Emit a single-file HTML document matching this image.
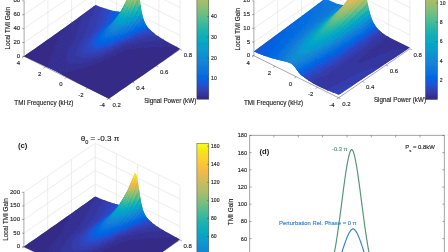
<!DOCTYPE html>
<html><head><meta charset="utf-8"><style>
html,body{margin:0;padding:0;background:#fff;overflow:hidden}
svg{display:block}
</style></head><body>
<svg width="448" height="252" viewBox="0 0 448 252" style="font-family:'Liberation Sans',Arial,Helvetica,sans-serif">
<defs><filter id="soft" x="0" y="0" width="100%" height="100%"><feGaussianBlur stdDeviation="0.35"/></filter></defs>
<rect width="448" height="252" fill="#fff"/>
<g filter="url(#soft)">
<line x1="24.1" y1="42.5" x2="95.4" y2="-6.6" stroke="#dedede" stroke-width="0.55"/>
<line x1="95.4" y1="-6.6" x2="180.1" y2="35.5" stroke="#dedede" stroke-width="0.55"/>
<line x1="24.1" y1="28.6" x2="95.4" y2="-20.5" stroke="#dedede" stroke-width="0.55"/>
<line x1="95.4" y1="-20.5" x2="180.1" y2="21.6" stroke="#dedede" stroke-width="0.55"/>
<line x1="24.1" y1="14.7" x2="95.4" y2="-34.4" stroke="#dedede" stroke-width="0.55"/>
<line x1="95.4" y1="-34.4" x2="180.1" y2="7.7" stroke="#dedede" stroke-width="0.55"/>
<line x1="24.1" y1="0.8" x2="95.4" y2="-48.3" stroke="#dedede" stroke-width="0.55"/>
<line x1="95.4" y1="-48.3" x2="180.1" y2="-6.2" stroke="#dedede" stroke-width="0.55"/>
<line x1="47.9" y1="40" x2="47.9" y2="-15.6" stroke="#dedede" stroke-width="0.55"/>
<line x1="71.6" y1="23.7" x2="71.6" y2="-32" stroke="#dedede" stroke-width="0.55"/>
<line x1="95.4" y1="7.3" x2="95.4" y2="-48.3" stroke="#dedede" stroke-width="0.55"/>
<line x1="116.6" y1="17.8" x2="116.6" y2="-37.8" stroke="#dedede" stroke-width="0.55"/>
<line x1="137.8" y1="28.4" x2="137.8" y2="-27.3" stroke="#dedede" stroke-width="0.55"/>
<line x1="158.9" y1="38.9" x2="158.9" y2="-16.8" stroke="#dedede" stroke-width="0.55"/>
<line x1="180.1" y1="49.4" x2="180.1" y2="-6.2" stroke="#dedede" stroke-width="0.55"/>
<path fill="#3637a0" d="M95.4 5.1 98 6 95.1 8.3 92.4 7.3Z"/>
<path fill="#353dad" d="M96.7 5.6 103.3 7.9 100.4 10.2 93.8 7.8Z"/>
<path fill="#3243ba" d="M102 7.5 107.3 9.1 104.3 11.5 99 9.8Z"/>
<path fill="#2c4ac7" d="M106 8.7 111.3 10.3 108.3 12.7 103 11.1Z"/>
<path fill="#2053d4" d="M110 9.9 115.3 11.2 112.3 13.8 107 12.3Z"/>
<path fill="#0f5cdd" d="M113.9 10.9 117.9 11.6 114.9 14.3 111 13.4Z"/>
<path fill="#0363e1" d="M116.6 11.4 119.2 11.8 116.3 14.5 113.6 14Z"/>
<path fill="#0268e1" d="M117.9 11.6 120.5 11.9 121.9 12 118.9 14.8 117.6 14.7 114.9 14.3Z"/>
<path fill="#046de0" d="M120.5 11.9 121.9 12 123.2 11.9 120.2 14.7 118.9 14.8 117.6 14.7Z"/>
<path fill="#0871de" d="M121.9 12 123.2 11.9 124.5 11.6 121.5 14.4 120.2 14.7 118.9 14.8Z"/>
<path fill="#0d75dc" d="M123.2 11.9 124.5 11.6 125.8 10.9 122.9 13.6 121.5 14.4 120.2 14.7Z"/>
<path fill="#1079da" d="M124.5 11.6 125.8 10.9 127.2 9.5 124.2 11.9 122.9 13.6 121.5 14.4Z"/>
<path fill="#1485d4" d="M125.8 10.9 127.2 9.5 128.5 6.7 125.5 9.1 124.2 11.9 122.9 13.6Z"/>
<path fill="#0c93d2" d="M127.2 9.5 128.5 6.7 129.8 2 126.8 4.9 125.5 9.1 124.2 11.9Z"/>
<path fill="#07a9c2" d="M128.5 6.7 129.8 2 131.1 -4.7 128.2 -0.5 126.8 4.9 125.5 9.1Z"/>
<path fill="#42bb98" d="M129.8 2 131.1 -4.7 132.5 -12.5 129.5 -6.1 126.8 4.9Z"/>
<path fill="#aebe67" d="M131.1 -4.7 132.5 -12.5 133.8 -19.3 130.8 -10.5 129.5 -6.1 128.2 -0.5Z"/>
<path fill="#f8bb44" d="M132.5 -12.5 133.8 -19.3 135.1 -22.7 132.1 -12.3 130.8 -10.5 129.5 -6.1Z"/>
<path fill="#f5de21" d="M133.8 -19.3 135.1 -22.7 136.4 -21.1 133.5 -10.4 132.1 -12.3 130.8 -10.5Z"/>
<path fill="#f5eb18" d="M135.1 -22.7 136.4 -21.1 137.8 -14.7 134.8 -5.2 133.5 -10.4 132.1 -12.3Z"/>
<path fill="#fad32a" d="M136.4 -21.1 137.8 -14.7 139.1 -5.7 136.1 2 134.8 -5.2 133.5 -10.4Z"/>
<path fill="#d9ba56" d="M137.8 -14.7 140.4 3.7 137.4 9.6 134.8 -5.2Z"/>
<path fill="#7cbf7b" d="M139.1 -5.7 140.4 3.7 141.7 11.7 138.7 16.2 137.4 9.6 136.1 2Z"/>
<path fill="#15b1b4" d="M140.4 3.7 141.7 11.7 143 17.5 140.1 21.4 138.7 16.2 137.4 9.6Z"/>
<path fill="#0998d1" d="M141.7 11.7 143 17.5 144.4 21.6 141.4 25 140.1 21.4 138.7 16.2Z"/>
<path fill="#127dd8" d="M143 17.5 144.4 21.6 145.7 24.3 142.7 27.6 141.4 25 140.1 21.4Z"/>
<path fill="#0871de" d="M144.4 21.6 145.7 24.3 147 26.3 144 29.5 142.7 27.6 141.4 25Z"/>
<path fill="#0268e1" d="M145.7 24.3 147 26.3 148.3 28 145.4 31 144 29.5 142.7 27.6Z"/>
<path fill="#0f5cdd" d="M147 26.3 148.3 28 149.7 29.4 146.7 32.3 145.4 31 144 29.5Z"/>
<path fill="#2053d4" d="M148.3 28 151 30.6 148 33.5 145.4 31Z"/>
<path fill="#2c4ac7" d="M149.7 29.4 151 30.6 153.6 32.9 150.7 35.5 148 33.5 146.7 32.3Z"/>
<path fill="#3243ba" d="M152.3 31.8 155 33.9 152 36.5 149.3 34.5Z"/>
<path fill="#353dad" d="M153.6 32.9 156.3 34.9 158.9 36.7 156 39.1 153.3 37.4 150.7 35.5Z"/>
<path fill="#3637a0" d="M157.6 35.8 160.2 37.6 164.2 40 161.2 42.3 157.3 40 154.6 38.3Z"/>
<path fill="#363093" d="M162.9 39.2 169.5 43 177.5 47.3 174.5 49.5 166.5 45.3 159.9 41.5Z"/>
<path fill="#352a87" d="M176.1 46.6 180.1 48.7 177.1 50.9 173.2 48.8Z"/>
<path fill="#3637a0" d="M93.9 6.2 96.6 7.2 93.6 9.4 90.9 8.4Z"/>
<path fill="#353dad" d="M95.2 6.7 103.2 9.5 100.2 11.8 92.3 8.9Z"/>
<path fill="#3243ba" d="M101.9 9.1 107.1 10.7 104.2 13.2 98.9 11.4Z"/>
<path fill="#2c4ac7" d="M105.8 10.3 111.1 11.8 108.1 14.3 102.9 12.7Z"/>
<path fill="#2053d4" d="M109.8 11.5 113.8 12.5 110.8 15 106.8 14Z"/>
<path fill="#0f5cdd" d="M112.4 12.2 116.4 13 113.4 15.6 109.5 14.7Z"/>
<path fill="#0363e1" d="M115.1 12.7 119.1 13.3 116.1 16.1 112.1 15.3Z"/>
<path fill="#0268e1" d="M117.7 13.2 120.4 13.4 121.7 13.3 118.7 16.1 117.4 16.2 114.8 15.9Z"/>
<path fill="#046de0" d="M120.4 13.4 121.7 13.3 123 13 120.1 15.7 118.7 16.1 117.4 16.2Z"/>
<path fill="#0871de" d="M121.7 13.3 123 13 124.4 12.3 121.4 14.8 120.1 15.7 118.7 16.1Z"/>
<path fill="#1079da" d="M123 13 124.4 12.3 125.7 10.7 122.7 13.1 121.4 14.8 120.1 15.7Z"/>
<path fill="#1481d6" d="M124.4 12.3 125.7 10.7 127 7.8 124 10.4 122.7 13.1 121.4 14.8Z"/>
<path fill="#0c93d2" d="M125.7 10.7 127 7.8 128.3 3.3 125.4 6.5 124 10.4 122.7 13.1Z"/>
<path fill="#07a9c2" d="M127 7.8 128.3 3.3 129.6 -2.7 126.7 1.8 125.4 6.5 124 10.4Z"/>
<path fill="#38b99e" d="M128.3 3.3 129.6 -2.7 131 -9.3 128 -2.9 125.4 6.5Z"/>
<path fill="#9cbf6f" d="M129.6 -2.7 131 -9.3 132.3 -14.8 129.3 -6.4 128 -2.9 126.7 1.8Z"/>
<path fill="#e1b952" d="M131 -9.3 132.3 -14.8 133.6 -17.3 130.6 -7.5 129.3 -6.4 128 -2.9Z"/>
<path fill="#ffc337" d="M132.3 -14.8 133.6 -17.3 134.9 -15.6 132 -5.7 130.6 -7.5 129.3 -6.4Z"/>
<path fill="#fec832" d="M133.6 -17.3 134.9 -15.6 136.3 -9.8 133.3 -0.9 132 -5.7 130.6 -7.5Z"/>
<path fill="#f1b94a" d="M134.9 -15.6 136.3 -9.8 137.6 -1.8 134.6 5.5 133.3 -0.9 132 -5.7Z"/>
<path fill="#b7bd64" d="M136.3 -9.8 138.9 6.6 135.9 12.4 133.3 -0.9Z"/>
<path fill="#4dbc92" d="M137.6 -1.8 138.9 6.6 140.2 14 137.3 18.5 135.9 12.4 134.6 5.5Z"/>
<path fill="#0aacbe" d="M138.9 6.6 140.2 14 141.6 19.5 138.6 23.2 137.3 18.5 135.9 12.4Z"/>
<path fill="#108ed2" d="M140.2 14 141.6 19.5 142.9 23.3 139.9 26.7 138.6 23.2 137.3 18.5Z"/>
<path fill="#1079da" d="M141.6 19.5 142.9 23.3 144.2 26 141.2 29.2 139.9 26.7 138.6 23.2Z"/>
<path fill="#046de0" d="M142.9 23.3 144.2 26 145.5 27.9 142.6 31 141.2 29.2 139.9 26.7Z"/>
<path fill="#0363e1" d="M144.2 26 145.5 27.9 146.9 29.5 143.9 32.5 142.6 31 141.2 29.2Z"/>
<path fill="#2053d4" d="M145.5 27.9 146.9 29.5 148.2 30.8 145.2 33.7 143.9 32.5 142.6 31Z"/>
<path fill="#2c4ac7" d="M146.9 29.5 148.2 30.8 150.8 33.2 147.9 35.8 145.2 33.7 143.9 32.5Z"/>
<path fill="#3243ba" d="M149.5 32.1 150.8 33.2 153.5 35.2 150.5 37.7 146.5 34.8Z"/>
<path fill="#353dad" d="M152.1 34.2 156.1 37.1 153.1 39.5 149.2 36.8Z"/>
<path fill="#3637a0" d="M154.8 36.2 157.4 37.9 161.4 40.4 158.4 42.7 154.5 40.3 151.8 38.6Z"/>
<path fill="#363093" d="M160.1 39.6 165.4 42.7 173.3 47 170.3 49.2 162.4 44.9 157.1 41.9Z"/>
<path fill="#352a87" d="M172 46.3 178.6 49.8 175.6 52 169 48.5Z"/>
<path fill="#3637a0" d="M92.4 7.3 96.4 8.8 93.4 11.1 89.5 9.5Z"/>
<path fill="#353dad" d="M95.1 8.3 101.7 10.7 98.7 13 92.1 10.6Z"/>
<path fill="#3243ba" d="M100.4 10.2 107 12.3 104 14.8 97.4 12.5Z"/>
<path fill="#2c4ac7" d="M105.7 12 111 13.4 108 15.9 102.7 14.3Z"/>
<path fill="#2053d4" d="M109.6 13.1 113.6 14 110.6 16.6 106.7 15.6Z"/>
<path fill="#0f5cdd" d="M112.3 13.8 116.3 14.5 113.3 17.2 109.3 16.3Z"/>
<path fill="#0363e1" d="M114.9 14.3 117.6 14.7 118.9 14.8 115.9 17.5 114.6 17.4 112 16.9Z"/>
<path fill="#0268e1" d="M117.6 14.7 118.9 14.8 120.2 14.7 117.3 17.4 115.9 17.5 114.6 17.4Z"/>
<path fill="#046de0" d="M118.9 14.8 120.2 14.7 121.5 14.4 118.6 17 117.3 17.4 115.9 17.5Z"/>
<path fill="#0871de" d="M120.2 14.7 121.5 14.4 122.9 13.6 119.9 16.1 118.6 17 117.3 17.4Z"/>
<path fill="#1079da" d="M121.5 14.4 122.9 13.6 124.2 11.9 121.2 14.4 119.9 16.1 118.6 17Z"/>
<path fill="#1481d6" d="M122.9 13.6 124.2 11.9 125.5 9.1 122.5 11.8 121.2 14.4 119.9 16.1Z"/>
<path fill="#0c93d2" d="M124.2 11.9 125.5 9.1 126.8 4.9 123.9 8.3 122.5 11.8 121.2 14.4Z"/>
<path fill="#06a7c6" d="M125.5 9.1 126.8 4.9 128.2 -0.5 125.2 4.2 123.9 8.3 122.5 11.8Z"/>
<path fill="#2eb7a4" d="M126.8 4.9 129.5 -6.1 126.5 0.3 123.9 8.3Z"/>
<path fill="#7cbf7b" d="M128.2 -0.5 129.5 -6.1 130.8 -10.5 127.8 -2.4 126.5 0.3 125.2 4.2Z"/>
<path fill="#c0bc60" d="M129.5 -6.1 130.8 -10.5 132.1 -12.3 129.2 -3.2 127.8 -2.4 126.5 0.3Z"/>
<path fill="#e9b94e" d="M130.8 -10.5 132.1 -12.3 133.5 -10.4 134.8 -5.2 131.8 3.1 130.5 -1.3 129.2 -3.2 127.8 -2.4Z"/>
<path fill="#d1bb59" d="M133.5 -10.4 134.8 -5.2 136.1 2 133.1 8.9 131.8 3.1 130.5 -1.3Z"/>
<path fill="#92bf73" d="M134.8 -5.2 137.4 9.6 134.5 15.1 131.8 3.1Z"/>
<path fill="#38b99e" d="M136.1 2 137.4 9.6 138.7 16.2 135.8 20.7 134.5 15.1 133.1 8.9Z"/>
<path fill="#06a7c6" d="M137.4 9.6 138.7 16.2 140.1 21.4 137.1 25.1 135.8 20.7 134.5 15.1Z"/>
<path fill="#1389d3" d="M138.7 16.2 140.1 21.4 141.4 25 138.4 28.4 137.1 25.1 135.8 20.7Z"/>
<path fill="#0d75dc" d="M140.1 21.4 141.4 25 142.7 27.6 139.7 30.7 138.4 28.4 137.1 25.1Z"/>
<path fill="#0268e1" d="M141.4 25 142.7 27.6 144 29.5 141.1 32.5 139.7 30.7 138.4 28.4Z"/>
<path fill="#0f5cdd" d="M142.7 27.6 144 29.5 145.4 31 142.4 33.9 141.1 32.5 139.7 30.7Z"/>
<path fill="#2053d4" d="M144 29.5 145.4 31 146.7 32.3 143.7 35.1 142.4 33.9 141.1 32.5Z"/>
<path fill="#2c4ac7" d="M145.4 31 148 33.5 145 36.1 142.4 33.9Z"/>
<path fill="#3243ba" d="M146.7 32.3 148 33.5 150.7 35.5 147.7 38.1 145 36.1 143.7 35.1Z"/>
<path fill="#353dad" d="M149.3 34.5 153.3 37.4 150.3 39.9 146.4 37.1Z"/>
<path fill="#3637a0" d="M152 36.5 154.6 38.3 158.6 40.8 155.6 43.1 151.7 40.7 149 39Z"/>
<path fill="#363093" d="M157.3 40 162.6 43.1 170.5 47.4 167.5 49.6 159.6 45.3 154.3 42.3Z"/>
<path fill="#352a87" d="M169.2 46.7 177.1 50.9 174.2 53 166.2 48.9Z"/>
<path fill="#3637a0" d="M90.9 8.4 96.2 10.4 93.3 12.7 88 10.6Z"/>
<path fill="#353dad" d="M94.9 9.9 101.5 12.3 98.6 14.6 91.9 12.2Z"/>
<path fill="#3243ba" d="M100.2 11.8 105.5 13.6 102.5 16 97.2 14.2Z"/>
<path fill="#2c4ac7" d="M104.2 13.2 109.5 14.7 106.5 17.2 101.2 15.5Z"/>
<path fill="#2053d4" d="M108.1 14.3 113.4 15.6 110.5 18.2 105.2 16.8Z"/>
<path fill="#0f5cdd" d="M112.1 15.3 116.1 16.1 113.1 18.7 111.8 18.5 109.1 17.9Z"/>
<path fill="#0363e1" d="M114.8 15.9 117.4 16.2 114.4 18.8 113.1 18.7 111.8 18.5Z"/>
<path fill="#0268e1" d="M116.1 16.1 117.4 16.2 118.7 16.1 120.1 15.7 117.1 18.3 115.8 18.7 114.4 18.8 113.1 18.7Z"/>
<path fill="#0871de" d="M118.7 16.1 120.1 15.7 121.4 14.8 118.4 17.3 117.1 18.3 115.8 18.7Z"/>
<path fill="#0d75dc" d="M120.1 15.7 121.4 14.8 122.7 13.1 119.7 15.7 118.4 17.3 117.1 18.3Z"/>
<path fill="#1481d6" d="M121.4 14.8 122.7 13.1 124 10.4 121.1 13.2 119.7 15.7 118.4 17.3Z"/>
<path fill="#0c93d2" d="M122.7 13.1 124 10.4 125.4 6.5 122.4 10.1 121.1 13.2 119.7 15.7Z"/>
<path fill="#06a7c6" d="M124 10.4 125.4 6.5 126.7 1.8 123.7 6.6 122.4 10.1 121.1 13.2Z"/>
<path fill="#25b5a9" d="M125.4 6.5 128 -2.9 125 3.4 123.7 6.6 122.4 10.1Z"/>
<path fill="#65be86" d="M126.7 1.8 128 -2.9 129.3 -6.4 126.4 1.3 125 3.4 123.7 6.6Z"/>
<path fill="#a5be6b" d="M128 -2.9 129.3 -6.4 130.6 -7.5 127.7 0.9 126.4 1.3 125 3.4Z"/>
<path fill="#c0bc60" d="M129.3 -6.4 130.6 -7.5 132 -5.7 129 2.8 127.7 0.9 126.4 1.3Z"/>
<path fill="#c8bc5d" d="M130.6 -7.5 132 -5.7 133.3 -0.9 130.3 6.9 129 2.8 127.7 0.9Z"/>
<path fill="#a5be6b" d="M132 -5.7 133.3 -0.9 134.6 5.5 131.6 12.1 130.3 6.9 129 2.8Z"/>
<path fill="#65be86" d="M133.3 -0.9 135.9 12.4 133 17.7 130.3 6.9Z"/>
<path fill="#1db3af" d="M134.6 5.5 135.9 12.4 137.3 18.5 134.3 22.8 133 17.7 131.6 12.1Z"/>
<path fill="#06a0cd" d="M135.9 12.4 137.3 18.5 138.6 23.2 135.6 26.9 134.3 22.8 133 17.7Z"/>
<path fill="#1485d4" d="M137.3 18.5 138.6 23.2 139.9 26.7 136.9 30 135.6 26.9 134.3 22.8Z"/>
<path fill="#0871de" d="M138.6 23.2 139.9 26.7 141.2 29.2 138.3 32.2 136.9 30 135.6 26.9Z"/>
<path fill="#0363e1" d="M139.9 26.7 141.2 29.2 142.6 31 139.6 33.9 138.3 32.2 136.9 30Z"/>
<path fill="#0f5cdd" d="M141.2 29.2 142.6 31 143.9 32.5 140.9 35.3 139.6 33.9 138.3 32.2Z"/>
<path fill="#2c4ac7" d="M142.6 31 143.9 32.5 145.2 33.7 142.2 36.4 140.9 35.3 139.6 33.9Z"/>
<path fill="#3243ba" d="M143.9 32.5 145.2 33.7 147.9 35.8 144.9 38.4 142.2 36.4 140.9 35.3Z"/>
<path fill="#353dad" d="M146.5 34.8 150.5 37.7 147.5 40.2 143.6 37.4Z"/>
<path fill="#3637a0" d="M149.2 36.8 151.8 38.6 155.8 41.1 152.8 43.4 148.9 41.1 146.2 39.3Z"/>
<path fill="#363093" d="M154.5 40.3 159.8 43.4 166.4 47.1 163.4 49.3 156.8 45.7 151.5 42.7Z"/>
<path fill="#352a87" d="M165.1 46.4 175.6 52 172.7 54.1 162.1 48.6Z"/>
<path fill="#3637a0" d="M89.5 9.5 94.8 11.6 91.8 13.8 86.5 11.7Z"/>
<path fill="#353dad" d="M93.4 11.1 101.4 13.9 98.4 16.3 90.5 13.3Z"/>
<path fill="#3243ba" d="M100 13.5 105.3 15.2 102.4 17.6 97.1 15.8Z"/>
<path fill="#2c4ac7" d="M104 14.8 109.3 16.3 106.3 18.8 101 17.2Z"/>
<path fill="#2053d4" d="M108 15.9 110.6 16.6 113.3 17.2 110.3 19.8 107.7 19.2 105 18.4Z"/>
<path fill="#0f5cdd" d="M112 16.9 114.6 17.4 115.9 17.5 113 20.1 111.6 20 109 19.5Z"/>
<path fill="#0363e1" d="M114.6 17.4 115.9 17.5 117.3 17.4 114.3 20 113 20.1 111.6 20Z"/>
<path fill="#0268e1" d="M115.9 17.5 117.3 17.4 118.6 17 115.6 19.5 114.3 20 113 20.1Z"/>
<path fill="#046de0" d="M117.3 17.4 118.6 17 119.9 16.1 116.9 18.6 115.6 19.5 114.3 20Z"/>
<path fill="#0d75dc" d="M118.6 17 119.9 16.1 121.2 14.4 118.2 17 116.9 18.6 115.6 19.5Z"/>
<path fill="#1481d6" d="M119.9 16.1 121.2 14.4 122.5 11.8 119.6 14.8 118.2 17 116.9 18.6Z"/>
<path fill="#108ed2" d="M121.2 14.4 122.5 11.8 123.9 8.3 120.9 12 119.6 14.8 118.2 17Z"/>
<path fill="#06a4ca" d="M122.5 11.8 123.9 8.3 125.2 4.2 122.2 9.1 119.6 14.8Z"/>
<path fill="#15b1b4" d="M123.9 8.3 126.5 0.3 123.5 6.5 122.2 9.1 120.9 12Z"/>
<path fill="#4dbc92" d="M125.2 4.2 126.5 0.3 127.8 -2.4 124.9 4.9 123.5 6.5 122.2 9.1Z"/>
<path fill="#87bf77" d="M126.5 0.3 127.8 -2.4 129.2 -3.2 126.2 4.8 124.9 4.9 123.5 6.5Z"/>
<path fill="#9cbf6f" d="M127.8 -2.4 129.2 -3.2 130.5 -1.3 131.8 3.1 128.8 10.4 127.5 6.6 126.2 4.8 124.9 4.9Z"/>
<path fill="#7cbf7b" d="M130.5 -1.3 131.8 3.1 133.1 8.9 130.2 15.2 128.8 10.4 127.5 6.6Z"/>
<path fill="#42bb98" d="M131.8 3.1 134.5 15.1 131.5 20.3 128.8 10.4Z"/>
<path fill="#0aacbe" d="M133.1 8.9 134.5 15.1 135.8 20.7 132.8 24.9 131.5 20.3 130.2 15.2Z"/>
<path fill="#0998d1" d="M134.5 15.1 135.8 20.7 137.1 25.1 134.1 28.7 132.8 24.9 131.5 20.3Z"/>
<path fill="#127dd8" d="M135.8 20.7 137.1 25.1 138.4 28.4 135.5 31.6 134.1 28.7 132.8 24.9Z"/>
<path fill="#046de0" d="M137.1 25.1 138.4 28.4 139.7 30.7 136.8 33.7 135.5 31.6 134.1 28.7Z"/>
<path fill="#0363e1" d="M138.4 28.4 139.7 30.7 141.1 32.5 138.1 35.3 136.8 33.7 135.5 31.6Z"/>
<path fill="#2053d4" d="M139.7 30.7 141.1 32.5 142.4 33.9 139.4 36.6 138.1 35.3 136.8 33.7Z"/>
<path fill="#2c4ac7" d="M141.1 32.5 142.4 33.9 143.7 35.1 140.7 37.7 139.4 36.6 138.1 35.3Z"/>
<path fill="#3243ba" d="M142.4 33.9 145 36.1 142.1 38.7 139.4 36.6Z"/>
<path fill="#353dad" d="M143.7 35.1 145 36.1 147.7 38.1 144.7 40.6 140.7 37.7Z"/>
<path fill="#3637a0" d="M146.4 37.1 149 39 153 41.5 150 43.8 146 41.4 143.4 39.7Z"/>
<path fill="#363093" d="M151.7 40.7 157 43.8 163.6 47.5 160.6 49.7 154 46.1 148.7 43Z"/>
<path fill="#352a87" d="M162.2 46.8 174.2 53 171.2 55.2 159.3 49Z"/>
<path fill="#3637a0" d="M88 10.6 94.6 13.2 91.6 15.5 85 12.8Z"/>
<path fill="#353dad" d="M93.3 12.7 99.9 15.1 96.9 17.4 90.3 14.9Z"/>
<path fill="#3243ba" d="M98.6 14.6 105.2 16.8 102.2 19.2 95.6 16.9Z"/>
<path fill="#2c4ac7" d="M103.9 16.4 109.1 17.9 106.2 20.4 100.9 18.8Z"/>
<path fill="#2053d4" d="M107.8 17.5 111.8 18.5 108.8 21.1 104.9 20Z"/>
<path fill="#0f5cdd" d="M110.5 18.2 113.1 18.7 114.4 18.8 111.5 21.4 110.1 21.3 107.5 20.8Z"/>
<path fill="#0363e1" d="M113.1 18.7 114.4 18.8 115.8 18.7 112.8 21.2 111.5 21.4 110.1 21.3Z"/>
<path fill="#0268e1" d="M114.4 18.8 115.8 18.7 117.1 18.3 114.1 20.7 112.8 21.2 111.5 21.4Z"/>
<path fill="#046de0" d="M115.8 18.7 117.1 18.3 118.4 17.3 115.4 19.8 114.1 20.7 112.8 21.2Z"/>
<path fill="#0d75dc" d="M117.1 18.3 118.4 17.3 119.7 15.7 116.8 18.4 115.4 19.8 114.1 20.7Z"/>
<path fill="#127dd8" d="M118.4 17.3 119.7 15.7 121.1 13.2 118.1 16.3 116.8 18.4 115.4 19.8Z"/>
<path fill="#108ed2" d="M119.7 15.7 121.1 13.2 122.4 10.1 119.4 14 118.1 16.3 116.8 18.4Z"/>
<path fill="#06a0cd" d="M121.1 13.2 122.4 10.1 123.7 6.6 120.7 11.5 118.1 16.3Z"/>
<path fill="#0faeb9" d="M122.4 10.1 123.7 6.6 125 3.4 122.1 9.4 120.7 11.5 119.4 14Z"/>
<path fill="#38b99e" d="M123.7 6.6 125 3.4 126.4 1.3 123.4 8.2 122.1 9.4 120.7 11.5Z"/>
<path fill="#65be86" d="M125 3.4 126.4 1.3 127.7 0.9 124.7 8.4 123.4 8.2 122.1 9.4Z"/>
<path fill="#7cbf7b" d="M126.4 1.3 127.7 0.9 129 2.8 130.3 6.9 127.4 13.7 126 10.2 124.7 8.4 123.4 8.2Z"/>
<path fill="#59bd8c" d="M129 2.8 130.3 6.9 131.6 12.1 128.7 18 127.4 13.7 126 10.2Z"/>
<path fill="#25b5a9" d="M130.3 6.9 133 17.7 130 22.7 127.4 13.7Z"/>
<path fill="#06a7c6" d="M131.6 12.1 133 17.7 134.3 22.8 131.3 27 130 22.7 128.7 18Z"/>
<path fill="#108ed2" d="M133 17.7 134.3 22.8 135.6 26.9 132.6 30.5 131.3 27 130 22.7Z"/>
<path fill="#1079da" d="M134.3 22.8 135.6 26.9 136.9 30 134 33.1 132.6 30.5 131.3 27Z"/>
<path fill="#0268e1" d="M135.6 26.9 136.9 30 138.3 32.2 135.3 35.1 134 33.1 132.6 30.5Z"/>
<path fill="#0f5cdd" d="M136.9 30 138.3 32.2 139.6 33.9 136.6 36.7 135.3 35.1 134 33.1Z"/>
<path fill="#2c4ac7" d="M138.3 32.2 139.6 33.9 140.9 35.3 137.9 37.9 136.6 36.7 135.3 35.1Z"/>
<path fill="#3243ba" d="M139.6 33.9 140.9 35.3 143.6 37.4 140.6 40 137.9 37.9 136.6 36.7Z"/>
<path fill="#353dad" d="M142.2 36.4 143.6 37.4 146.2 39.3 143.2 41.8 139.3 39Z"/>
<path fill="#3637a0" d="M144.9 38.4 147.5 40.2 150.2 41.9 147.2 44.2 141.9 40.9Z"/>
<path fill="#363093" d="M148.9 41.1 154.1 44.2 160.8 47.9 157.8 50.1 151.2 46.5 145.9 43.4Z"/>
<path fill="#352a87" d="M159.4 47.2 172.7 54.1 169.7 56.2 156.5 49.3Z"/>
<path fill="#3637a0" d="M86.5 11.7 94.4 14.8 91.5 17.1 83.5 13.9Z"/>
<path fill="#353dad" d="M93.1 14.3 99.7 16.7 96.8 19.1 90.1 16.6Z"/>
<path fill="#3243ba" d="M98.4 16.3 105 18.4 102 20.8 95.4 18.6Z"/>
<path fill="#2c4ac7" d="M103.7 18 109 19.5 106 22 100.7 20.4Z"/>
<path fill="#2053d4" d="M107.7 19.2 110.3 19.8 111.6 20 108.7 22.5 107.3 22.3 104.7 21.6Z"/>
<path fill="#0f5cdd" d="M110.3 19.8 111.6 20 113 20.1 114.3 20 111.3 22.4 110 22.6 108.7 22.5 107.3 22.3Z"/>
<path fill="#0363e1" d="M113 20.1 114.3 20 115.6 19.5 112.6 22 111.3 22.4 110 22.6Z"/>
<path fill="#046de0" d="M114.3 20 115.6 19.5 116.9 18.6 114 21.1 112.6 22 111.3 22.4Z"/>
<path fill="#0871de" d="M115.6 19.5 116.9 18.6 118.2 17 115.3 19.7 114 21.1 112.6 22Z"/>
<path fill="#127dd8" d="M116.9 18.6 118.2 17 119.6 14.8 116.6 18 115.3 19.7 114 21.1Z"/>
<path fill="#1389d3" d="M118.2 17 119.6 14.8 120.9 12 117.9 15.9 116.6 18 115.3 19.7Z"/>
<path fill="#079ccf" d="M119.6 14.8 122.2 9.1 119.2 13.9 116.6 18Z"/>
<path fill="#07a9c2" d="M120.9 12 122.2 9.1 123.5 6.5 120.6 12.2 119.2 13.9 117.9 15.9Z"/>
<path fill="#1db3af" d="M122.2 9.1 123.5 6.5 124.9 4.9 121.9 11.4 120.6 12.2 119.2 13.9Z"/>
<path fill="#42bb98" d="M123.5 6.5 124.9 4.9 126.2 4.8 123.2 11.7 121.9 11.4 120.6 12.2Z"/>
<path fill="#4dbc92" d="M124.9 4.9 126.2 4.8 127.5 6.6 128.8 10.4 125.9 16.7 124.5 13.5 123.2 11.7 121.9 11.4Z"/>
<path fill="#2eb7a4" d="M127.5 6.6 128.8 10.4 130.2 15.2 127.2 20.8 125.9 16.7 124.5 13.5Z"/>
<path fill="#0faeb9" d="M128.8 10.4 131.5 20.3 128.5 25 125.9 16.7Z"/>
<path fill="#06a0cd" d="M130.2 15.2 131.5 20.3 132.8 24.9 129.8 28.9 128.5 25 127.2 20.8Z"/>
<path fill="#1485d4" d="M131.5 20.3 132.8 24.9 134.1 28.7 131.2 32.2 129.8 28.9 128.5 25Z"/>
<path fill="#0d75dc" d="M132.8 24.9 134.1 28.7 135.5 31.6 132.5 34.7 131.2 32.2 129.8 28.9Z"/>
<path fill="#0268e1" d="M134.1 28.7 135.5 31.6 136.8 33.7 133.8 36.6 132.5 34.7 131.2 32.2Z"/>
<path fill="#2053d4" d="M135.5 31.6 136.8 33.7 138.1 35.3 135.1 38 133.8 36.6 132.5 34.7Z"/>
<path fill="#2c4ac7" d="M136.8 33.7 138.1 35.3 139.4 36.6 136.5 39.2 135.1 38 133.8 36.6Z"/>
<path fill="#3243ba" d="M138.1 35.3 139.4 36.6 140.7 37.7 137.8 40.3 136.5 39.2 135.1 38Z"/>
<path fill="#353dad" d="M139.4 36.6 140.7 37.7 143.4 39.7 140.4 42.1 137.8 40.3 136.5 39.2Z"/>
<path fill="#3637a0" d="M142.1 38.7 144.7 40.6 147.4 42.2 144.4 44.6 141.7 43 139.1 41.2Z"/>
<path fill="#363093" d="M146 41.4 151.3 44.6 156.6 47.5 153.7 49.7 148.4 46.8 143.1 43.8Z"/>
<path fill="#352a87" d="M155.3 46.8 161.9 50.4 171.2 55.2 168.2 57.3 152.3 49Z"/>
<path fill="#3637a0" d="M85 12.8 92.9 16 90 18.2 82 15Z"/>
<path fill="#353dad" d="M91.6 15.5 99.6 18.3 96.6 20.7 88.6 17.7Z"/>
<path fill="#3243ba" d="M98.2 17.9 104.9 20 101.9 22.5 95.3 20.2Z"/>
<path fill="#2c4ac7" d="M103.5 19.6 107.5 20.8 104.5 23.2 100.6 22Z"/>
<path fill="#2053d4" d="M106.2 20.4 108.8 21.1 110.1 21.3 111.5 21.4 108.5 23.8 107.2 23.8 105.9 23.5 103.2 22.9Z"/>
<path fill="#0f5cdd" d="M110.1 21.3 111.5 21.4 112.8 21.2 109.8 23.7 108.5 23.8 107.2 23.8Z"/>
<path fill="#0363e1" d="M111.5 21.4 112.8 21.2 114.1 20.7 111.1 23.2 109.8 23.7 108.5 23.8Z"/>
<path fill="#0268e1" d="M112.8 21.2 114.1 20.7 115.4 19.8 112.5 22.4 111.1 23.2 109.8 23.7Z"/>
<path fill="#0871de" d="M114.1 20.7 115.4 19.8 116.8 18.4 113.8 21.2 112.5 22.4 111.1 23.2Z"/>
<path fill="#1079da" d="M115.4 19.8 116.8 18.4 118.1 16.3 115.1 19.6 113.8 21.2 112.5 22.4Z"/>
<path fill="#1485d4" d="M116.8 18.4 118.1 16.3 119.4 14 116.4 17.9 115.1 19.6 113.8 21.2Z"/>
<path fill="#0998d1" d="M118.1 16.3 120.7 11.5 117.8 16.2 115.1 19.6Z"/>
<path fill="#06a7c6" d="M119.4 14 120.7 11.5 122.1 9.4 119.1 14.9 117.8 16.2 116.4 17.9Z"/>
<path fill="#0faeb9" d="M120.7 11.5 122.1 9.4 123.4 8.2 120.4 14.4 119.1 14.9 117.8 16.2Z"/>
<path fill="#25b5a9" d="M122.1 9.4 123.4 8.2 124.7 8.4 121.7 14.8 120.4 14.4 119.1 14.9Z"/>
<path fill="#2eb7a4" d="M123.4 8.2 124.7 8.4 126 10.2 127.4 13.7 124.4 19.6 123.1 16.6 121.7 14.8 120.4 14.4Z"/>
<path fill="#15b1b4" d="M126 10.2 127.4 13.7 128.7 18 125.7 23.3 124.4 19.6 123.1 16.6Z"/>
<path fill="#06a7c6" d="M127.4 13.7 130 22.7 127 27.3 124.4 19.6Z"/>
<path fill="#0998d1" d="M128.7 18 130 22.7 131.3 27 128.4 30.9 127 27.3 125.7 23.3Z"/>
<path fill="#1481d6" d="M130 22.7 131.3 27 132.6 30.5 129.7 33.8 128.4 30.9 127 27.3Z"/>
<path fill="#0871de" d="M131.3 27 132.6 30.5 134 33.1 131 36.2 129.7 33.8 128.4 30.9Z"/>
<path fill="#0363e1" d="M132.6 30.5 134 33.1 135.3 35.1 132.3 38 131 36.2 129.7 33.8Z"/>
<path fill="#2053d4" d="M134 33.1 135.3 35.1 136.6 36.7 133.6 39.4 132.3 38 131 36.2Z"/>
<path fill="#3243ba" d="M135.3 35.1 136.6 36.7 137.9 37.9 135 40.5 133.6 39.4 132.3 38Z"/>
<path fill="#353dad" d="M136.6 36.7 137.9 37.9 140.6 40 137.6 42.4 135 40.5 133.6 39.4Z"/>
<path fill="#3637a0" d="M139.3 39 141.9 40.9 144.6 42.6 141.6 44.9 138.9 43.3 136.3 41.5Z"/>
<path fill="#363093" d="M143.2 41.8 148.5 45 153.8 47.9 150.9 50.1 145.6 47.2 140.3 44.1Z"/>
<path fill="#352a87" d="M152.5 47.2 160.4 51.4 169.7 56.2 166.7 58.3 157.5 53.6 149.5 49.4Z"/>
<path fill="#3637a0" d="M83.5 13.9 92.8 17.6 89.8 19.9 80.5 16.1Z"/>
<path fill="#353dad" d="M91.5 17.1 99.4 20 96.4 22.3 88.5 19.4Z"/>
<path fill="#3243ba" d="M98.1 19.5 103.4 21.3 100.4 23.7 95.1 21.9Z"/>
<path fill="#2c4ac7" d="M102 20.8 104.7 21.6 107.3 22.3 104.4 24.8 101.7 24.1 99.1 23.2Z"/>
<path fill="#2053d4" d="M106 22 108.7 22.5 110 22.6 107 25 105.7 25 103 24.5Z"/>
<path fill="#0f5cdd" d="M108.7 22.5 110 22.6 111.3 22.4 108.3 24.9 107 25 105.7 25Z"/>
<path fill="#0363e1" d="M110 22.6 111.3 22.4 112.6 22 109.7 24.4 108.3 24.9 107 25Z"/>
<path fill="#0268e1" d="M111.3 22.4 112.6 22 114 21.1 111 23.7 109.7 24.4 108.3 24.9Z"/>
<path fill="#0871de" d="M112.6 22 114 21.1 115.3 19.7 112.3 22.6 111 23.7 109.7 24.4Z"/>
<path fill="#1079da" d="M114 21.1 115.3 19.7 116.6 18 113.6 21.3 112.3 22.6 111 23.7Z"/>
<path fill="#1485d4" d="M115.3 19.7 116.6 18 117.9 15.9 115 19.8 112.3 22.6Z"/>
<path fill="#0c93d2" d="M116.6 18 119.2 13.9 116.3 18.5 113.6 21.3Z"/>
<path fill="#06a0cd" d="M117.9 15.9 119.2 13.9 120.6 12.2 117.6 17.6 116.3 18.5 115 19.8Z"/>
<path fill="#07a9c2" d="M119.2 13.9 120.6 12.2 121.9 11.4 118.9 17.3 117.6 17.6 116.3 18.5Z"/>
<path fill="#15b1b4" d="M120.6 12.2 121.9 11.4 123.2 11.7 120.2 17.8 118.9 17.3 117.6 17.6Z"/>
<path fill="#1db3af" d="M121.9 11.4 123.2 11.7 124.5 13.5 121.6 19.5 120.2 17.8 118.9 17.3Z"/>
<path fill="#15b1b4" d="M123.2 11.7 124.5 13.5 125.9 16.7 122.9 22.4 121.6 19.5 120.2 17.8Z"/>
<path fill="#0aacbe" d="M124.5 13.5 125.9 16.7 127.2 20.8 124.2 25.8 122.9 22.4 121.6 19.5Z"/>
<path fill="#06a0cd" d="M125.9 16.7 128.5 25 125.5 29.4 122.9 22.4Z"/>
<path fill="#108ed2" d="M127.2 20.8 128.5 25 129.8 28.9 126.9 32.7 125.5 29.4 124.2 25.8Z"/>
<path fill="#1079da" d="M128.5 25 129.8 28.9 131.2 32.2 128.2 35.5 126.9 32.7 125.5 29.4Z"/>
<path fill="#046de0" d="M129.8 28.9 131.2 32.2 132.5 34.7 129.5 37.7 128.2 35.5 126.9 32.7Z"/>
<path fill="#0f5cdd" d="M131.2 32.2 132.5 34.7 133.8 36.6 130.8 39.3 129.5 37.7 128.2 35.5Z"/>
<path fill="#2c4ac7" d="M132.5 34.7 133.8 36.6 135.1 38 132.2 40.7 130.8 39.3 129.5 37.7Z"/>
<path fill="#3243ba" d="M133.8 36.6 135.1 38 136.5 39.2 133.5 41.8 132.2 40.7 130.8 39.3Z"/>
<path fill="#353dad" d="M135.1 38 136.5 39.2 137.8 40.3 134.8 42.8 133.5 41.8 132.2 40.7Z"/>
<path fill="#3637a0" d="M136.5 39.2 139.1 41.2 141.7 43 138.8 45.3 136.1 43.6 133.5 41.8Z"/>
<path fill="#363093" d="M140.4 42.1 145.7 45.3 151 48.3 148 50.5 141.4 46.9 137.5 44.5Z"/>
<path fill="#352a87" d="M149.7 47.6 157.6 51.8 168.2 57.3 165.2 59.4 154.7 54 146.7 49.8Z"/>
<path fill="#363093" d="M82 15 84.7 16.1 81.7 18.3 79.1 17.2Z"/>
<path fill="#3637a0" d="M83.4 15.6 92.6 19.2 89.6 21.5 80.4 17.8Z"/>
<path fill="#353dad" d="M91.3 18.7 97.9 21.2 94.9 23.5 88.3 21Z"/>
<path fill="#3243ba" d="M96.6 20.7 103.2 22.9 100.2 25.3 97.6 24.4 93.6 23Z"/>
<path fill="#2c4ac7" d="M101.9 22.5 104.5 23.2 107.2 23.8 104.2 26.2 101.6 25.7 98.9 24.9Z"/>
<path fill="#2053d4" d="M105.9 23.5 107.2 23.8 108.5 23.8 105.5 26.2 104.2 26.2 102.9 26Z"/>
<path fill="#0f5cdd" d="M107.2 23.8 108.5 23.8 109.8 23.7 106.9 26.1 105.5 26.2 104.2 26.2Z"/>
<path fill="#0363e1" d="M108.5 23.8 109.8 23.7 111.1 23.2 108.2 25.7 106.9 26.1 105.5 26.2Z"/>
<path fill="#0268e1" d="M109.8 23.7 111.1 23.2 112.5 22.4 109.5 25 108.2 25.7 106.9 26.1Z"/>
<path fill="#046de0" d="M111.1 23.2 112.5 22.4 113.8 21.2 110.8 24.1 109.5 25 108.2 25.7Z"/>
<path fill="#1079da" d="M112.5 22.4 113.8 21.2 115.1 19.6 112.1 23 110.8 24.1 109.5 25Z"/>
<path fill="#1481d6" d="M113.8 21.2 115.1 19.6 116.4 17.9 113.5 21.8 110.8 24.1Z"/>
<path fill="#108ed2" d="M115.1 19.6 117.8 16.2 114.8 20.7 113.5 21.8 112.1 23Z"/>
<path fill="#079ccf" d="M116.4 17.9 117.8 16.2 119.1 14.9 116.1 20.1 114.8 20.7 113.5 21.8Z"/>
<path fill="#06a4ca" d="M117.8 16.2 119.1 14.9 120.4 14.4 117.4 19.9 116.1 20.1 114.8 20.7Z"/>
<path fill="#07a9c2" d="M119.1 14.9 120.4 14.4 121.7 14.8 118.8 20.6 117.4 19.9 116.1 20.1Z"/>
<path fill="#0aacbe" d="M120.4 14.4 121.7 14.8 123.1 16.6 120.1 22.3 118.8 20.6 117.4 19.9Z"/>
<path fill="#07a9c2" d="M121.7 14.8 123.1 16.6 124.4 19.6 121.4 25 120.1 22.3 118.8 20.6Z"/>
<path fill="#06a4ca" d="M123.1 16.6 124.4 19.6 125.7 23.3 122.7 28.1 121.4 25 120.1 22.3Z"/>
<path fill="#0998d1" d="M124.4 19.6 127 27.3 124.1 31.5 121.4 25Z"/>
<path fill="#1485d4" d="M125.7 23.3 127 27.3 128.4 30.9 125.4 34.5 124.1 31.5 122.7 28.1Z"/>
<path fill="#0d75dc" d="M127 27.3 128.4 30.9 129.7 33.8 126.7 37.1 125.4 34.5 124.1 31.5Z"/>
<path fill="#0268e1" d="M128.4 30.9 129.7 33.8 131 36.2 128 39.1 126.7 37.1 125.4 34.5Z"/>
<path fill="#2053d4" d="M129.7 33.8 131 36.2 132.3 38 129.4 40.7 128 39.1 126.7 37.1Z"/>
<path fill="#2c4ac7" d="M131 36.2 132.3 38 133.6 39.4 130.7 42 129.4 40.7 128 39.1Z"/>
<path fill="#353dad" d="M132.3 38 133.6 39.4 135 40.5 136.3 41.5 133.3 44 130.7 42 129.4 40.7Z"/>
<path fill="#3637a0" d="M135 40.5 136.3 41.5 138.9 43.3 136 45.7 133.3 44 132 43Z"/>
<path fill="#363093" d="M137.6 42.4 141.6 44.9 148.2 48.7 145.2 50.9 138.6 47.2 134.6 44.8Z"/>
<path fill="#352a87" d="M146.9 48 154.8 52.2 166.7 58.3 163.8 60.4 151.8 54.4 143.9 50.2Z"/>
<path fill="#363093" d="M80.5 16.1 83.2 17.2 80.2 19.4 77.6 18.3Z"/>
<path fill="#3637a0" d="M81.9 16.7 87.2 18.8 92.5 20.9 89.5 23.2 78.9 18.8Z"/>
<path fill="#353dad" d="M91.1 20.4 97.8 22.8 94.8 25.1 88.2 22.6Z"/>
<path fill="#3243ba" d="M96.4 22.3 100.4 23.7 103 24.5 100.1 26.9 97.4 26.1 93.5 24.7Z"/>
<path fill="#2c4ac7" d="M101.7 24.1 104.4 24.8 105.7 25 102.7 27.4 101.4 27.2 98.8 26.5Z"/>
<path fill="#2053d4" d="M104.4 24.8 105.7 25 107 25 108.3 24.9 105.4 27.3 104 27.4 102.7 27.4 101.4 27.2Z"/>
<path fill="#0f5cdd" d="M107 25 108.3 24.9 109.7 24.4 106.7 27 105.4 27.3 104 27.4Z"/>
<path fill="#0268e1" d="M108.3 24.9 109.7 24.4 111 23.7 108 26.4 106.7 27 105.4 27.3Z"/>
<path fill="#046de0" d="M109.7 24.4 111 23.7 112.3 22.6 109.3 25.6 108 26.4 106.7 27Z"/>
<path fill="#0d75dc" d="M111 23.7 112.3 22.6 113.6 21.3 110.7 24.7 109.3 25.6 108 26.4Z"/>
<path fill="#127dd8" d="M112.3 22.6 115 19.8 112 23.7 109.3 25.6Z"/>
<path fill="#1389d3" d="M113.6 21.3 116.3 18.5 113.3 22.9 112 23.7 110.7 24.7Z"/>
<path fill="#0c93d2" d="M115 19.8 116.3 18.5 117.6 17.6 114.6 22.4 113.3 22.9 112 23.7Z"/>
<path fill="#06a0cd" d="M116.3 18.5 117.6 17.6 118.9 17.3 116 22.5 114.6 22.4 113.3 22.9Z"/>
<path fill="#06a4ca" d="M117.6 17.6 118.9 17.3 120.2 17.8 117.3 23.2 116 22.5 114.6 22.4Z"/>
<path fill="#06a7c6" d="M118.9 17.3 120.2 17.8 121.6 19.5 118.6 24.8 117.3 23.2 116 22.5Z"/>
<path fill="#06a4ca" d="M120.2 17.8 121.6 19.5 122.9 22.4 119.9 27.4 118.6 24.8 117.3 23.2Z"/>
<path fill="#079ccf" d="M121.6 19.5 122.9 22.4 124.2 25.8 121.2 30.3 119.9 27.4 118.6 24.8Z"/>
<path fill="#108ed2" d="M122.9 22.4 125.5 29.4 122.6 33.4 119.9 27.4Z"/>
<path fill="#127dd8" d="M124.2 25.8 125.5 29.4 126.9 32.7 123.9 36.2 122.6 33.4 121.2 30.3Z"/>
<path fill="#0871de" d="M125.5 29.4 126.9 32.7 128.2 35.5 125.2 38.6 123.9 36.2 122.6 33.4Z"/>
<path fill="#0363e1" d="M126.9 32.7 128.2 35.5 129.5 37.7 126.5 40.5 125.2 38.6 123.9 36.2Z"/>
<path fill="#2053d4" d="M128.2 35.5 129.5 37.7 130.8 39.3 127.9 42 126.5 40.5 125.2 38.6Z"/>
<path fill="#3243ba" d="M129.5 37.7 130.8 39.3 132.2 40.7 129.2 43.2 127.9 42 126.5 40.5Z"/>
<path fill="#353dad" d="M130.8 39.3 132.2 40.7 133.5 41.8 130.5 44.2 129.2 43.2 127.9 42Z"/>
<path fill="#3637a0" d="M132.2 40.7 133.5 41.8 134.8 42.8 137.5 44.5 134.5 46.8 131.8 45.2 129.2 43.2Z"/>
<path fill="#363093" d="M136.1 43.6 140.1 46.1 144.1 48.3 141.1 50.5 137.1 48.3 133.2 46Z"/>
<path fill="#352a87" d="M142.7 47.6 152 52.6 165.2 59.4 162.3 61.5 149 54.7 139.8 49.8Z"/>
<path fill="#363093" d="M79.1 17.2 83 18.9 80.1 21.1 76.1 19.4Z"/>
<path fill="#3637a0" d="M81.7 18.3 91 22 88 24.3 78.7 20.5Z"/>
<path fill="#353dad" d="M89.6 21.5 97.6 24.4 94.6 26.8 86.7 23.8Z"/>
<path fill="#3243ba" d="M96.3 24 98.9 24.9 101.6 25.7 98.6 28 95.9 27.2 93.3 26.3Z"/>
<path fill="#2c4ac7" d="M100.2 25.3 102.9 26 104.2 26.2 105.5 26.2 102.6 28.6 101.2 28.5 99.9 28.3 97.3 27.7Z"/>
<path fill="#2053d4" d="M104.2 26.2 105.5 26.2 106.9 26.1 103.9 28.5 102.6 28.6 101.2 28.5Z"/>
<path fill="#0f5cdd" d="M105.5 26.2 106.9 26.1 108.2 25.7 105.2 28.2 103.9 28.5 102.6 28.6Z"/>
<path fill="#0363e1" d="M106.9 26.1 108.2 25.7 109.5 25 106.5 27.7 105.2 28.2 103.9 28.5Z"/>
<path fill="#046de0" d="M108.2 25.7 109.5 25 110.8 24.1 107.9 27.1 106.5 27.7 105.2 28.2Z"/>
<path fill="#0d75dc" d="M109.5 25 110.8 24.1 112.1 23 109.2 26.3 106.5 27.7Z"/>
<path fill="#127dd8" d="M110.8 24.1 113.5 21.8 110.5 25.6 107.9 27.1Z"/>
<path fill="#1485d4" d="M112.1 23 113.5 21.8 114.8 20.7 111.8 25 110.5 25.6 109.2 26.3Z"/>
<path fill="#108ed2" d="M113.5 21.8 114.8 20.7 116.1 20.1 113.1 24.7 111.8 25 110.5 25.6Z"/>
<path fill="#0998d1" d="M114.8 20.7 116.1 20.1 117.4 19.9 114.5 24.9 113.1 24.7 111.8 25Z"/>
<path fill="#079ccf" d="M116.1 20.1 117.4 19.9 118.8 20.6 115.8 25.7 114.5 24.9 113.1 24.7Z"/>
<path fill="#06a0cd" d="M117.4 19.9 118.8 20.6 120.1 22.3 117.1 27.3 115.8 25.7 114.5 24.9Z"/>
<path fill="#079ccf" d="M118.8 20.6 120.1 22.3 121.4 25 118.4 29.7 117.1 27.3 115.8 25.7Z"/>
<path fill="#0c93d2" d="M120.1 22.3 121.4 25 122.7 28.1 119.8 32.5 118.4 29.7 117.1 27.3Z"/>
<path fill="#1485d4" d="M121.4 25 124.1 31.5 121.1 35.3 118.4 29.7Z"/>
<path fill="#1079da" d="M122.7 28.1 124.1 31.5 125.4 34.5 122.4 37.9 121.1 35.3 119.8 32.5Z"/>
<path fill="#046de0" d="M124.1 31.5 125.4 34.5 126.7 37.1 123.7 40.1 122.4 37.9 121.1 35.3Z"/>
<path fill="#0f5cdd" d="M125.4 34.5 126.7 37.1 128 39.1 125.1 41.9 123.7 40.1 122.4 37.9Z"/>
<path fill="#2c4ac7" d="M126.7 37.1 128 39.1 129.4 40.7 126.4 43.3 125.1 41.9 123.7 40.1Z"/>
<path fill="#3243ba" d="M128 39.1 129.4 40.7 130.7 42 127.7 44.5 126.4 43.3 125.1 41.9Z"/>
<path fill="#353dad" d="M129.4 40.7 130.7 42 132 43 129 45.5 127.7 44.5 126.4 43.3Z"/>
<path fill="#3637a0" d="M130.7 42 132 43 134.6 44.8 131.7 47.2 129 45.5 127.7 44.5Z"/>
<path fill="#363093" d="M133.3 44 137.3 46.5 141.3 48.7 138.3 50.9 134.3 48.7 130.4 46.3Z"/>
<path fill="#352a87" d="M139.9 48 149.2 53 163.8 60.4 160.8 62.5 146.2 55.1 137 50.2Z"/>
<path fill="#363093" d="M77.6 18.3 82.9 20.5 79.9 22.7 74.6 20.4Z"/>
<path fill="#3637a0" d="M81.5 20 90.8 23.7 87.8 25.9 78.6 22.1Z"/>
<path fill="#353dad" d="M89.5 23.2 97.4 26.1 94.5 28.4 90.5 27 86.5 25.4Z"/>
<path fill="#3243ba" d="M96.1 25.6 98.8 26.5 101.4 27.2 98.4 29.5 95.8 28.8 93.1 27.9Z"/>
<path fill="#2c4ac7" d="M100.1 26.9 102.7 27.4 104 27.4 101.1 29.8 99.7 29.7 97.1 29.2Z"/>
<path fill="#2053d4" d="M102.7 27.4 104 27.4 105.4 27.3 102.4 29.7 101.1 29.8 99.7 29.7Z"/>
<path fill="#0f5cdd" d="M104 27.4 105.4 27.3 106.7 27 103.7 29.5 102.4 29.7 101.1 29.8Z"/>
<path fill="#0363e1" d="M105.4 27.3 106.7 27 108 26.4 105 29.1 103.7 29.5 102.4 29.7Z"/>
<path fill="#0268e1" d="M106.7 27 108 26.4 109.3 25.6 106.4 28.6 105 29.1 103.7 29.5Z"/>
<path fill="#0871de" d="M108 26.4 109.3 25.6 110.7 24.7 107.7 28 105 29.1Z"/>
<path fill="#1079da" d="M109.3 25.6 112 23.7 109 27.4 106.4 28.6Z"/>
<path fill="#1481d6" d="M110.7 24.7 112 23.7 113.3 22.9 110.3 27 109 27.4 107.7 28Z"/>
<path fill="#1389d3" d="M112 23.7 113.3 22.9 114.6 22.4 111.7 26.9 110.3 27 109 27.4Z"/>
<path fill="#108ed2" d="M113.3 22.9 114.6 22.4 116 22.5 113 27.2 111.7 26.9 110.3 27Z"/>
<path fill="#0c93d2" d="M114.6 22.4 116 22.5 117.3 23.2 114.3 28 113 27.2 111.7 26.9Z"/>
<path fill="#0998d1" d="M116 22.5 117.3 23.2 118.6 24.8 115.6 29.6 114.3 28 113 27.2Z"/>
<path fill="#0c93d2" d="M117.3 23.2 118.6 24.8 119.9 27.4 117 31.9 115.6 29.6 114.3 28Z"/>
<path fill="#1389d3" d="M118.6 24.8 119.9 27.4 121.2 30.3 118.3 34.5 117 31.9 115.6 29.6Z"/>
<path fill="#127dd8" d="M119.9 27.4 122.6 33.4 119.6 37.1 117 31.9Z"/>
<path fill="#0d75dc" d="M121.2 30.3 122.6 33.4 123.9 36.2 120.9 39.6 119.6 37.1 118.3 34.5Z"/>
<path fill="#0268e1" d="M122.6 33.4 123.9 36.2 125.2 38.6 122.2 41.6 120.9 39.6 119.6 37.1Z"/>
<path fill="#2053d4" d="M123.9 36.2 125.2 38.6 126.5 40.5 123.6 43.3 122.2 41.6 120.9 39.6Z"/>
<path fill="#3243ba" d="M125.2 38.6 126.5 40.5 127.9 42 124.9 44.6 123.6 43.3 122.2 41.6Z"/>
<path fill="#353dad" d="M126.5 40.5 127.9 42 129.2 43.2 126.2 45.7 124.9 44.6 123.6 43.3Z"/>
<path fill="#3637a0" d="M127.9 42 129.2 43.2 131.8 45.2 128.9 47.5 126.2 45.7 124.9 44.6Z"/>
<path fill="#363093" d="M130.5 44.2 133.2 46 138.5 49.1 135.5 51.3 130.2 48.3 127.5 46.6Z"/>
<path fill="#352a87" d="M137.1 48.3 146.4 53.4 162.3 61.5 159.3 63.6 143.4 55.5 134.2 50.6Z"/>
<path fill="#363093" d="M76.1 19.4 82.7 22.2 79.7 24.4 73.1 21.5Z"/>
<path fill="#3637a0" d="M81.4 21.6 90.6 25.3 87.7 27.6 78.4 23.8Z"/>
<path fill="#353dad" d="M89.3 24.8 93.3 26.3 97.3 27.7 94.3 30 91.6 29.1 86.4 27.1Z"/>
<path fill="#3243ba" d="M95.9 27.2 98.6 28 99.9 28.3 96.9 30.7 95.6 30.4 93 29.6Z"/>
<path fill="#2c4ac7" d="M98.6 28 101.2 28.5 102.6 28.6 99.6 31 98.3 30.9 95.6 30.4Z"/>
<path fill="#2053d4" d="M101.2 28.5 102.6 28.6 103.9 28.5 100.9 31 99.6 31 98.3 30.9Z"/>
<path fill="#0f5cdd" d="M102.6 28.6 103.9 28.5 105.2 28.2 102.2 30.8 100.9 31 99.6 31Z"/>
<path fill="#0363e1" d="M103.9 28.5 105.2 28.2 106.5 27.7 103.6 30.5 102.2 30.8 100.9 31Z"/>
<path fill="#0268e1" d="M105.2 28.2 106.5 27.7 107.9 27.1 104.9 30.1 102.2 30.8Z"/>
<path fill="#0871de" d="M106.5 27.7 109.2 26.3 106.2 29.6 103.6 30.5Z"/>
<path fill="#0d75dc" d="M107.9 27.1 110.5 25.6 107.5 29.2 104.9 30.1Z"/>
<path fill="#127dd8" d="M109.2 26.3 110.5 25.6 111.8 25 108.9 29 107.5 29.2 106.2 29.6Z"/>
<path fill="#1485d4" d="M110.5 25.6 111.8 25 113.1 24.7 110.2 29 108.9 29 107.5 29.2Z"/>
<path fill="#1389d3" d="M111.8 25 113.1 24.7 114.5 24.9 111.5 29.4 110.2 29 108.9 29Z"/>
<path fill="#108ed2" d="M113.1 24.7 114.5 24.9 115.8 25.7 117.1 27.3 114.1 31.8 112.8 30.2 111.5 29.4 110.2 29Z"/>
<path fill="#1389d3" d="M115.8 25.7 117.1 27.3 118.4 29.7 115.5 34 114.1 31.8 112.8 30.2Z"/>
<path fill="#1481d6" d="M117.1 27.3 118.4 29.7 119.8 32.5 116.8 36.4 115.5 34 114.1 31.8Z"/>
<path fill="#1079da" d="M118.4 29.7 121.1 35.3 118.1 38.9 115.5 34Z"/>
<path fill="#046de0" d="M119.8 32.5 121.1 35.3 122.4 37.9 119.4 41.1 118.1 38.9 116.8 36.4Z"/>
<path fill="#0363e1" d="M121.1 35.3 122.4 37.9 123.7 40.1 120.8 43 119.4 41.1 118.1 38.9Z"/>
<path fill="#2053d4" d="M122.4 37.9 123.7 40.1 125.1 41.9 122.1 44.6 120.8 43 119.4 41.1Z"/>
<path fill="#3243ba" d="M123.7 40.1 125.1 41.9 126.4 43.3 123.4 45.8 122.1 44.6 120.8 43Z"/>
<path fill="#353dad" d="M125.1 41.9 126.4 43.3 127.7 44.5 124.7 46.9 123.4 45.8 122.1 44.6Z"/>
<path fill="#3637a0" d="M126.4 43.3 127.7 44.5 129 45.5 126.1 47.8 124.7 46.9 123.4 45.8Z"/>
<path fill="#363093" d="M127.7 44.5 130.4 46.3 135.6 49.5 132.7 51.7 127.4 48.6 124.7 46.9Z"/>
<path fill="#352a87" d="M134.3 48.7 139.6 51.6 144.9 54.4 160.8 62.5 157.8 64.6 141.9 56.6 131.4 50.9Z"/>
<path fill="#363093" d="M74.6 20.4 81.2 23.3 78.3 25.5 71.6 22.6Z"/>
<path fill="#3637a0" d="M79.9 22.7 90.5 27 87.5 29.2 76.9 24.9Z"/>
<path fill="#353dad" d="M89.2 26.5 93.1 27.9 95.8 28.8 92.8 31.1 90.2 30.2 86.2 28.7Z"/>
<path fill="#3243ba" d="M94.5 28.4 97.1 29.2 99.7 29.7 96.8 32.1 94.1 31.5 91.5 30.7Z"/>
<path fill="#2c4ac7" d="M98.4 29.5 99.7 29.7 101.1 29.8 98.1 32.2 96.8 32.1 95.5 31.8Z"/>
<path fill="#2053d4" d="M99.7 29.7 101.1 29.8 102.4 29.7 103.7 29.5 100.7 32.1 99.4 32.2 98.1 32.2 96.8 32.1Z"/>
<path fill="#0f5cdd" d="M102.4 29.7 103.7 29.5 105 29.1 102.1 31.9 100.7 32.1 99.4 32.2Z"/>
<path fill="#0268e1" d="M103.7 29.5 105 29.1 106.4 28.6 103.4 31.6 100.7 32.1Z"/>
<path fill="#046de0" d="M105 29.1 107.7 28 104.7 31.3 102.1 31.9Z"/>
<path fill="#0871de" d="M106.4 28.6 109 27.4 106 31 103.4 31.6Z"/>
<path fill="#1079da" d="M107.7 28 109 27.4 110.3 27 107.4 30.9 106 31 104.7 31.3Z"/>
<path fill="#127dd8" d="M109 27.4 110.3 27 111.7 26.9 108.7 31.1 107.4 30.9 106 31Z"/>
<path fill="#1481d6" d="M110.3 27 111.7 26.9 113 27.2 110 31.5 108.7 31.1 107.4 30.9Z"/>
<path fill="#1485d4" d="M111.7 26.9 113 27.2 114.3 28 115.6 29.6 117 31.9 114 36 112.7 33.9 111.3 32.4 110 31.5 108.7 31.1Z"/>
<path fill="#127dd8" d="M115.6 29.6 117 31.9 118.3 34.5 115.3 38.3 112.7 33.9Z"/>
<path fill="#0d75dc" d="M117 31.9 119.6 37.1 116.6 40.6 114 36Z"/>
<path fill="#0268e1" d="M118.3 34.5 119.6 37.1 120.9 39.6 118 42.7 116.6 40.6 115.3 38.3Z"/>
<path fill="#0f5cdd" d="M119.6 37.1 120.9 39.6 122.2 41.6 119.3 44.4 118 42.7 116.6 40.6Z"/>
<path fill="#2c4ac7" d="M120.9 39.6 122.2 41.6 123.6 43.3 120.6 45.9 119.3 44.4 118 42.7Z"/>
<path fill="#353dad" d="M122.2 41.6 123.6 43.3 124.9 44.6 121.9 47.1 120.6 45.9 119.3 44.4Z"/>
<path fill="#3637a0" d="M123.6 43.3 124.9 44.6 126.2 45.7 127.5 46.6 124.6 49 121.9 47.1 120.6 45.9Z"/>
<path fill="#363093" d="M126.2 45.7 128.9 47.5 132.8 49.8 129.9 52 125.9 49.8 123.2 48.1Z"/>
<path fill="#352a87" d="M131.5 49.1 135.5 51.3 142.1 54.8 159.3 63.6 156.3 65.7 139.1 56.9 128.5 51.3Z"/>
<path fill="#363093" d="M73.1 21.5 81.1 24.9 78.1 27.1 70.1 23.7Z"/>
<path fill="#3637a0" d="M79.7 24.4 89 28.1 86 30.4 76.8 26.6Z"/>
<path fill="#353dad" d="M87.7 27.6 93 29.6 95.6 30.4 92.6 32.7 88.7 31.4 84.7 29.8Z"/>
<path fill="#3243ba" d="M94.3 30 96.9 30.7 98.3 30.9 95.3 33.2 94 33 91.3 32.3Z"/>
<path fill="#2c4ac7" d="M96.9 30.7 98.3 30.9 99.6 31 100.9 31 97.9 33.4 96.6 33.4 94 33Z"/>
<path fill="#2053d4" d="M99.6 31 100.9 31 102.2 30.8 99.3 33.4 97.9 33.4 96.6 33.4Z"/>
<path fill="#0f5cdd" d="M100.9 31 102.2 30.8 103.6 30.5 100.6 33.2 97.9 33.4Z"/>
<path fill="#0363e1" d="M102.2 30.8 104.9 30.1 101.9 33 99.3 33.4Z"/>
<path fill="#0268e1" d="M103.6 30.5 106.2 29.6 103.2 32.9 100.6 33.2Z"/>
<path fill="#0871de" d="M104.9 30.1 107.5 29.2 104.6 32.7 101.9 33Z"/>
<path fill="#0d75dc" d="M106.2 29.6 107.5 29.2 108.9 29 105.9 32.8 104.6 32.7 103.2 32.9Z"/>
<path fill="#1079da" d="M107.5 29.2 108.9 29 110.2 29 107.2 33 105.9 32.8 104.6 32.7Z"/>
<path fill="#127dd8" d="M108.9 29 110.2 29 111.5 29.4 108.5 33.5 107.2 33 105.9 32.8Z"/>
<path fill="#1481d6" d="M110.2 29 111.5 29.4 112.8 30.2 114.1 31.8 111.2 35.8 109.9 34.4 108.5 33.5 107.2 33Z"/>
<path fill="#127dd8" d="M112.8 30.2 114.1 31.8 115.5 34 112.5 37.8 111.2 35.8 109.9 34.4Z"/>
<path fill="#1079da" d="M114.1 31.8 115.5 34 116.8 36.4 113.8 39.9 111.2 35.8Z"/>
<path fill="#046de0" d="M115.5 34 118.1 38.9 115.1 42 112.5 37.8Z"/>
<path fill="#0363e1" d="M116.8 36.4 118.1 38.9 119.4 41.1 116.5 43.9 113.8 39.9Z"/>
<path fill="#2053d4" d="M118.1 38.9 119.4 41.1 120.8 43 117.8 45.6 116.5 43.9 115.1 42Z"/>
<path fill="#3243ba" d="M119.4 41.1 120.8 43 122.1 44.6 119.1 47 117.8 45.6 116.5 43.9Z"/>
<path fill="#353dad" d="M120.8 43 122.1 44.6 123.4 45.8 120.4 48.2 119.1 47 117.8 45.6Z"/>
<path fill="#3637a0" d="M122.1 44.6 123.4 45.8 124.7 46.9 121.8 49.2 120.4 48.2 119.1 47Z"/>
<path fill="#363093" d="M123.4 45.8 124.7 46.9 126.1 47.8 130 50.2 127.1 52.4 123.1 50.1 120.4 48.2Z"/>
<path fill="#352a87" d="M128.7 49.4 132.7 51.7 139.3 55.2 157.8 64.6 154.8 66.7 136.3 57.3 129.7 53.8 125.7 51.6Z"/>
<path fill="#363093" d="M71.6 22.6 80.9 26.6 77.9 28.8 68.7 24.7Z"/>
<path fill="#3637a0" d="M79.6 26 88.8 29.8 85.9 32 76.6 28.2Z"/>
<path fill="#353dad" d="M87.5 29.2 91.5 30.7 94.1 31.5 91.2 33.8 88.5 33 84.5 31.5Z"/>
<path fill="#3243ba" d="M92.8 31.1 95.5 31.8 96.8 32.1 98.1 32.2 95.1 34.6 92.5 34.1 89.8 33.4Z"/>
<path fill="#2c4ac7" d="M96.8 32.1 98.1 32.2 99.4 32.2 96.5 34.7 93.8 34.4Z"/>
<path fill="#2053d4" d="M98.1 32.2 99.4 32.2 100.7 32.1 97.8 34.7 95.1 34.6Z"/>
<path fill="#0f5cdd" d="M99.4 32.2 100.7 32.1 102.1 31.9 99.1 34.6 96.5 34.7Z"/>
<path fill="#0363e1" d="M100.7 32.1 103.4 31.6 100.4 34.5 97.8 34.7Z"/>
<path fill="#0268e1" d="M102.1 31.9 104.7 31.3 101.7 34.4 99.1 34.6Z"/>
<path fill="#046de0" d="M103.4 31.6 106 31 103.1 34.4 100.4 34.5Z"/>
<path fill="#0871de" d="M104.7 31.3 106 31 107.4 30.9 104.4 34.5 103.1 34.4 101.7 34.4Z"/>
<path fill="#0d75dc" d="M106 31 107.4 30.9 108.7 31.1 105.7 34.9 104.4 34.5 103.1 34.4Z"/>
<path fill="#1079da" d="M107.4 30.9 108.7 31.1 110 31.5 111.3 32.4 112.7 33.9 114 36 111 39.5 109.7 37.7 108.4 36.3 107 35.4 105.7 34.9 104.4 34.5Z"/>
<path fill="#0871de" d="M112.7 33.9 115.3 38.3 112.3 41.4 109.7 37.7Z"/>
<path fill="#0268e1" d="M114 36 116.6 40.6 113.7 43.4 111 39.5Z"/>
<path fill="#0f5cdd" d="M115.3 38.3 116.6 40.6 118 42.7 115 45.2 112.3 41.4Z"/>
<path fill="#2c4ac7" d="M116.6 40.6 118 42.7 119.3 44.4 116.3 46.8 115 45.2 113.7 43.4Z"/>
<path fill="#3243ba" d="M118 42.7 119.3 44.4 120.6 45.9 117.6 48.2 116.3 46.8 115 45.2Z"/>
<path fill="#353dad" d="M119.3 44.4 120.6 45.9 121.9 47.1 119 49.3 117.6 48.2 116.3 46.8Z"/>
<path fill="#3637a0" d="M120.6 45.9 121.9 47.1 123.2 48.1 120.3 50.3 119 49.3 117.6 48.2Z"/>
<path fill="#363093" d="M121.9 47.1 124.6 49 127.2 50.6 124.2 52.7 121.6 51.1 119 49.3Z"/>
<path fill="#352a87" d="M125.9 49.8 129.9 52 136.5 55.6 156.3 65.7 153.4 67.7 133.5 57.7 126.9 54.2 122.9 51.9Z"/>
<path fill="#363093" d="M70.1 23.7 79.4 27.7 76.4 29.9 67.2 25.8Z"/>
<path fill="#3637a0" d="M78.1 27.1 84.7 29.8 88.7 31.4 85.7 33.6 81.7 32.1 75.1 29.3Z"/>
<path fill="#353dad" d="M87.4 30.9 91.3 32.3 94 33 91 35.3 88.4 34.6 84.4 33.1Z"/>
<path fill="#3243ba" d="M92.6 32.7 95.3 33.2 96.6 33.4 93.6 35.8 92.3 35.6 89.7 35Z"/>
<path fill="#2c4ac7" d="M95.3 33.2 96.6 33.4 97.9 33.4 95 35.9 92.3 35.6Z"/>
<path fill="#2053d4" d="M96.6 33.4 97.9 33.4 100.6 33.2 97.6 36 95 35.9 93.6 35.8Z"/>
<path fill="#0f5cdd" d="M99.3 33.4 101.9 33 98.9 36 96.3 36Z"/>
<path fill="#0363e1" d="M100.6 33.2 103.2 32.9 100.3 36 97.6 36Z"/>
<path fill="#0268e1" d="M101.9 33 104.6 32.7 101.6 36.1 98.9 36Z"/>
<path fill="#046de0" d="M103.2 32.9 104.6 32.7 105.9 32.8 102.9 36.3 101.6 36.1 100.3 36Z"/>
<path fill="#0871de" d="M104.6 32.7 105.9 32.8 107.2 33 104.2 36.7 102.9 36.3 101.6 36.1Z"/>
<path fill="#0d75dc" d="M105.9 32.8 107.2 33 108.5 33.5 109.9 34.4 111.2 35.8 112.5 37.8 109.5 41.2 108.2 39.5 106.9 38.2 105.6 37.3 104.2 36.7 102.9 36.3Z"/>
<path fill="#046de0" d="M111.2 35.8 113.8 39.9 110.9 42.9 108.2 39.5Z"/>
<path fill="#0268e1" d="M112.5 37.8 115.1 42 112.2 44.8 109.5 41.2Z"/>
<path fill="#0f5cdd" d="M113.8 39.9 116.5 43.9 113.5 46.5 110.9 42.9Z"/>
<path fill="#2c4ac7" d="M115.1 42 116.5 43.9 117.8 45.6 114.8 48 113.5 46.5 112.2 44.8Z"/>
<path fill="#3243ba" d="M116.5 43.9 117.8 45.6 119.1 47 116.1 49.3 114.8 48 113.5 46.5Z"/>
<path fill="#353dad" d="M117.8 45.6 119.1 47 120.4 48.2 117.5 50.4 116.1 49.3 114.8 48Z"/>
<path fill="#3637a0" d="M119.1 47 120.4 48.2 121.8 49.2 118.8 51.3 117.5 50.4 116.1 49.3Z"/>
<path fill="#363093" d="M120.4 48.2 123.1 50.1 125.7 51.6 122.8 53.8 120.1 52.2 117.5 50.4Z"/>
<path fill="#352a87" d="M124.4 50.9 128.4 53.1 135 56.6 154.8 66.7 151.9 68.7 132 58.7 125.4 55.2 121.4 53Z"/>
<path fill="#363093" d="M68.7 24.7 79.2 29.3 76.3 31.5 65.7 26.9Z"/>
<path fill="#3637a0" d="M77.9 28.8 84.5 31.5 88.5 33 85.5 35.2 81.6 33.7 75 31Z"/>
<path fill="#353dad" d="M87.2 32.5 89.8 33.4 92.5 34.1 89.5 36.4 86.9 35.7 84.2 34.8Z"/>
<path fill="#3243ba" d="M91.2 33.8 93.8 34.4 95.1 34.6 92.2 37 90.8 36.7 88.2 36.1Z"/>
<path fill="#2c4ac7" d="M93.8 34.4 95.1 34.6 97.8 34.7 94.8 37.2 92.2 37 90.8 36.7Z"/>
<path fill="#2053d4" d="M96.5 34.7 99.1 34.6 96.1 37.3 93.5 37.1Z"/>
<path fill="#0f5cdd" d="M97.8 34.7 100.4 34.5 97.5 37.4 94.8 37.2Z"/>
<path fill="#0363e1" d="M99.1 34.6 101.7 34.4 98.8 37.5 96.1 37.3Z"/>
<path fill="#0268e1" d="M100.4 34.5 103.1 34.4 100.1 37.7 97.5 37.4Z"/>
<path fill="#046de0" d="M101.7 34.4 103.1 34.4 104.4 34.5 105.7 34.9 102.7 38.4 101.4 37.9 100.1 37.7 98.8 37.5Z"/>
<path fill="#0871de" d="M104.4 34.5 105.7 34.9 107 35.4 108.4 36.3 109.7 37.7 106.7 41.2 105.4 39.9 104.1 39.1 102.7 38.4 101.4 37.9Z"/>
<path fill="#046de0" d="M108.4 36.3 109.7 37.7 111 39.5 108 42.8 106.7 41.2 105.4 39.9Z"/>
<path fill="#0268e1" d="M109.7 37.7 112.3 41.4 109.4 44.4 106.7 41.2Z"/>
<path fill="#0363e1" d="M111 39.5 113.7 43.4 110.7 46.1 108 42.8Z"/>
<path fill="#2053d4" d="M112.3 41.4 115 45.2 112 47.7 109.4 44.4Z"/>
<path fill="#2c4ac7" d="M113.7 43.4 115 45.2 116.3 46.8 113.3 49.1 112 47.7 110.7 46.1Z"/>
<path fill="#353dad" d="M115 45.2 116.3 46.8 117.6 48.2 114.7 50.4 113.3 49.1 112 47.7Z"/>
<path fill="#3637a0" d="M116.3 46.8 117.6 48.2 119 49.3 120.3 50.3 117.3 52.4 116 51.5 114.7 50.4 113.3 49.1Z"/>
<path fill="#363093" d="M119 49.3 121.6 51.1 124.2 52.7 121.3 54.8 118.6 53.3 116 51.5Z"/>
<path fill="#352a87" d="M122.9 51.9 126.9 54.2 133.5 57.7 153.4 67.7 150.4 69.8 130.5 59.7 123.9 56.3 120 54.1Z"/>
<path fill="#363093" d="M67.2 25.8 79.1 31 76.1 33.2 64.2 27.9Z"/>
<path fill="#3637a0" d="M77.8 30.4 83.1 32.6 87 34.1 84.1 36.4 80.1 34.8 74.8 32.6Z"/>
<path fill="#353dad" d="M85.7 33.6 88.4 34.6 91 35.3 88 37.6 85.4 36.8 82.7 35.9Z"/>
<path fill="#3243ba" d="M89.7 35 92.3 35.6 95 35.9 92 38.4 89.4 37.9 86.7 37.2Z"/>
<path fill="#2c4ac7" d="M93.6 35.8 96.3 36 93.3 38.5 90.7 38.2Z"/>
<path fill="#2053d4" d="M95 35.9 97.6 36 94.6 38.7 92 38.4Z"/>
<path fill="#0f5cdd" d="M96.3 36 100.3 36 97.3 39 93.3 38.5Z"/>
<path fill="#0363e1" d="M98.9 36 101.6 36.1 98.6 39.2 96 38.8Z"/>
<path fill="#0268e1" d="M100.3 36 101.6 36.1 102.9 36.3 99.9 39.6 98.6 39.2 97.3 39Z"/>
<path fill="#046de0" d="M101.6 36.1 102.9 36.3 104.2 36.7 105.6 37.3 106.9 38.2 108.2 39.5 105.2 42.9 103.9 41.6 102.6 40.8 101.3 40.1 99.9 39.6 98.6 39.2Z"/>
<path fill="#0268e1" d="M106.9 38.2 108.2 39.5 109.5 41.2 106.6 44.3 105.2 42.9 103.9 41.6Z"/>
<path fill="#0363e1" d="M108.2 39.5 110.9 42.9 107.9 45.9 105.2 42.9Z"/>
<path fill="#0f5cdd" d="M109.5 41.2 112.2 44.8 109.2 47.4 106.6 44.3Z"/>
<path fill="#2053d4" d="M110.9 42.9 113.5 46.5 110.5 48.9 107.9 45.9Z"/>
<path fill="#3243ba" d="M112.2 44.8 113.5 46.5 114.8 48 111.8 50.3 109.2 47.4Z"/>
<path fill="#353dad" d="M113.5 46.5 114.8 48 116.1 49.3 113.2 51.5 111.8 50.3 110.5 48.9Z"/>
<path fill="#3637a0" d="M114.8 48 116.1 49.3 117.5 50.4 114.5 52.6 113.2 51.5 111.8 50.3Z"/>
<path fill="#363093" d="M116.1 49.3 117.5 50.4 118.8 51.3 121.4 53 118.5 55.1 115.8 53.5 113.2 51.5Z"/>
<path fill="#352a87" d="M120.1 52.2 124.1 54.5 130.7 58 151.9 68.7 148.9 70.8 126.4 59.4 121.1 56.6 117.1 54.4Z"/>
<path fill="#363093" d="M65.7 26.9 72.3 29.8 78.9 32.6 76 34.8 62.7 29Z"/>
<path fill="#3637a0" d="M77.6 32.1 82.9 34.3 86.9 35.7 83.9 37.9 79.9 36.5 74.6 34.3Z"/>
<path fill="#353dad" d="M85.5 35.2 88.2 36.1 90.8 36.7 87.9 39.1 85.2 38.3 82.6 37.5Z"/>
<path fill="#3243ba" d="M89.5 36.4 90.8 36.7 93.5 37.1 90.5 39.6 86.5 38.7Z"/>
<path fill="#2c4ac7" d="M92.2 37 94.8 37.2 91.8 39.8 89.2 39.3Z"/>
<path fill="#2053d4" d="M93.5 37.1 97.5 37.4 94.5 40.2 90.5 39.6Z"/>
<path fill="#0f5cdd" d="M96.1 37.3 98.8 37.5 95.8 40.4 93.2 40Z"/>
<path fill="#0363e1" d="M97.5 37.4 100.1 37.7 101.4 37.9 98.5 41.2 97.1 40.7 94.5 40.2Z"/>
<path fill="#0268e1" d="M100.1 37.7 101.4 37.9 102.7 38.4 104.1 39.1 105.4 39.9 106.7 41.2 108 42.8 105.1 45.9 103.7 44.5 102.4 43.3 101.1 42.4 99.8 41.7 98.5 41.2 97.1 40.7Z"/>
<path fill="#0363e1" d="M106.7 41.2 109.4 44.4 106.4 47.3 103.7 44.5Z"/>
<path fill="#2053d4" d="M108 42.8 110.7 46.1 107.7 48.8 105.1 45.9Z"/>
<path fill="#2c4ac7" d="M109.4 44.4 112 47.7 109 50.2 106.4 47.3Z"/>
<path fill="#3243ba" d="M110.7 46.1 112 47.7 113.3 49.1 110.4 51.5 107.7 48.8Z"/>
<path fill="#353dad" d="M112 47.7 113.3 49.1 114.7 50.4 111.7 52.6 110.4 51.5 109 50.2Z"/>
<path fill="#3637a0" d="M113.3 49.1 114.7 50.4 116 51.5 113 53.7 111.7 52.6 110.4 51.5Z"/>
<path fill="#363093" d="M114.7 50.4 116 51.5 117.3 52.4 120 54.1 117 56.2 114.3 54.6 111.7 52.6Z"/>
<path fill="#352a87" d="M118.6 53.3 122.6 55.6 127.9 58.4 150.4 69.8 147.4 71.8 124.9 60.5 119.6 57.7 115.7 55.4Z"/>
<path fill="#363093" d="M64.2 27.9 72.1 31.5 78.8 34.3 75.8 36.5 69.2 33.6 61.2 30.1Z"/>
<path fill="#3637a0" d="M77.4 33.7 81.4 35.4 85.4 36.8 82.4 39 78.4 37.6 74.5 35.9Z"/>
<path fill="#353dad" d="M84.1 36.4 86.7 37.2 89.4 37.9 86.4 40.2 83.7 39.5 81.1 38.6Z"/>
<path fill="#3243ba" d="M88 37.6 89.4 37.9 92 38.4 89 40.8 85.1 39.9Z"/>
<path fill="#2c4ac7" d="M90.7 38.2 94.6 38.7 91.7 41.3 87.7 40.5Z"/>
<path fill="#2053d4" d="M93.3 38.5 97.3 39 94.3 41.9 90.4 41.1Z"/>
<path fill="#0f5cdd" d="M96 38.8 98.6 39.2 95.6 42.2 93 41.6Z"/>
<path fill="#0363e1" d="M97.3 39 98.6 39.2 99.9 39.6 101.3 40.1 102.6 40.8 103.9 41.6 105.2 42.9 106.6 44.3 103.6 47.3 102.3 46 100.9 44.9 99.6 44 98.3 43.3 97 42.7 94.3 41.9Z"/>
<path fill="#0f5cdd" d="M105.2 42.9 107.9 45.9 104.9 48.7 102.3 46Z"/>
<path fill="#2053d4" d="M106.6 44.3 109.2 47.4 106.2 50 103.6 47.3Z"/>
<path fill="#2c4ac7" d="M107.9 45.9 110.5 48.9 107.6 51.4 104.9 48.7Z"/>
<path fill="#3243ba" d="M109.2 47.4 111.8 50.3 108.9 52.6 106.2 50Z"/>
<path fill="#353dad" d="M110.5 48.9 111.8 50.3 113.2 51.5 110.2 53.7 107.6 51.4Z"/>
<path fill="#3637a0" d="M111.8 50.3 113.2 51.5 114.5 52.6 111.5 54.7 108.9 52.6Z"/>
<path fill="#363093" d="M113.2 51.5 115.8 53.5 118.5 55.1 115.5 57.3 112.8 55.7 110.2 53.7Z"/>
<path fill="#352a87" d="M117.1 54.4 121.1 56.6 126.4 59.4 148.9 70.8 145.9 72.9 123.4 61.5 118.1 58.7 114.2 56.5Z"/>
<path fill="#363093" d="M62.7 29 70.7 32.6 77.3 35.4 74.3 37.6 67.7 34.7 59.8 31.1Z"/>
<path fill="#3637a0" d="M76 34.8 81.2 37 85.2 38.3 82.2 40.6 78.3 39.2 73 37Z"/>
<path fill="#353dad" d="M83.9 37.9 86.5 38.7 89.2 39.3 86.2 41.7 83.6 41 80.9 40.2Z"/>
<path fill="#3243ba" d="M87.9 39.1 91.8 39.8 88.9 42.3 84.9 41.4Z"/>
<path fill="#2c4ac7" d="M90.5 39.6 94.5 40.2 91.5 42.9 87.5 42Z"/>
<path fill="#2053d4" d="M93.2 40 95.8 40.4 92.8 43.3 90.2 42.6Z"/>
<path fill="#0f5cdd" d="M94.5 40.2 97.1 40.7 98.5 41.2 99.8 41.7 96.8 44.8 94.2 43.7 91.5 42.9Z"/>
<path fill="#0363e1" d="M98.5 41.2 99.8 41.7 101.1 42.4 102.4 43.3 99.5 46.4 98.1 45.5 96.8 44.8 95.5 44.2Z"/>
<path fill="#0f5cdd" d="M101.1 42.4 102.4 43.3 103.7 44.5 105.1 45.9 102.1 48.8 100.8 47.5 99.5 46.4 98.1 45.5Z"/>
<path fill="#2053d4" d="M103.7 44.5 106.4 47.3 103.4 50 100.8 47.5Z"/>
<path fill="#2c4ac7" d="M105.1 45.9 107.7 48.8 104.7 51.3 102.1 48.8Z"/>
<path fill="#3243ba" d="M106.4 47.3 109 50.2 106.1 52.6 103.4 50Z"/>
<path fill="#353dad" d="M107.7 48.8 110.4 51.5 107.4 53.8 104.7 51.3Z"/>
<path fill="#3637a0" d="M109 50.2 110.4 51.5 111.7 52.6 113 53.7 110 55.8 107.4 53.8 106.1 52.6Z"/>
<path fill="#363093" d="M111.7 52.6 114.3 54.6 117 56.2 114 58.3 111.4 56.7 108.7 54.8Z"/>
<path fill="#352a87" d="M115.7 55.4 119.6 57.7 124.9 60.5 147.4 71.8 144.5 73.9 122 62.5 116.7 59.8 112.7 57.5Z"/>
<path fill="#363093" d="M61.2 30.1 70.5 34.2 77.1 37 74.1 39.2 67.5 36.4 58.3 32.2Z"/>
<path fill="#3637a0" d="M75.8 36.5 79.8 38.1 83.7 39.5 80.8 41.7 76.8 40.3 72.8 38.7Z"/>
<path fill="#353dad" d="M82.4 39 85.1 39.9 87.7 40.5 84.7 42.9 82.1 42.1 79.4 41.3Z"/>
<path fill="#3243ba" d="M86.4 40.2 90.4 41.1 87.4 43.6 83.4 42.5Z"/>
<path fill="#2c4ac7" d="M89 40.8 93 41.6 90 44.3 86.1 43.2Z"/>
<path fill="#2053d4" d="M91.7 41.3 94.3 41.9 97 42.7 94 45.6 91.4 44.7 88.7 43.9Z"/>
<path fill="#0f5cdd" d="M95.6 42.2 97 42.7 98.3 43.3 99.6 44 100.9 44.9 102.3 46 99.3 49 98 47.9 96.6 47 95.3 46.3 92.7 45.1Z"/>
<path fill="#2053d4" d="M100.9 44.9 102.3 46 104.9 48.7 101.9 51.3 99.3 49 98 47.9Z"/>
<path fill="#2c4ac7" d="M103.6 47.3 106.2 50 103.3 52.6 100.6 50.1Z"/>
<path fill="#3243ba" d="M104.9 48.7 107.6 51.4 104.6 53.8 101.9 51.3Z"/>
<path fill="#353dad" d="M106.2 50 108.9 52.6 105.9 54.9 103.3 52.6Z"/>
<path fill="#3637a0" d="M107.6 51.4 108.9 52.6 111.5 54.7 108.6 56.9 107.2 56 104.6 53.8Z"/>
<path fill="#363093" d="M110.2 53.7 111.5 54.7 114.2 56.5 111.2 58.6 108.6 56.9 107.2 56Z"/>
<path fill="#352a87" d="M112.8 55.7 116.8 58 122.1 60.8 145.9 72.9 143 74.9 119.1 62.9 113.8 60.1 109.9 57.8Z"/>
<path fill="#352a87" d="M59.8 31.1 62.4 32.3 59.4 34.5 56.8 33.2Z"/>
<path fill="#363093" d="M61.1 31.7 70.3 35.9 77 38.7 74 40.9 67.4 38 58.1 33.8Z"/>
<path fill="#3637a0" d="M75.6 38.1 79.6 39.7 83.6 41 80.6 43.3 76.6 41.9 72.7 40.3Z"/>
<path fill="#353dad" d="M82.2 40.6 84.9 41.4 87.5 42 84.6 44.5 79.3 42.8Z"/>
<path fill="#3243ba" d="M86.2 41.7 90.2 42.6 87.2 45.2 83.2 44.1Z"/>
<path fill="#2c4ac7" d="M88.9 42.3 92.8 43.3 89.9 46 85.9 44.8Z"/>
<path fill="#2053d4" d="M91.5 42.9 94.2 43.7 95.5 44.2 96.8 44.8 98.1 45.5 99.5 46.4 100.8 47.5 102.1 48.8 99.1 51.5 96.5 49.3 95.2 48.5 93.8 47.7 91.2 46.5 88.5 45.6Z"/>
<path fill="#2c4ac7" d="M100.8 47.5 103.4 50 100.5 52.6 97.8 50.4Z"/>
<path fill="#3243ba" d="M102.1 48.8 106.1 52.6 103.1 55 99.1 51.5Z"/>
<path fill="#353dad" d="M104.7 51.3 107.4 53.8 104.4 56 101.8 53.8Z"/>
<path fill="#3637a0" d="M106.1 52.6 108.7 54.8 105.7 57.1 103.1 55Z"/>
<path fill="#363093" d="M107.4 53.8 110 55.8 112.7 57.5 109.7 59.7 107.1 58 104.4 56Z"/>
<path fill="#352a87" d="M111.4 56.7 115.3 59.1 120.6 61.9 144.5 73.9 141.5 75.9 116.3 63.3 111 60.4 108.4 58.9Z"/>
<path fill="#352a87" d="M58.3 32.2 62.2 34 59.3 36.1 55.3 34.3Z"/>
<path fill="#363093" d="M60.9 33.4 68.9 37 75.5 39.8 72.5 41.9 65.9 39.1 57.9 35.5Z"/>
<path fill="#3637a0" d="M74.1 39.2 78.1 40.8 82.1 42.1 79.1 44.4 75.1 43 71.2 41.4Z"/>
<path fill="#353dad" d="M80.8 41.7 83.4 42.5 86.1 43.2 83.1 45.7 77.8 44Z"/>
<path fill="#3243ba" d="M84.7 42.9 90 44.3 87.1 46.9 81.8 45.3Z"/>
<path fill="#2c4ac7" d="M88.7 43.9 91.4 44.7 94 45.6 91 48.5 88.4 47.4 85.7 46.5Z"/>
<path fill="#2053d4" d="M92.7 45.1 95.3 46.3 96.6 47 98 47.9 99.3 49 96.3 51.7 95 50.7 93.7 49.9 92.3 49.1 89.7 47.9Z"/>
<path fill="#2c4ac7" d="M98 47.9 99.3 49 101.9 51.3 99 53.9 95 50.7Z"/>
<path fill="#3243ba" d="M100.6 50.1 103.3 52.6 100.3 55 97.6 52.8Z"/>
<path fill="#353dad" d="M101.9 51.3 105.9 54.9 102.9 57.2 99 53.9Z"/>
<path fill="#3637a0" d="M104.6 53.8 107.2 56 104.3 58.2 101.6 56.1Z"/>
<path fill="#363093" d="M105.9 54.9 108.6 56.9 111.2 58.6 108.2 60.7 105.6 59.1 102.9 57.2Z"/>
<path fill="#352a87" d="M109.9 57.8 113.8 60.1 119.1 62.9 143 74.9 140 77 114.8 64.3 109.6 61.5 106.9 59.9Z"/>
<path fill="#352a87" d="M56.8 33.2 60.7 35.1 57.8 37.2 53.8 35.3Z"/>
<path fill="#363093" d="M59.4 34.5 68.7 38.6 75.3 41.4 72.3 43.6 65.7 40.8 56.5 36.6Z"/>
<path fill="#3637a0" d="M74 40.9 78 42.4 81.9 43.7 79 46 75 44.6 71 43Z"/>
<path fill="#353dad" d="M80.6 43.3 85.9 44.8 82.9 47.3 77.6 45.5Z"/>
<path fill="#3243ba" d="M84.6 44.5 88.5 45.6 85.6 48.2 81.6 46.9Z"/>
<path fill="#2c4ac7" d="M87.2 45.2 91.2 46.5 93.8 47.7 95.2 48.5 96.5 49.3 99.1 51.5 96.2 54.1 93.5 52.1 90.9 50.5 88.2 49.2 84.2 47.7Z"/>
<path fill="#3243ba" d="M97.8 50.4 100.5 52.6 97.5 55.2 94.8 53.1Z"/>
<path fill="#353dad" d="M99.1 51.5 103.1 55 100.1 57.3 96.2 54.1Z"/>
<path fill="#3637a0" d="M101.8 53.8 104.4 56 105.7 57.1 102.8 59.2 98.8 56.2Z"/>
<path fill="#363093" d="M104.4 56 107.1 58 109.7 59.7 106.7 61.8 104.1 60.1 101.5 58.3Z"/>
<path fill="#352a87" d="M108.4 58.9 111 60.4 116.3 63.3 141.5 75.9 138.5 78 113.4 65.3 108.1 62.5 105.4 61Z"/>
<path fill="#352a87" d="M55.3 34.3 60.6 36.7 57.6 38.8 52.3 36.4Z"/>
<path fill="#363093" d="M59.3 36.1 67.2 39.7 73.8 42.5 70.9 44.7 64.2 41.8 56.3 38.2Z"/>
<path fill="#3637a0" d="M72.5 41.9 76.5 43.5 80.4 44.8 77.5 47.1 73.5 45.7 69.5 44.1Z"/>
<path fill="#353dad" d="M79.1 44.4 84.4 46.1 81.4 48.5 76.1 46.7Z"/>
<path fill="#3243ba" d="M83.1 45.7 87.1 46.9 89.7 47.9 86.7 50.5 84.1 49.4 80.1 48Z"/>
<path fill="#2c4ac7" d="M88.4 47.4 91 48.5 92.3 49.1 95 50.7 96.3 51.7 93.3 54.4 92 53.4 89.4 51.8 88.1 51.2 85.4 50Z"/>
<path fill="#3243ba" d="M95 50.7 99 53.9 96 56.4 92 53.4Z"/>
<path fill="#353dad" d="M97.6 52.8 101.6 56.1 98.6 58.4 94.7 55.4Z"/>
<path fill="#3637a0" d="M100.3 55 104.3 58.2 101.3 60.3 97.3 57.4Z"/>
<path fill="#363093" d="M102.9 57.2 104.3 58.2 106.9 59.9 103.9 62 100 59.4Z"/>
<path fill="#352a87" d="M105.6 59.1 109.6 61.5 113.5 63.6 122.8 68.3 140 77 137 79 110.6 65.7 106.6 63.6 102.6 61.2Z"/>
<path fill="#352a87" d="M53.8 35.3 60.4 38.4 57.5 40.5 50.8 37.4Z"/>
<path fill="#363093" d="M59.1 37.8 67 41.3 73.7 44.1 70.7 46.3 64.1 43.5 56.1 39.9Z"/>
<path fill="#3637a0" d="M72.3 43.6 76.3 45.1 80.3 46.4 77.3 48.7 73.3 47.3 69.4 45.7Z"/>
<path fill="#353dad" d="M79 46 84.2 47.7 81.3 50.2 76 48.3Z"/>
<path fill="#3243ba" d="M82.9 47.3 86.9 48.7 89.5 49.8 90.9 50.5 93.5 52.1 96.2 54.1 93.2 56.7 90.5 54.8 87.9 53.2 86.6 52.5 83.9 51.2 80 49.7Z"/>
<path fill="#353dad" d="M94.8 53.1 98.8 56.2 95.8 58.6 91.9 55.7Z"/>
<path fill="#3637a0" d="M97.5 55.2 101.5 58.3 98.5 60.5 94.5 57.6Z"/>
<path fill="#363093" d="M100.1 57.3 102.8 59.2 105.4 61 102.5 63.1 99.8 61.4 97.2 59.6Z"/>
<path fill="#352a87" d="M104.1 60.1 108.1 62.5 112 64.6 138.5 78 135.5 80 109.1 66.7 105.1 64.6 101.1 62.3Z"/>
<path fill="#352a87" d="M52.3 36.4 60.3 40.1 57.3 42.2 49.4 38.5Z"/>
<path fill="#363093" d="M58.9 39.5 66.9 43 72.2 45.2 69.2 47.4 63.9 45.1 56 41.6Z"/>
<path fill="#3637a0" d="M70.9 44.7 74.8 46.2 78.8 47.6 75.8 49.9 67.9 46.8Z"/>
<path fill="#353dad" d="M77.5 47.1 84.1 49.4 81.1 51.9 74.5 49.4Z"/>
<path fill="#3243ba" d="M82.8 49 85.4 50 88.1 51.2 90.7 52.6 93.3 54.4 90.4 57 87.7 55.2 85.1 53.7 82.4 52.5 79.8 51.4Z"/>
<path fill="#353dad" d="M92 53.4 97.3 57.4 94.3 59.8 89.1 56Z"/>
<path fill="#3637a0" d="M96 56.4 100 59.4 97 61.6 93 58.8Z"/>
<path fill="#363093" d="M98.6 58.4 101.3 60.3 103.9 62 101 64.1 98.3 62.5 95.7 60.7Z"/>
<path fill="#352a87" d="M102.6 61.2 106.6 63.6 110.6 65.7 137 79 134.1 81.1 108.9 68.4 103.6 65.7 99.6 63.3Z"/>
<path fill="#352a87" d="M50.8 37.4 58.8 41.1 55.8 43.2 47.9 39.5Z"/>
<path fill="#363093" d="M57.5 40.5 65.4 44.1 72 46.8 69 49 62.4 46.2 54.5 42.6Z"/>
<path fill="#3637a0" d="M70.7 46.3 78.6 49.2 75.7 51.6 67.7 48.5Z"/>
<path fill="#353dad" d="M77.3 48.7 82.6 50.7 85.2 51.8 82.3 54.4 78.3 52.6 74.3 51.1Z"/>
<path fill="#3243ba" d="M83.9 51.2 86.6 52.5 89.2 53.9 86.2 56.5 83.6 55 81 53.7Z"/>
<path fill="#353dad" d="M87.9 53.2 90.5 54.8 94.5 57.6 91.5 60 87.6 57.3 84.9 55.7Z"/>
<path fill="#3637a0" d="M93.2 56.7 97.2 59.6 94.2 61.8 90.2 59.1Z"/>
<path fill="#363093" d="M95.8 58.6 99.8 61.4 102.5 63.1 99.5 65.2 96.8 63.6 92.9 60.9Z"/>
<path fill="#352a87" d="M101.1 62.3 105.1 64.6 109.1 66.7 135.5 80 132.6 82.1 107.4 69.5 102.1 66.7 98.2 64.4Z"/>
<path fill="#352a87" d="M49.4 38.5 58.6 42.8 55.6 44.9 46.4 40.6Z"/>
<path fill="#363093" d="M57.3 42.2 65.2 45.7 70.5 47.9 67.6 50.1 60.9 47.3 54.3 44.3Z"/>
<path fill="#3637a0" d="M69.2 47.4 78.5 50.9 75.5 53.2 66.2 49.5Z"/>
<path fill="#353dad" d="M77.1 50.4 81.1 51.9 85.1 53.7 87.7 55.2 89.1 56 91.7 57.9 88.7 60.3 84.8 57.7 82.1 56.3 78.1 54.4 74.2 52.7Z"/>
<path fill="#3637a0" d="M90.4 57 95.7 60.7 92.7 63 87.4 59.4Z"/>
<path fill="#363093" d="M94.3 59.8 97 61.6 99.6 63.3 96.7 65.5 91.4 62.1Z"/>
<path fill="#352a87" d="M98.3 62.5 102.3 64.9 107.6 67.8 134.1 81.1 131.1 83.1 104.6 69.8 99.3 67 95.3 64.7Z"/>
<path fill="#352a87" d="M47.9 39.5 58.5 44.4 55.5 46.6 44.9 41.6Z"/>
<path fill="#363093" d="M57.1 43.8 63.7 46.8 70.4 49.5 67.4 51.7 60.8 48.9 54.2 46Z"/>
<path fill="#3637a0" d="M69 49 78.3 52.6 75.3 55 66.1 51.2Z"/>
<path fill="#353dad" d="M77 52.1 81 53.7 83.6 55 86.2 56.5 88.9 58.2 85.9 60.6 83.3 59 80.6 57.5 78 56.2 74 54.4Z"/>
<path fill="#3637a0" d="M87.6 57.3 92.9 60.9 89.9 63.2 84.6 59.8Z"/>
<path fill="#363093" d="M91.5 60 95.5 62.7 98.2 64.4 95.2 66.5 88.6 62.4Z"/>
<path fill="#352a87" d="M96.8 63.6 100.8 66 106.1 68.8 132.6 82.1 129.6 84.1 103.1 70.9 97.8 68.1 93.9 65.7Z"/>
<path fill="#352a87" d="M46.4 40.6 57 45.5 54 47.6 43.4 42.7Z"/>
<path fill="#363093" d="M55.6 44.9 63.6 48.4 70.2 51.1 67.2 53.4 60.6 50.6 52.7 47Z"/>
<path fill="#3637a0" d="M68.9 50.6 78.1 54.4 75.2 56.7 65.9 52.8Z"/>
<path fill="#353dad" d="M76.8 53.8 79.5 55 82.1 56.3 86.1 58.5 83.1 61 79.1 58.7 76.5 57.4 73.8 56.1Z"/>
<path fill="#3637a0" d="M84.8 57.7 91.4 62.1 88.4 64.3 81.8 60.2Z"/>
<path fill="#363093" d="M90.1 61.2 94 63.8 96.7 65.5 93.7 67.6 87.1 63.5Z"/>
<path fill="#352a87" d="M95.3 64.7 99.3 67 104.6 69.8 131.1 83.1 128.1 85.2 101.6 71.9 96.3 69.1 92.4 66.8Z"/>
<path fill="#352a87" d="M44.9 41.6 56.8 47.2 53.8 49.3 41.9 43.7Z"/>
<path fill="#363093" d="M55.5 46.6 62.1 49.5 68.7 52.3 65.7 54.5 59.1 51.6 52.5 48.7Z"/>
<path fill="#3637a0" d="M67.4 51.7 75.3 55 79.3 56.8 83.3 59 88.6 62.4 85.6 64.6 80.3 61.4 76.3 59.2 72.4 57.3 64.4 53.9Z"/>
<path fill="#363093" d="M87.2 61.5 93.9 65.7 90.9 67.9 84.3 63.8Z"/>
<path fill="#352a87" d="M92.5 64.9 96.5 67.3 101.8 70.2 129.6 84.1 126.6 86.2 100.2 72.9 94.9 70.1 89.6 67.1Z"/>
<path fill="#352a87" d="M43.4 42.7 56.6 48.8 53.7 50.9 40.4 44.8Z"/>
<path fill="#363093" d="M55.3 48.2 61.9 51.1 68.6 53.9 65.6 56.1 59 53.3 52.4 50.3Z"/>
<path fill="#3637a0" d="M67.2 53.4 73.8 56.1 77.8 58 81.8 60.2 85.8 62.7 82.8 65 78.8 62.5 74.8 60.4 70.9 58.5 64.3 55.6Z"/>
<path fill="#363093" d="M84.4 61.8 92.4 66.8 89.4 68.9 81.5 64.2Z"/>
<path fill="#352a87" d="M91.1 66 95 68.4 100.3 71.2 128.1 85.2 125.1 87.2 98.7 74 93.4 71.2 88.1 68.2Z"/>
<path fill="#352a87" d="M41.9 43.7 55.2 49.9 52.2 52 39 45.8Z"/>
<path fill="#363093" d="M53.8 49.3 60.5 52.2 68.4 55.6 65.4 57.8 50.9 51.4Z"/>
<path fill="#3637a0" d="M67.1 55 72.4 57.3 76.3 59.2 80.3 61.4 84.3 63.8 81.3 66.1 77.3 63.7 73.4 61.5 69.4 59.6 64.1 57.2Z"/>
<path fill="#363093" d="M83 63 89.6 67.1 86.6 69.2 80 65.3Z"/>
<path fill="#352a87" d="M88.2 66.3 93.5 69.4 98.8 72.2 126.6 86.2 123.7 88.2 95.9 74.3 90.6 71.5 85.3 68.5Z"/>
<path fill="#352a87" d="M40.4 44.8 55 51.5 52 53.6 37.5 46.8Z"/>
<path fill="#363093" d="M53.7 50.9 68.2 57.3 65.3 59.5 50.7 53Z"/>
<path fill="#3637a0" d="M66.9 56.7 70.9 58.5 74.8 60.4 78.8 62.5 81.5 64.2 78.5 66.4 75.8 64.8 71.9 62.7 67.9 60.7 63.9 58.9Z"/>
<path fill="#363093" d="M80.1 63.3 88.1 68.2 85.1 70.3 77.2 65.6Z"/>
<path fill="#352a87" d="M86.8 67.4 92.1 70.5 97.3 73.3 125.1 87.2 122.2 89.3 94.4 75.3 89.1 72.5 83.8 69.5Z"/>
<path fill="#352a87" d="M39 45.8 53.5 52.6 50.5 54.7 36 47.9Z"/>
<path fill="#363093" d="M52.2 52 68.1 59 65.1 61.2 49.2 54.1Z"/>
<path fill="#3637a0" d="M66.7 58.4 72 60.9 77.3 63.7 74.4 66 69.1 63.2 63.8 60.6Z"/>
<path fill="#363093" d="M76 62.9 85.3 68.5 82.3 70.6 73 65.2Z"/>
<path fill="#352a87" d="M84 67.7 89.2 70.8 95.9 74.3 123.7 88.2 120.7 90.3 92.9 76.4 87.6 73.6 81 69.9Z"/>
<path fill="#352a87" d="M37.5 46.8 53.4 54.2 50.4 56.4 34.5 48.9Z"/>
<path fill="#363093" d="M52 53.6 65.3 59.5 69.2 61.4 66.3 63.6 61 61.1 49.1 55.8Z"/>
<path fill="#3637a0" d="M67.9 60.7 73.2 63.4 70.2 65.7 64.9 63Z"/>
<path fill="#363093" d="M71.9 62.7 75.8 64.8 83.8 69.5 80.8 71.7 72.9 67.1 68.9 65Z"/>
<path fill="#352a87" d="M82.5 68.8 89.1 72.5 94.4 75.3 122.2 89.3 119.2 91.3 91.4 77.4 86.1 74.6 79.5 70.9Z"/>
<path fill="#352a87" d="M36 47.9 45.2 52.3 53.2 55.9 50.2 58 33 50Z"/>
<path fill="#363093" d="M51.9 55.3 63.8 60.6 69.1 63.2 74.4 66 81 69.9 78 72 70.1 67.5 66.1 65.4 60.8 62.8 48.9 57.4Z"/>
<path fill="#352a87" d="M79.7 69.1 86.3 72.9 92.9 76.4 120.7 90.3 117.7 92.3 89.9 78.4 83.3 75 76.7 71.3Z"/>
<path fill="#352a87" d="M34.5 48.9 43.8 53.3 51.7 57 48.7 59.1 31.5 51Z"/>
<path fill="#363093" d="M50.4 56.4 62.3 61.7 67.6 64.3 71.6 66.4 78.2 70.2 75.2 72.4 68.6 68.6 63.3 65.9 58 63.3 47.4 58.5Z"/>
<path fill="#352a87" d="M76.8 69.5 84.8 73.9 90.1 76.7 119.2 91.3 116.2 93.4 88.4 79.5 81.8 76 73.9 71.6Z"/>
<path fill="#352a87" d="M33 50 42.3 54.4 51.5 58.6 48.6 60.8 30 52Z"/>
<path fill="#363093" d="M50.2 58 60.8 62.8 66.1 65.4 70.1 67.5 76.7 71.3 73.7 73.4 67.1 69.7 61.8 67 56.5 64.4 47.2 60.1Z"/>
<path fill="#352a87" d="M75.4 70.6 83.3 75 88.6 77.8 117.7 92.3 114.7 94.4 86.9 80.5 80.3 77 72.4 72.7Z"/>
<path fill="#352a87" d="M31.5 51 42.1 56 51.4 60.3 48.4 62.4 39.1 58.1 28.6 53.1Z"/>
<path fill="#363093" d="M50.1 59.7 58 63.3 63.3 65.9 68.6 68.6 73.9 71.6 70.9 73.8 65.6 70.8 60.3 68.1 55 65.5 47.1 61.8Z"/>
<path fill="#352a87" d="M72.6 70.9 80.5 75.3 87.1 78.8 116.2 93.4 113.3 95.4 84.1 80.8 77.5 77.4 69.6 73.1Z"/>
<path fill="#352a87" d="M30 52 40.6 57.1 49.9 61.4 46.9 63.5 27.1 54.1Z"/>
<path fill="#363093" d="M48.6 60.8 56.5 64.4 61.8 67 67.1 69.7 71.1 72 68.1 74.1 64.1 71.9 58.8 69.2 53.5 66.6 45.6 62.9Z"/>
<path fill="#352a87" d="M69.7 71.2 72.4 72.7 79 76.3 85.6 79.8 114.7 94.4 111.8 96.4 82.7 81.9 74.7 77.7 66.8 73.4Z"/>
<path fill="#352a87" d="M28.6 53.1 39.1 58.1 49.7 63 46.8 65.2 25.6 55.1Z"/>
<path fill="#363093" d="M48.4 62.4 55 65.5 60.3 68.1 65.6 70.8 69.6 73.1 66.6 75.2 61.3 72.3 57.3 70.2 45.4 64.5Z"/>
<path fill="#352a87" d="M68.3 72.3 76.2 76.7 84.1 80.8 113.3 95.4 110.3 97.5 81.2 82.9 73.2 78.8 65.3 74.5Z"/>
<path fill="#352a87" d="M27.1 54.1 37.7 59.2 49.6 64.7 46.6 66.8 24.1 56.2Z"/>
<path fill="#363093" d="M48.2 64.1 58.8 69.2 62.8 71.2 66.8 73.4 63.8 75.5 55.9 71.3 45.3 66.2Z"/>
<path fill="#352a87" d="M65.5 72.6 69.4 74.9 81.3 81.2 111.8 96.4 108.8 98.5 79.7 83.9 66.5 77 62.5 74.8Z"/>
<path fill="#352a87" d="M25.6 55.1 36.2 60.2 49.4 66.4 47.9 67.5 24.1 56.2Z"/>
<path fill="#363093" d="M48.1 65.8 57.3 70.2 64 73.7 62.5 74.8 55.9 71.3 46.6 66.8Z"/>
<path fill="#352a87" d="M62.6 73 67.9 76 79.8 82.2 110.3 97.5 108.8 98.5 78.4 83.3 66.5 77 61.2 74.1Z"/>
<line x1="24.1" y1="56.4" x2="24.1" y2="0.8" stroke="#3a3a3a" stroke-width="0.45"/>
<line x1="24.1" y1="56.4" x2="108.8" y2="98.5" stroke="#3a3a3a" stroke-width="0.45"/>
<line x1="108.8" y1="98.5" x2="180.1" y2="49.4" stroke="#3a3a3a" stroke-width="0.45"/>
<line x1="24.1" y1="56.4" x2="22.3" y2="57.6" stroke="#3a3a3a" stroke-width="0.45"/>
<line x1="45.3" y1="66.9" x2="43.5" y2="68.2" stroke="#3a3a3a" stroke-width="0.45"/>
<line x1="66.5" y1="77.5" x2="64.6" y2="78.7" stroke="#3a3a3a" stroke-width="0.45"/>
<line x1="87.6" y1="88" x2="85.8" y2="89.2" stroke="#3a3a3a" stroke-width="0.45"/>
<line x1="108.8" y1="98.5" x2="107" y2="99.7" stroke="#3a3a3a" stroke-width="0.45"/>
<line x1="108.8" y1="98.5" x2="110.8" y2="99.5" stroke="#3a3a3a" stroke-width="0.45"/>
<line x1="132.6" y1="82.1" x2="134.5" y2="83.1" stroke="#3a3a3a" stroke-width="0.45"/>
<line x1="156.3" y1="65.8" x2="158.3" y2="66.7" stroke="#3a3a3a" stroke-width="0.45"/>
<line x1="180.1" y1="49.4" x2="182.1" y2="50.4" stroke="#3a3a3a" stroke-width="0.45"/>
<line x1="24.1" y1="56.4" x2="22.3" y2="56.4" stroke="#3a3a3a" stroke-width="0.45"/>
<line x1="24.1" y1="42.5" x2="22.3" y2="42.5" stroke="#3a3a3a" stroke-width="0.45"/>
<line x1="24.1" y1="28.6" x2="22.3" y2="28.6" stroke="#3a3a3a" stroke-width="0.45"/>
<line x1="24.1" y1="14.7" x2="22.3" y2="14.7" stroke="#3a3a3a" stroke-width="0.45"/>
<line x1="24.1" y1="0.8" x2="22.3" y2="0.8" stroke="#3a3a3a" stroke-width="0.45"/>
<text x="20.2" y="57.9" font-size="6.0" text-anchor="end" fill="#1c1c1c" stroke="#1c1c1c" stroke-width="0.13">0</text>
<text x="20.2" y="44" font-size="6.0" text-anchor="end" fill="#1c1c1c" stroke="#1c1c1c" stroke-width="0.13">20</text>
<text x="20.2" y="30.1" font-size="6.0" text-anchor="end" fill="#1c1c1c" stroke="#1c1c1c" stroke-width="0.13">40</text>
<text x="20.2" y="16.2" font-size="6.0" text-anchor="end" fill="#1c1c1c" stroke="#1c1c1c" stroke-width="0.13">60</text>
<text x="20.2" y="2.3" font-size="6.0" text-anchor="end" fill="#1c1c1c" stroke="#1c1c1c" stroke-width="0.13">80</text>
<text x="20.1" y="65.3" font-size="6.0" text-anchor="end" fill="#1c1c1c" stroke="#1c1c1c" stroke-width="0.13">4</text>
<text x="41.3" y="75.8" font-size="6.0" text-anchor="end" fill="#1c1c1c" stroke="#1c1c1c" stroke-width="0.13">2</text>
<text x="62.5" y="86.4" font-size="6.0" text-anchor="end" fill="#1c1c1c" stroke="#1c1c1c" stroke-width="0.13">0</text>
<text x="83.6" y="96.9" font-size="6.0" text-anchor="end" fill="#1c1c1c" stroke="#1c1c1c" stroke-width="0.13">-2</text>
<text x="104.8" y="107.4" font-size="6.0" text-anchor="end" fill="#1c1c1c" stroke="#1c1c1c" stroke-width="0.13">-4</text>
<text x="112.4" y="106.5" font-size="6.0" text-anchor="start" fill="#1c1c1c" stroke="#1c1c1c" stroke-width="0.13">0.2</text>
<text x="136.2" y="90.1" font-size="6.0" text-anchor="start" fill="#1c1c1c" stroke="#1c1c1c" stroke-width="0.13">0.4</text>
<text x="159.9" y="73.8" font-size="6.0" text-anchor="start" fill="#1c1c1c" stroke="#1c1c1c" stroke-width="0.13">0.6</text>
<text x="183.7" y="57.4" font-size="6.0" text-anchor="start" fill="#1c1c1c" stroke="#1c1c1c" stroke-width="0.13">0.8</text>
<text x="43.9" y="105.2" font-size="6.3" text-anchor="middle" fill="#1c1c1c" stroke="#1c1c1c" stroke-width="0.13">TMI Frequency (kHz)</text>
<text x="170.2" y="103" font-size="6.3" text-anchor="middle" fill="#1c1c1c" stroke="#1c1c1c" stroke-width="0.13">Signal Power (kW)</text>
<text x="0" y="0" font-size="6.3" text-anchor="middle" fill="#1c1c1c" stroke="#1c1c1c" stroke-width="0.13" transform="translate(10.1 28.3) rotate(-90)">Local TMI Gain</text>
<defs><linearGradient id="cb1" x1="0" y1="1" x2="0" y2="0"><stop offset="0.008" stop-color="#352a87"/><stop offset="0.055" stop-color="#353dad"/><stop offset="0.102" stop-color="#2053d4"/><stop offset="0.148" stop-color="#0268e1"/><stop offset="0.195" stop-color="#0d75dc"/><stop offset="0.242" stop-color="#1481d6"/><stop offset="0.289" stop-color="#108ed2"/><stop offset="0.336" stop-color="#079ccf"/><stop offset="0.383" stop-color="#06a7c6"/><stop offset="0.430" stop-color="#0faeb9"/><stop offset="0.477" stop-color="#25b5a9"/><stop offset="0.523" stop-color="#42bb98"/><stop offset="0.570" stop-color="#65be86"/><stop offset="0.617" stop-color="#87bf77"/><stop offset="0.664" stop-color="#a5be6b"/><stop offset="0.711" stop-color="#c0bc60"/><stop offset="0.758" stop-color="#d9ba56"/><stop offset="0.805" stop-color="#f1b94a"/><stop offset="0.852" stop-color="#ffc337"/><stop offset="0.898" stop-color="#fad32a"/><stop offset="0.945" stop-color="#f5e41d"/><stop offset="0.992" stop-color="#f9fb0e"/><stop offset="0.992" stop-color="#f9fb0e"/></linearGradient></defs>
<rect x="196.9" y="-48.00" width="11.9" height="147.20" fill="url(#cb1)" stroke="#3a3a3a" stroke-width="0.45"/>
<line x1="208.8" y1="78.5" x2="207.2" y2="78.5" stroke="#3a3a3a" stroke-width="0.45"/>
<text x="211.1" y="80.3" font-size="5.1" text-anchor="start" fill="#1c1c1c" stroke="#1c1c1c" stroke-width="0.13">10</text>
<line x1="208.8" y1="57.8" x2="207.2" y2="57.8" stroke="#3a3a3a" stroke-width="0.45"/>
<text x="211.1" y="59.6" font-size="5.1" text-anchor="start" fill="#1c1c1c" stroke="#1c1c1c" stroke-width="0.13">20</text>
<line x1="208.8" y1="37.1" x2="207.2" y2="37.1" stroke="#3a3a3a" stroke-width="0.45"/>
<text x="211.1" y="38.9" font-size="5.1" text-anchor="start" fill="#1c1c1c" stroke="#1c1c1c" stroke-width="0.13">30</text>
<line x1="208.8" y1="16.4" x2="207.2" y2="16.4" stroke="#3a3a3a" stroke-width="0.45"/>
<text x="211.1" y="18.2" font-size="5.1" text-anchor="start" fill="#1c1c1c" stroke="#1c1c1c" stroke-width="0.13">40</text>
<line x1="208.8" y1="-4.3" x2="207.2" y2="-4.3" stroke="#3a3a3a" stroke-width="0.45"/>
<text x="211.1" y="-2.5" font-size="5.1" text-anchor="start" fill="#1c1c1c" stroke="#1c1c1c" stroke-width="0.13">50</text>
<line x1="208.8" y1="-25" x2="207.2" y2="-25" stroke="#3a3a3a" stroke-width="0.45"/>
<text x="211.1" y="-23.2" font-size="5.1" text-anchor="start" fill="#1c1c1c" stroke="#1c1c1c" stroke-width="0.13">60</text>
<line x1="208.8" y1="-45.7" x2="207.2" y2="-45.7" stroke="#3a3a3a" stroke-width="0.45"/>
<text x="211.1" y="-43.9" font-size="5.1" text-anchor="start" fill="#1c1c1c" stroke="#1c1c1c" stroke-width="0.13">70</text>
<line x1="253.9" y1="42" x2="325.2" y2="-7.1" stroke="#dedede" stroke-width="0.55"/>
<line x1="325.2" y1="-7.1" x2="409.9" y2="35" stroke="#dedede" stroke-width="0.55"/>
<line x1="253.9" y1="28.3" x2="325.2" y2="-20.8" stroke="#dedede" stroke-width="0.55"/>
<line x1="325.2" y1="-20.8" x2="409.9" y2="21.3" stroke="#dedede" stroke-width="0.55"/>
<line x1="253.9" y1="14.6" x2="325.2" y2="-34.5" stroke="#dedede" stroke-width="0.55"/>
<line x1="325.2" y1="-34.5" x2="409.9" y2="7.6" stroke="#dedede" stroke-width="0.55"/>
<line x1="253.9" y1="0.9" x2="325.2" y2="-48.2" stroke="#dedede" stroke-width="0.55"/>
<line x1="325.2" y1="-48.2" x2="409.9" y2="-6.1" stroke="#dedede" stroke-width="0.55"/>
<line x1="277.7" y1="39.3" x2="277.7" y2="-15.5" stroke="#dedede" stroke-width="0.55"/>
<line x1="301.4" y1="23" x2="301.4" y2="-31.8" stroke="#dedede" stroke-width="0.55"/>
<line x1="325.2" y1="6.6" x2="325.2" y2="-48.2" stroke="#dedede" stroke-width="0.55"/>
<line x1="346.4" y1="17.1" x2="346.4" y2="-37.7" stroke="#dedede" stroke-width="0.55"/>
<line x1="367.6" y1="27.6" x2="367.6" y2="-27.2" stroke="#dedede" stroke-width="0.55"/>
<line x1="388.7" y1="38.2" x2="388.7" y2="-16.6" stroke="#dedede" stroke-width="0.55"/>
<line x1="409.9" y1="48.7" x2="409.9" y2="-6.1" stroke="#dedede" stroke-width="0.55"/>
<path fill="#0d75dc" d="M325.2 -1.4 331.8 1.6 335.8 3.2 332.8 5.4 328.8 3.8 322.2 0.8Z"/>
<path fill="#1079da" d="M334.5 2.7 337.1 3.7 339.8 4.5 336.8 6.6 334.1 5.9 331.5 4.9Z"/>
<path fill="#127dd8" d="M338.4 4.1 341.1 4.8 342.4 5 339.4 7 338.1 6.9 335.5 6.3Z"/>
<path fill="#1481d6" d="M341.1 4.8 342.4 5 343.7 5 340.8 7 339.4 7 338.1 6.9Z"/>
<path fill="#1485d4" d="M342.4 5 343.7 5 345.1 4.8 342.1 6.8 340.8 7 339.4 7Z"/>
<path fill="#1389d3" d="M343.7 5 345.1 4.8 346.4 4.4 343.4 6.4 342.1 6.8 340.8 7Z"/>
<path fill="#108ed2" d="M345.1 4.8 346.4 4.4 347.7 3.8 344.7 5.8 343.4 6.4 342.1 6.8Z"/>
<path fill="#0998d1" d="M346.4 4.4 347.7 3.8 349 2.8 346.1 4.9 344.7 5.8 343.4 6.4Z"/>
<path fill="#06a0cd" d="M347.7 3.8 349 2.8 350.3 1.6 347.4 3.8 346.1 4.9 344.7 5.8Z"/>
<path fill="#07a9c2" d="M349 2.8 350.3 1.6 351.7 0.1 348.7 2.4 347.4 3.8 346.1 4.9Z"/>
<path fill="#15b1b4" d="M350.3 1.6 351.7 0.1 353 -1.9 350 0.6 348.7 2.4 347.4 3.8Z"/>
<path fill="#38b99e" d="M351.7 0.1 353 -1.9 354.3 -4.1 351.3 -1.4 350 0.6 348.7 2.4Z"/>
<path fill="#65be86" d="M353 -1.9 354.3 -4.1 355.6 -6.7 352.7 -3.7 351.3 -1.4 350 0.6Z"/>
<path fill="#92bf73" d="M354.3 -4.1 355.6 -6.7 357 -9.6 354 -6.3 352.7 -3.7 351.3 -1.4Z"/>
<path fill="#c0bc60" d="M355.6 -6.7 358.3 -12.6 355.3 -8.9 352.7 -3.7Z"/>
<path fill="#f1b94a" d="M357 -9.6 358.3 -12.6 359.6 -15.1 356.6 -11 355.3 -8.9 354 -6.3Z"/>
<path fill="#fcce2e" d="M358.3 -12.6 359.6 -15.1 360.9 -16.5 358 -12.2 356.6 -11 355.3 -8.9Z"/>
<path fill="#f5e41d" d="M359.6 -15.1 360.9 -16.5 362.3 -15.9 359.3 -11.6 358 -12.2 356.6 -11Z"/>
<path fill="#f5eb18" d="M360.9 -16.5 362.3 -15.9 363.6 -13.1 360.6 -8.9 359.3 -11.6 358 -12.2Z"/>
<path fill="#f5e41d" d="M362.3 -15.9 363.6 -13.1 364.9 -8.5 361.9 -4.8 360.6 -8.9 359.3 -11.6Z"/>
<path fill="#fec832" d="M363.6 -13.1 364.9 -8.5 366.2 -2.9 363.3 0.4 361.9 -4.8 360.6 -8.9Z"/>
<path fill="#e1b952" d="M364.9 -8.5 367.6 3.1 364.6 6 363.3 0.4 361.9 -4.8Z"/>
<path fill="#9cbf6f" d="M366.2 -2.9 368.9 8.9 365.9 11.5 363.3 0.4Z"/>
<path fill="#42bb98" d="M367.6 3.1 368.9 8.9 370.2 13.9 367.2 16.3 365.9 11.5 364.6 6Z"/>
<path fill="#0aacbe" d="M368.9 8.9 370.2 13.9 371.5 18 368.5 20.1 367.2 16.3 365.9 11.5Z"/>
<path fill="#0998d1" d="M370.2 13.9 371.5 18 372.8 21.2 369.9 23.2 368.5 20.1 367.2 16.3Z"/>
<path fill="#1481d6" d="M371.5 18 372.8 21.2 374.2 23.8 371.2 25.7 369.9 23.2 368.5 20.1Z"/>
<path fill="#0d75dc" d="M372.8 21.2 374.2 23.8 375.5 25.9 372.5 27.8 371.2 25.7 369.9 23.2Z"/>
<path fill="#0268e1" d="M374.2 23.8 375.5 25.9 376.8 27.7 373.8 29.6 372.5 27.8 371.2 25.7Z"/>
<path fill="#0f5cdd" d="M375.5 25.9 376.8 27.7 378.1 29.2 375.2 31.1 373.8 29.6 372.5 27.8Z"/>
<path fill="#2053d4" d="M376.8 27.7 378.1 29.2 379.5 30.5 376.5 32.5 375.2 31.1 373.8 29.6Z"/>
<path fill="#2c4ac7" d="M378.1 29.2 379.5 30.5 380.8 31.7 377.8 33.6 376.5 32.5 375.2 31.1Z"/>
<path fill="#3243ba" d="M379.5 30.5 382.1 32.7 379.1 34.7 376.5 32.5Z"/>
<path fill="#353dad" d="M380.8 31.7 382.1 32.7 384.8 34.6 381.8 36.6 379.1 34.7 377.8 33.6Z"/>
<path fill="#3637a0" d="M383.4 33.7 386.1 35.4 388.7 37 385.8 39 383.1 37.4 380.5 35.7Z"/>
<path fill="#363093" d="M387.4 36.2 390 37.7 394 39.8 409.9 47.5 406.9 49.5 391 41.8 387.1 39.7 384.4 38.2Z"/>
<path fill="#0d75dc" d="M323.7 -0.3 330.3 2.7 333 3.8 335.6 4.8 332.7 7 330 6 327.4 4.9 320.7 1.9Z"/>
<path fill="#1079da" d="M334.3 4.3 336.9 5.2 339.6 5.8 336.6 7.9 334 7.4 331.3 6.5Z"/>
<path fill="#127dd8" d="M338.3 5.6 339.6 5.8 340.9 6 337.9 8.1 336.6 7.9 335.3 7.7Z"/>
<path fill="#1481d6" d="M339.6 5.8 340.9 6 342.2 6 339.3 8 337.9 8.1 336.6 7.9Z"/>
<path fill="#1485d4" d="M340.9 6 342.2 6 343.6 5.8 340.6 7.9 339.3 8 337.9 8.1Z"/>
<path fill="#1389d3" d="M342.2 6 343.6 5.8 344.9 5.4 341.9 7.5 340.6 7.9 339.3 8Z"/>
<path fill="#108ed2" d="M343.6 5.8 344.9 5.4 346.2 4.8 343.2 6.9 341.9 7.5 340.6 7.9Z"/>
<path fill="#0998d1" d="M344.9 5.4 346.2 4.8 347.5 3.9 344.6 6 343.2 6.9 341.9 7.5Z"/>
<path fill="#06a0cd" d="M346.2 4.8 347.5 3.9 348.9 2.7 345.9 4.9 344.6 6 343.2 6.9Z"/>
<path fill="#07a9c2" d="M347.5 3.9 348.9 2.7 350.2 1.2 347.2 3.5 345.9 4.9 344.6 6Z"/>
<path fill="#15b1b4" d="M348.9 2.7 350.2 1.2 351.5 -0.6 348.5 1.9 347.2 3.5 345.9 4.9Z"/>
<path fill="#2eb7a4" d="M350.2 1.2 351.5 -0.6 352.8 -2.8 349.9 0 348.5 1.9 347.2 3.5Z"/>
<path fill="#59bd8c" d="M351.5 -0.6 352.8 -2.8 354.2 -5.2 351.2 -2.2 349.9 0 348.5 1.9Z"/>
<path fill="#92bf73" d="M352.8 -2.8 354.2 -5.2 355.5 -7.9 352.5 -4.6 351.2 -2.2 349.9 0Z"/>
<path fill="#c0bc60" d="M354.2 -5.2 356.8 -10.7 353.8 -7 351.2 -2.2Z"/>
<path fill="#e9b94e" d="M355.5 -7.9 356.8 -10.7 358.1 -13.1 355.2 -9 353.8 -7 352.5 -4.6Z"/>
<path fill="#fec832" d="M356.8 -10.7 358.1 -13.1 359.4 -14.3 356.5 -10.1 355.2 -9 353.8 -7Z"/>
<path fill="#f7d826" d="M358.1 -13.1 359.4 -14.3 360.8 -13.7 357.8 -9.4 356.5 -10.1 355.2 -9Z"/>
<path fill="#f5e41d" d="M359.4 -14.3 360.8 -13.7 362.1 -11 359.1 -6.9 357.8 -9.4 356.5 -10.1Z"/>
<path fill="#f7d826" d="M360.8 -13.7 362.1 -11 363.4 -6.6 360.4 -2.9 359.1 -6.9 357.8 -9.4Z"/>
<path fill="#ffc337" d="M362.1 -11 363.4 -6.6 364.7 -1.2 361.8 2 360.4 -2.9 359.1 -6.9Z"/>
<path fill="#d9ba56" d="M363.4 -6.6 366.1 4.6 363.1 7.4 361.8 2 360.4 -2.9Z"/>
<path fill="#92bf73" d="M364.7 -1.2 367.4 10.2 364.4 12.8 361.8 2Z"/>
<path fill="#38b99e" d="M366.1 4.6 367.4 10.2 368.7 15.1 365.7 17.4 364.4 12.8 363.1 7.4Z"/>
<path fill="#0aacbe" d="M367.4 10.2 368.7 15.1 370 19 367.1 21.2 365.7 17.4 364.4 12.8Z"/>
<path fill="#0998d1" d="M368.7 15.1 370 19 371.4 22.2 368.4 24.3 367.1 21.2 365.7 17.4Z"/>
<path fill="#1481d6" d="M370 19 371.4 22.2 372.7 24.7 369.7 26.7 368.4 24.3 367.1 21.2Z"/>
<path fill="#0d75dc" d="M371.4 22.2 372.7 24.7 374 26.9 371 28.8 369.7 26.7 368.4 24.3Z"/>
<path fill="#046de0" d="M372.7 24.7 374 26.9 375.3 28.6 372.4 30.6 371 28.8 369.7 26.7Z"/>
<path fill="#0363e1" d="M374 26.9 375.3 28.6 376.7 30.2 373.7 32.1 372.4 30.6 371 28.8Z"/>
<path fill="#2053d4" d="M375.3 28.6 376.7 30.2 378 31.5 375 33.4 373.7 32.1 372.4 30.6Z"/>
<path fill="#2c4ac7" d="M376.7 30.2 378 31.5 379.3 32.7 376.3 34.6 375 33.4 373.7 32.1Z"/>
<path fill="#3243ba" d="M378 31.5 380.6 33.7 377.7 35.7 375 33.4Z"/>
<path fill="#353dad" d="M379.3 32.7 380.6 33.7 383.3 35.6 380.3 37.6 377.7 35.7 376.3 34.6Z"/>
<path fill="#3637a0" d="M381.9 34.7 384.6 36.4 387.2 38 384.3 40 381.6 38.4 379 36.7Z"/>
<path fill="#363093" d="M385.9 37.2 388.6 38.7 392.5 40.8 408.4 48.5 405.4 50.5 389.6 42.8 385.6 40.7 382.9 39.2Z"/>
<path fill="#0d75dc" d="M322.2 0.8 328.8 3.8 331.5 4.9 334.1 5.9 331.2 8 328.5 7.1 325.9 6 319.3 3Z"/>
<path fill="#1079da" d="M332.8 5.4 335.5 6.3 338.1 6.9 335.1 9 332.5 8.4 329.8 7.6Z"/>
<path fill="#127dd8" d="M336.8 6.6 338.1 6.9 339.4 7 336.5 9.1 335.1 9 333.8 8.8Z"/>
<path fill="#1481d6" d="M338.1 6.9 339.4 7 340.8 7 337.8 9.1 336.5 9.1 335.1 9Z"/>
<path fill="#1485d4" d="M339.4 7 340.8 7 342.1 6.8 339.1 8.9 337.8 9.1 336.5 9.1Z"/>
<path fill="#1389d3" d="M340.8 7 342.1 6.8 343.4 6.4 340.4 8.5 339.1 8.9 337.8 9.1Z"/>
<path fill="#108ed2" d="M342.1 6.8 343.4 6.4 344.7 5.8 341.8 7.9 340.4 8.5 339.1 8.9Z"/>
<path fill="#0998d1" d="M343.4 6.4 344.7 5.8 346.1 4.9 343.1 7.1 341.8 7.9 340.4 8.5Z"/>
<path fill="#06a0cd" d="M344.7 5.8 346.1 4.9 347.4 3.8 344.4 6 343.1 7.1 341.8 7.9Z"/>
<path fill="#07a9c2" d="M346.1 4.9 347.4 3.8 348.7 2.4 345.7 4.7 344.4 6 343.1 7.1Z"/>
<path fill="#15b1b4" d="M347.4 3.8 348.7 2.4 350 0.6 347.1 3.2 345.7 4.7 344.4 6Z"/>
<path fill="#2eb7a4" d="M348.7 2.4 350 0.6 351.3 -1.4 348.4 1.4 347.1 3.2 345.7 4.7Z"/>
<path fill="#59bd8c" d="M350 0.6 351.3 -1.4 352.7 -3.7 349.7 -0.7 348.4 1.4 347.1 3.2Z"/>
<path fill="#87bf77" d="M351.3 -1.4 352.7 -3.7 354 -6.3 351 -3 348.4 1.4Z"/>
<path fill="#b7bd64" d="M352.7 -3.7 355.3 -8.9 352.3 -5.2 349.7 -0.7Z"/>
<path fill="#e1b952" d="M354 -6.3 355.3 -8.9 356.6 -11 353.7 -7.1 352.3 -5.2 351 -3Z"/>
<path fill="#fdbe3d" d="M355.3 -8.9 356.6 -11 358 -12.2 355 -8 353.7 -7.1 352.3 -5.2Z"/>
<path fill="#fad32a" d="M356.6 -11 358 -12.2 359.3 -11.6 356.3 -7.3 355 -8 353.7 -7.1Z"/>
<path fill="#f7d826" d="M358 -12.2 359.3 -11.6 360.6 -8.9 357.6 -4.9 356.3 -7.3 355 -8Z"/>
<path fill="#fad32a" d="M359.3 -11.6 360.6 -8.9 361.9 -4.8 359 -1.1 357.6 -4.9 356.3 -7.3Z"/>
<path fill="#f8bb44" d="M360.6 -8.9 361.9 -4.8 363.3 0.4 360.3 3.7 359 -1.1 357.6 -4.9Z"/>
<path fill="#c8bc5d" d="M361.9 -4.8 363.3 0.4 364.6 6 361.6 8.9 360.3 3.7 359 -1.1Z"/>
<path fill="#87bf77" d="M363.3 0.4 365.9 11.5 362.9 14.1 360.3 3.7Z"/>
<path fill="#38b99e" d="M364.6 6 365.9 11.5 367.2 16.3 364.3 18.6 362.9 14.1 361.6 8.9Z"/>
<path fill="#07a9c2" d="M365.9 11.5 367.2 16.3 368.5 20.1 365.6 22.3 364.3 18.6 362.9 14.1Z"/>
<path fill="#0998d1" d="M367.2 16.3 368.5 20.1 369.9 23.2 366.9 25.3 365.6 22.3 364.3 18.6Z"/>
<path fill="#1481d6" d="M368.5 20.1 369.9 23.2 371.2 25.7 368.2 27.8 366.9 25.3 365.6 22.3Z"/>
<path fill="#0d75dc" d="M369.9 23.2 371.2 25.7 372.5 27.8 369.5 29.8 368.2 27.8 366.9 25.3Z"/>
<path fill="#046de0" d="M371.2 25.7 372.5 27.8 373.8 29.6 370.9 31.6 369.5 29.8 368.2 27.8Z"/>
<path fill="#0363e1" d="M372.5 27.8 373.8 29.6 375.2 31.1 372.2 33.1 370.9 31.6 369.5 29.8Z"/>
<path fill="#2053d4" d="M373.8 29.6 375.2 31.1 376.5 32.5 373.5 34.4 372.2 33.1 370.9 31.6Z"/>
<path fill="#2c4ac7" d="M375.2 31.1 376.5 32.5 377.8 33.6 374.8 35.6 373.5 34.4 372.2 33.1Z"/>
<path fill="#3243ba" d="M376.5 32.5 379.1 34.7 376.2 36.7 373.5 34.4Z"/>
<path fill="#353dad" d="M377.8 33.6 379.1 34.7 381.8 36.6 378.8 38.6 376.2 36.7 374.8 35.6Z"/>
<path fill="#3637a0" d="M380.5 35.7 383.1 37.4 385.8 39 382.8 41 380.1 39.5 377.5 37.7Z"/>
<path fill="#363093" d="M384.4 38.2 387.1 39.7 391 41.8 406.9 49.5 404 51.5 400 49.5 388.1 43.8 384.1 41.8 381.5 40.3Z"/>
<path fill="#0871de" d="M320.7 1.9 324.7 3.7 321.7 5.9 317.8 4.1Z"/>
<path fill="#0d75dc" d="M323.4 3.1 328.7 5.5 332.7 7 329.7 9.1 325.7 7.7 320.4 5.3Z"/>
<path fill="#1079da" d="M331.3 6.5 334 7.4 336.6 7.9 333.7 10 331 9.5 328.4 8.7Z"/>
<path fill="#127dd8" d="M335.3 7.7 336.6 7.9 337.9 8.1 335 10.1 333.7 10 332.3 9.8Z"/>
<path fill="#1481d6" d="M336.6 7.9 337.9 8.1 339.3 8 336.3 10.1 335 10.1 333.7 10Z"/>
<path fill="#1485d4" d="M337.9 8.1 339.3 8 340.6 7.9 337.6 9.9 336.3 10.1 335 10.1Z"/>
<path fill="#1389d3" d="M339.3 8 340.6 7.9 341.9 7.5 338.9 9.5 337.6 9.9 336.3 10.1Z"/>
<path fill="#108ed2" d="M340.6 7.9 341.9 7.5 343.2 6.9 340.3 9 338.9 9.5 337.6 9.9Z"/>
<path fill="#0998d1" d="M341.9 7.5 343.2 6.9 344.6 6 341.6 8.2 340.3 9 338.9 9.5Z"/>
<path fill="#06a0cd" d="M343.2 6.9 344.6 6 345.9 4.9 342.9 7.2 341.6 8.2 340.3 9Z"/>
<path fill="#07a9c2" d="M344.6 6 345.9 4.9 347.2 3.5 344.2 5.9 342.9 7.2 341.6 8.2Z"/>
<path fill="#0faeb9" d="M345.9 4.9 347.2 3.5 348.5 1.9 345.6 4.5 344.2 5.9 342.9 7.2Z"/>
<path fill="#2eb7a4" d="M347.2 3.5 348.5 1.9 349.9 0 346.9 2.7 345.6 4.5 344.2 5.9Z"/>
<path fill="#4dbc92" d="M348.5 1.9 349.9 0 351.2 -2.2 348.2 0.8 346.9 2.7 345.6 4.5Z"/>
<path fill="#7cbf7b" d="M349.9 0 351.2 -2.2 352.5 -4.6 349.5 -1.3 346.9 2.7Z"/>
<path fill="#aebe67" d="M351.2 -2.2 353.8 -7 350.9 -3.4 348.2 0.8Z"/>
<path fill="#d9ba56" d="M352.5 -4.6 353.8 -7 355.2 -9 352.2 -5.1 350.9 -3.4 349.5 -1.3Z"/>
<path fill="#f8bb44" d="M353.8 -7 355.2 -9 356.5 -10.1 353.5 -5.9 352.2 -5.1 350.9 -3.4Z"/>
<path fill="#fec832" d="M355.2 -9 356.5 -10.1 357.8 -9.4 354.8 -5.3 353.5 -5.9 352.2 -5.1Z"/>
<path fill="#fcce2e" d="M356.5 -10.1 357.8 -9.4 359.1 -6.9 356.2 -3 354.8 -5.3 353.5 -5.9Z"/>
<path fill="#fec832" d="M357.8 -9.4 359.1 -6.9 360.4 -2.9 357.5 0.7 356.2 -3 354.8 -5.3Z"/>
<path fill="#f1b94a" d="M359.1 -6.9 360.4 -2.9 361.8 2 358.8 5.3 357.5 0.7 356.2 -3Z"/>
<path fill="#c0bc60" d="M360.4 -2.9 361.8 2 363.1 7.4 360.1 10.4 358.8 5.3 357.5 0.7Z"/>
<path fill="#87bf77" d="M361.8 2 364.4 12.8 361.4 15.4 358.8 5.3Z"/>
<path fill="#2eb7a4" d="M363.1 7.4 364.4 12.8 365.7 17.4 362.8 19.8 361.4 15.4 360.1 10.4Z"/>
<path fill="#07a9c2" d="M364.4 12.8 365.7 17.4 367.1 21.2 364.1 23.5 362.8 19.8 361.4 15.4Z"/>
<path fill="#0c93d2" d="M365.7 17.4 367.1 21.2 368.4 24.3 365.4 26.4 364.1 23.5 362.8 19.8Z"/>
<path fill="#1481d6" d="M367.1 21.2 368.4 24.3 369.7 26.7 366.7 28.8 365.4 26.4 364.1 23.5Z"/>
<path fill="#0d75dc" d="M368.4 24.3 369.7 26.7 371 28.8 368.1 30.8 366.7 28.8 365.4 26.4Z"/>
<path fill="#046de0" d="M369.7 26.7 371 28.8 372.4 30.6 369.4 32.6 368.1 30.8 366.7 28.8Z"/>
<path fill="#0363e1" d="M371 28.8 372.4 30.6 373.7 32.1 370.7 34.1 369.4 32.6 368.1 30.8Z"/>
<path fill="#2053d4" d="M372.4 30.6 373.7 32.1 375 33.4 372 35.4 370.7 34.1 369.4 32.6Z"/>
<path fill="#2c4ac7" d="M373.7 32.1 375 33.4 376.3 34.6 373.4 36.6 372 35.4 370.7 34.1Z"/>
<path fill="#3243ba" d="M375 33.4 377.7 35.7 374.7 37.7 372 35.4Z"/>
<path fill="#353dad" d="M376.3 34.6 377.7 35.7 380.3 37.6 377.3 39.6 374.7 37.7 373.4 36.6Z"/>
<path fill="#3637a0" d="M379 36.7 381.6 38.4 384.3 40 381.3 42 378.7 40.5 376 38.7Z"/>
<path fill="#363093" d="M382.9 39.2 385.6 40.7 389.6 42.8 402.8 49.2 399.8 51.1 386.6 44.8 382.6 42.8 380 41.3Z"/>
<path fill="#3637a0" d="M401.5 48.5 405.4 50.5 402.5 52.4 398.5 50.5Z"/>
<path fill="#0871de" d="M319.3 3 324.6 5.4 321.6 7.6 316.3 5.2Z"/>
<path fill="#0d75dc" d="M323.2 4.8 328.5 7.1 331.2 8 332.5 8.4 329.5 10.6 328.2 10.2 325.6 9.3 320.3 7Z"/>
<path fill="#1079da" d="M331.2 8 333.8 8.8 335.1 9 332.2 11.1 330.8 10.9 328.2 10.2Z"/>
<path fill="#127dd8" d="M333.8 8.8 335.1 9 336.5 9.1 333.5 11.2 332.2 11.1 330.8 10.9Z"/>
<path fill="#1481d6" d="M335.1 9 336.5 9.1 337.8 9.1 334.8 11.2 333.5 11.2 332.2 11.1Z"/>
<path fill="#1485d4" d="M336.5 9.1 337.8 9.1 339.1 8.9 336.1 11 334.8 11.2 333.5 11.2Z"/>
<path fill="#1389d3" d="M337.8 9.1 339.1 8.9 340.4 8.5 337.5 10.6 336.1 11 334.8 11.2Z"/>
<path fill="#108ed2" d="M339.1 8.9 340.4 8.5 341.8 7.9 338.8 10.1 337.5 10.6 336.1 11Z"/>
<path fill="#0998d1" d="M340.4 8.5 341.8 7.9 343.1 7.1 340.1 9.3 338.8 10.1 337.5 10.6Z"/>
<path fill="#06a0cd" d="M341.8 7.9 343.1 7.1 344.4 6 341.4 8.3 340.1 9.3 338.8 10.1Z"/>
<path fill="#06a7c6" d="M343.1 7.1 344.4 6 345.7 4.7 342.8 7.2 341.4 8.3 340.1 9.3Z"/>
<path fill="#0faeb9" d="M344.4 6 345.7 4.7 347.1 3.2 344.1 5.8 342.8 7.2 341.4 8.3Z"/>
<path fill="#25b5a9" d="M345.7 4.7 347.1 3.2 348.4 1.4 345.4 4.1 344.1 5.8 342.8 7.2Z"/>
<path fill="#4dbc92" d="M347.1 3.2 348.4 1.4 349.7 -0.7 346.7 2.3 345.4 4.1 344.1 5.8Z"/>
<path fill="#7cbf7b" d="M348.4 1.4 351 -3 348.1 0.3 345.4 4.1Z"/>
<path fill="#a5be6b" d="M349.7 -0.7 352.3 -5.2 349.4 -1.6 346.7 2.3Z"/>
<path fill="#c8bc5d" d="M351 -3 352.3 -5.2 353.7 -7.1 350.7 -3.2 349.4 -1.6 348.1 0.3Z"/>
<path fill="#e9b94e" d="M352.3 -5.2 353.7 -7.1 355 -8 352 -3.9 350.7 -3.2 349.4 -1.6Z"/>
<path fill="#ffc337" d="M353.7 -7.1 355 -8 356.3 -7.3 353.3 -3.2 352 -3.9 350.7 -3.2Z"/>
<path fill="#fec832" d="M355 -8 356.3 -7.3 357.6 -4.9 354.7 -1 353.3 -3.2 352 -3.9Z"/>
<path fill="#fdbe3d" d="M356.3 -7.3 357.6 -4.9 359 -1.1 356 2.5 354.7 -1 353.3 -3.2Z"/>
<path fill="#e9b94e" d="M357.6 -4.9 359 -1.1 360.3 3.7 357.3 6.9 356 2.5 354.7 -1Z"/>
<path fill="#b7bd64" d="M359 -1.1 360.3 3.7 361.6 8.9 358.6 11.8 357.3 6.9 356 2.5Z"/>
<path fill="#7cbf7b" d="M360.3 3.7 362.9 14.1 360 16.7 357.3 6.9Z"/>
<path fill="#2eb7a4" d="M361.6 8.9 362.9 14.1 364.3 18.6 361.3 21 360 16.7 358.6 11.8Z"/>
<path fill="#06a7c6" d="M362.9 14.1 364.3 18.6 365.6 22.3 362.6 24.6 361.3 21 360 16.7Z"/>
<path fill="#0c93d2" d="M364.3 18.6 365.6 22.3 366.9 25.3 363.9 27.5 362.6 24.6 361.3 21Z"/>
<path fill="#1481d6" d="M365.6 22.3 366.9 25.3 368.2 27.8 365.3 29.8 363.9 27.5 362.6 24.6Z"/>
<path fill="#0d75dc" d="M366.9 25.3 368.2 27.8 369.5 29.8 366.6 31.8 365.3 29.8 363.9 27.5Z"/>
<path fill="#046de0" d="M368.2 27.8 369.5 29.8 370.9 31.6 367.9 33.5 366.6 31.8 365.3 29.8Z"/>
<path fill="#0363e1" d="M369.5 29.8 370.9 31.6 372.2 33.1 369.2 35.1 367.9 33.5 366.6 31.8Z"/>
<path fill="#2053d4" d="M370.9 31.6 372.2 33.1 373.5 34.4 370.5 36.4 369.2 35.1 367.9 33.5Z"/>
<path fill="#2c4ac7" d="M372.2 33.1 373.5 34.4 374.8 35.6 371.9 37.6 370.5 36.4 369.2 35.1Z"/>
<path fill="#3243ba" d="M373.5 34.4 376.2 36.7 373.2 38.7 370.5 36.4Z"/>
<path fill="#353dad" d="M374.8 35.6 376.2 36.7 378.8 38.6 375.8 40.6 373.2 38.7 371.9 37.6Z"/>
<path fill="#3637a0" d="M377.5 37.7 380.1 39.5 384.1 41.8 381.1 43.8 377.2 41.5 374.5 39.7Z"/>
<path fill="#363093" d="M382.8 41 385.4 42.5 389.4 44.5 398.7 48.9 395.7 50.8 386.4 46.5 382.5 44.5 379.8 43Z"/>
<path fill="#3637a0" d="M397.3 48.2 404 51.5 401 53.4 394.4 50.2Z"/>
<path fill="#0871de" d="M317.8 4.1 324.4 7.1 321.4 9.3 314.8 6.3Z"/>
<path fill="#0d75dc" d="M323.1 6.5 327 8.2 329.7 9.1 331 9.5 328 11.6 326.7 11.3 324.1 10.4 320.1 8.7Z"/>
<path fill="#1079da" d="M329.7 9.1 332.3 9.8 333.7 10 330.7 12.1 329.4 11.9 326.7 11.3Z"/>
<path fill="#127dd8" d="M332.3 9.8 333.7 10 335 10.1 332 12.2 330.7 12.1 329.4 11.9Z"/>
<path fill="#1481d6" d="M333.7 10 335 10.1 336.3 10.1 333.3 12.2 332 12.2 330.7 12.1Z"/>
<path fill="#1485d4" d="M335 10.1 336.3 10.1 337.6 9.9 334.7 12 333.3 12.2 332 12.2Z"/>
<path fill="#1389d3" d="M336.3 10.1 337.6 9.9 338.9 9.5 336 11.7 334.7 12 333.3 12.2Z"/>
<path fill="#108ed2" d="M337.6 9.9 338.9 9.5 340.3 9 337.3 11.1 336 11.7 334.7 12Z"/>
<path fill="#0998d1" d="M338.9 9.5 340.3 9 341.6 8.2 338.6 10.4 337.3 11.1 336 11.7Z"/>
<path fill="#06a0cd" d="M340.3 9 341.6 8.2 342.9 7.2 339.9 9.5 338.6 10.4 337.3 11.1Z"/>
<path fill="#06a7c6" d="M341.6 8.2 342.9 7.2 344.2 5.9 341.3 8.4 339.9 9.5 338.6 10.4Z"/>
<path fill="#0faeb9" d="M342.9 7.2 344.2 5.9 345.6 4.5 342.6 7.1 341.3 8.4 339.9 9.5Z"/>
<path fill="#25b5a9" d="M344.2 5.9 345.6 4.5 346.9 2.7 343.9 5.5 342.6 7.1 341.3 8.4Z"/>
<path fill="#42bb98" d="M345.6 4.5 346.9 2.7 348.2 0.8 345.2 3.8 343.9 5.5 342.6 7.1Z"/>
<path fill="#71bf80" d="M346.9 2.7 349.5 -1.3 346.6 2 343.9 5.5Z"/>
<path fill="#9cbf6f" d="M348.2 0.8 350.9 -3.4 347.9 0.2 345.2 3.8Z"/>
<path fill="#c0bc60" d="M349.5 -1.3 350.9 -3.4 352.2 -5.1 349.2 -1.3 347.9 0.2 346.6 2Z"/>
<path fill="#e1b952" d="M350.9 -3.4 352.2 -5.1 353.5 -5.9 350.5 -1.9 349.2 -1.3 347.9 0.2Z"/>
<path fill="#f8bb44" d="M352.2 -5.1 353.5 -5.9 354.8 -5.3 351.9 -1.2 350.5 -1.9 349.2 -1.3Z"/>
<path fill="#fdbe3d" d="M353.5 -5.9 354.8 -5.3 356.2 -3 353.2 0.9 351.9 -1.2 350.5 -1.9Z"/>
<path fill="#f8bb44" d="M354.8 -5.3 356.2 -3 357.5 0.7 354.5 4.3 353.2 0.9 351.9 -1.2Z"/>
<path fill="#d9ba56" d="M356.2 -3 357.5 0.7 358.8 5.3 355.8 8.5 354.5 4.3 353.2 0.9Z"/>
<path fill="#aebe67" d="M357.5 0.7 358.8 5.3 360.1 10.4 357.2 13.3 355.8 8.5 354.5 4.3Z"/>
<path fill="#71bf80" d="M358.8 5.3 361.4 15.4 358.5 18 355.8 8.5Z"/>
<path fill="#25b5a9" d="M360.1 10.4 361.4 15.4 362.8 19.8 359.8 22.2 358.5 18 357.2 13.3Z"/>
<path fill="#06a7c6" d="M361.4 15.4 362.8 19.8 364.1 23.5 361.1 25.7 359.8 22.2 358.5 18Z"/>
<path fill="#0c93d2" d="M362.8 19.8 364.1 23.5 365.4 26.4 362.4 28.5 361.1 25.7 359.8 22.2Z"/>
<path fill="#1481d6" d="M364.1 23.5 365.4 26.4 366.7 28.8 363.8 30.9 362.4 28.5 361.1 25.7Z"/>
<path fill="#0d75dc" d="M365.4 26.4 366.7 28.8 368.1 30.8 365.1 32.8 363.8 30.9 362.4 28.5Z"/>
<path fill="#046de0" d="M366.7 28.8 368.1 30.8 369.4 32.6 366.4 34.5 365.1 32.8 363.8 30.9Z"/>
<path fill="#0363e1" d="M368.1 30.8 369.4 32.6 370.7 34.1 367.7 36.1 366.4 34.5 365.1 32.8Z"/>
<path fill="#2053d4" d="M369.4 32.6 370.7 34.1 372 35.4 369.1 37.4 367.7 36.1 366.4 34.5Z"/>
<path fill="#2c4ac7" d="M370.7 34.1 372 35.4 373.4 36.6 370.4 38.6 367.7 36.1Z"/>
<path fill="#3243ba" d="M372 35.4 374.7 37.7 371.7 39.7 369.1 37.4Z"/>
<path fill="#353dad" d="M373.4 36.6 374.7 37.7 377.3 39.6 374.4 41.6 371.7 39.7 370.4 38.6Z"/>
<path fill="#3637a0" d="M376 38.7 378.7 40.5 382.6 42.8 379.7 44.8 375.7 42.5 373 40.7Z"/>
<path fill="#363093" d="M381.3 42 383.9 43.5 387.9 45.5 397.2 49.8 394.2 51.8 384.9 47.5 381 45.5 378.3 44.1Z"/>
<path fill="#3637a0" d="M395.9 49.2 402.5 52.4 399.5 54.4 392.9 51.2Z"/>
<path fill="#0871de" d="M316.3 5.2 320.3 7 324.2 8.8 321.3 10.9 317.3 9.3 313.3 7.4Z"/>
<path fill="#0d75dc" d="M322.9 8.2 326.9 9.8 329.5 10.6 326.6 12.7 323.9 11.9 319.9 10.4Z"/>
<path fill="#1079da" d="M328.2 10.2 330.8 10.9 332.2 11.1 329.2 13.2 327.9 13 325.2 12.4Z"/>
<path fill="#127dd8" d="M330.8 10.9 332.2 11.1 333.5 11.2 330.5 13.3 329.2 13.2 327.9 13Z"/>
<path fill="#1481d6" d="M332.2 11.1 333.5 11.2 334.8 11.2 331.8 13.2 330.5 13.3 329.2 13.2Z"/>
<path fill="#1485d4" d="M333.5 11.2 334.8 11.2 336.1 11 333.2 13.1 331.8 13.2 330.5 13.3Z"/>
<path fill="#1389d3" d="M334.8 11.2 336.1 11 337.5 10.6 334.5 12.7 333.2 13.1 331.8 13.2Z"/>
<path fill="#108ed2" d="M336.1 11 337.5 10.6 338.8 10.1 335.8 12.2 334.5 12.7 333.2 13.1Z"/>
<path fill="#0998d1" d="M337.5 10.6 338.8 10.1 340.1 9.3 337.1 11.6 335.8 12.2 334.5 12.7Z"/>
<path fill="#06a0cd" d="M338.8 10.1 340.1 9.3 341.4 8.3 338.5 10.7 337.1 11.6 335.8 12.2Z"/>
<path fill="#06a7c6" d="M340.1 9.3 341.4 8.3 342.8 7.2 339.8 9.6 338.5 10.7 337.1 11.6Z"/>
<path fill="#0faeb9" d="M341.4 8.3 342.8 7.2 344.1 5.8 341.1 8.4 339.8 9.6 338.5 10.7Z"/>
<path fill="#25b5a9" d="M342.8 7.2 344.1 5.8 345.4 4.1 342.4 6.9 341.1 8.4 339.8 9.6Z"/>
<path fill="#42bb98" d="M344.1 5.8 345.4 4.1 346.7 2.3 343.8 5.3 342.4 6.9 341.1 8.4Z"/>
<path fill="#71bf80" d="M345.4 4.1 348.1 0.3 345.1 3.6 342.4 6.9Z"/>
<path fill="#92bf73" d="M346.7 2.3 349.4 -1.6 346.4 1.9 343.8 5.3Z"/>
<path fill="#b7bd64" d="M348.1 0.3 349.4 -1.6 350.7 -3.2 347.7 0.6 346.4 1.9 345.1 3.6Z"/>
<path fill="#d9ba56" d="M349.4 -1.6 350.7 -3.2 352 -3.9 349 0.1 347.7 0.6 346.4 1.9Z"/>
<path fill="#f1b94a" d="M350.7 -3.2 352 -3.9 353.3 -3.2 350.4 0.7 349 0.1 347.7 0.6Z"/>
<path fill="#f8bb44" d="M352 -3.9 353.3 -3.2 354.7 -1 351.7 2.8 350.4 0.7 349 0.1Z"/>
<path fill="#e9b94e" d="M353.3 -3.2 354.7 -1 356 2.5 353 6 351.7 2.8 350.4 0.7Z"/>
<path fill="#d1bb59" d="M354.7 -1 356 2.5 357.3 6.9 354.3 10.1 353 6 351.7 2.8Z"/>
<path fill="#a5be6b" d="M356 2.5 357.3 6.9 358.6 11.8 355.7 14.7 354.3 10.1 353 6Z"/>
<path fill="#65be86" d="M357.3 6.9 360 16.7 357 19.3 354.3 10.1Z"/>
<path fill="#25b5a9" d="M358.6 11.8 360 16.7 361.3 21 358.3 23.5 357 19.3 355.7 14.7Z"/>
<path fill="#06a7c6" d="M360 16.7 361.3 21 362.6 24.6 359.6 26.9 358.3 23.5 357 19.3Z"/>
<path fill="#0c93d2" d="M361.3 21 362.6 24.6 363.9 27.5 361 29.6 359.6 26.9 358.3 23.5Z"/>
<path fill="#1481d6" d="M362.6 24.6 363.9 27.5 365.3 29.8 362.3 31.9 361 29.6 359.6 26.9Z"/>
<path fill="#0d75dc" d="M363.9 27.5 365.3 29.8 366.6 31.8 363.6 33.9 362.3 31.9 361 29.6Z"/>
<path fill="#046de0" d="M365.3 29.8 366.6 31.8 367.9 33.5 364.9 35.6 363.6 33.9 362.3 31.9Z"/>
<path fill="#0363e1" d="M366.6 31.8 367.9 33.5 369.2 35.1 366.3 37.1 364.9 35.6 363.6 33.9Z"/>
<path fill="#2053d4" d="M367.9 33.5 369.2 35.1 370.5 36.4 367.6 38.4 366.3 37.1 364.9 35.6Z"/>
<path fill="#2c4ac7" d="M369.2 35.1 370.5 36.4 371.9 37.6 368.9 39.6 366.3 37.1Z"/>
<path fill="#3243ba" d="M370.5 36.4 373.2 38.7 370.2 40.7 367.6 38.4Z"/>
<path fill="#353dad" d="M371.9 37.6 373.2 38.7 375.8 40.6 372.9 42.6 370.2 40.7 368.9 39.6Z"/>
<path fill="#3637a0" d="M374.5 39.7 377.2 41.5 381.1 43.8 378.2 45.8 374.2 43.5 371.5 41.7Z"/>
<path fill="#363093" d="M379.8 43 385.1 45.8 394.4 50.2 391.4 52.2 382.1 47.9 376.8 45.1Z"/>
<path fill="#3637a0" d="M393 49.6 401 53.4 398 55.4 390.1 51.6Z"/>
<path fill="#0871de" d="M314.8 6.3 320.1 8.7 324.1 10.4 321.1 12.5 317.1 10.9 311.8 8.6Z"/>
<path fill="#0d75dc" d="M322.7 9.8 325.4 10.8 328 11.6 325.1 13.8 322.4 13 319.8 12Z"/>
<path fill="#1079da" d="M326.7 11.3 329.4 11.9 330.7 12.1 327.7 14.3 326.4 14.1 323.7 13.4Z"/>
<path fill="#127dd8" d="M329.4 11.9 330.7 12.1 332 12.2 329 14.3 327.7 14.3 326.4 14.1Z"/>
<path fill="#1481d6" d="M330.7 12.1 332 12.2 333.3 12.2 334.7 12 331.7 14.1 330.4 14.3 329 14.3 327.7 14.3Z"/>
<path fill="#1389d3" d="M333.3 12.2 334.7 12 336 11.7 333 13.8 331.7 14.1 330.4 14.3Z"/>
<path fill="#108ed2" d="M334.7 12 336 11.7 337.3 11.1 334.3 13.3 333 13.8 331.7 14.1Z"/>
<path fill="#0998d1" d="M336 11.7 337.3 11.1 338.6 10.4 335.7 12.7 334.3 13.3 333 13.8Z"/>
<path fill="#06a0cd" d="M337.3 11.1 338.6 10.4 339.9 9.5 337 11.9 335.7 12.7 334.3 13.3Z"/>
<path fill="#06a7c6" d="M338.6 10.4 339.9 9.5 341.3 8.4 338.3 10.9 337 11.9 335.7 12.7Z"/>
<path fill="#0aacbe" d="M339.9 9.5 341.3 8.4 342.6 7.1 339.6 9.7 338.3 10.9 337 11.9Z"/>
<path fill="#1db3af" d="M341.3 8.4 342.6 7.1 343.9 5.5 340.9 8.3 339.6 9.7 338.3 10.9Z"/>
<path fill="#38b99e" d="M342.6 7.1 343.9 5.5 345.2 3.8 342.3 6.8 340.9 8.3 339.6 9.7Z"/>
<path fill="#65be86" d="M343.9 5.5 346.6 2 343.6 5.2 340.9 8.3Z"/>
<path fill="#92bf73" d="M345.2 3.8 347.9 0.2 344.9 3.7 342.3 6.8Z"/>
<path fill="#aebe67" d="M346.6 2 347.9 0.2 349.2 -1.3 346.2 2.5 344.9 3.7 343.6 5.2Z"/>
<path fill="#d1bb59" d="M347.9 0.2 349.2 -1.3 350.5 -1.9 347.6 2 346.2 2.5 344.9 3.7Z"/>
<path fill="#e1b952" d="M349.2 -1.3 350.5 -1.9 351.9 -1.2 348.9 2.7 347.6 2 346.2 2.5Z"/>
<path fill="#e9b94e" d="M350.5 -1.9 351.9 -1.2 353.2 0.9 350.2 4.6 348.9 2.7 347.6 2Z"/>
<path fill="#e1b952" d="M351.9 -1.2 353.2 0.9 354.5 4.3 351.5 7.8 350.2 4.6 348.9 2.7Z"/>
<path fill="#c8bc5d" d="M353.2 0.9 354.5 4.3 355.8 8.5 352.9 11.7 351.5 7.8 350.2 4.6Z"/>
<path fill="#9cbf6f" d="M354.5 4.3 355.8 8.5 357.2 13.3 354.2 16.2 352.9 11.7 351.5 7.8Z"/>
<path fill="#59bd8c" d="M355.8 8.5 358.5 18 355.5 20.7 352.9 11.7Z"/>
<path fill="#1db3af" d="M357.2 13.3 358.5 18 359.8 22.2 356.8 24.7 355.5 20.7 354.2 16.2Z"/>
<path fill="#06a4ca" d="M358.5 18 359.8 22.2 361.1 25.7 358.2 28 356.8 24.7 355.5 20.7Z"/>
<path fill="#0c93d2" d="M359.8 22.2 361.1 25.7 362.4 28.5 359.5 30.7 358.2 28 356.8 24.7Z"/>
<path fill="#1481d6" d="M361.1 25.7 362.4 28.5 363.8 30.9 360.8 33 359.5 30.7 358.2 28Z"/>
<path fill="#0d75dc" d="M362.4 28.5 363.8 30.9 365.1 32.8 362.1 34.9 360.8 33 359.5 30.7Z"/>
<path fill="#046de0" d="M363.8 30.9 365.1 32.8 366.4 34.5 363.4 36.6 362.1 34.9 360.8 33Z"/>
<path fill="#0363e1" d="M365.1 32.8 366.4 34.5 367.7 36.1 364.8 38.1 363.4 36.6 362.1 34.9Z"/>
<path fill="#2053d4" d="M366.4 34.5 367.7 36.1 369.1 37.4 366.1 39.4 364.8 38.1 363.4 36.6Z"/>
<path fill="#2c4ac7" d="M367.7 36.1 370.4 38.6 367.4 40.6 364.8 38.1Z"/>
<path fill="#3243ba" d="M369.1 37.4 371.7 39.7 368.7 41.7 366.1 39.4Z"/>
<path fill="#353dad" d="M370.4 38.6 371.7 39.7 374.4 41.6 371.4 43.6 368.7 41.7 367.4 40.6Z"/>
<path fill="#3637a0" d="M373 40.7 375.7 42.5 379.7 44.8 376.7 46.8 372.7 44.5 370.1 42.7Z"/>
<path fill="#363093" d="M378.3 44.1 383.6 46.9 391.6 50.6 388.6 52.6 380.6 48.9 375.4 46.1Z"/>
<path fill="#3637a0" d="M390.2 50 395.5 52.5 399.5 54.4 396.5 56.4 392.6 54.4 387.3 52Z"/>
<path fill="#0871de" d="M313.3 7.4 318.6 9.8 322.6 11.5 319.6 13.6 315.6 12 310.3 9.7Z"/>
<path fill="#0d75dc" d="M321.3 10.9 323.9 11.9 326.6 12.7 323.6 14.9 320.9 14.1 318.3 13.1Z"/>
<path fill="#1079da" d="M325.2 12.4 327.9 13 329.2 13.2 326.2 15.3 324.9 15.1 322.3 14.5Z"/>
<path fill="#127dd8" d="M327.9 13 329.2 13.2 330.5 13.3 331.8 13.2 328.9 15.4 327.6 15.4 326.2 15.3 324.9 15.1Z"/>
<path fill="#1481d6" d="M330.5 13.3 331.8 13.2 333.2 13.1 330.2 15.2 328.9 15.4 327.6 15.4Z"/>
<path fill="#1389d3" d="M331.8 13.2 333.2 13.1 334.5 12.7 331.5 14.9 330.2 15.2 328.9 15.4Z"/>
<path fill="#108ed2" d="M333.2 13.1 334.5 12.7 335.8 12.2 332.8 14.4 331.5 14.9 330.2 15.2Z"/>
<path fill="#0998d1" d="M334.5 12.7 335.8 12.2 337.1 11.6 334.2 13.8 332.8 14.4 331.5 14.9Z"/>
<path fill="#06a0cd" d="M335.8 12.2 337.1 11.6 338.5 10.7 335.5 13.1 334.2 13.8 332.8 14.4Z"/>
<path fill="#06a7c6" d="M337.1 11.6 338.5 10.7 339.8 9.6 336.8 12.1 335.5 13.1 334.2 13.8Z"/>
<path fill="#0aacbe" d="M338.5 10.7 339.8 9.6 341.1 8.4 338.1 11 336.8 12.1 335.5 13.1Z"/>
<path fill="#1db3af" d="M339.8 9.6 341.1 8.4 342.4 6.9 339.5 9.7 338.1 11 336.8 12.1Z"/>
<path fill="#38b99e" d="M341.1 8.4 342.4 6.9 343.8 5.3 340.8 8.3 339.5 9.7 338.1 11Z"/>
<path fill="#59bd8c" d="M342.4 6.9 345.1 3.6 342.1 6.8 339.5 9.7Z"/>
<path fill="#87bf77" d="M343.8 5.3 346.4 1.9 343.4 5.4 340.8 8.3Z"/>
<path fill="#a5be6b" d="M345.1 3.6 346.4 1.9 347.7 0.6 344.8 4.3 343.4 5.4 342.1 6.8Z"/>
<path fill="#c0bc60" d="M346.4 1.9 347.7 0.6 349 0.1 346.1 3.9 344.8 4.3 343.4 5.4Z"/>
<path fill="#d9ba56" d="M347.7 0.6 349 0.1 350.4 0.7 347.4 4.6 346.1 3.9 344.8 4.3Z"/>
<path fill="#e1b952" d="M349 0.1 350.4 0.7 351.7 2.8 348.7 6.5 347.4 4.6 346.1 3.9Z"/>
<path fill="#d9ba56" d="M350.4 0.7 351.7 2.8 353 6 350 9.5 348.7 6.5 347.4 4.6Z"/>
<path fill="#c0bc60" d="M351.7 2.8 353 6 354.3 10.1 351.4 13.3 350 9.5 348.7 6.5Z"/>
<path fill="#92bf73" d="M353 6 354.3 10.1 355.7 14.7 352.7 17.6 351.4 13.3 350 9.5Z"/>
<path fill="#59bd8c" d="M354.3 10.1 357 19.3 354 22 351.4 13.3Z"/>
<path fill="#1db3af" d="M355.7 14.7 357 19.3 358.3 23.5 355.3 25.9 354 22 352.7 17.6Z"/>
<path fill="#06a4ca" d="M357 19.3 358.3 23.5 359.6 26.9 356.7 29.2 355.3 25.9 354 22Z"/>
<path fill="#108ed2" d="M358.3 23.5 359.6 26.9 361 29.6 358 31.8 356.7 29.2 355.3 25.9Z"/>
<path fill="#1481d6" d="M359.6 26.9 361 29.6 362.3 31.9 359.3 34 358 31.8 356.7 29.2Z"/>
<path fill="#0d75dc" d="M361 29.6 362.3 31.9 363.6 33.9 360.6 35.9 359.3 34 358 31.8Z"/>
<path fill="#046de0" d="M362.3 31.9 363.6 33.9 364.9 35.6 362 37.6 360.6 35.9 359.3 34Z"/>
<path fill="#0363e1" d="M363.6 33.9 364.9 35.6 366.3 37.1 363.3 39.1 362 37.6 360.6 35.9Z"/>
<path fill="#2053d4" d="M364.9 35.6 366.3 37.1 367.6 38.4 364.6 40.4 363.3 39.1 362 37.6Z"/>
<path fill="#2c4ac7" d="M366.3 37.1 368.9 39.6 365.9 41.6 363.3 39.1Z"/>
<path fill="#3243ba" d="M367.6 38.4 368.9 39.6 371.5 41.7 368.6 43.7 365.9 41.6 364.6 40.4Z"/>
<path fill="#353dad" d="M370.2 40.7 372.9 42.6 369.9 44.6 367.3 42.7Z"/>
<path fill="#3637a0" d="M371.5 41.7 374.2 43.5 378.2 45.8 375.2 47.8 371.2 45.5 368.6 43.7Z"/>
<path fill="#363093" d="M376.8 45.1 382.1 47.9 390.1 51.6 387.1 53.6 379.2 49.9 373.9 47.1Z"/>
<path fill="#3637a0" d="M388.8 51 394 53.4 398 55.4 395 57.4 391.1 55.4 385.8 53Z"/>
<path fill="#0871de" d="M311.8 8.6 318.4 11.5 322.4 13 319.4 15.2 315.5 13.7 308.9 10.8Z"/>
<path fill="#0d75dc" d="M321.1 12.5 323.7 13.4 326.4 14.1 323.4 16.2 320.8 15.6 318.1 14.7Z"/>
<path fill="#1079da" d="M325.1 13.8 327.7 14.3 324.7 16.4 322.1 15.9Z"/>
<path fill="#127dd8" d="M326.4 14.1 327.7 14.3 329 14.3 330.4 14.3 327.4 16.4 326.1 16.5 323.4 16.2Z"/>
<path fill="#1481d6" d="M329 14.3 330.4 14.3 331.7 14.1 328.7 16.3 327.4 16.4 326.1 16.5Z"/>
<path fill="#1389d3" d="M330.4 14.3 331.7 14.1 333 13.8 330 16 328.7 16.3 327.4 16.4Z"/>
<path fill="#108ed2" d="M331.7 14.1 333 13.8 334.3 13.3 331.4 15.6 330 16 328.7 16.3Z"/>
<path fill="#0998d1" d="M333 13.8 334.3 13.3 335.7 12.7 332.7 15 331.4 15.6 330 16Z"/>
<path fill="#079ccf" d="M334.3 13.3 335.7 12.7 337 11.9 334 14.3 332.7 15 331.4 15.6Z"/>
<path fill="#06a7c6" d="M335.7 12.7 337 11.9 338.3 10.9 335.3 13.4 334 14.3 332.7 15Z"/>
<path fill="#0aacbe" d="M337 11.9 338.3 10.9 339.6 9.7 336.7 12.3 335.3 13.4 334 14.3Z"/>
<path fill="#1db3af" d="M338.3 10.9 339.6 9.7 340.9 8.3 338 11.1 336.7 12.3 335.3 13.4Z"/>
<path fill="#2eb7a4" d="M339.6 9.7 340.9 8.3 342.3 6.8 339.3 9.8 336.7 12.3Z"/>
<path fill="#59bd8c" d="M340.9 8.3 343.6 5.2 340.6 8.4 338 11.1Z"/>
<path fill="#7cbf7b" d="M342.3 6.8 344.9 3.7 341.9 7.1 339.3 9.8Z"/>
<path fill="#9cbf6f" d="M343.6 5.2 344.9 3.7 346.2 2.5 343.3 6.1 341.9 7.1 340.6 8.4Z"/>
<path fill="#b7bd64" d="M344.9 3.7 346.2 2.5 347.6 2 344.6 5.8 343.3 6.1 341.9 7.1Z"/>
<path fill="#d1bb59" d="M346.2 2.5 347.6 2 348.9 2.7 350.2 4.6 347.2 8.3 345.9 6.5 344.6 5.8 343.3 6.1Z"/>
<path fill="#c8bc5d" d="M348.9 2.7 350.2 4.6 351.5 7.8 348.6 11.2 347.2 8.3 345.9 6.5Z"/>
<path fill="#aebe67" d="M350.2 4.6 351.5 7.8 352.9 11.7 349.9 14.9 348.6 11.2 347.2 8.3Z"/>
<path fill="#87bf77" d="M351.5 7.8 352.9 11.7 354.2 16.2 351.2 19.1 349.9 14.9 348.6 11.2Z"/>
<path fill="#4dbc92" d="M352.9 11.7 355.5 20.7 352.5 23.3 349.9 14.9Z"/>
<path fill="#15b1b4" d="M354.2 16.2 355.5 20.7 356.8 24.7 353.9 27.2 352.5 23.3 351.2 19.1Z"/>
<path fill="#06a4ca" d="M355.5 20.7 356.8 24.7 358.2 28 355.2 30.3 353.9 27.2 352.5 23.3Z"/>
<path fill="#108ed2" d="M356.8 24.7 358.2 28 359.5 30.7 356.5 32.9 355.2 30.3 353.9 27.2Z"/>
<path fill="#127dd8" d="M358.2 28 359.5 30.7 360.8 33 357.8 35.1 356.5 32.9 355.2 30.3Z"/>
<path fill="#0d75dc" d="M359.5 30.7 360.8 33 362.1 34.9 359.2 37 357.8 35.1 356.5 32.9Z"/>
<path fill="#046de0" d="M360.8 33 362.1 34.9 363.4 36.6 360.5 38.6 359.2 37 357.8 35.1Z"/>
<path fill="#0363e1" d="M362.1 34.9 363.4 36.6 364.8 38.1 361.8 40.1 360.5 38.6 359.2 37Z"/>
<path fill="#2053d4" d="M363.4 36.6 364.8 38.1 366.1 39.4 363.1 41.4 360.5 38.6Z"/>
<path fill="#2c4ac7" d="M364.8 38.1 367.4 40.6 364.4 42.6 361.8 40.1Z"/>
<path fill="#3243ba" d="M366.1 39.4 367.4 40.6 370.1 42.7 367.1 44.7 364.4 42.6 363.1 41.4Z"/>
<path fill="#353dad" d="M368.7 41.7 371.4 43.6 368.4 45.6 365.8 43.7Z"/>
<path fill="#3637a0" d="M370.1 42.7 372.7 44.5 376.7 46.8 373.7 48.9 369.7 46.5 367.1 44.7Z"/>
<path fill="#363093" d="M375.4 46.1 380.6 48.9 388.6 52.6 385.6 54.6 377.7 50.9 372.4 48.1Z"/>
<path fill="#3637a0" d="M387.3 52 392.6 54.4 396.5 56.4 393.6 58.4 389.6 56.4 384.3 54Z"/>
<path fill="#046de0" d="M310.3 9.7 313 10.9 310 13.1 307.4 11.9Z"/>
<path fill="#0871de" d="M311.7 10.3 317 12.6 320.9 14.1 318 16.3 314 14.8 308.7 12.5Z"/>
<path fill="#0d75dc" d="M319.6 13.6 322.3 14.5 324.9 15.1 321.9 17.3 319.3 16.7 316.6 15.8Z"/>
<path fill="#1079da" d="M323.6 14.9 326.2 15.3 323.3 17.4 320.6 17Z"/>
<path fill="#127dd8" d="M324.9 15.1 326.2 15.3 327.6 15.4 328.9 15.4 325.9 17.5 324.6 17.5 321.9 17.3Z"/>
<path fill="#1481d6" d="M327.6 15.4 328.9 15.4 330.2 15.2 327.2 17.4 325.9 17.5 324.6 17.5Z"/>
<path fill="#1485d4" d="M328.9 15.4 330.2 15.2 331.5 14.9 328.5 17.1 327.2 17.4 325.9 17.5Z"/>
<path fill="#108ed2" d="M330.2 15.2 331.5 14.9 332.8 14.4 329.9 16.7 328.5 17.1 327.2 17.4Z"/>
<path fill="#0c93d2" d="M331.5 14.9 332.8 14.4 334.2 13.8 331.2 16.2 329.9 16.7 328.5 17.1Z"/>
<path fill="#079ccf" d="M332.8 14.4 334.2 13.8 335.5 13.1 332.5 15.5 331.2 16.2 329.9 16.7Z"/>
<path fill="#06a4ca" d="M334.2 13.8 335.5 13.1 336.8 12.1 333.8 14.6 332.5 15.5 331.2 16.2Z"/>
<path fill="#0aacbe" d="M335.5 13.1 336.8 12.1 338.1 11 335.2 13.7 333.8 14.6 332.5 15.5Z"/>
<path fill="#15b1b4" d="M336.8 12.1 338.1 11 339.5 9.7 336.5 12.5 335.2 13.7 333.8 14.6Z"/>
<path fill="#2eb7a4" d="M338.1 11 339.5 9.7 340.8 8.3 337.8 11.3 335.2 13.7Z"/>
<path fill="#4dbc92" d="M339.5 9.7 342.1 6.8 339.1 10 336.5 12.5Z"/>
<path fill="#71bf80" d="M340.8 8.3 343.4 5.4 340.5 8.8 337.8 11.3Z"/>
<path fill="#92bf73" d="M342.1 6.8 343.4 5.4 344.8 4.3 341.8 7.9 340.5 8.8 339.1 10Z"/>
<path fill="#aebe67" d="M343.4 5.4 344.8 4.3 346.1 3.9 343.1 7.6 341.8 7.9 340.5 8.8Z"/>
<path fill="#c0bc60" d="M344.8 4.3 346.1 3.9 347.4 4.6 344.4 8.3 343.1 7.6 341.8 7.9Z"/>
<path fill="#c8bc5d" d="M346.1 3.9 347.4 4.6 348.7 6.5 345.8 10.1 344.4 8.3 343.1 7.6Z"/>
<path fill="#c0bc60" d="M347.4 4.6 348.7 6.5 350 9.5 347.1 12.9 345.8 10.1 344.4 8.3Z"/>
<path fill="#a5be6b" d="M348.7 6.5 350 9.5 351.4 13.3 348.4 16.4 347.1 12.9 345.8 10.1Z"/>
<path fill="#7cbf7b" d="M350 9.5 351.4 13.3 352.7 17.6 349.7 20.5 348.4 16.4 347.1 12.9Z"/>
<path fill="#42bb98" d="M351.4 13.3 354 22 351 24.7 348.4 16.4Z"/>
<path fill="#0faeb9" d="M352.7 17.6 354 22 355.3 25.9 352.4 28.4 351 24.7 349.7 20.5Z"/>
<path fill="#06a0cd" d="M354 22 355.3 25.9 356.7 29.2 353.7 31.5 352.4 28.4 351 24.7Z"/>
<path fill="#108ed2" d="M355.3 25.9 356.7 29.2 358 31.8 355 34 353.7 31.5 352.4 28.4Z"/>
<path fill="#127dd8" d="M356.7 29.2 358 31.8 359.3 34 356.3 36.2 355 34 353.7 31.5Z"/>
<path fill="#0d75dc" d="M358 31.8 359.3 34 360.6 35.9 357.7 38 356.3 36.2 355 34Z"/>
<path fill="#0268e1" d="M359.3 34 360.6 35.9 362 37.6 359 39.6 357.7 38 356.3 36.2Z"/>
<path fill="#0363e1" d="M360.6 35.9 362 37.6 363.3 39.1 360.3 41.1 359 39.6 357.7 38Z"/>
<path fill="#2053d4" d="M362 37.6 363.3 39.1 364.6 40.4 361.6 42.4 359 39.6Z"/>
<path fill="#2c4ac7" d="M363.3 39.1 365.9 41.6 363 43.6 360.3 41.1Z"/>
<path fill="#3243ba" d="M364.6 40.4 365.9 41.6 368.6 43.7 365.6 45.7 363 43.6 361.6 42.4Z"/>
<path fill="#353dad" d="M367.3 42.7 369.9 44.6 366.9 46.6 364.3 44.7Z"/>
<path fill="#3637a0" d="M368.6 43.7 371.2 45.5 375.2 47.8 372.2 49.9 368.3 47.5 365.6 45.7Z"/>
<path fill="#363093" d="M373.9 47.1 379.2 49.9 385.8 53 382.8 55 376.2 51.9 373.5 50.6 370.9 49.1Z"/>
<path fill="#3637a0" d="M384.5 52.4 391.1 55.4 395 57.4 392.1 59.3 388.1 57.4 381.5 54.4Z"/>
<path fill="#046de0" d="M308.9 10.8 312.8 12.6 309.9 14.8 305.9 13Z"/>
<path fill="#0871de" d="M311.5 12 315.5 13.7 319.4 15.2 316.5 17.3 312.5 15.9 308.5 14.2Z"/>
<path fill="#0d75dc" d="M318.1 14.7 320.8 15.6 323.4 16.2 320.4 18.3 317.8 17.7 315.2 16.9Z"/>
<path fill="#1079da" d="M322.1 15.9 324.7 16.4 321.8 18.5 319.1 18.1Z"/>
<path fill="#127dd8" d="M323.4 16.2 326.1 16.5 327.4 16.4 324.4 18.6 323.1 18.6 320.4 18.3Z"/>
<path fill="#1481d6" d="M326.1 16.5 327.4 16.4 328.7 16.3 325.7 18.5 324.4 18.6 323.1 18.6Z"/>
<path fill="#1485d4" d="M327.4 16.4 328.7 16.3 330 16 327.1 18.2 325.7 18.5 324.4 18.6Z"/>
<path fill="#108ed2" d="M328.7 16.3 330 16 331.4 15.6 328.4 17.8 327.1 18.2 325.7 18.5Z"/>
<path fill="#0c93d2" d="M330 16 331.4 15.6 332.7 15 329.7 17.3 328.4 17.8 327.1 18.2Z"/>
<path fill="#079ccf" d="M331.4 15.6 332.7 15 334 14.3 331 16.7 329.7 17.3 328.4 17.8Z"/>
<path fill="#06a4ca" d="M332.7 15 334 14.3 335.3 13.4 332.4 15.9 331 16.7 329.7 17.3Z"/>
<path fill="#07a9c2" d="M334 14.3 335.3 13.4 336.7 12.3 333.7 15 332.4 15.9 331 16.7Z"/>
<path fill="#15b1b4" d="M335.3 13.4 336.7 12.3 338 11.1 335 13.9 333.7 15 332.4 15.9Z"/>
<path fill="#25b5a9" d="M336.7 12.3 339.3 9.8 336.3 12.8 333.7 15Z"/>
<path fill="#42bb98" d="M338 11.1 340.6 8.4 337.7 11.6 335 13.9Z"/>
<path fill="#65be86" d="M339.3 9.8 341.9 7.1 339 10.5 336.3 12.8Z"/>
<path fill="#87bf77" d="M340.6 8.4 341.9 7.1 343.3 6.1 340.3 9.7 339 10.5 337.7 11.6Z"/>
<path fill="#a5be6b" d="M341.9 7.1 343.3 6.1 344.6 5.8 341.6 9.5 340.3 9.7 339 10.5Z"/>
<path fill="#b7bd64" d="M343.3 6.1 344.6 5.8 345.9 6.5 342.9 10.2 341.6 9.5 340.3 9.7Z"/>
<path fill="#c0bc60" d="M344.6 5.8 345.9 6.5 347.2 8.3 344.3 11.9 342.9 10.2 341.6 9.5Z"/>
<path fill="#b7bd64" d="M345.9 6.5 347.2 8.3 348.6 11.2 345.6 14.6 344.3 11.9 342.9 10.2Z"/>
<path fill="#9cbf6f" d="M347.2 8.3 348.6 11.2 349.9 14.9 346.9 18 345.6 14.6 344.3 11.9Z"/>
<path fill="#71bf80" d="M348.6 11.2 349.9 14.9 351.2 19.1 348.2 22 346.9 18 345.6 14.6Z"/>
<path fill="#38b99e" d="M349.9 14.9 352.5 23.3 349.6 26 346.9 18Z"/>
<path fill="#0faeb9" d="M351.2 19.1 352.5 23.3 353.9 27.2 350.9 29.7 349.6 26 348.2 22Z"/>
<path fill="#06a0cd" d="M352.5 23.3 353.9 27.2 355.2 30.3 352.2 32.7 350.9 29.7 349.6 26Z"/>
<path fill="#1389d3" d="M353.9 27.2 355.2 30.3 356.5 32.9 353.5 35.2 352.2 32.7 350.9 29.7Z"/>
<path fill="#127dd8" d="M355.2 30.3 356.5 32.9 357.8 35.1 354.9 37.3 353.5 35.2 352.2 32.7Z"/>
<path fill="#0d75dc" d="M356.5 32.9 357.8 35.1 359.2 37 356.2 39.1 354.9 37.3 353.5 35.2Z"/>
<path fill="#0268e1" d="M357.8 35.1 359.2 37 360.5 38.6 357.5 40.7 356.2 39.1 354.9 37.3Z"/>
<path fill="#0363e1" d="M359.2 37 360.5 38.6 361.8 40.1 358.8 42.1 357.5 40.7 356.2 39.1Z"/>
<path fill="#2053d4" d="M360.5 38.6 363.1 41.4 360.2 43.4 357.5 40.7Z"/>
<path fill="#2c4ac7" d="M361.8 40.1 364.4 42.6 361.5 44.6 358.8 42.1Z"/>
<path fill="#3243ba" d="M363.1 41.4 364.4 42.6 367.1 44.7 364.1 46.7 361.5 44.6 360.2 43.4Z"/>
<path fill="#353dad" d="M365.8 43.7 367.1 44.7 369.7 46.5 366.8 48.5 364.1 46.7 362.8 45.7Z"/>
<path fill="#3637a0" d="M368.4 45.6 371.1 47.3 373.7 48.9 370.7 50.9 368.1 49.4 365.4 47.6Z"/>
<path fill="#363093" d="M372.4 48.1 377.7 50.9 384.3 54 381.3 56 374.7 52.9 372.1 51.6 369.4 50.1Z"/>
<path fill="#3637a0" d="M383 53.4 389.6 56.4 393.6 58.4 390.6 60.3 386.6 58.4 380 55.4Z"/>
<path fill="#046de0" d="M307.4 11.9 312.7 14.2 309.7 16.4 304.4 14.1Z"/>
<path fill="#0871de" d="M311.3 13.7 315.3 15.3 319.3 16.7 316.3 18.8 312.3 17.5 308.4 15.9Z"/>
<path fill="#0d75dc" d="M318 16.3 320.6 17 321.9 17.3 319 19.4 317.6 19.1 315 18.4Z"/>
<path fill="#1079da" d="M320.6 17 323.3 17.4 324.6 17.5 321.6 19.7 320.3 19.6 317.6 19.1Z"/>
<path fill="#127dd8" d="M323.3 17.4 324.6 17.5 325.9 17.5 322.9 19.7 320.3 19.6Z"/>
<path fill="#1481d6" d="M324.6 17.5 325.9 17.5 327.2 17.4 324.3 19.5 322.9 19.7 321.6 19.7Z"/>
<path fill="#1485d4" d="M325.9 17.5 327.2 17.4 328.5 17.1 325.6 19.3 324.3 19.5 322.9 19.7Z"/>
<path fill="#108ed2" d="M327.2 17.4 328.5 17.1 329.9 16.7 326.9 19 325.6 19.3 324.3 19.5Z"/>
<path fill="#0c93d2" d="M328.5 17.1 329.9 16.7 331.2 16.2 328.2 18.5 326.9 19 325.6 19.3Z"/>
<path fill="#079ccf" d="M329.9 16.7 331.2 16.2 332.5 15.5 329.5 17.9 328.2 18.5 326.9 19Z"/>
<path fill="#06a4ca" d="M331.2 16.2 332.5 15.5 333.8 14.6 330.9 17.2 329.5 17.9 328.2 18.5Z"/>
<path fill="#07a9c2" d="M332.5 15.5 333.8 14.6 335.2 13.7 332.2 16.3 330.9 17.2 329.5 17.9Z"/>
<path fill="#0faeb9" d="M333.8 14.6 335.2 13.7 336.5 12.5 333.5 15.4 332.2 16.3 330.9 17.2Z"/>
<path fill="#25b5a9" d="M335.2 13.7 337.8 11.3 334.8 14.3 332.2 16.3Z"/>
<path fill="#42bb98" d="M336.5 12.5 339.1 10 336.2 13.2 333.5 15.4Z"/>
<path fill="#59bd8c" d="M337.8 11.3 340.5 8.8 337.5 12.1 334.8 14.3Z"/>
<path fill="#7cbf7b" d="M339.1 10 340.5 8.8 341.8 7.9 338.8 11.4 337.5 12.1 336.2 13.2Z"/>
<path fill="#9cbf6f" d="M340.5 8.8 341.8 7.9 343.1 7.6 340.1 11.3 338.8 11.4 337.5 12.1Z"/>
<path fill="#aebe67" d="M341.8 7.9 343.1 7.6 344.4 8.3 345.8 10.1 347.1 12.9 344.1 16.2 342.8 13.7 341.5 12 340.1 11.3 338.8 11.4Z"/>
<path fill="#92bf73" d="M345.8 10.1 347.1 12.9 348.4 16.4 345.4 19.6 344.1 16.2 342.8 13.7Z"/>
<path fill="#65be86" d="M347.1 12.9 348.4 16.4 349.7 20.5 346.8 23.4 345.4 19.6 344.1 16.2Z"/>
<path fill="#38b99e" d="M348.4 16.4 351 24.7 348.1 27.3 345.4 19.6Z"/>
<path fill="#0aacbe" d="M349.7 20.5 351 24.7 352.4 28.4 349.4 30.9 348.1 27.3 346.8 23.4Z"/>
<path fill="#079ccf" d="M351 24.7 352.4 28.4 353.7 31.5 350.7 33.9 349.4 30.9 348.1 27.3Z"/>
<path fill="#1389d3" d="M352.4 28.4 353.7 31.5 355 34 352 36.3 350.7 33.9 349.4 30.9Z"/>
<path fill="#127dd8" d="M353.7 31.5 355 34 356.3 36.2 353.4 38.3 352 36.3 350.7 33.9Z"/>
<path fill="#0871de" d="M355 34 356.3 36.2 357.7 38 354.7 40.1 353.4 38.3 352 36.3Z"/>
<path fill="#0268e1" d="M356.3 36.2 357.7 38 359 39.6 356 41.7 354.7 40.1 353.4 38.3Z"/>
<path fill="#0363e1" d="M357.7 38 359 39.6 360.3 41.1 357.3 43.1 356 41.7 354.7 40.1Z"/>
<path fill="#2053d4" d="M359 39.6 361.6 42.4 358.7 44.4 356 41.7Z"/>
<path fill="#2c4ac7" d="M360.3 41.1 363 43.6 360 45.6 357.3 43.1Z"/>
<path fill="#3243ba" d="M361.6 42.4 363 43.6 365.6 45.7 362.6 47.7 360 45.6 358.7 44.4Z"/>
<path fill="#353dad" d="M364.3 44.7 365.6 45.7 368.3 47.5 365.3 49.5 362.6 47.7 361.3 46.7Z"/>
<path fill="#3637a0" d="M366.9 46.6 369.6 48.3 372.2 49.9 369.3 51.9 366.6 50.4 364 48.7Z"/>
<path fill="#363093" d="M370.9 49.1 373.5 50.6 376.2 51.9 381.5 54.4 378.5 56.4 373.2 53.9 370.6 52.6 367.9 51.1Z"/>
<path fill="#3637a0" d="M380.2 53.8 388.1 57.4 392.1 59.3 389.1 61.3 385.1 59.4 377.2 55.8Z"/>
<path fill="#046de0" d="M305.9 13 312.5 15.9 309.5 18.1 302.9 15.2Z"/>
<path fill="#0871de" d="M311.2 15.3 315.2 16.9 317.8 17.7 314.8 19.9 312.2 19.1 308.2 17.5Z"/>
<path fill="#0d75dc" d="M316.5 17.3 319.1 18.1 320.4 18.3 317.5 20.5 316.2 20.2 313.5 19.5Z"/>
<path fill="#1079da" d="M319.1 18.1 321.8 18.5 323.1 18.6 320.1 20.7 318.8 20.6 316.2 20.2Z"/>
<path fill="#127dd8" d="M321.8 18.5 323.1 18.6 324.4 18.6 321.4 20.7 318.8 20.6Z"/>
<path fill="#1481d6" d="M323.1 18.6 324.4 18.6 325.7 18.5 322.8 20.6 321.4 20.7 320.1 20.7Z"/>
<path fill="#1485d4" d="M324.4 18.6 325.7 18.5 327.1 18.2 324.1 20.4 322.8 20.6 321.4 20.7Z"/>
<path fill="#108ed2" d="M325.7 18.5 327.1 18.2 328.4 17.8 325.4 20.1 324.1 20.4 322.8 20.6Z"/>
<path fill="#0c93d2" d="M327.1 18.2 328.4 17.8 329.7 17.3 326.7 19.7 325.4 20.1 324.1 20.4Z"/>
<path fill="#079ccf" d="M328.4 17.8 329.7 17.3 331 16.7 328.1 19.1 326.7 19.7 325.4 20.1Z"/>
<path fill="#06a4ca" d="M329.7 17.3 331 16.7 332.4 15.9 329.4 18.5 328.1 19.1 326.7 19.7Z"/>
<path fill="#07a9c2" d="M331 16.7 332.4 15.9 333.7 15 330.7 17.7 329.4 18.5 328.1 19.1Z"/>
<path fill="#0faeb9" d="M332.4 15.9 333.7 15 335 13.9 332 16.8 329.4 18.5Z"/>
<path fill="#1db3af" d="M333.7 15 336.3 12.8 333.4 15.8 330.7 17.7Z"/>
<path fill="#38b99e" d="M335 13.9 337.7 11.6 334.7 14.7 332 16.8Z"/>
<path fill="#59bd8c" d="M336.3 12.8 339 10.5 336 13.8 333.4 15.8Z"/>
<path fill="#71bf80" d="M337.7 11.6 339 10.5 340.3 9.7 337.3 13.2 336 13.8 334.7 14.7Z"/>
<path fill="#92bf73" d="M339 10.5 340.3 9.7 341.6 9.5 338.7 13.1 337.3 13.2 336 13.8Z"/>
<path fill="#a5be6b" d="M340.3 9.7 341.6 9.5 342.9 10.2 344.3 11.9 341.3 15.4 340 13.8 338.7 13.1 337.3 13.2Z"/>
<path fill="#9cbf6f" d="M342.9 10.2 344.3 11.9 345.6 14.6 342.6 17.9 341.3 15.4 340 13.8Z"/>
<path fill="#87bf77" d="M344.3 11.9 345.6 14.6 346.9 18 343.9 21.1 342.6 17.9 341.3 15.4Z"/>
<path fill="#59bd8c" d="M345.6 14.6 346.9 18 348.2 22 345.3 24.8 343.9 21.1 342.6 17.9Z"/>
<path fill="#2eb7a4" d="M346.9 18 349.6 26 346.6 28.7 343.9 21.1Z"/>
<path fill="#0aacbe" d="M348.2 22 349.6 26 350.9 29.7 347.9 32.1 346.6 28.7 345.3 24.8Z"/>
<path fill="#079ccf" d="M349.6 26 350.9 29.7 352.2 32.7 349.2 35 347.9 32.1 346.6 28.7Z"/>
<path fill="#1389d3" d="M350.9 29.7 352.2 32.7 353.5 35.2 350.6 37.4 349.2 35 347.9 32.1Z"/>
<path fill="#127dd8" d="M352.2 32.7 353.5 35.2 354.9 37.3 351.9 39.4 350.6 37.4 349.2 35Z"/>
<path fill="#0871de" d="M353.5 35.2 354.9 37.3 356.2 39.1 353.2 41.2 351.9 39.4 350.6 37.4Z"/>
<path fill="#0268e1" d="M354.9 37.3 356.2 39.1 357.5 40.7 354.5 42.7 353.2 41.2 351.9 39.4Z"/>
<path fill="#0363e1" d="M356.2 39.1 357.5 40.7 358.8 42.1 355.9 44.2 354.5 42.7 353.2 41.2Z"/>
<path fill="#2053d4" d="M357.5 40.7 360.2 43.4 357.2 45.4 354.5 42.7Z"/>
<path fill="#2c4ac7" d="M358.8 42.1 361.5 44.6 358.5 46.6 355.9 44.2Z"/>
<path fill="#3243ba" d="M360.2 43.4 361.5 44.6 364.1 46.7 361.2 48.7 358.5 46.6 357.2 45.4Z"/>
<path fill="#353dad" d="M362.8 45.7 364.1 46.7 366.8 48.5 363.8 50.5 361.2 48.7 359.8 47.7Z"/>
<path fill="#3637a0" d="M365.4 47.6 368.1 49.4 370.7 50.9 367.8 52.9 365.1 51.4 362.5 49.7Z"/>
<path fill="#363093" d="M369.4 50.1 372.1 51.6 374.7 52.9 380 55.4 377 57.4 371.7 55 369.1 53.6 366.4 52.2Z"/>
<path fill="#3637a0" d="M378.7 54.8 386.6 58.4 390.6 60.3 387.6 62.3 383.6 60.4 375.7 56.8Z"/>
<path fill="#046de0" d="M304.4 14.1 308.4 15.9 312.3 17.5 309.4 19.7 305.4 18.1 301.4 16.3Z"/>
<path fill="#0871de" d="M311 17 313.7 18 316.3 18.8 313.3 21 310.7 20.1 308.1 19.2Z"/>
<path fill="#0d75dc" d="M315 18.4 317.6 19.1 319 19.4 316 21.5 314.7 21.3 312 20.6Z"/>
<path fill="#1079da" d="M317.6 19.1 320.3 19.6 321.6 19.7 318.6 21.8 317.3 21.7 314.7 21.3Z"/>
<path fill="#127dd8" d="M320.3 19.6 322.9 19.7 320 21.8 317.3 21.7Z"/>
<path fill="#1481d6" d="M321.6 19.7 322.9 19.7 324.3 19.5 321.3 21.8 318.6 21.8Z"/>
<path fill="#1485d4" d="M322.9 19.7 324.3 19.5 325.6 19.3 322.6 21.6 321.3 21.8 320 21.8Z"/>
<path fill="#1389d3" d="M324.3 19.5 325.6 19.3 326.9 19 323.9 21.3 322.6 21.6 321.3 21.8Z"/>
<path fill="#0c93d2" d="M325.6 19.3 326.9 19 328.2 18.5 325.3 20.9 323.9 21.3 322.6 21.6Z"/>
<path fill="#0998d1" d="M326.9 19 328.2 18.5 329.5 17.9 326.6 20.4 325.3 20.9 323.9 21.3Z"/>
<path fill="#06a0cd" d="M328.2 18.5 329.5 17.9 330.9 17.2 327.9 19.7 326.6 20.4 325.3 20.9Z"/>
<path fill="#06a7c6" d="M329.5 17.9 330.9 17.2 332.2 16.3 329.2 19 326.6 20.4Z"/>
<path fill="#0aacbe" d="M330.9 17.2 332.2 16.3 333.5 15.4 330.5 18.2 327.9 19.7Z"/>
<path fill="#1db3af" d="M332.2 16.3 334.8 14.3 331.9 17.2 329.2 19Z"/>
<path fill="#2eb7a4" d="M333.5 15.4 336.2 13.2 333.2 16.3 330.5 18.2Z"/>
<path fill="#4dbc92" d="M334.8 14.3 337.5 12.1 334.5 15.4 331.9 17.2Z"/>
<path fill="#71bf80" d="M336.2 13.2 337.5 12.1 338.8 11.4 335.8 14.9 334.5 15.4 333.2 16.3Z"/>
<path fill="#87bf77" d="M337.5 12.1 338.8 11.4 340.1 11.3 337.2 14.8 335.8 14.9 334.5 15.4Z"/>
<path fill="#92bf73" d="M338.8 11.4 340.1 11.3 341.5 12 338.5 15.5 337.2 14.8 335.8 14.9Z"/>
<path fill="#9cbf6f" d="M340.1 11.3 341.5 12 342.8 13.7 339.8 17.1 338.5 15.5 337.2 14.8Z"/>
<path fill="#92bf73" d="M341.5 12 342.8 13.7 344.1 16.2 341.1 19.5 339.8 17.1 338.5 15.5Z"/>
<path fill="#7cbf7b" d="M342.8 13.7 344.1 16.2 345.4 19.6 342.5 22.6 341.1 19.5 339.8 17.1Z"/>
<path fill="#59bd8c" d="M344.1 16.2 345.4 19.6 346.8 23.4 343.8 26.3 342.5 22.6 341.1 19.5Z"/>
<path fill="#25b5a9" d="M345.4 19.6 348.1 27.3 345.1 30 342.5 22.6Z"/>
<path fill="#07a9c2" d="M346.8 23.4 348.1 27.3 349.4 30.9 346.4 33.4 345.1 30 343.8 26.3Z"/>
<path fill="#079ccf" d="M348.1 27.3 349.4 30.9 350.7 33.9 347.8 36.2 346.4 33.4 345.1 30Z"/>
<path fill="#1389d3" d="M349.4 30.9 350.7 33.9 352 36.3 349.1 38.6 347.8 36.2 346.4 33.4Z"/>
<path fill="#127dd8" d="M350.7 33.9 352 36.3 353.4 38.3 350.4 40.5 349.1 38.6 347.8 36.2Z"/>
<path fill="#0871de" d="M352 36.3 353.4 38.3 354.7 40.1 351.7 42.3 350.4 40.5 349.1 38.6Z"/>
<path fill="#0268e1" d="M353.4 38.3 354.7 40.1 356 41.7 353 43.8 351.7 42.3 350.4 40.5Z"/>
<path fill="#0363e1" d="M354.7 40.1 356 41.7 357.3 43.1 354.4 45.2 351.7 42.3Z"/>
<path fill="#2053d4" d="M356 41.7 358.7 44.4 355.7 46.5 353 43.8Z"/>
<path fill="#2c4ac7" d="M357.3 43.1 360 45.6 357 47.6 354.4 45.2Z"/>
<path fill="#3243ba" d="M358.7 44.4 360 45.6 362.6 47.7 359.7 49.7 357 47.6 355.7 46.5Z"/>
<path fill="#353dad" d="M361.3 46.7 362.6 47.7 365.3 49.5 362.3 51.6 359.7 49.7 358.3 48.7Z"/>
<path fill="#3637a0" d="M364 48.7 366.6 50.4 370.6 52.6 367.6 54.6 363.6 52.4 361 50.7Z"/>
<path fill="#363093" d="M369.3 51.9 373.2 53.9 378.5 56.4 375.5 58.4 370.3 56 366.3 53.9Z"/>
<path fill="#3637a0" d="M377.2 55.8 385.1 59.4 389.1 61.3 386.1 63.3 382.2 61.4 374.2 57.8Z"/>
<path fill="#046de0" d="M302.9 15.2 306.9 17 310.9 18.6 307.9 20.8 303.9 19.2 299.9 17.4Z"/>
<path fill="#0871de" d="M309.5 18.1 312.2 19.1 314.8 19.9 311.9 22 309.2 21.2 306.6 20.2Z"/>
<path fill="#0d75dc" d="M313.5 19.5 316.2 20.2 317.5 20.5 314.5 22.6 313.2 22.4 310.5 21.7Z"/>
<path fill="#1079da" d="M316.2 20.2 318.8 20.6 320.1 20.7 317.2 22.9 315.8 22.8 313.2 22.4Z"/>
<path fill="#127dd8" d="M318.8 20.6 321.4 20.7 318.5 22.9 315.8 22.8Z"/>
<path fill="#1481d6" d="M320.1 20.7 321.4 20.7 322.8 20.6 319.8 22.9 317.2 22.9Z"/>
<path fill="#1485d4" d="M321.4 20.7 322.8 20.6 324.1 20.4 321.1 22.7 318.5 22.9Z"/>
<path fill="#1389d3" d="M322.8 20.6 324.1 20.4 325.4 20.1 322.4 22.4 319.8 22.9Z"/>
<path fill="#0c93d2" d="M324.1 20.4 325.4 20.1 326.7 19.7 323.8 22.1 321.1 22.7Z"/>
<path fill="#0998d1" d="M325.4 20.1 326.7 19.7 328.1 19.1 325.1 21.6 322.4 22.4Z"/>
<path fill="#06a0cd" d="M326.7 19.7 328.1 19.1 329.4 18.5 326.4 21 323.8 22.1Z"/>
<path fill="#06a7c6" d="M328.1 19.1 329.4 18.5 330.7 17.7 327.7 20.3 325.1 21.6Z"/>
<path fill="#0aacbe" d="M329.4 18.5 332 16.8 329.1 19.6 326.4 21Z"/>
<path fill="#15b1b4" d="M330.7 17.7 333.4 15.8 330.4 18.7 327.7 20.3Z"/>
<path fill="#2eb7a4" d="M332 16.8 334.7 14.7 331.7 17.8 329.1 19.6Z"/>
<path fill="#42bb98" d="M333.4 15.8 336 13.8 333 17.1 330.4 18.7Z"/>
<path fill="#65be86" d="M334.7 14.7 336 13.8 337.3 13.2 334.4 16.6 333 17.1 331.7 17.8Z"/>
<path fill="#7cbf7b" d="M336 13.8 337.3 13.2 338.7 13.1 335.7 16.6 334.4 16.6 333 17.1Z"/>
<path fill="#87bf77" d="M337.3 13.2 338.7 13.1 340 13.8 337 17.3 335.7 16.6 334.4 16.6Z"/>
<path fill="#92bf73" d="M338.7 13.1 340 13.8 341.3 15.4 338.3 18.8 337 17.3 335.7 16.6Z"/>
<path fill="#87bf77" d="M340 13.8 341.3 15.4 342.6 17.9 339.7 21.1 338.3 18.8 337 17.3Z"/>
<path fill="#71bf80" d="M341.3 15.4 342.6 17.9 343.9 21.1 341 24.2 339.7 21.1 338.3 18.8Z"/>
<path fill="#4dbc92" d="M342.6 17.9 343.9 21.1 345.3 24.8 342.3 27.7 341 24.2 339.7 21.1Z"/>
<path fill="#1db3af" d="M343.9 21.1 346.6 28.7 343.6 31.3 341 24.2Z"/>
<path fill="#07a9c2" d="M345.3 24.8 346.6 28.7 347.9 32.1 344.9 34.6 343.6 31.3 342.3 27.7Z"/>
<path fill="#0998d1" d="M346.6 28.7 347.9 32.1 349.2 35 346.3 37.4 344.9 34.6 343.6 31.3Z"/>
<path fill="#1485d4" d="M347.9 32.1 349.2 35 350.6 37.4 347.6 39.7 346.3 37.4 344.9 34.6Z"/>
<path fill="#1079da" d="M349.2 35 350.6 37.4 351.9 39.4 348.9 41.6 347.6 39.7 346.3 37.4Z"/>
<path fill="#0871de" d="M350.6 37.4 351.9 39.4 353.2 41.2 350.2 43.3 348.9 41.6 347.6 39.7Z"/>
<path fill="#0268e1" d="M351.9 39.4 353.2 41.2 354.5 42.7 351.6 44.8 350.2 43.3 348.9 41.6Z"/>
<path fill="#0363e1" d="M353.2 41.2 354.5 42.7 355.9 44.2 352.9 46.2 350.2 43.3Z"/>
<path fill="#2053d4" d="M354.5 42.7 357.2 45.4 354.2 47.5 351.6 44.8Z"/>
<path fill="#2c4ac7" d="M355.9 44.2 358.5 46.6 355.5 48.6 352.9 46.2Z"/>
<path fill="#3243ba" d="M357.2 45.4 358.5 46.6 361.2 48.7 358.2 50.7 355.5 48.6 354.2 47.5Z"/>
<path fill="#353dad" d="M359.8 47.7 361.2 48.7 363.8 50.5 360.8 52.6 358.2 50.7 356.9 49.7Z"/>
<path fill="#3637a0" d="M362.5 49.7 365.1 51.4 369.1 53.6 366.1 55.6 362.1 53.4 359.5 51.7Z"/>
<path fill="#363093" d="M367.8 52.9 371.7 55 377 57.4 374.1 59.4 368.8 57 364.8 54.9Z"/>
<path fill="#3637a0" d="M375.7 56.8 383.6 60.4 387.6 62.3 384.6 64.3 380.7 62.3 372.7 58.8Z"/>
<path fill="#046de0" d="M301.4 16.3 306.7 18.6 310.7 20.1 307.7 22.3 303.8 20.8 298.5 18.5Z"/>
<path fill="#0871de" d="M309.4 19.7 312 20.6 314.7 21.3 311.7 23.4 309.1 22.7 306.4 21.8Z"/>
<path fill="#0d75dc" d="M313.3 21 316 21.5 317.3 21.7 314.3 23.9 313 23.7 310.4 23.1Z"/>
<path fill="#1079da" d="M316 21.5 318.6 21.8 315.7 24 313 23.7Z"/>
<path fill="#127dd8" d="M317.3 21.7 320 21.8 317 24 314.3 23.9Z"/>
<path fill="#1481d6" d="M318.6 21.8 321.3 21.8 318.3 24 315.7 24Z"/>
<path fill="#1485d4" d="M320 21.8 321.3 21.8 322.6 21.6 319.6 23.8 317 24Z"/>
<path fill="#1389d3" d="M321.3 21.8 322.6 21.6 323.9 21.3 321 23.6 318.3 24Z"/>
<path fill="#108ed2" d="M322.6 21.6 323.9 21.3 325.3 20.9 322.3 23.3 319.6 23.8Z"/>
<path fill="#0998d1" d="M323.9 21.3 325.3 20.9 326.6 20.4 323.6 22.8 321 23.6Z"/>
<path fill="#06a0cd" d="M325.3 20.9 326.6 20.4 327.9 19.7 324.9 22.3 322.3 23.3Z"/>
<path fill="#06a7c6" d="M326.6 20.4 329.2 19 326.3 21.7 323.6 22.8Z"/>
<path fill="#0aacbe" d="M327.9 19.7 330.5 18.2 327.6 20.9 324.9 22.3Z"/>
<path fill="#15b1b4" d="M329.2 19 331.9 17.2 328.9 20.2 326.3 21.7Z"/>
<path fill="#25b5a9" d="M330.5 18.2 333.2 16.3 330.2 19.4 327.6 20.9Z"/>
<path fill="#38b99e" d="M331.9 17.2 334.5 15.4 331.5 18.7 328.9 20.2Z"/>
<path fill="#59bd8c" d="M333.2 16.3 334.5 15.4 335.8 14.9 332.9 18.3 331.5 18.7 330.2 19.4Z"/>
<path fill="#71bf80" d="M334.5 15.4 335.8 14.9 337.2 14.8 334.2 18.3 332.9 18.3 331.5 18.7Z"/>
<path fill="#7cbf7b" d="M335.8 14.9 337.2 14.8 338.5 15.5 335.5 19 334.2 18.3 332.9 18.3Z"/>
<path fill="#87bf77" d="M337.2 14.8 338.5 15.5 339.8 17.1 336.8 20.5 335.5 19 334.2 18.3Z"/>
<path fill="#7cbf7b" d="M338.5 15.5 339.8 17.1 341.1 19.5 338.2 22.8 336.8 20.5 335.5 19Z"/>
<path fill="#65be86" d="M339.8 17.1 341.1 19.5 342.5 22.6 339.5 25.7 338.2 22.8 336.8 20.5Z"/>
<path fill="#42bb98" d="M341.1 19.5 342.5 22.6 343.8 26.3 340.8 29.1 339.5 25.7 338.2 22.8Z"/>
<path fill="#1db3af" d="M342.5 22.6 345.1 30 342.1 32.7 339.5 25.7Z"/>
<path fill="#06a7c6" d="M343.8 26.3 345.1 30 346.4 33.4 343.5 35.9 342.1 32.7 340.8 29.1Z"/>
<path fill="#0998d1" d="M345.1 30 346.4 33.4 347.8 36.2 344.8 38.6 343.5 35.9 342.1 32.7Z"/>
<path fill="#1485d4" d="M346.4 33.4 347.8 36.2 349.1 38.6 346.1 40.8 344.8 38.6 343.5 35.9Z"/>
<path fill="#1079da" d="M347.8 36.2 349.1 38.6 350.4 40.5 347.4 42.7 346.1 40.8 344.8 38.6Z"/>
<path fill="#0871de" d="M349.1 38.6 350.4 40.5 351.7 42.3 348.8 44.4 347.4 42.7 346.1 40.8Z"/>
<path fill="#0268e1" d="M350.4 40.5 351.7 42.3 353 43.8 350.1 45.9 348.8 44.4 347.4 42.7Z"/>
<path fill="#0363e1" d="M351.7 42.3 354.4 45.2 351.4 47.3 348.8 44.4Z"/>
<path fill="#2053d4" d="M353 43.8 355.7 46.5 352.7 48.5 350.1 45.9Z"/>
<path fill="#2c4ac7" d="M354.4 45.2 357 47.6 354 49.7 351.4 47.3Z"/>
<path fill="#3243ba" d="M355.7 46.5 357 47.6 359.7 49.7 356.7 51.7 354 49.7 352.7 48.5Z"/>
<path fill="#353dad" d="M358.3 48.7 359.7 49.7 362.3 51.6 359.3 53.6 355.4 50.7Z"/>
<path fill="#3637a0" d="M361 50.7 363.6 52.4 367.6 54.6 364.6 56.7 360.7 54.4 358 52.7Z"/>
<path fill="#363093" d="M366.3 53.9 370.3 56 374.2 57.8 371.3 59.8 367.3 58 363.3 55.9Z"/>
<path fill="#3637a0" d="M372.9 57.2 380.8 60.8 386.1 63.3 383.2 65.3 377.9 62.7 369.9 59.2Z"/>
<path fill="#046de0" d="M299.9 17.4 305.2 19.7 309.2 21.2 306.2 23.4 302.3 21.9 297 19.6Z"/>
<path fill="#0871de" d="M307.9 20.8 310.5 21.7 313.2 22.4 310.2 24.5 307.6 23.8 304.9 22.9Z"/>
<path fill="#0d75dc" d="M311.9 22 314.5 22.6 315.8 22.8 312.9 25 311.5 24.8 308.9 24.2Z"/>
<path fill="#1079da" d="M314.5 22.6 317.2 22.9 314.2 25.1 311.5 24.8Z"/>
<path fill="#127dd8" d="M315.8 22.8 318.5 22.9 315.5 25.1 312.9 25Z"/>
<path fill="#1481d6" d="M317.2 22.9 319.8 22.9 316.8 25.1 314.2 25.1Z"/>
<path fill="#1485d4" d="M318.5 22.9 321.1 22.7 318.2 25 315.5 25.1Z"/>
<path fill="#1389d3" d="M319.8 22.9 322.4 22.4 319.5 24.8 316.8 25.1Z"/>
<path fill="#108ed2" d="M321.1 22.7 323.8 22.1 320.8 24.5 318.2 25Z"/>
<path fill="#0998d1" d="M322.4 22.4 325.1 21.6 322.1 24.1 319.5 24.8Z"/>
<path fill="#079ccf" d="M323.8 22.1 326.4 21 323.4 23.6 320.8 24.5Z"/>
<path fill="#06a4ca" d="M325.1 21.6 327.7 20.3 324.8 23 322.1 24.1Z"/>
<path fill="#07a9c2" d="M326.4 21 329.1 19.6 326.1 22.3 323.4 23.6Z"/>
<path fill="#0faeb9" d="M327.7 20.3 330.4 18.7 327.4 21.6 324.8 23Z"/>
<path fill="#1db3af" d="M329.1 19.6 331.7 17.8 328.7 20.9 326.1 22.3Z"/>
<path fill="#38b99e" d="M330.4 18.7 333 17.1 330.1 20.3 327.4 21.6Z"/>
<path fill="#4dbc92" d="M331.7 17.8 333 17.1 334.4 16.6 331.4 19.9 330.1 20.3 328.7 20.9Z"/>
<path fill="#65be86" d="M333 17.1 334.4 16.6 335.7 16.6 332.7 20 331.4 19.9 330.1 20.3Z"/>
<path fill="#71bf80" d="M334.4 16.6 335.7 16.6 337 17.3 334 20.7 332.7 20 331.4 19.9Z"/>
<path fill="#7cbf7b" d="M335.7 16.6 337 17.3 338.3 18.8 335.4 22.2 334 20.7 332.7 20Z"/>
<path fill="#71bf80" d="M337 17.3 338.3 18.8 339.7 21.1 336.7 24.3 335.4 22.2 334 20.7Z"/>
<path fill="#59bd8c" d="M338.3 18.8 339.7 21.1 341 24.2 338 27.2 336.7 24.3 335.4 22.2Z"/>
<path fill="#38b99e" d="M339.7 21.1 341 24.2 342.3 27.7 339.3 30.5 338 27.2 336.7 24.3Z"/>
<path fill="#15b1b4" d="M341 24.2 343.6 31.3 340.7 34 338 27.2Z"/>
<path fill="#06a7c6" d="M342.3 27.7 343.6 31.3 344.9 34.6 342 37.1 340.7 34 339.3 30.5Z"/>
<path fill="#0c93d2" d="M343.6 31.3 344.9 34.6 346.3 37.4 343.3 39.8 342 37.1 340.7 34Z"/>
<path fill="#1485d4" d="M344.9 34.6 346.3 37.4 347.6 39.7 344.6 42 343.3 39.8 342 37.1Z"/>
<path fill="#1079da" d="M346.3 37.4 347.6 39.7 348.9 41.6 345.9 43.8 344.6 42 343.3 39.8Z"/>
<path fill="#0871de" d="M347.6 39.7 348.9 41.6 350.2 43.3 347.3 45.5 345.9 43.8 344.6 42Z"/>
<path fill="#0268e1" d="M348.9 41.6 350.2 43.3 351.6 44.8 348.6 47 347.3 45.5 345.9 43.8Z"/>
<path fill="#0363e1" d="M350.2 43.3 352.9 46.2 349.9 48.3 347.3 45.5Z"/>
<path fill="#2053d4" d="M351.6 44.8 354.2 47.5 351.2 49.5 348.6 47Z"/>
<path fill="#2c4ac7" d="M352.9 46.2 355.5 48.6 352.6 50.7 349.9 48.3Z"/>
<path fill="#3243ba" d="M354.2 47.5 355.5 48.6 358.2 50.7 355.2 52.8 352.6 50.7 351.2 49.5Z"/>
<path fill="#353dad" d="M356.9 49.7 358.2 50.7 360.8 52.6 357.9 54.6 353.9 51.8Z"/>
<path fill="#3637a0" d="M359.5 51.7 362.1 53.4 366.1 55.6 363.1 57.7 359.2 55.4 356.5 53.7Z"/>
<path fill="#363093" d="M364.8 54.9 368.8 57 372.7 58.8 369.8 60.8 365.8 59 361.8 57Z"/>
<path fill="#3637a0" d="M371.4 58.2 379.4 61.7 384.6 64.3 381.7 66.3 376.4 63.7 368.4 60.2Z"/>
<path fill="#0268e1" d="M298.5 18.5 301.1 19.7 298.1 21.9 295.5 20.7Z"/>
<path fill="#046de0" d="M299.8 19.1 303.8 20.8 307.7 22.3 304.8 24.5 300.8 23 296.8 21.3Z"/>
<path fill="#0871de" d="M306.4 21.8 309.1 22.7 311.7 23.4 308.7 25.6 306.1 24.9 303.4 24Z"/>
<path fill="#0d75dc" d="M310.4 23.1 313 23.7 314.3 23.9 311.4 26.1 310 25.9 307.4 25.3Z"/>
<path fill="#1079da" d="M313 23.7 315.7 24 312.7 26.2 310 25.9Z"/>
<path fill="#127dd8" d="M314.3 23.9 317 24 314 26.2 311.4 26.1Z"/>
<path fill="#1481d6" d="M315.7 24 318.3 24 315.3 26.2 312.7 26.2Z"/>
<path fill="#1485d4" d="M317 24 319.6 23.8 316.7 26.1 314 26.2Z"/>
<path fill="#1389d3" d="M318.3 24 321 23.6 318 25.9 315.3 26.2Z"/>
<path fill="#108ed2" d="M319.6 23.8 322.3 23.3 319.3 25.7 316.7 26.1Z"/>
<path fill="#0998d1" d="M321 23.6 323.6 22.8 320.6 25.3 318 25.9Z"/>
<path fill="#079ccf" d="M322.3 23.3 324.9 22.3 322 24.9 319.3 25.7Z"/>
<path fill="#06a4ca" d="M323.6 22.8 326.3 21.7 323.3 24.3 320.6 25.3Z"/>
<path fill="#07a9c2" d="M324.9 22.3 327.6 20.9 324.6 23.7 322 24.9Z"/>
<path fill="#0faeb9" d="M326.3 21.7 328.9 20.2 325.9 23.1 323.3 24.3Z"/>
<path fill="#1db3af" d="M327.6 20.9 330.2 19.4 327.3 22.4 324.6 23.7Z"/>
<path fill="#2eb7a4" d="M328.9 20.2 331.5 18.7 328.6 21.9 325.9 23.1Z"/>
<path fill="#42bb98" d="M330.2 19.4 331.5 18.7 332.9 18.3 329.9 21.6 328.6 21.9 327.3 22.4Z"/>
<path fill="#59bd8c" d="M331.5 18.7 332.9 18.3 334.2 18.3 331.2 21.7 329.9 21.6 328.6 21.9Z"/>
<path fill="#65be86" d="M332.9 18.3 334.2 18.3 335.5 19 332.5 22.4 331.2 21.7 329.9 21.6Z"/>
<path fill="#71bf80" d="M334.2 18.3 335.5 19 336.8 20.5 333.9 23.8 332.5 22.4 331.2 21.7Z"/>
<path fill="#65be86" d="M335.5 19 336.8 20.5 338.2 22.8 335.2 25.9 333.9 23.8 332.5 22.4Z"/>
<path fill="#4dbc92" d="M336.8 20.5 338.2 22.8 339.5 25.7 336.5 28.7 335.2 25.9 333.9 23.8Z"/>
<path fill="#2eb7a4" d="M338.2 22.8 339.5 25.7 340.8 29.1 337.8 31.9 336.5 28.7 335.2 25.9Z"/>
<path fill="#0faeb9" d="M339.5 25.7 342.1 32.7 339.2 35.3 336.5 28.7Z"/>
<path fill="#06a4ca" d="M340.8 29.1 342.1 32.7 343.5 35.9 340.5 38.4 339.2 35.3 337.8 31.9Z"/>
<path fill="#0c93d2" d="M342.1 32.7 343.5 35.9 344.8 38.6 341.8 41 340.5 38.4 339.2 35.3Z"/>
<path fill="#1481d6" d="M343.5 35.9 344.8 38.6 346.1 40.8 343.1 43.1 341.8 41 340.5 38.4Z"/>
<path fill="#1079da" d="M344.8 38.6 346.1 40.8 347.4 42.7 344.5 45 343.1 43.1 341.8 41Z"/>
<path fill="#0871de" d="M346.1 40.8 347.4 42.7 348.8 44.4 345.8 46.6 344.5 45 343.1 43.1Z"/>
<path fill="#0268e1" d="M347.4 42.7 348.8 44.4 350.1 45.9 347.1 48 345.8 46.6 344.5 45Z"/>
<path fill="#0f5cdd" d="M348.8 44.4 351.4 47.3 348.4 49.3 345.8 46.6Z"/>
<path fill="#2053d4" d="M350.1 45.9 352.7 48.5 349.8 50.6 347.1 48Z"/>
<path fill="#2c4ac7" d="M351.4 47.3 354 49.7 351.1 51.7 348.4 49.3Z"/>
<path fill="#3243ba" d="M352.7 48.5 354 49.7 356.7 51.7 353.7 53.8 351.1 51.7 349.8 50.6Z"/>
<path fill="#353dad" d="M355.4 50.7 359.3 53.6 356.4 55.6 352.4 52.8Z"/>
<path fill="#3637a0" d="M358 52.7 360.7 54.4 364.6 56.7 361.7 58.7 357.7 56.4 355 54.7Z"/>
<path fill="#363093" d="M363.3 55.9 367.3 58 371.3 59.8 368.3 61.8 364.3 60 360.3 58Z"/>
<path fill="#3637a0" d="M369.9 59.2 377.9 62.7 383.2 65.3 380.2 67.2 374.9 64.7 367 61.2Z"/>
<path fill="#0268e1" d="M297 19.6 300.9 21.4 298 23.5 294 21.8Z"/>
<path fill="#046de0" d="M299.6 20.8 303.6 22.4 307.6 23.8 304.6 26 300.6 24.6 296.7 23Z"/>
<path fill="#0871de" d="M306.2 23.4 310.2 24.5 307.2 26.7 303.3 25.6Z"/>
<path fill="#0d75dc" d="M308.9 24.2 311.5 24.8 312.9 25 309.9 27.2 308.6 27 305.9 26.4Z"/>
<path fill="#1079da" d="M311.5 24.8 314.2 25.1 311.2 27.3 308.6 27Z"/>
<path fill="#127dd8" d="M312.9 25 315.5 25.1 316.8 25.1 313.9 27.4 312.5 27.4 309.9 27.2Z"/>
<path fill="#1481d6" d="M315.5 25.1 318.2 25 315.2 27.3 312.5 27.4Z"/>
<path fill="#1389d3" d="M316.8 25.1 319.5 24.8 316.5 27.1 313.9 27.4Z"/>
<path fill="#108ed2" d="M318.2 25 320.8 24.5 317.8 26.9 315.2 27.3Z"/>
<path fill="#0c93d2" d="M319.5 24.8 322.1 24.1 319.2 26.5 316.5 27.1Z"/>
<path fill="#079ccf" d="M320.8 24.5 323.4 23.6 320.5 26.1 317.8 26.9Z"/>
<path fill="#06a0cd" d="M322.1 24.1 324.8 23 321.8 25.7 319.2 26.5Z"/>
<path fill="#06a7c6" d="M323.4 23.6 326.1 22.3 323.1 25.1 320.5 26.1Z"/>
<path fill="#0aacbe" d="M324.8 23 327.4 21.6 324.4 24.5 321.8 25.7Z"/>
<path fill="#15b1b4" d="M326.1 22.3 328.7 20.9 325.8 23.9 323.1 25.1Z"/>
<path fill="#25b5a9" d="M327.4 21.6 330.1 20.3 327.1 23.4 324.4 24.5Z"/>
<path fill="#38b99e" d="M328.7 20.9 330.1 20.3 331.4 19.9 328.4 23.2 327.1 23.4 325.8 23.9Z"/>
<path fill="#4dbc92" d="M330.1 20.3 331.4 19.9 332.7 20 329.7 23.3 328.4 23.2 327.1 23.4Z"/>
<path fill="#59bd8c" d="M331.4 19.9 332.7 20 334 20.7 331.1 24 329.7 23.3 328.4 23.2Z"/>
<path fill="#65be86" d="M332.7 20 334 20.7 335.4 22.2 332.4 25.4 331.1 24 329.7 23.3Z"/>
<path fill="#59bd8c" d="M334 20.7 335.4 22.2 336.7 24.3 333.7 27.5 332.4 25.4 331.1 24Z"/>
<path fill="#42bb98" d="M335.4 22.2 336.7 24.3 338 27.2 335 30.2 333.7 27.5 332.4 25.4Z"/>
<path fill="#25b5a9" d="M336.7 24.3 338 27.2 339.3 30.5 336.4 33.3 335 30.2 333.7 27.5Z"/>
<path fill="#0faeb9" d="M338 27.2 340.7 34 337.7 36.6 335 30.2Z"/>
<path fill="#06a4ca" d="M339.3 30.5 340.7 34 342 37.1 339 39.6 337.7 36.6 336.4 33.3Z"/>
<path fill="#0c93d2" d="M340.7 34 342 37.1 343.3 39.8 340.3 42.2 339 39.6 337.7 36.6Z"/>
<path fill="#1481d6" d="M342 37.1 343.3 39.8 344.6 42 341.6 44.3 340.3 42.2 339 39.6Z"/>
<path fill="#0d75dc" d="M343.3 39.8 344.6 42 345.9 43.8 343 46.1 341.6 44.3 340.3 42.2Z"/>
<path fill="#046de0" d="M344.6 42 345.9 43.8 347.3 45.5 344.3 47.7 343 46.1 341.6 44.3Z"/>
<path fill="#0268e1" d="M345.9 43.8 347.3 45.5 348.6 47 345.6 49.1 344.3 47.7 343 46.1Z"/>
<path fill="#0f5cdd" d="M347.3 45.5 349.9 48.3 346.9 50.4 344.3 47.7Z"/>
<path fill="#2053d4" d="M348.6 47 351.2 49.5 348.3 51.6 345.6 49.1Z"/>
<path fill="#2c4ac7" d="M349.9 48.3 352.6 50.7 349.6 52.7 346.9 50.4Z"/>
<path fill="#3243ba" d="M351.2 49.5 352.6 50.7 355.2 52.8 352.2 54.8 349.6 52.7 348.3 51.6Z"/>
<path fill="#353dad" d="M353.9 51.8 357.9 54.6 354.9 56.6 350.9 53.8Z"/>
<path fill="#3637a0" d="M356.5 53.7 359.2 55.4 363.1 57.7 360.2 59.7 356.2 57.4 353.6 55.7Z"/>
<path fill="#363093" d="M361.8 57 364.5 58.3 368.4 60.2 365.5 62.2 361.5 60.4 358.9 59Z"/>
<path fill="#3637a0" d="M367.1 59.6 377.7 64.3 381.7 66.3 378.7 68.2 374.7 66.3 364.1 61.6Z"/>
<path fill="#0268e1" d="M295.5 20.7 300.8 23 297.8 25.2 292.5 22.9Z"/>
<path fill="#046de0" d="M299.5 22.5 303.4 24 306.1 24.9 303.1 27.1 300.5 26.2 296.5 24.6Z"/>
<path fill="#0871de" d="M304.8 24.5 308.7 25.6 305.8 27.8 301.8 26.7Z"/>
<path fill="#0d75dc" d="M307.4 25.3 310 25.9 311.4 26.1 308.4 28.3 307.1 28 304.4 27.4Z"/>
<path fill="#1079da" d="M310 25.9 312.7 26.2 309.7 28.4 307.1 28Z"/>
<path fill="#127dd8" d="M311.4 26.1 314 26.2 315.3 26.2 312.4 28.5 311 28.5 308.4 28.3Z"/>
<path fill="#1481d6" d="M314 26.2 316.7 26.1 313.7 28.4 311 28.5Z"/>
<path fill="#1485d4" d="M315.3 26.2 318 25.9 315 28.3 312.4 28.5Z"/>
<path fill="#108ed2" d="M316.7 26.1 319.3 25.7 316.3 28.1 313.7 28.4Z"/>
<path fill="#0c93d2" d="M318 25.9 320.6 25.3 317.7 27.8 315 28.3Z"/>
<path fill="#0998d1" d="M319.3 25.7 322 24.9 319 27.4 316.3 28.1Z"/>
<path fill="#06a0cd" d="M320.6 25.3 323.3 24.3 320.3 27 317.7 27.8Z"/>
<path fill="#06a7c6" d="M322 24.9 324.6 23.7 321.6 26.5 319 27.4Z"/>
<path fill="#0aacbe" d="M323.3 24.3 325.9 23.1 323 26 320.3 27Z"/>
<path fill="#15b1b4" d="M324.6 23.7 327.3 22.4 324.3 25.4 321.6 26.5Z"/>
<path fill="#25b5a9" d="M325.9 23.1 328.6 21.9 325.6 25 323 26Z"/>
<path fill="#2eb7a4" d="M327.3 22.4 328.6 21.9 329.9 21.6 326.9 24.8 325.6 25 324.3 25.4Z"/>
<path fill="#42bb98" d="M328.6 21.9 329.9 21.6 331.2 21.7 328.3 25 326.9 24.8 325.6 25Z"/>
<path fill="#4dbc92" d="M329.9 21.6 331.2 21.7 332.5 22.4 329.6 25.7 328.3 25 326.9 24.8Z"/>
<path fill="#59bd8c" d="M331.2 21.7 332.5 22.4 333.9 23.8 330.9 27 329.6 25.7 328.3 25Z"/>
<path fill="#4dbc92" d="M332.5 22.4 333.9 23.8 335.2 25.9 332.2 29 330.9 27 329.6 25.7Z"/>
<path fill="#38b99e" d="M333.9 23.8 335.2 25.9 336.5 28.7 333.5 31.6 332.2 29 330.9 27Z"/>
<path fill="#25b5a9" d="M335.2 25.9 336.5 28.7 337.8 31.9 334.9 34.7 333.5 31.6 332.2 29Z"/>
<path fill="#0aacbe" d="M336.5 28.7 339.2 35.3 336.2 37.9 333.5 31.6Z"/>
<path fill="#06a0cd" d="M337.8 31.9 339.2 35.3 340.5 38.4 337.5 40.9 336.2 37.9 334.9 34.7Z"/>
<path fill="#108ed2" d="M339.2 35.3 340.5 38.4 341.8 41 338.8 43.4 337.5 40.9 336.2 37.9Z"/>
<path fill="#1481d6" d="M340.5 38.4 341.8 41 343.1 43.1 340.2 45.4 338.8 43.4 337.5 40.9Z"/>
<path fill="#0d75dc" d="M341.8 41 343.1 43.1 344.5 45 341.5 47.2 340.2 45.4 338.8 43.4Z"/>
<path fill="#046de0" d="M343.1 43.1 344.5 45 345.8 46.6 342.8 48.7 341.5 47.2 340.2 45.4Z"/>
<path fill="#0268e1" d="M344.5 45 345.8 46.6 347.1 48 344.1 50.2 341.5 47.2Z"/>
<path fill="#0f5cdd" d="M345.8 46.6 348.4 49.3 345.5 51.4 342.8 48.7Z"/>
<path fill="#2053d4" d="M347.1 48 349.8 50.6 346.8 52.6 344.1 50.2Z"/>
<path fill="#2c4ac7" d="M348.4 49.3 351.1 51.7 348.1 53.8 345.5 51.4Z"/>
<path fill="#3243ba" d="M349.8 50.6 351.1 51.7 353.7 53.8 350.8 55.8 348.1 53.8 346.8 52.6Z"/>
<path fill="#353dad" d="M352.4 52.8 356.4 55.6 353.4 57.6 349.4 54.8Z"/>
<path fill="#3637a0" d="M355 54.7 359 57.2 363 59.4 360 61.4 356 59.2 352.1 56.7Z"/>
<path fill="#363093" d="M361.7 58.7 367 61.2 364 63.3 358.7 60.7Z"/>
<path fill="#3637a0" d="M365.6 60.6 376.2 65.3 380.2 67.2 377.2 69.2 373.3 67.3 362.7 62.6Z"/>
<path fill="#0268e1" d="M294 21.8 299.3 24.1 296.3 26.3 291 24Z"/>
<path fill="#046de0" d="M298 23.5 301.9 25.1 304.6 26 301.6 28.2 299 27.3 295 25.7Z"/>
<path fill="#0871de" d="M303.3 25.6 305.9 26.4 308.6 27 305.6 29.1 302.9 28.5 300.3 27.7Z"/>
<path fill="#0d75dc" d="M307.2 26.7 309.9 27.2 306.9 29.3 304.3 28.9Z"/>
<path fill="#1079da" d="M308.6 27 311.2 27.3 312.5 27.4 309.6 29.6 308.2 29.5 305.6 29.1Z"/>
<path fill="#127dd8" d="M311.2 27.3 313.9 27.4 310.9 29.6 308.2 29.5Z"/>
<path fill="#1481d6" d="M312.5 27.4 315.2 27.3 312.2 29.6 309.6 29.6Z"/>
<path fill="#1485d4" d="M313.9 27.4 316.5 27.1 313.5 29.5 310.9 29.6Z"/>
<path fill="#1389d3" d="M315.2 27.3 317.8 26.9 314.9 29.3 312.2 29.6Z"/>
<path fill="#0c93d2" d="M316.5 27.1 319.2 26.5 316.2 29 313.5 29.5Z"/>
<path fill="#0998d1" d="M317.8 26.9 320.5 26.1 317.5 28.7 314.9 29.3Z"/>
<path fill="#06a0cd" d="M319.2 26.5 321.8 25.7 318.8 28.3 316.2 29Z"/>
<path fill="#06a4ca" d="M320.5 26.1 323.1 25.1 320.2 27.9 317.5 28.7Z"/>
<path fill="#07a9c2" d="M321.8 25.7 324.4 24.5 321.5 27.4 318.8 28.3Z"/>
<path fill="#0faeb9" d="M323.1 25.1 325.8 23.9 322.8 26.9 320.2 27.9Z"/>
<path fill="#1db3af" d="M324.4 24.5 327.1 23.4 324.1 26.5 321.5 27.4Z"/>
<path fill="#2eb7a4" d="M325.8 23.9 327.1 23.4 328.4 23.2 325.4 26.4 324.1 26.5 322.8 26.9Z"/>
<path fill="#38b99e" d="M327.1 23.4 328.4 23.2 329.7 23.3 326.8 26.6 325.4 26.4 324.1 26.5Z"/>
<path fill="#42bb98" d="M328.4 23.2 329.7 23.3 331.1 24 328.1 27.3 326.8 26.6 325.4 26.4Z"/>
<path fill="#4dbc92" d="M329.7 23.3 331.1 24 332.4 25.4 329.4 28.6 328.1 27.3 326.8 26.6Z"/>
<path fill="#42bb98" d="M331.1 24 332.4 25.4 333.7 27.5 330.7 30.6 329.4 28.6 328.1 27.3Z"/>
<path fill="#2eb7a4" d="M332.4 25.4 333.7 27.5 335 30.2 332.1 33.1 330.7 30.6 329.4 28.6Z"/>
<path fill="#1db3af" d="M333.7 27.5 335 30.2 336.4 33.3 333.4 36.1 332.1 33.1 330.7 30.6Z"/>
<path fill="#07a9c2" d="M335 30.2 337.7 36.6 334.7 39.3 332.1 33.1Z"/>
<path fill="#06a0cd" d="M336.4 33.3 337.7 36.6 339 39.6 336 42.1 334.7 39.3 333.4 36.1Z"/>
<path fill="#108ed2" d="M337.7 36.6 339 39.6 340.3 42.2 337.4 44.6 336 42.1 334.7 39.3Z"/>
<path fill="#1481d6" d="M339 39.6 340.3 42.2 341.6 44.3 338.7 46.6 337.4 44.6 336 42.1Z"/>
<path fill="#0d75dc" d="M340.3 42.2 341.6 44.3 343 46.1 340 48.3 338.7 46.6 337.4 44.6Z"/>
<path fill="#046de0" d="M341.6 44.3 343 46.1 344.3 47.7 341.3 49.8 340 48.3 338.7 46.6Z"/>
<path fill="#0363e1" d="M343 46.1 344.3 47.7 345.6 49.1 342.6 51.2 340 48.3Z"/>
<path fill="#0f5cdd" d="M344.3 47.7 346.9 50.4 344 52.5 341.3 49.8Z"/>
<path fill="#2053d4" d="M345.6 49.1 348.3 51.6 345.3 53.7 342.6 51.2Z"/>
<path fill="#2c4ac7" d="M346.9 50.4 349.6 52.7 346.6 54.8 344 52.5Z"/>
<path fill="#3243ba" d="M348.3 51.6 349.6 52.7 352.2 54.8 349.3 56.8 346.6 54.8 345.3 53.7Z"/>
<path fill="#353dad" d="M350.9 53.8 354.9 56.6 351.9 58.6 347.9 55.8Z"/>
<path fill="#3637a0" d="M353.6 55.7 357.5 58.2 361.5 60.4 358.5 62.4 354.6 60.2 350.6 57.8Z"/>
<path fill="#363093" d="M360.2 59.7 365.5 62.2 362.5 64.3 357.2 61.7Z"/>
<path fill="#3637a0" d="M364.1 61.6 373.4 65.7 377.4 67.6 374.4 69.5 370.4 67.7 361.2 63.7Z"/>
<path fill="#353dad" d="M376.1 66.9 378.7 68.2 375.7 70.2 373.1 68.9Z"/>
<path fill="#0268e1" d="M292.5 22.9 296.5 24.6 299.1 25.7 296.2 27.9 293.5 26.8 289.6 25.1Z"/>
<path fill="#046de0" d="M297.8 25.2 301.8 26.7 304.4 27.4 301.5 29.6 298.8 28.8 294.8 27.4Z"/>
<path fill="#0871de" d="M303.1 27.1 305.8 27.8 307.1 28 304.1 30.2 300.1 29.2Z"/>
<path fill="#0d75dc" d="M305.8 27.8 308.4 28.3 305.4 30.5 302.8 30Z"/>
<path fill="#1079da" d="M307.1 28 309.7 28.4 311 28.5 308.1 30.7 306.8 30.6 304.1 30.2Z"/>
<path fill="#127dd8" d="M309.7 28.4 312.4 28.5 309.4 30.8 306.8 30.6Z"/>
<path fill="#1481d6" d="M311 28.5 313.7 28.4 310.7 30.7 308.1 30.7Z"/>
<path fill="#1485d4" d="M312.4 28.5 315 28.3 312 30.7 309.4 30.8Z"/>
<path fill="#1389d3" d="M313.7 28.4 316.3 28.1 313.4 30.5 310.7 30.7Z"/>
<path fill="#108ed2" d="M315 28.3 317.7 27.8 314.7 30.3 312 30.7Z"/>
<path fill="#0998d1" d="M316.3 28.1 319 27.4 316 30 313.4 30.5Z"/>
<path fill="#079ccf" d="M317.7 27.8 320.3 27 317.3 29.6 314.7 30.3Z"/>
<path fill="#06a4ca" d="M319 27.4 321.6 26.5 318.7 29.2 316 30Z"/>
<path fill="#07a9c2" d="M320.3 27 323 26 320 28.8 317.3 29.6Z"/>
<path fill="#0aacbe" d="M321.6 26.5 324.3 25.4 321.3 28.4 318.7 29.2Z"/>
<path fill="#15b1b4" d="M323 26 325.6 25 322.6 28.1 320 28.8Z"/>
<path fill="#25b5a9" d="M324.3 25.4 325.6 25 326.9 24.8 324 28 322.6 28.1 321.3 28.4Z"/>
<path fill="#2eb7a4" d="M325.6 25 326.9 24.8 328.3 25 325.3 28.2 324 28 322.6 28.1Z"/>
<path fill="#38b99e" d="M326.9 24.8 328.3 25 329.6 25.7 326.6 28.9 325.3 28.2 324 28Z"/>
<path fill="#42bb98" d="M328.3 25 329.6 25.7 330.9 27 327.9 30.2 326.6 28.9 325.3 28.2Z"/>
<path fill="#38b99e" d="M329.6 25.7 330.9 27 332.2 29 329.3 32.1 327.9 30.2 326.6 28.9Z"/>
<path fill="#2eb7a4" d="M330.9 27 332.2 29 333.5 31.6 330.6 34.6 329.3 32.1 327.9 30.2Z"/>
<path fill="#15b1b4" d="M332.2 29 333.5 31.6 334.9 34.7 331.9 37.5 330.6 34.6 329.3 32.1Z"/>
<path fill="#07a9c2" d="M333.5 31.6 336.2 37.9 333.2 40.6 330.6 34.6Z"/>
<path fill="#079ccf" d="M334.9 34.7 336.2 37.9 337.5 40.9 334.5 43.4 333.2 40.6 331.9 37.5Z"/>
<path fill="#1389d3" d="M336.2 37.9 337.5 40.9 338.8 43.4 335.9 45.7 334.5 43.4 333.2 40.6Z"/>
<path fill="#127dd8" d="M337.5 40.9 338.8 43.4 340.2 45.4 337.2 47.7 335.9 45.7 334.5 43.4Z"/>
<path fill="#0d75dc" d="M338.8 43.4 340.2 45.4 341.5 47.2 338.5 49.4 337.2 47.7 335.9 45.7Z"/>
<path fill="#046de0" d="M340.2 45.4 341.5 47.2 342.8 48.7 339.8 50.9 338.5 49.4 337.2 47.7Z"/>
<path fill="#0363e1" d="M341.5 47.2 344.1 50.2 341.2 52.3 338.5 49.4Z"/>
<path fill="#0f5cdd" d="M342.8 48.7 345.5 51.4 342.5 53.6 339.8 50.9Z"/>
<path fill="#2053d4" d="M344.1 50.2 346.8 52.6 343.8 54.7 341.2 52.3Z"/>
<path fill="#2c4ac7" d="M345.5 51.4 348.1 53.8 345.1 55.8 342.5 53.6Z"/>
<path fill="#3243ba" d="M346.8 52.6 348.1 53.8 350.8 55.8 347.8 57.8 343.8 54.7Z"/>
<path fill="#353dad" d="M349.4 54.8 353.4 57.6 350.4 59.6 346.5 56.9Z"/>
<path fill="#3637a0" d="M352.1 56.7 356 59.2 360 61.4 357 63.4 353.1 61.3 349.1 58.8Z"/>
<path fill="#363093" d="M358.7 60.7 362.7 62.6 359.7 64.7 355.7 62.7Z"/>
<path fill="#3637a0" d="M361.3 62 374.6 67.9 371.6 69.9 358.4 64Z"/>
<path fill="#353dad" d="M373.3 67.3 377.2 69.2 374.2 71.2 370.3 69.3Z"/>
<path fill="#0268e1" d="M291 24 295 25.7 297.7 26.8 294.7 29 292 27.9 288.1 26.2Z"/>
<path fill="#046de0" d="M296.3 26.3 300.3 27.7 302.9 28.5 300 30.7 297.3 29.9 293.4 28.5Z"/>
<path fill="#0871de" d="M301.6 28.2 305.6 29.1 302.6 31.3 298.7 30.3Z"/>
<path fill="#0d75dc" d="M304.3 28.9 306.9 29.3 308.2 29.5 305.3 31.7 303.9 31.6 301.3 31Z"/>
<path fill="#1079da" d="M306.9 29.3 309.6 29.6 306.6 31.8 303.9 31.6Z"/>
<path fill="#127dd8" d="M308.2 29.5 310.9 29.6 307.9 31.9 305.3 31.7Z"/>
<path fill="#1481d6" d="M309.6 29.6 312.2 29.6 309.2 31.9 306.6 31.8Z"/>
<path fill="#1485d4" d="M310.9 29.6 313.5 29.5 310.6 31.8 307.9 31.9Z"/>
<path fill="#1389d3" d="M312.2 29.6 314.9 29.3 311.9 31.7 309.2 31.9Z"/>
<path fill="#108ed2" d="M313.5 29.5 316.2 29 313.2 31.5 310.6 31.8Z"/>
<path fill="#0998d1" d="M314.9 29.3 317.5 28.7 314.5 31.3 311.9 31.7Z"/>
<path fill="#079ccf" d="M316.2 29 318.8 28.3 315.9 31 313.2 31.5Z"/>
<path fill="#06a0cd" d="M317.5 28.7 320.2 27.9 317.2 30.6 314.5 31.3Z"/>
<path fill="#06a7c6" d="M318.8 28.3 321.5 27.4 318.5 30.2 315.9 31Z"/>
<path fill="#0aacbe" d="M320.2 27.9 322.8 26.9 319.8 29.9 317.2 30.6Z"/>
<path fill="#0faeb9" d="M321.5 27.4 324.1 26.5 321.2 29.6 318.5 30.2Z"/>
<path fill="#1db3af" d="M322.8 26.9 324.1 26.5 325.4 26.4 322.5 29.5 321.2 29.6 319.8 29.9Z"/>
<path fill="#25b5a9" d="M324.1 26.5 325.4 26.4 326.8 26.6 323.8 29.8 322.5 29.5 321.2 29.6Z"/>
<path fill="#2eb7a4" d="M325.4 26.4 326.8 26.6 328.1 27.3 325.1 30.5 323.8 29.8 322.5 29.5Z"/>
<path fill="#38b99e" d="M326.8 26.6 328.1 27.3 329.4 28.6 326.4 31.8 325.1 30.5 323.8 29.8Z"/>
<path fill="#2eb7a4" d="M328.1 27.3 329.4 28.6 330.7 30.6 327.8 33.6 326.4 31.8 325.1 30.5Z"/>
<path fill="#25b5a9" d="M329.4 28.6 330.7 30.6 332.1 33.1 329.1 36 327.8 33.6 326.4 31.8Z"/>
<path fill="#0faeb9" d="M330.7 30.6 332.1 33.1 333.4 36.1 330.4 38.9 329.1 36 327.8 33.6Z"/>
<path fill="#06a7c6" d="M332.1 33.1 334.7 39.3 331.7 41.9 329.1 36Z"/>
<path fill="#0998d1" d="M333.4 36.1 334.7 39.3 336 42.1 333.1 44.6 331.7 41.9 330.4 38.9Z"/>
<path fill="#1389d3" d="M334.7 39.3 336 42.1 337.4 44.6 334.4 46.9 333.1 44.6 331.7 41.9Z"/>
<path fill="#127dd8" d="M336 42.1 337.4 44.6 338.7 46.6 335.7 48.9 334.4 46.9 333.1 44.6Z"/>
<path fill="#0d75dc" d="M337.4 44.6 338.7 46.6 340 48.3 337 50.5 335.7 48.9 334.4 46.9Z"/>
<path fill="#046de0" d="M338.7 46.6 340 48.3 341.3 49.8 338.4 52 337 50.5 335.7 48.9Z"/>
<path fill="#0363e1" d="M340 48.3 342.6 51.2 339.7 53.4 337 50.5Z"/>
<path fill="#0f5cdd" d="M341.3 49.8 344 52.5 341 54.6 338.4 52Z"/>
<path fill="#2053d4" d="M342.6 51.2 345.3 53.7 342.3 55.8 339.7 53.4Z"/>
<path fill="#2c4ac7" d="M344 52.5 346.6 54.8 343.6 56.9 341 54.6Z"/>
<path fill="#3243ba" d="M345.3 53.7 346.6 54.8 349.3 56.8 346.3 58.9 342.3 55.8Z"/>
<path fill="#353dad" d="M347.9 55.8 351.9 58.6 348.9 60.7 345 57.9Z"/>
<path fill="#3637a0" d="M350.6 57.8 354.6 60.2 358.5 62.4 362.5 64.3 373.1 68.9 370.1 70.9 359.5 66.3 355.6 64.4 351.6 62.3 347.6 59.8Z"/>
<path fill="#353dad" d="M371.8 68.3 375.7 70.2 372.8 72.2 368.8 70.3Z"/>
<path fill="#0268e1" d="M289.6 25.1 293.5 26.8 297.5 28.4 294.5 30.6 290.5 29 286.6 27.3Z"/>
<path fill="#046de0" d="M296.2 27.9 298.8 28.8 301.5 29.6 298.5 31.8 295.8 31 293.2 30.1Z"/>
<path fill="#0871de" d="M300.1 29.2 304.1 30.2 301.1 32.4 297.2 31.4Z"/>
<path fill="#0d75dc" d="M302.8 30 305.4 30.5 306.8 30.6 303.8 32.8 302.5 32.7 299.8 32.1Z"/>
<path fill="#1079da" d="M305.4 30.5 308.1 30.7 305.1 33 302.5 32.7Z"/>
<path fill="#127dd8" d="M306.8 30.6 309.4 30.8 306.4 33.1 303.8 32.8Z"/>
<path fill="#1481d6" d="M308.1 30.7 310.7 30.7 307.8 33.1 305.1 33Z"/>
<path fill="#1485d4" d="M309.4 30.8 312 30.7 309.1 33 306.4 33.1Z"/>
<path fill="#1389d3" d="M310.7 30.7 313.4 30.5 310.4 32.9 307.8 33.1Z"/>
<path fill="#108ed2" d="M312 30.7 314.7 30.3 311.7 32.8 309.1 33Z"/>
<path fill="#0c93d2" d="M313.4 30.5 316 30 313 32.6 310.4 32.9Z"/>
<path fill="#079ccf" d="M314.7 30.3 317.3 29.6 314.4 32.3 311.7 32.8Z"/>
<path fill="#06a0cd" d="M316 30 318.7 29.2 315.7 32 313 32.6Z"/>
<path fill="#06a7c6" d="M317.3 29.6 320 28.8 317 31.6 314.4 32.3Z"/>
<path fill="#07a9c2" d="M318.7 29.2 321.3 28.4 318.3 31.3 315.7 32Z"/>
<path fill="#0faeb9" d="M320 28.8 322.6 28.1 319.7 31.1 317 31.6Z"/>
<path fill="#15b1b4" d="M321.3 28.4 322.6 28.1 324 28 321 31.1 319.7 31.1 318.3 31.3Z"/>
<path fill="#25b5a9" d="M322.6 28.1 324 28 325.3 28.2 322.3 31.4 321 31.1 319.7 31.1Z"/>
<path fill="#2eb7a4" d="M324 28 325.3 28.2 326.6 28.9 327.9 30.2 325 33.3 323.6 32.1 322.3 31.4 321 31.1Z"/>
<path fill="#25b5a9" d="M326.6 28.9 327.9 30.2 329.3 32.1 326.3 35.1 325 33.3 323.6 32.1Z"/>
<path fill="#1db3af" d="M327.9 30.2 329.3 32.1 330.6 34.6 327.6 37.5 326.3 35.1 325 33.3Z"/>
<path fill="#0faeb9" d="M329.3 32.1 330.6 34.6 331.9 37.5 328.9 40.2 327.6 37.5 326.3 35.1Z"/>
<path fill="#06a7c6" d="M330.6 34.6 333.2 40.6 330.3 43.2 327.6 37.5Z"/>
<path fill="#0998d1" d="M331.9 37.5 333.2 40.6 334.5 43.4 331.6 45.9 330.3 43.2 328.9 40.2Z"/>
<path fill="#1389d3" d="M333.2 40.6 334.5 43.4 335.9 45.7 332.9 48.1 331.6 45.9 330.3 43.2Z"/>
<path fill="#127dd8" d="M334.5 43.4 335.9 45.7 337.2 47.7 334.2 50 332.9 48.1 331.6 45.9Z"/>
<path fill="#0871de" d="M335.9 45.7 337.2 47.7 338.5 49.4 335.5 51.7 334.2 50 332.9 48.1Z"/>
<path fill="#046de0" d="M337.2 47.7 338.5 49.4 339.8 50.9 336.9 53.1 335.5 51.7 334.2 50Z"/>
<path fill="#0363e1" d="M338.5 49.4 341.2 52.3 338.2 54.4 335.5 51.7Z"/>
<path fill="#0f5cdd" d="M339.8 50.9 342.5 53.6 339.5 55.7 336.9 53.1Z"/>
<path fill="#2053d4" d="M341.2 52.3 343.8 54.7 340.8 56.8 338.2 54.4Z"/>
<path fill="#2c4ac7" d="M342.5 53.6 345.1 55.8 342.2 57.9 339.5 55.7Z"/>
<path fill="#3243ba" d="M343.8 54.7 347.8 57.8 344.8 59.9 340.8 56.8Z"/>
<path fill="#353dad" d="M346.5 56.9 350.4 59.6 347.5 61.7 343.5 58.9Z"/>
<path fill="#3637a0" d="M349.1 58.8 353.1 61.3 357 63.4 361 65.3 370.3 69.3 367.3 71.3 358 67.3 354.1 65.4 350.1 63.3 346.1 60.8Z"/>
<path fill="#353dad" d="M369 68.7 374.2 71.2 371.3 73.2 366 70.7Z"/>
<path fill="#0268e1" d="M288.1 26.2 292 27.9 296 29.5 293 31.6 289.1 30.1 285.1 28.4Z"/>
<path fill="#046de0" d="M294.7 29 297.3 29.9 300 30.7 297 32.9 294.4 32.1 291.7 31.2Z"/>
<path fill="#0871de" d="M298.7 30.3 302.6 31.3 299.7 33.5 295.7 32.5Z"/>
<path fill="#0d75dc" d="M301.3 31 303.9 31.6 305.3 31.7 302.3 34 298.3 33.2Z"/>
<path fill="#1079da" d="M303.9 31.6 306.6 31.8 303.6 34.1 301 33.8Z"/>
<path fill="#127dd8" d="M305.3 31.7 307.9 31.9 304.9 34.2 302.3 34Z"/>
<path fill="#1481d6" d="M306.6 31.8 309.2 31.9 310.6 31.8 307.6 34.2 306.3 34.2 303.6 34.1Z"/>
<path fill="#1389d3" d="M309.2 31.9 311.9 31.7 308.9 34.1 306.3 34.2Z"/>
<path fill="#108ed2" d="M310.6 31.8 313.2 31.5 310.2 34 307.6 34.2Z"/>
<path fill="#0c93d2" d="M311.9 31.7 314.5 31.3 311.6 33.8 308.9 34.1Z"/>
<path fill="#0998d1" d="M313.2 31.5 315.9 31 312.9 33.6 310.2 34Z"/>
<path fill="#06a0cd" d="M314.5 31.3 317.2 30.6 314.2 33.3 311.6 33.8Z"/>
<path fill="#06a4ca" d="M315.9 31 318.5 30.2 315.5 33.1 312.9 33.6Z"/>
<path fill="#07a9c2" d="M317.2 30.6 319.8 29.9 316.9 32.8 314.2 33.3Z"/>
<path fill="#0aacbe" d="M318.5 30.2 321.2 29.6 318.2 32.6 315.5 33.1Z"/>
<path fill="#15b1b4" d="M319.8 29.9 321.2 29.6 322.5 29.5 319.5 32.6 318.2 32.6 316.9 32.8Z"/>
<path fill="#1db3af" d="M321.2 29.6 322.5 29.5 323.8 29.8 320.8 32.9 319.5 32.6 318.2 32.6Z"/>
<path fill="#25b5a9" d="M322.5 29.5 323.8 29.8 325.1 30.5 326.4 31.8 323.5 34.9 322.2 33.7 320.8 32.9 319.5 32.6Z"/>
<path fill="#1db3af" d="M325.1 30.5 326.4 31.8 327.8 33.6 324.8 36.6 323.5 34.9 322.2 33.7Z"/>
<path fill="#15b1b4" d="M326.4 31.8 327.8 33.6 329.1 36 326.1 38.9 324.8 36.6 323.5 34.9Z"/>
<path fill="#0aacbe" d="M327.8 33.6 329.1 36 330.4 38.9 327.4 41.6 326.1 38.9 324.8 36.6Z"/>
<path fill="#06a4ca" d="M329.1 36 331.7 41.9 328.8 44.5 326.1 38.9Z"/>
<path fill="#0998d1" d="M330.4 38.9 331.7 41.9 333.1 44.6 330.1 47.1 328.8 44.5 327.4 41.6Z"/>
<path fill="#1485d4" d="M331.7 41.9 333.1 44.6 334.4 46.9 331.4 49.3 330.1 47.1 328.8 44.5Z"/>
<path fill="#1079da" d="M333.1 44.6 334.4 46.9 335.7 48.9 332.7 51.2 331.4 49.3 330.1 47.1Z"/>
<path fill="#0871de" d="M334.4 46.9 335.7 48.9 337 50.5 334.1 52.8 332.7 51.2 331.4 49.3Z"/>
<path fill="#0268e1" d="M335.7 48.9 337 50.5 338.4 52 335.4 54.2 334.1 52.8 332.7 51.2Z"/>
<path fill="#0363e1" d="M337 50.5 339.7 53.4 336.7 55.5 334.1 52.8Z"/>
<path fill="#0f5cdd" d="M338.4 52 341 54.6 338 56.7 335.4 54.2Z"/>
<path fill="#2053d4" d="M339.7 53.4 342.3 55.8 339.4 57.9 336.7 55.5Z"/>
<path fill="#2c4ac7" d="M341 54.6 343.6 56.9 340.7 58.9 338 56.7Z"/>
<path fill="#3243ba" d="M342.3 55.8 346.3 58.9 343.3 60.9 339.4 57.9Z"/>
<path fill="#353dad" d="M345 57.9 348.9 60.7 346 62.7 342 60Z"/>
<path fill="#3637a0" d="M347.6 59.8 351.6 62.3 355.6 64.4 359.5 66.3 368.8 70.3 365.8 72.2 356.6 68.3 352.6 66.4 348.6 64.3 344.6 61.8Z"/>
<path fill="#353dad" d="M367.5 69.7 372.8 72.2 369.8 74.1 364.5 71.7Z"/>
<path fill="#0268e1" d="M286.6 27.3 291.9 29.6 295.8 31 292.9 33.2 288.9 31.7 283.6 29.5Z"/>
<path fill="#046de0" d="M294.5 30.6 297.2 31.4 299.8 32.1 296.8 34.3 294.2 33.6 291.5 32.7Z"/>
<path fill="#0871de" d="M298.5 31.8 302.5 32.7 299.5 34.9 295.5 34Z"/>
<path fill="#0d75dc" d="M301.1 32.4 303.8 32.8 300.8 35.1 298.2 34.6Z"/>
<path fill="#1079da" d="M302.5 32.7 305.1 33 302.1 35.2 299.5 34.9Z"/>
<path fill="#127dd8" d="M303.8 32.8 306.4 33.1 307.8 33.1 304.8 35.4 303.5 35.4 300.8 35.1Z"/>
<path fill="#1481d6" d="M306.4 33.1 309.1 33 306.1 35.4 303.5 35.4Z"/>
<path fill="#1485d4" d="M307.8 33.1 310.4 32.9 307.4 35.4 304.8 35.4Z"/>
<path fill="#1389d3" d="M309.1 33 311.7 32.8 308.8 35.3 306.1 35.4Z"/>
<path fill="#0c93d2" d="M310.4 32.9 313 32.6 310.1 35.1 307.4 35.4Z"/>
<path fill="#0998d1" d="M311.7 32.8 314.4 32.3 311.4 34.9 308.8 35.3Z"/>
<path fill="#079ccf" d="M313 32.6 315.7 32 312.7 34.7 310.1 35.1Z"/>
<path fill="#06a4ca" d="M314.4 32.3 317 31.6 314 34.5 311.4 34.9Z"/>
<path fill="#06a7c6" d="M315.7 32 318.3 31.3 315.4 34.2 312.7 34.7Z"/>
<path fill="#0aacbe" d="M317 31.6 319.7 31.1 316.7 34.1 314 34.5Z"/>
<path fill="#0faeb9" d="M318.3 31.3 319.7 31.1 321 31.1 318 34.2 316.7 34.1 315.4 34.2Z"/>
<path fill="#15b1b4" d="M319.7 31.1 321 31.1 322.3 31.4 319.3 34.5 318 34.2 316.7 34.1Z"/>
<path fill="#1db3af" d="M321 31.1 322.3 31.4 323.6 32.1 325 33.3 326.3 35.1 323.3 38.1 322 36.4 320.7 35.2 319.3 34.5 318 34.2Z"/>
<path fill="#0faeb9" d="M325 33.3 326.3 35.1 327.6 37.5 324.6 40.3 323.3 38.1 322 36.4Z"/>
<path fill="#07a9c2" d="M326.3 35.1 327.6 37.5 328.9 40.2 326 43 324.6 40.3 323.3 38.1Z"/>
<path fill="#06a0cd" d="M327.6 37.5 330.3 43.2 327.3 45.8 324.6 40.3Z"/>
<path fill="#0c93d2" d="M328.9 40.2 330.3 43.2 331.6 45.9 328.6 48.3 326 43Z"/>
<path fill="#1485d4" d="M330.3 43.2 331.6 45.9 332.9 48.1 329.9 50.5 328.6 48.3 327.3 45.8Z"/>
<path fill="#1079da" d="M331.6 45.9 332.9 48.1 334.2 50 331.3 52.3 329.9 50.5 328.6 48.3Z"/>
<path fill="#0871de" d="M332.9 48.1 334.2 50 335.5 51.7 332.6 53.9 331.3 52.3 329.9 50.5Z"/>
<path fill="#0268e1" d="M334.2 50 335.5 51.7 336.9 53.1 333.9 55.3 332.6 53.9 331.3 52.3Z"/>
<path fill="#0363e1" d="M335.5 51.7 338.2 54.4 335.2 56.6 332.6 53.9Z"/>
<path fill="#0f5cdd" d="M336.9 53.1 339.5 55.7 336.5 57.8 333.9 55.3Z"/>
<path fill="#2053d4" d="M338.2 54.4 340.8 56.8 337.9 58.9 335.2 56.6Z"/>
<path fill="#2c4ac7" d="M339.5 55.7 342.2 57.9 339.2 60 336.5 57.8Z"/>
<path fill="#3243ba" d="M340.8 56.8 344.8 59.9 341.8 61.9 337.9 58.9Z"/>
<path fill="#353dad" d="M343.5 58.9 347.5 61.7 344.5 63.7 340.5 61Z"/>
<path fill="#3637a0" d="M346.1 60.8 350.1 63.3 354.1 65.4 358 67.3 366 70.7 363 72.6 355.1 69.3 351.1 67.4 347.1 65.3 343.2 62.9Z"/>
<path fill="#353dad" d="M364.7 70.1 368.6 71.9 371.3 73.2 368.3 75.1 365.7 73.8 361.7 72.1Z"/>
<path fill="#0363e1" d="M285.1 28.4 287.7 29.6 284.8 31.8 282.1 30.6Z"/>
<path fill="#0268e1" d="M286.4 29 290.4 30.7 294.4 32.1 291.4 34.3 287.4 32.8 283.4 31.2Z"/>
<path fill="#046de0" d="M293 31.6 295.7 32.5 298.3 33.2 295.4 35.4 292.7 34.7 290.1 33.8Z"/>
<path fill="#0871de" d="M297 32.9 301 33.8 298 36 294 35.1Z"/>
<path fill="#0d75dc" d="M299.7 33.5 302.3 34 299.3 36.2 296.7 35.7Z"/>
<path fill="#1079da" d="M301 33.8 303.6 34.1 304.9 34.2 302 36.5 298 36Z"/>
<path fill="#127dd8" d="M303.6 34.1 306.3 34.2 303.3 36.6 300.7 36.4Z"/>
<path fill="#1481d6" d="M304.9 34.2 307.6 34.2 304.6 36.6 302 36.5Z"/>
<path fill="#1485d4" d="M306.3 34.2 308.9 34.1 305.9 36.6 303.3 36.6Z"/>
<path fill="#1389d3" d="M307.6 34.2 310.2 34 307.3 36.5 304.6 36.6Z"/>
<path fill="#108ed2" d="M308.9 34.1 311.6 33.8 308.6 36.4 305.9 36.6Z"/>
<path fill="#0c93d2" d="M310.2 34 312.9 33.6 309.9 36.2 307.3 36.5Z"/>
<path fill="#079ccf" d="M311.6 33.8 314.2 33.3 311.2 36.1 308.6 36.4Z"/>
<path fill="#06a0cd" d="M312.9 33.6 315.5 33.1 312.6 35.8 309.9 36.2Z"/>
<path fill="#06a7c6" d="M314.2 33.3 316.9 32.8 313.9 35.7 311.2 36.1Z"/>
<path fill="#07a9c2" d="M315.5 33.1 318.2 32.6 315.2 35.6 312.6 35.8Z"/>
<path fill="#0aacbe" d="M316.9 32.8 318.2 32.6 319.5 32.6 316.5 35.7 315.2 35.6 313.9 35.7Z"/>
<path fill="#0faeb9" d="M318.2 32.6 319.5 32.6 320.8 32.9 317.9 36 316.5 35.7 315.2 35.6Z"/>
<path fill="#15b1b4" d="M319.5 32.6 320.8 32.9 322.2 33.7 323.5 34.9 324.8 36.6 321.8 39.6 320.5 37.9 319.2 36.7 317.9 36 316.5 35.7Z"/>
<path fill="#0faeb9" d="M323.5 34.9 324.8 36.6 326.1 38.9 323.1 41.7 321.8 39.6 320.5 37.9Z"/>
<path fill="#07a9c2" d="M324.8 36.6 326.1 38.9 327.4 41.6 324.5 44.3 323.1 41.7 321.8 39.6Z"/>
<path fill="#06a0cd" d="M326.1 38.9 328.8 44.5 325.8 47 323.1 41.7Z"/>
<path fill="#0c93d2" d="M327.4 41.6 328.8 44.5 330.1 47.1 327.1 49.6 324.5 44.3Z"/>
<path fill="#1481d6" d="M328.8 44.5 330.1 47.1 331.4 49.3 328.4 51.7 327.1 49.6 325.8 47Z"/>
<path fill="#1079da" d="M330.1 47.1 331.4 49.3 332.7 51.2 329.8 53.5 328.4 51.7 327.1 49.6Z"/>
<path fill="#0871de" d="M331.4 49.3 332.7 51.2 334.1 52.8 331.1 55 329.8 53.5 328.4 51.7Z"/>
<path fill="#0268e1" d="M332.7 51.2 334.1 52.8 335.4 54.2 332.4 56.4 331.1 55 329.8 53.5Z"/>
<path fill="#0363e1" d="M334.1 52.8 336.7 55.5 333.7 57.7 331.1 55Z"/>
<path fill="#0f5cdd" d="M335.4 54.2 338 56.7 335.1 58.9 332.4 56.4Z"/>
<path fill="#2053d4" d="M336.7 55.5 339.4 57.9 336.4 60 333.7 57.7Z"/>
<path fill="#2c4ac7" d="M338 56.7 340.7 58.9 337.7 61 335.1 58.9Z"/>
<path fill="#3243ba" d="M339.4 57.9 343.3 60.9 340.4 63 336.4 60Z"/>
<path fill="#353dad" d="M342 60 346 62.7 343 64.7 339 62Z"/>
<path fill="#3637a0" d="M344.6 61.8 348.6 64.3 352.6 66.4 356.6 68.3 364.5 71.7 361.5 73.6 353.6 70.3 349.6 68.4 345.6 66.3 341.7 63.9Z"/>
<path fill="#353dad" d="M363.2 71.1 367.1 72.9 369.8 74.1 366.8 76.1 364.2 74.8 360.2 73.1Z"/>
<path fill="#0363e1" d="M283.6 29.5 287.6 31.2 284.6 33.4 280.6 31.7Z"/>
<path fill="#0268e1" d="M286.3 30.7 290.2 32.3 292.9 33.2 289.9 35.4 287.3 34.4 283.3 32.9Z"/>
<path fill="#046de0" d="M291.5 32.7 294.2 33.6 296.8 34.3 293.9 36.5 291.2 35.8 288.6 34.9Z"/>
<path fill="#0871de" d="M295.5 34 299.5 34.9 296.5 37.1 292.5 36.2Z"/>
<path fill="#0d75dc" d="M298.2 34.6 302.1 35.2 299.2 37.5 295.2 36.8Z"/>
<path fill="#1079da" d="M300.8 35.1 303.5 35.4 300.5 37.7 297.8 37.3Z"/>
<path fill="#127dd8" d="M302.1 35.2 304.8 35.4 301.8 37.8 299.2 37.5Z"/>
<path fill="#1481d6" d="M303.5 35.4 306.1 35.4 303.1 37.8 300.5 37.7Z"/>
<path fill="#1485d4" d="M304.8 35.4 307.4 35.4 304.5 37.8 301.8 37.8Z"/>
<path fill="#1389d3" d="M306.1 35.4 308.8 35.3 305.8 37.8 303.1 37.8Z"/>
<path fill="#108ed2" d="M307.4 35.4 310.1 35.1 307.1 37.7 304.5 37.8Z"/>
<path fill="#0c93d2" d="M308.8 35.3 311.4 34.9 308.4 37.6 305.8 37.8Z"/>
<path fill="#0998d1" d="M310.1 35.1 312.7 34.7 309.8 37.4 307.1 37.7Z"/>
<path fill="#06a0cd" d="M311.4 34.9 314 34.5 311.1 37.2 308.4 37.6Z"/>
<path fill="#06a4ca" d="M312.7 34.7 315.4 34.2 312.4 37.1 309.8 37.4Z"/>
<path fill="#06a7c6" d="M314 34.5 316.7 34.1 313.7 37 311.1 37.2Z"/>
<path fill="#0aacbe" d="M315.4 34.2 316.7 34.1 318 34.2 315 37.2 313.7 37 312.4 37.1Z"/>
<path fill="#0faeb9" d="M316.7 34.1 318 34.2 319.3 34.5 320.7 35.2 317.7 38.3 316.4 37.5 315 37.2 313.7 37Z"/>
<path fill="#15b1b4" d="M319.3 34.5 320.7 35.2 322 36.4 319 39.4 317.7 38.3 316.4 37.5Z"/>
<path fill="#0faeb9" d="M320.7 35.2 322 36.4 323.3 38.1 320.3 41 319 39.4 317.7 38.3Z"/>
<path fill="#0aacbe" d="M322 36.4 323.3 38.1 324.6 40.3 321.7 43.1 320.3 41 319 39.4Z"/>
<path fill="#06a7c6" d="M323.3 38.1 324.6 40.3 326 43 323 45.7 321.7 43.1 320.3 41Z"/>
<path fill="#079ccf" d="M324.6 40.3 327.3 45.8 324.3 48.3 321.7 43.1Z"/>
<path fill="#108ed2" d="M326 43 328.6 48.3 325.6 50.8 323 45.7Z"/>
<path fill="#1481d6" d="M327.3 45.8 328.6 48.3 329.9 50.5 327 52.9 325.6 50.8 324.3 48.3Z"/>
<path fill="#0d75dc" d="M328.6 48.3 329.9 50.5 331.3 52.3 328.3 54.6 327 52.9 325.6 50.8Z"/>
<path fill="#046de0" d="M329.9 50.5 331.3 52.3 332.6 53.9 329.6 56.2 328.3 54.6 327 52.9Z"/>
<path fill="#0268e1" d="M331.3 52.3 332.6 53.9 333.9 55.3 330.9 57.5 329.6 56.2 328.3 54.6Z"/>
<path fill="#0363e1" d="M332.6 53.9 335.2 56.6 332.3 58.8 329.6 56.2Z"/>
<path fill="#0f5cdd" d="M333.9 55.3 336.5 57.8 333.6 59.9 330.9 57.5Z"/>
<path fill="#2053d4" d="M335.2 56.6 337.9 58.9 334.9 61 332.3 58.8Z"/>
<path fill="#2c4ac7" d="M336.5 57.8 339.2 60 336.2 62.1 333.6 59.9Z"/>
<path fill="#3243ba" d="M337.9 58.9 341.8 61.9 338.9 64 334.9 61Z"/>
<path fill="#353dad" d="M340.5 61 344.5 63.7 341.5 65.8 337.5 63.1Z"/>
<path fill="#3637a0" d="M343.2 62.9 347.1 65.3 351.1 67.4 355.1 69.3 363 72.6 360 74.6 352.1 71.3 348.1 69.5 344.2 67.3 340.2 64.9Z"/>
<path fill="#353dad" d="M361.7 72.1 365.7 73.8 368.3 75.1 365.3 77.1 362.7 75.8 358.7 74.1Z"/>
<path fill="#0363e1" d="M282.1 30.6 287.4 32.8 284.4 35 279.2 32.8Z"/>
<path fill="#0268e1" d="M286.1 32.3 290.1 33.8 292.7 34.7 289.7 36.9 287.1 36 283.1 34.5Z"/>
<path fill="#046de0" d="M291.4 34.3 295.4 35.4 292.4 37.6 288.4 36.5Z"/>
<path fill="#0871de" d="M294 35.1 298 36 295 38.2 291.1 37.3Z"/>
<path fill="#0d75dc" d="M296.7 35.7 300.7 36.4 297.7 38.7 293.7 38Z"/>
<path fill="#1079da" d="M299.3 36.2 302 36.5 299 38.8 296.4 38.5Z"/>
<path fill="#127dd8" d="M300.7 36.4 303.3 36.6 300.3 38.9 297.7 38.7Z"/>
<path fill="#1481d6" d="M302 36.5 304.6 36.6 301.7 39 299 38.8Z"/>
<path fill="#1485d4" d="M303.3 36.6 305.9 36.6 303 39 300.3 38.9Z"/>
<path fill="#1389d3" d="M304.6 36.6 307.3 36.5 304.3 39 301.7 39Z"/>
<path fill="#108ed2" d="M305.9 36.6 308.6 36.4 305.6 39 303 39Z"/>
<path fill="#0c93d2" d="M307.3 36.5 309.9 36.2 306.9 38.9 304.3 39Z"/>
<path fill="#0998d1" d="M308.6 36.4 311.2 36.1 308.3 38.7 305.6 39Z"/>
<path fill="#079ccf" d="M309.9 36.2 312.6 35.8 309.6 38.6 306.9 38.9Z"/>
<path fill="#06a0cd" d="M311.2 36.1 313.9 35.7 310.9 38.5 308.3 38.7Z"/>
<path fill="#06a7c6" d="M312.6 35.8 315.2 35.6 312.2 38.5 309.6 38.6Z"/>
<path fill="#07a9c2" d="M313.9 35.7 315.2 35.6 316.5 35.7 313.6 38.6 312.2 38.5 310.9 38.5Z"/>
<path fill="#0aacbe" d="M315.2 35.6 316.5 35.7 317.9 36 314.9 39 313.6 38.6 312.2 38.5Z"/>
<path fill="#0faeb9" d="M316.5 35.7 317.9 36 319.2 36.7 320.5 37.9 317.5 40.9 316.2 39.8 314.9 39 313.6 38.6Z"/>
<path fill="#0aacbe" d="M319.2 36.7 320.5 37.9 321.8 39.6 318.9 42.5 317.5 40.9 316.2 39.8Z"/>
<path fill="#07a9c2" d="M320.5 37.9 321.8 39.6 323.1 41.7 320.2 44.5 318.9 42.5 317.5 40.9Z"/>
<path fill="#06a4ca" d="M321.8 39.6 323.1 41.7 324.5 44.3 321.5 47 320.2 44.5 318.9 42.5Z"/>
<path fill="#079ccf" d="M323.1 41.7 325.8 47 322.8 49.6 320.2 44.5Z"/>
<path fill="#108ed2" d="M324.5 44.3 327.1 49.6 324.1 52 321.5 47Z"/>
<path fill="#1481d6" d="M325.8 47 327.1 49.6 328.4 51.7 325.5 54.1 324.1 52 322.8 49.6Z"/>
<path fill="#0d75dc" d="M327.1 49.6 328.4 51.7 329.8 53.5 326.8 55.8 325.5 54.1 324.1 52Z"/>
<path fill="#046de0" d="M328.4 51.7 329.8 53.5 331.1 55 328.1 57.3 326.8 55.8 325.5 54.1Z"/>
<path fill="#0268e1" d="M329.8 53.5 331.1 55 332.4 56.4 329.4 58.6 328.1 57.3 326.8 55.8Z"/>
<path fill="#0f5cdd" d="M331.1 55 333.7 57.7 330.8 59.9 328.1 57.3Z"/>
<path fill="#2053d4" d="M332.4 56.4 333.7 57.7 336.4 60 333.4 62.1 330.8 59.9 329.4 58.6Z"/>
<path fill="#2c4ac7" d="M335.1 58.9 337.7 61 334.7 63.1 332.1 61Z"/>
<path fill="#3243ba" d="M336.4 60 340.4 63 337.4 65 333.4 62.1Z"/>
<path fill="#353dad" d="M339 62 343 64.7 340 66.8 336.1 64.1Z"/>
<path fill="#3637a0" d="M341.7 63.9 345.6 66.3 349.6 68.4 353.6 70.3 360.2 73.1 357.2 75.1 350.6 72.3 346.6 70.5 342.7 68.4 338.7 65.9Z"/>
<path fill="#353dad" d="M358.9 72.5 362.9 74.2 366.8 76.1 363.9 78.1 359.9 76.2 355.9 74.5Z"/>
<path fill="#0363e1" d="M280.6 31.7 285.9 33.9 283 36.1 277.7 33.9Z"/>
<path fill="#0268e1" d="M284.6 33.4 288.6 34.9 291.2 35.8 288.3 38 285.6 37.1 281.6 35.6Z"/>
<path fill="#046de0" d="M289.9 35.4 292.5 36.2 295.2 36.8 292.2 39.1 289.6 38.4 286.9 37.6Z"/>
<path fill="#0871de" d="M293.9 36.5 296.5 37.1 293.5 39.4 290.9 38.7Z"/>
<path fill="#0d75dc" d="M295.2 36.8 299.2 37.5 296.2 39.8 292.2 39.1Z"/>
<path fill="#1079da" d="M297.8 37.3 300.5 37.7 297.5 40 294.9 39.6Z"/>
<path fill="#127dd8" d="M299.2 37.5 303.1 37.8 300.2 40.2 296.2 39.8Z"/>
<path fill="#1481d6" d="M301.8 37.8 304.5 37.8 301.5 40.2 298.8 40.1Z"/>
<path fill="#1485d4" d="M303.1 37.8 305.8 37.8 302.8 40.3 300.2 40.2Z"/>
<path fill="#1389d3" d="M304.5 37.8 307.1 37.7 304.1 40.2 301.5 40.2Z"/>
<path fill="#108ed2" d="M305.8 37.8 308.4 37.6 305.5 40.2 302.8 40.3Z"/>
<path fill="#0998d1" d="M307.1 37.7 309.8 37.4 306.8 40.1 304.1 40.2Z"/>
<path fill="#079ccf" d="M308.4 37.6 311.1 37.2 308.1 40 305.5 40.2Z"/>
<path fill="#06a0cd" d="M309.8 37.4 312.4 37.1 309.4 39.9 306.8 40.1Z"/>
<path fill="#06a4ca" d="M311.1 37.2 313.7 37 310.8 39.9 308.1 40Z"/>
<path fill="#06a7c6" d="M312.4 37.1 313.7 37 315 37.2 312.1 40.1 310.8 39.9 309.4 39.9Z"/>
<path fill="#07a9c2" d="M313.7 37 315 37.2 316.4 37.5 313.4 40.5 312.1 40.1 310.8 39.9Z"/>
<path fill="#0aacbe" d="M315 37.2 316.4 37.5 317.7 38.3 319 39.4 320.3 41 317.4 43.9 316 42.4 314.7 41.2 313.4 40.5 312.1 40.1Z"/>
<path fill="#06a7c6" d="M319 39.4 320.3 41 321.7 43.1 318.7 45.9 317.4 43.9 316 42.4Z"/>
<path fill="#06a4ca" d="M320.3 41 321.7 43.1 323 45.7 320 48.3 318.7 45.9 317.4 43.9Z"/>
<path fill="#0998d1" d="M321.7 43.1 324.3 48.3 321.3 50.9 318.7 45.9Z"/>
<path fill="#1389d3" d="M323 45.7 325.6 50.8 322.7 53.2 320 48.3Z"/>
<path fill="#127dd8" d="M324.3 48.3 325.6 50.8 327 52.9 324 55.2 322.7 53.2 321.3 50.9Z"/>
<path fill="#0d75dc" d="M325.6 50.8 327 52.9 328.3 54.6 325.3 56.9 324 55.2 322.7 53.2Z"/>
<path fill="#046de0" d="M327 52.9 328.3 54.6 329.6 56.2 326.6 58.4 325.3 56.9 324 55.2Z"/>
<path fill="#0363e1" d="M328.3 54.6 329.6 56.2 330.9 57.5 328 59.7 326.6 58.4 325.3 56.9Z"/>
<path fill="#0f5cdd" d="M329.6 56.2 332.3 58.8 329.3 60.9 326.6 58.4Z"/>
<path fill="#2053d4" d="M330.9 57.5 333.6 59.9 330.6 62.1 328 59.7Z"/>
<path fill="#2c4ac7" d="M332.3 58.8 333.6 59.9 336.2 62.1 333.3 64.2 329.3 60.9Z"/>
<path fill="#3243ba" d="M334.9 61 338.9 64 335.9 66.1 331.9 63.2Z"/>
<path fill="#353dad" d="M337.5 63.1 341.5 65.8 338.5 67.8 334.6 65.1Z"/>
<path fill="#3637a0" d="M340.2 64.9 344.2 67.3 348.1 69.5 352.1 71.3 358.7 74.1 355.7 76.1 349.1 73.3 345.2 71.5 341.2 69.4 337.2 67Z"/>
<path fill="#353dad" d="M357.4 73.5 361.4 75.2 365.3 77.1 362.4 79.1 358.4 77.2 354.4 75.5Z"/>
<path fill="#0363e1" d="M279.2 32.8 283.1 34.5 285.8 35.5 282.8 37.7 280.2 36.7 276.2 35Z"/>
<path fill="#0268e1" d="M284.4 35 287.1 36 289.7 36.9 286.8 39.1 281.5 37.2Z"/>
<path fill="#046de0" d="M288.4 36.5 291.1 37.3 293.7 38 290.7 40.2 288.1 39.5 285.4 38.7Z"/>
<path fill="#0871de" d="M292.4 37.6 296.4 38.5 293.4 40.7 289.4 39.9Z"/>
<path fill="#0d75dc" d="M295 38.2 297.7 38.7 294.7 41 292.1 40.5Z"/>
<path fill="#1079da" d="M296.4 38.5 300.3 38.9 297.4 41.3 293.4 40.7Z"/>
<path fill="#127dd8" d="M299 38.8 301.7 39 298.7 41.4 296 41.1Z"/>
<path fill="#1481d6" d="M300.3 38.9 303 39 300 41.5 297.4 41.3Z"/>
<path fill="#1485d4" d="M301.7 39 304.3 39 301.3 41.5 298.7 41.4Z"/>
<path fill="#1389d3" d="M303 39 305.6 39 302.6 41.5 300 41.5Z"/>
<path fill="#108ed2" d="M304.3 39 306.9 38.9 304 41.5 301.3 41.5Z"/>
<path fill="#0c93d2" d="M305.6 39 308.3 38.7 305.3 41.4 302.6 41.5Z"/>
<path fill="#0998d1" d="M306.9 38.9 309.6 38.6 306.6 41.4 304 41.5Z"/>
<path fill="#079ccf" d="M308.3 38.7 310.9 38.5 307.9 41.3 305.3 41.4Z"/>
<path fill="#06a4ca" d="M309.6 38.6 312.2 38.5 309.3 41.4 306.6 41.4Z"/>
<path fill="#06a7c6" d="M310.9 38.5 312.2 38.5 313.6 38.6 310.6 41.6 309.3 41.4 307.9 41.3Z"/>
<path fill="#07a9c2" d="M312.2 38.5 313.6 38.6 314.9 39 316.2 39.8 317.5 40.9 318.9 42.5 315.9 45.3 314.6 43.8 313.2 42.7 311.9 42 310.6 41.6 309.3 41.4Z"/>
<path fill="#06a7c6" d="M317.5 40.9 318.9 42.5 320.2 44.5 317.2 47.3 315.9 45.3 314.6 43.8Z"/>
<path fill="#06a0cd" d="M318.9 42.5 320.2 44.5 321.5 47 318.5 49.7 317.2 47.3 315.9 45.3Z"/>
<path fill="#0998d1" d="M320.2 44.5 322.8 49.6 319.9 52.2 317.2 47.3Z"/>
<path fill="#1389d3" d="M321.5 47 324.1 52 321.2 54.5 318.5 49.7Z"/>
<path fill="#127dd8" d="M322.8 49.6 324.1 52 325.5 54.1 322.5 56.4 321.2 54.5 319.9 52.2Z"/>
<path fill="#0d75dc" d="M324.1 52 325.5 54.1 326.8 55.8 323.8 58.1 322.5 56.4 321.2 54.5Z"/>
<path fill="#046de0" d="M325.5 54.1 326.8 55.8 328.1 57.3 325.1 59.5 323.8 58.1 322.5 56.4Z"/>
<path fill="#0363e1" d="M326.8 55.8 328.1 57.3 329.4 58.6 326.5 60.8 323.8 58.1Z"/>
<path fill="#0f5cdd" d="M328.1 57.3 330.8 59.9 327.8 62 325.1 59.5Z"/>
<path fill="#2053d4" d="M329.4 58.6 332.1 61 329.1 63.1 326.5 60.8Z"/>
<path fill="#2c4ac7" d="M330.8 59.9 334.7 63.1 331.8 65.2 327.8 62Z"/>
<path fill="#3243ba" d="M333.4 62.1 337.4 65 334.4 67.1 330.4 64.2Z"/>
<path fill="#353dad" d="M336.1 64.1 340 66.8 337.1 68.8 333.1 66.2Z"/>
<path fill="#3637a0" d="M338.7 65.9 342.7 68.4 346.6 70.5 350.6 72.3 357.2 75.1 354.3 77 347.6 74.3 343.7 72.5 339.7 70.4 335.7 68Z"/>
<path fill="#353dad" d="M355.9 74.5 359.9 76.2 363.9 78.1 360.9 80.1 356.9 78.2 352.9 76.5Z"/>
<path fill="#0363e1" d="M277.7 33.9 281.6 35.6 284.3 36.6 281.3 38.8 274.7 36.1Z"/>
<path fill="#0268e1" d="M283 36.1 286.9 37.6 289.6 38.4 286.6 40.6 284 39.8 280 38.3Z"/>
<path fill="#046de0" d="M288.3 38 292.2 39.1 289.3 41.3 285.3 40.2Z"/>
<path fill="#0871de" d="M290.9 38.7 294.9 39.6 291.9 41.9 287.9 41Z"/>
<path fill="#0d75dc" d="M293.5 39.4 297.5 40 294.5 42.3 290.6 41.6Z"/>
<path fill="#1079da" d="M296.2 39.8 298.8 40.1 295.9 42.5 293.2 42.1Z"/>
<path fill="#127dd8" d="M297.5 40 300.2 40.2 297.2 42.6 294.5 42.3Z"/>
<path fill="#1481d6" d="M298.8 40.1 301.5 40.2 298.5 42.7 295.9 42.5Z"/>
<path fill="#1485d4" d="M300.2 40.2 302.8 40.3 299.8 42.7 297.2 42.6Z"/>
<path fill="#1389d3" d="M301.5 40.2 304.1 40.2 301.2 42.8 298.5 42.7Z"/>
<path fill="#108ed2" d="M302.8 40.3 305.5 40.2 302.5 42.8 299.8 42.7Z"/>
<path fill="#0c93d2" d="M304.1 40.2 306.8 40.1 303.8 42.7 301.2 42.8Z"/>
<path fill="#0998d1" d="M305.5 40.2 308.1 40 305.1 42.7 302.5 42.8Z"/>
<path fill="#079ccf" d="M306.8 40.1 309.4 39.9 306.5 42.7 303.8 42.7Z"/>
<path fill="#06a0cd" d="M308.1 40 310.8 39.9 307.8 42.8 305.1 42.7Z"/>
<path fill="#06a4ca" d="M309.4 39.9 310.8 39.9 312.1 40.1 309.1 43 307.8 42.8 306.5 42.7Z"/>
<path fill="#06a7c6" d="M310.8 39.9 312.1 40.1 313.4 40.5 314.7 41.2 311.8 44.2 310.4 43.5 309.1 43 307.8 42.8Z"/>
<path fill="#07a9c2" d="M313.4 40.5 314.7 41.2 316 42.4 313.1 45.3 311.8 44.2 310.4 43.5Z"/>
<path fill="#06a7c6" d="M314.7 41.2 316 42.4 317.4 43.9 314.4 46.8 313.1 45.3 311.8 44.2Z"/>
<path fill="#06a4ca" d="M316 42.4 317.4 43.9 318.7 45.9 315.7 48.7 314.4 46.8 313.1 45.3Z"/>
<path fill="#079ccf" d="M317.4 43.9 318.7 45.9 320 48.3 317 51 315.7 48.7 314.4 46.8Z"/>
<path fill="#0c93d2" d="M318.7 45.9 321.3 50.9 318.4 53.4 315.7 48.7Z"/>
<path fill="#1485d4" d="M320 48.3 322.7 53.2 319.7 55.7 317 51Z"/>
<path fill="#127dd8" d="M321.3 50.9 322.7 53.2 324 55.2 321 57.6 319.7 55.7 318.4 53.4Z"/>
<path fill="#0871de" d="M322.7 53.2 324 55.2 325.3 56.9 322.3 59.2 321 57.6 319.7 55.7Z"/>
<path fill="#046de0" d="M324 55.2 325.3 56.9 326.6 58.4 323.7 60.6 322.3 59.2 321 57.6Z"/>
<path fill="#0363e1" d="M325.3 56.9 326.6 58.4 328 59.7 325 61.9 322.3 59.2Z"/>
<path fill="#0f5cdd" d="M326.6 58.4 329.3 60.9 326.3 63.1 323.7 60.6Z"/>
<path fill="#2053d4" d="M328 59.7 330.6 62.1 327.6 64.2 325 61.9Z"/>
<path fill="#2c4ac7" d="M329.3 60.9 333.3 64.2 330.3 66.3 326.3 63.1Z"/>
<path fill="#3243ba" d="M331.9 63.2 335.9 66.1 332.9 68.1 329 65.3Z"/>
<path fill="#353dad" d="M334.6 65.1 338.5 67.8 335.6 69.9 331.6 67.2Z"/>
<path fill="#3637a0" d="M337.2 67 341.2 69.4 345.2 71.5 349.1 73.3 355.7 76.1 352.8 78 346.2 75.3 342.2 73.5 338.2 71.4 334.3 69Z"/>
<path fill="#353dad" d="M354.4 75.5 358.4 77.2 362.4 79.1 359.4 81 355.4 79.2 351.5 77.5Z"/>
<path fill="#0363e1" d="M276.2 35 280.2 36.7 284.1 38.2 281.2 40.4 277.2 38.9 273.2 37.2Z"/>
<path fill="#0268e1" d="M282.8 37.7 285.4 38.7 288.1 39.5 285.1 41.7 282.5 40.9 279.8 39.9Z"/>
<path fill="#046de0" d="M286.8 39.1 290.7 40.2 287.8 42.4 283.8 41.3Z"/>
<path fill="#0871de" d="M289.4 39.9 293.4 40.7 290.4 43 286.4 42.1Z"/>
<path fill="#0d75dc" d="M292.1 40.5 296 41.1 293.1 43.5 289.1 42.7Z"/>
<path fill="#1079da" d="M294.7 41 297.4 41.3 294.4 43.6 291.7 43.3Z"/>
<path fill="#127dd8" d="M296 41.1 298.7 41.4 295.7 43.8 293.1 43.5Z"/>
<path fill="#1481d6" d="M297.4 41.3 301.3 41.5 298.4 44 294.4 43.6Z"/>
<path fill="#1485d4" d="M300 41.5 302.6 41.5 299.7 44 297 43.9Z"/>
<path fill="#1389d3" d="M301.3 41.5 304 41.5 301 44.1 298.4 44Z"/>
<path fill="#108ed2" d="M302.6 41.5 305.3 41.4 302.3 44.1 299.7 44Z"/>
<path fill="#0c93d2" d="M304 41.5 306.6 41.4 303.6 44.1 301 44.1Z"/>
<path fill="#0998d1" d="M305.3 41.4 307.9 41.3 305 44.1 302.3 44.1Z"/>
<path fill="#079ccf" d="M306.6 41.4 309.3 41.4 306.3 44.2 303.6 44.1Z"/>
<path fill="#06a0cd" d="M307.9 41.3 309.3 41.4 310.6 41.6 307.6 44.5 306.3 44.2 305 44.1Z"/>
<path fill="#06a4ca" d="M309.3 41.4 310.6 41.6 311.9 42 308.9 44.9 307.6 44.5 306.3 44.2Z"/>
<path fill="#06a7c6" d="M310.6 41.6 311.9 42 313.2 42.7 314.6 43.8 311.6 46.7 310.3 45.6 308.9 44.9 307.6 44.5Z"/>
<path fill="#06a4ca" d="M313.2 42.7 314.6 43.8 315.9 45.3 317.2 47.3 314.2 50 312.9 48.2 311.6 46.7 310.3 45.6Z"/>
<path fill="#079ccf" d="M315.9 45.3 317.2 47.3 318.5 49.7 315.6 52.3 314.2 50 312.9 48.2Z"/>
<path fill="#0c93d2" d="M317.2 47.3 319.9 52.2 316.9 54.7 314.2 50Z"/>
<path fill="#1485d4" d="M318.5 49.7 321.2 54.5 318.2 56.9 315.6 52.3Z"/>
<path fill="#1079da" d="M319.9 52.2 321.2 54.5 322.5 56.4 319.5 58.8 318.2 56.9 316.9 54.7Z"/>
<path fill="#0871de" d="M321.2 54.5 322.5 56.4 323.8 58.1 320.9 60.4 319.5 58.8 318.2 56.9Z"/>
<path fill="#0268e1" d="M322.5 56.4 323.8 58.1 325.1 59.5 322.2 61.8 320.9 60.4 319.5 58.8Z"/>
<path fill="#0363e1" d="M323.8 58.1 326.5 60.8 323.5 63 320.9 60.4Z"/>
<path fill="#0f5cdd" d="M325.1 59.5 327.8 62 324.8 64.2 322.2 61.8Z"/>
<path fill="#2053d4" d="M326.5 60.8 329.1 63.1 326.1 65.3 323.5 63Z"/>
<path fill="#2c4ac7" d="M327.8 62 331.8 65.2 328.8 67.3 324.8 64.2Z"/>
<path fill="#3243ba" d="M330.4 64.2 333.1 66.2 330.1 68.3 327.5 66.3Z"/>
<path fill="#353dad" d="M331.8 65.2 334.4 67.1 337.1 68.8 334.1 70.9 331.4 69.2 328.8 67.3Z"/>
<path fill="#3637a0" d="M335.7 68 339.7 70.4 343.7 72.5 347.6 74.3 352.9 76.5 350 78.5 344.7 76.3 340.7 74.5 336.7 72.4 332.8 70Z"/>
<path fill="#353dad" d="M351.6 76 356.9 78.2 360.9 80.1 357.9 82 353.9 80.2 348.6 78Z"/>
<path fill="#0363e1" d="M274.7 36.1 278.7 37.8 282.6 39.3 279.7 41.5 275.7 40 271.7 38.3Z"/>
<path fill="#0268e1" d="M281.3 38.8 284 39.8 286.6 40.6 283.6 42.8 278.3 41Z"/>
<path fill="#046de0" d="M285.3 40.2 287.9 41 290.6 41.6 287.6 43.9 285 43.2 282.3 42.4Z"/>
<path fill="#0871de" d="M289.3 41.3 293.2 42.1 290.3 44.4 286.3 43.5Z"/>
<path fill="#0d75dc" d="M291.9 41.9 294.5 42.3 291.6 44.6 288.9 44.1Z"/>
<path fill="#1079da" d="M293.2 42.1 295.9 42.5 292.9 44.8 290.3 44.4Z"/>
<path fill="#127dd8" d="M294.5 42.3 298.5 42.7 295.5 45.1 291.6 44.6Z"/>
<path fill="#1481d6" d="M297.2 42.6 299.8 42.7 296.9 45.2 294.2 45Z"/>
<path fill="#1485d4" d="M298.5 42.7 301.2 42.8 298.2 45.3 295.5 45.1Z"/>
<path fill="#1389d3" d="M299.8 42.7 302.5 42.8 299.5 45.4 296.9 45.2Z"/>
<path fill="#108ed2" d="M301.2 42.8 303.8 42.7 300.8 45.4 298.2 45.3Z"/>
<path fill="#0c93d2" d="M302.5 42.8 305.1 42.7 302.2 45.4 299.5 45.4Z"/>
<path fill="#0998d1" d="M303.8 42.7 306.5 42.7 303.5 45.5 300.8 45.4Z"/>
<path fill="#079ccf" d="M305.1 42.7 307.8 42.8 304.8 45.6 302.2 45.4Z"/>
<path fill="#06a0cd" d="M306.5 42.7 307.8 42.8 309.1 43 306.1 45.9 304.8 45.6 303.5 45.5Z"/>
<path fill="#06a4ca" d="M307.8 42.8 309.1 43 310.4 43.5 311.8 44.2 313.1 45.3 314.4 46.8 311.4 49.6 310.1 48.1 308.8 47.1 307.5 46.4 306.1 45.9 304.8 45.6Z"/>
<path fill="#06a0cd" d="M313.1 45.3 314.4 46.8 315.7 48.7 312.8 51.4 311.4 49.6 310.1 48.1Z"/>
<path fill="#0998d1" d="M314.4 46.8 315.7 48.7 317 51 314.1 53.6 312.8 51.4 311.4 49.6Z"/>
<path fill="#108ed2" d="M315.7 48.7 318.4 53.4 315.4 55.9 312.8 51.4Z"/>
<path fill="#1485d4" d="M317 51 319.7 55.7 316.7 58.1 314.1 53.6Z"/>
<path fill="#1079da" d="M318.4 53.4 319.7 55.7 321 57.6 318 60 316.7 58.1 315.4 55.9Z"/>
<path fill="#0871de" d="M319.7 55.7 321 57.6 322.3 59.2 319.4 61.5 318 60 316.7 58.1Z"/>
<path fill="#0268e1" d="M321 57.6 322.3 59.2 323.7 60.6 320.7 62.9 319.4 61.5 318 60Z"/>
<path fill="#0363e1" d="M322.3 59.2 325 61.9 322 64.1 319.4 61.5Z"/>
<path fill="#0f5cdd" d="M323.7 60.6 326.3 63.1 323.3 65.3 320.7 62.9Z"/>
<path fill="#2053d4" d="M325 61.9 327.6 64.2 324.7 66.4 322 64.1Z"/>
<path fill="#2c4ac7" d="M326.3 63.1 330.3 66.3 327.3 68.4 323.3 65.3Z"/>
<path fill="#3243ba" d="M329 65.3 331.6 67.2 328.6 69.3 326 67.4Z"/>
<path fill="#353dad" d="M330.3 66.3 332.9 68.1 335.6 69.9 332.6 71.9 330 70.2 327.3 68.4Z"/>
<path fill="#3637a0" d="M334.3 69 338.2 71.4 342.2 73.5 346.2 75.3 351.5 77.5 348.5 79.5 343.2 77.3 339.2 75.5 335.2 73.5 331.3 71.1Z"/>
<path fill="#353dad" d="M350.1 77 355.4 79.2 359.4 81 356.4 83 352.5 81.1 347.2 78.9Z"/>
<path fill="#0f5cdd" d="M273.2 37.2 275.9 38.3 272.9 40.5 270.2 39.4Z"/>
<path fill="#0363e1" d="M274.5 37.8 278.5 39.4 282.5 40.9 279.5 43.1 275.5 41.6 271.6 40Z"/>
<path fill="#0268e1" d="M281.2 40.4 283.8 41.3 286.4 42.1 283.5 44.3 278.2 42.6Z"/>
<path fill="#046de0" d="M285.1 41.7 289.1 42.7 286.1 45 282.2 43.9Z"/>
<path fill="#0871de" d="M287.8 42.4 291.7 43.3 288.8 45.6 284.8 44.7Z"/>
<path fill="#0d75dc" d="M290.4 43 293.1 43.5 290.1 45.8 287.4 45.3Z"/>
<path fill="#1079da" d="M291.7 43.3 295.7 43.8 292.7 46.2 288.8 45.6Z"/>
<path fill="#127dd8" d="M294.4 43.6 297 43.9 294.1 46.3 291.4 46Z"/>
<path fill="#1481d6" d="M295.7 43.8 298.4 44 295.4 46.5 292.7 46.2Z"/>
<path fill="#1485d4" d="M297 43.9 299.7 44 296.7 46.6 294.1 46.3Z"/>
<path fill="#1389d3" d="M298.4 44 302.3 44.1 299.4 46.7 295.4 46.5Z"/>
<path fill="#108ed2" d="M301 44.1 303.6 44.1 300.7 46.8 298 46.6Z"/>
<path fill="#0c93d2" d="M302.3 44.1 305 44.1 302 46.9 299.4 46.7Z"/>
<path fill="#0998d1" d="M303.6 44.1 306.3 44.2 303.3 47 300.7 46.8Z"/>
<path fill="#079ccf" d="M305 44.1 306.3 44.2 307.6 44.5 304.6 47.3 303.3 47 302 46.9Z"/>
<path fill="#06a0cd" d="M306.3 44.2 307.6 44.5 308.9 44.9 310.3 45.6 307.3 48.5 306 47.8 304.6 47.3 303.3 47Z"/>
<path fill="#06a4ca" d="M308.9 44.9 310.3 45.6 311.6 46.7 308.6 49.5 307.3 48.5 306 47.8Z"/>
<path fill="#06a0cd" d="M310.3 45.6 311.6 46.7 312.9 48.2 309.9 50.9 308.6 49.5 307.3 48.5Z"/>
<path fill="#079ccf" d="M311.6 46.7 312.9 48.2 314.2 50 311.3 52.7 309.9 50.9 308.6 49.5Z"/>
<path fill="#0998d1" d="M312.9 48.2 314.2 50 315.6 52.3 312.6 54.9 311.3 52.7 309.9 50.9Z"/>
<path fill="#108ed2" d="M314.2 50 316.9 54.7 313.9 57.2 311.3 52.7Z"/>
<path fill="#1481d6" d="M315.6 52.3 318.2 56.9 315.2 59.3 312.6 54.9Z"/>
<path fill="#1079da" d="M316.9 54.7 318.2 56.9 319.5 58.8 316.6 61.1 315.2 59.3 313.9 57.2Z"/>
<path fill="#0871de" d="M318.2 56.9 319.5 58.8 320.9 60.4 317.9 62.7 316.6 61.1 315.2 59.3Z"/>
<path fill="#0268e1" d="M319.5 58.8 320.9 60.4 322.2 61.8 319.2 64 317.9 62.7 316.6 61.1Z"/>
<path fill="#0363e1" d="M320.9 60.4 323.5 63 320.5 65.2 317.9 62.7Z"/>
<path fill="#0f5cdd" d="M322.2 61.8 324.8 64.2 321.9 66.4 319.2 64Z"/>
<path fill="#2053d4" d="M323.5 63 326.1 65.3 323.2 67.4 320.5 65.2Z"/>
<path fill="#2c4ac7" d="M324.8 64.2 327.5 66.3 324.5 68.5 321.9 66.4Z"/>
<path fill="#3243ba" d="M326.1 65.3 330.1 68.3 327.1 70.4 323.2 67.4Z"/>
<path fill="#353dad" d="M328.8 67.3 331.4 69.2 334.1 70.9 331.1 72.9 328.5 71.3 325.8 69.4Z"/>
<path fill="#3637a0" d="M332.8 70 336.7 72.4 340.7 74.5 344.7 76.3 350 78.5 347 80.5 341.7 78.3 337.7 76.5 333.8 74.5 329.8 72.1Z"/>
<path fill="#353dad" d="M348.6 78 353.9 80.2 357.9 82 354.9 84 351 82.1 345.7 79.9Z"/>
<path fill="#0f5cdd" d="M271.7 38.3 274.4 39.4 271.4 41.6 268.8 40.5Z"/>
<path fill="#0363e1" d="M273 38.9 277 40.5 281 42 278 44.2 274 42.7 270.1 41.1Z"/>
<path fill="#0268e1" d="M279.7 41.5 282.3 42.4 285 43.2 282 45.4 276.7 43.7Z"/>
<path fill="#046de0" d="M283.6 42.8 287.6 43.9 284.6 46.1 280.7 45Z"/>
<path fill="#0871de" d="M286.3 43.5 290.3 44.4 287.3 46.7 283.3 45.8Z"/>
<path fill="#0d75dc" d="M288.9 44.1 292.9 44.8 289.9 47.2 286 46.4Z"/>
<path fill="#1079da" d="M291.6 44.6 294.2 45 291.3 47.4 288.6 47Z"/>
<path fill="#127dd8" d="M292.9 44.8 295.5 45.1 292.6 47.6 289.9 47.2Z"/>
<path fill="#1481d6" d="M294.2 45 298.2 45.3 295.2 47.8 291.3 47.4Z"/>
<path fill="#1485d4" d="M296.9 45.2 299.5 45.4 296.5 47.9 293.9 47.7Z"/>
<path fill="#1389d3" d="M298.2 45.3 300.8 45.4 297.9 48 295.2 47.8Z"/>
<path fill="#108ed2" d="M299.5 45.4 302.2 45.4 299.2 48.1 296.5 47.9Z"/>
<path fill="#0c93d2" d="M300.8 45.4 303.5 45.5 300.5 48.2 297.9 48Z"/>
<path fill="#0998d1" d="M302.2 45.4 304.8 45.6 301.8 48.4 299.2 48.1Z"/>
<path fill="#079ccf" d="M303.5 45.5 304.8 45.6 306.1 45.9 307.5 46.4 304.5 49.2 303.2 48.7 301.8 48.4 300.5 48.2Z"/>
<path fill="#06a0cd" d="M306.1 45.9 307.5 46.4 308.8 47.1 310.1 48.1 311.4 49.6 308.5 52.3 307.1 51 305.8 49.9 304.5 49.2 303.2 48.7Z"/>
<path fill="#079ccf" d="M310.1 48.1 311.4 49.6 312.8 51.4 309.8 54.1 308.5 52.3 307.1 51Z"/>
<path fill="#0c93d2" d="M311.4 49.6 312.8 51.4 314.1 53.6 311.1 56.2 309.8 54.1 308.5 52.3Z"/>
<path fill="#1389d3" d="M312.8 51.4 315.4 55.9 312.4 58.4 309.8 54.1Z"/>
<path fill="#1481d6" d="M314.1 53.6 316.7 58.1 313.8 60.5 311.1 56.2Z"/>
<path fill="#0d75dc" d="M315.4 55.9 316.7 58.1 318 60 315.1 62.3 313.8 60.5 312.4 58.4Z"/>
<path fill="#046de0" d="M316.7 58.1 318 60 319.4 61.5 316.4 63.8 315.1 62.3 313.8 60.5Z"/>
<path fill="#0268e1" d="M318 60 319.4 61.5 320.7 62.9 317.7 65.1 316.4 63.8 315.1 62.3Z"/>
<path fill="#0f5cdd" d="M319.4 61.5 322 64.1 319 66.3 316.4 63.8Z"/>
<path fill="#2053d4" d="M320.7 62.9 322 64.1 324.7 66.4 321.7 68.5 319 66.3 317.7 65.1Z"/>
<path fill="#2c4ac7" d="M323.3 65.3 326 67.4 323 69.5 320.4 67.5Z"/>
<path fill="#3243ba" d="M324.7 66.4 328.6 69.3 325.7 71.4 321.7 68.5Z"/>
<path fill="#353dad" d="M327.3 68.4 330 70.2 332.6 71.9 329.6 74 327 72.3 324.3 70.5Z"/>
<path fill="#3637a0" d="M331.3 71.1 335.2 73.5 339.2 75.5 343.2 77.3 348.5 79.5 345.5 81.5 340.2 79.3 336.2 77.5 332.3 75.5 328.3 73.1Z"/>
<path fill="#353dad" d="M347.2 78.9 352.5 81.1 356.4 83 353.5 85 349.5 83.1 344.2 80.9Z"/>
<path fill="#0f5cdd" d="M270.2 39.4 274.2 41.1 271.2 43.3 267.3 41.6Z"/>
<path fill="#0363e1" d="M272.9 40.5 276.9 42.1 280.8 43.5 277.9 45.7 273.9 44.3 269.9 42.7Z"/>
<path fill="#0268e1" d="M279.5 43.1 283.5 44.3 280.5 46.5 276.5 45.3Z"/>
<path fill="#046de0" d="M282.2 43.9 284.8 44.7 287.4 45.3 284.5 47.6 281.8 46.9 279.2 46.1Z"/>
<path fill="#0871de" d="M286.1 45 288.8 45.6 285.8 47.9 283.1 47.3Z"/>
<path fill="#0d75dc" d="M287.4 45.3 291.4 46 288.4 48.4 284.5 47.6Z"/>
<path fill="#1079da" d="M290.1 45.8 292.7 46.2 289.8 48.6 287.1 48.1Z"/>
<path fill="#127dd8" d="M291.4 46 295.4 46.5 292.4 48.9 288.4 48.4Z"/>
<path fill="#1481d6" d="M294.1 46.3 296.7 46.6 293.7 49.1 291.1 48.8Z"/>
<path fill="#1485d4" d="M295.4 46.5 298 46.6 295.1 49.2 292.4 48.9Z"/>
<path fill="#1389d3" d="M296.7 46.6 299.4 46.7 296.4 49.3 293.7 49.1Z"/>
<path fill="#108ed2" d="M298 46.6 300.7 46.8 297.7 49.4 295.1 49.2Z"/>
<path fill="#0c93d2" d="M299.4 46.7 302 46.9 303.3 47 300.4 49.8 299 49.6 296.4 49.3Z"/>
<path fill="#0998d1" d="M302 46.9 303.3 47 304.6 47.3 301.7 50.1 300.4 49.8 299 49.6Z"/>
<path fill="#079ccf" d="M303.3 47 304.6 47.3 306 47.8 307.3 48.5 308.6 49.5 309.9 50.9 307 53.7 305.6 52.4 304.3 51.3 303 50.6 301.7 50.1 300.4 49.8Z"/>
<path fill="#0998d1" d="M308.6 49.5 309.9 50.9 311.3 52.7 308.3 55.4 307 53.7 305.6 52.4Z"/>
<path fill="#0c93d2" d="M309.9 50.9 311.3 52.7 312.6 54.9 309.6 57.5 308.3 55.4 307 53.7Z"/>
<path fill="#1389d3" d="M311.3 52.7 313.9 57.2 310.9 59.7 308.3 55.4Z"/>
<path fill="#127dd8" d="M312.6 54.9 315.2 59.3 312.3 61.7 309.6 57.5Z"/>
<path fill="#0d75dc" d="M313.9 57.2 315.2 59.3 316.6 61.1 313.6 63.5 312.3 61.7 310.9 59.7Z"/>
<path fill="#046de0" d="M315.2 59.3 316.6 61.1 317.9 62.7 314.9 65 313.6 63.5 312.3 61.7Z"/>
<path fill="#0363e1" d="M316.6 61.1 317.9 62.7 319.2 64 316.2 66.3 314.9 65 313.6 63.5Z"/>
<path fill="#0f5cdd" d="M317.9 62.7 320.5 65.2 317.6 67.4 314.9 65Z"/>
<path fill="#2053d4" d="M319.2 64 320.5 65.2 323.2 67.4 320.2 69.6 317.6 67.4 316.2 66.3Z"/>
<path fill="#2c4ac7" d="M321.9 66.4 324.5 68.5 321.5 70.6 318.9 68.5Z"/>
<path fill="#3243ba" d="M323.2 67.4 327.1 70.4 324.2 72.5 320.2 69.6Z"/>
<path fill="#353dad" d="M325.8 69.4 328.5 71.3 331.1 72.9 328.1 75 325.5 73.3 322.9 71.5Z"/>
<path fill="#3637a0" d="M329.8 72.1 333.8 74.5 337.7 76.5 341.7 78.3 347 80.5 344 82.5 338.7 80.3 334.8 78.6 330.8 76.5 326.8 74.2Z"/>
<path fill="#353dad" d="M345.7 79.9 351 82.1 354.9 84 352 86 348 84.1 342.7 81.9Z"/>
<path fill="#0f5cdd" d="M268.8 40.5 274 42.7 271.1 44.9 265.8 42.7Z"/>
<path fill="#0363e1" d="M272.7 42.2 276.7 43.7 279.3 44.6 276.4 46.8 273.7 45.9 269.8 44.4Z"/>
<path fill="#0268e1" d="M278 44.2 283.3 45.8 280.3 48 275 46.4Z"/>
<path fill="#046de0" d="M282 45.4 286 46.4 283 48.7 279 47.7Z"/>
<path fill="#0871de" d="M284.6 46.1 288.6 47 285.6 49.3 281.7 48.4Z"/>
<path fill="#0d75dc" d="M287.3 46.7 289.9 47.2 287 49.6 284.3 49Z"/>
<path fill="#1079da" d="M288.6 47 292.6 47.6 289.6 50 285.6 49.3Z"/>
<path fill="#127dd8" d="M291.3 47.4 293.9 47.7 290.9 50.2 288.3 49.8Z"/>
<path fill="#1481d6" d="M292.6 47.6 295.2 47.8 292.3 50.3 289.6 50Z"/>
<path fill="#1485d4" d="M293.9 47.7 297.9 48 294.9 50.6 290.9 50.2Z"/>
<path fill="#1389d3" d="M296.5 47.9 299.2 48.1 296.2 50.8 293.6 50.5Z"/>
<path fill="#108ed2" d="M297.9 48 300.5 48.2 297.5 50.9 294.9 50.6Z"/>
<path fill="#0c93d2" d="M299.2 48.1 301.8 48.4 298.9 51.2 296.2 50.8Z"/>
<path fill="#0998d1" d="M300.5 48.2 301.8 48.4 303.2 48.7 304.5 49.2 301.5 52 300.2 51.5 298.9 51.2 297.5 50.9Z"/>
<path fill="#079ccf" d="M303.2 48.7 304.5 49.2 305.8 49.9 307.1 51 304.2 53.7 302.8 52.7 301.5 52 300.2 51.5Z"/>
<path fill="#0998d1" d="M305.8 49.9 307.1 51 308.5 52.3 309.8 54.1 306.8 56.7 305.5 55.1 304.2 53.7 302.8 52.7Z"/>
<path fill="#108ed2" d="M308.5 52.3 309.8 54.1 311.1 56.2 308.1 58.8 306.8 56.7 305.5 55.1Z"/>
<path fill="#1485d4" d="M309.8 54.1 312.4 58.4 309.5 60.9 306.8 56.7Z"/>
<path fill="#127dd8" d="M311.1 56.2 313.8 60.5 310.8 62.9 308.1 58.8Z"/>
<path fill="#0d75dc" d="M312.4 58.4 313.8 60.5 315.1 62.3 312.1 64.6 310.8 62.9 309.5 60.9Z"/>
<path fill="#046de0" d="M313.8 60.5 315.1 62.3 316.4 63.8 313.4 66.1 312.1 64.6 310.8 62.9Z"/>
<path fill="#0363e1" d="M315.1 62.3 316.4 63.8 317.7 65.1 314.8 67.4 313.4 66.1 312.1 64.6Z"/>
<path fill="#0f5cdd" d="M316.4 63.8 319 66.3 316.1 68.5 313.4 66.1Z"/>
<path fill="#2053d4" d="M317.7 65.1 320.4 67.5 317.4 69.6 314.8 67.4Z"/>
<path fill="#2c4ac7" d="M319 66.3 323 69.5 320 71.7 316.1 68.5Z"/>
<path fill="#3243ba" d="M321.7 68.5 325.7 71.4 322.7 73.5 318.7 70.7Z"/>
<path fill="#353dad" d="M324.3 70.5 327 72.3 329.6 74 326.7 76 324 74.4 321.4 72.6Z"/>
<path fill="#3637a0" d="M328.3 73.1 332.3 75.5 336.2 77.5 340.2 79.3 344.2 80.9 341.2 82.9 337.2 81.3 333.3 79.6 329.3 77.5 325.3 75.2Z"/>
<path fill="#353dad" d="M342.9 80.4 349.5 83.1 353.5 85 350.5 87 346.5 85.1 339.9 82.4Z"/>
<path fill="#0f5cdd" d="M267.3 41.6 272.6 43.8 269.6 46 264.3 43.8Z"/>
<path fill="#0363e1" d="M271.2 43.3 275.2 44.8 277.9 45.7 274.9 47.9 272.2 47 268.3 45.5Z"/>
<path fill="#0268e1" d="M276.5 45.3 281.8 46.9 278.9 49.2 273.6 47.5Z"/>
<path fill="#046de0" d="M280.5 46.5 284.5 47.6 281.5 49.9 277.5 48.8Z"/>
<path fill="#0871de" d="M283.1 47.3 287.1 48.1 284.1 50.5 280.2 49.5Z"/>
<path fill="#0d75dc" d="M285.8 47.9 289.8 48.6 286.8 51 282.8 50.2Z"/>
<path fill="#1079da" d="M288.4 48.4 291.1 48.8 288.1 51.2 285.5 50.7Z"/>
<path fill="#127dd8" d="M289.8 48.6 293.7 49.1 290.8 51.6 286.8 51Z"/>
<path fill="#1481d6" d="M292.4 48.9 295.1 49.2 292.1 51.8 289.4 51.4Z"/>
<path fill="#1485d4" d="M293.7 49.1 296.4 49.3 293.4 51.9 290.8 51.6Z"/>
<path fill="#1389d3" d="M295.1 49.2 297.7 49.4 294.7 52.1 292.1 51.8Z"/>
<path fill="#108ed2" d="M296.4 49.3 299 49.6 300.4 49.8 297.4 52.5 296.1 52.3 293.4 51.9Z"/>
<path fill="#0c93d2" d="M299 49.6 300.4 49.8 301.7 50.1 298.7 52.9 297.4 52.5 296.1 52.3Z"/>
<path fill="#0998d1" d="M300.4 49.8 301.7 50.1 303 50.6 304.3 51.3 305.6 52.4 307 53.7 304 56.4 302.7 55.1 301.4 54.1 300 53.4 298.7 52.9 297.4 52.5Z"/>
<path fill="#0c93d2" d="M305.6 52.4 307 53.7 308.3 55.4 305.3 58.1 304 56.4 302.7 55.1Z"/>
<path fill="#108ed2" d="M307 53.7 308.3 55.4 309.6 57.5 306.6 60 305.3 58.1 304 56.4Z"/>
<path fill="#1485d4" d="M308.3 55.4 310.9 59.7 308 62.2 305.3 58.1Z"/>
<path fill="#127dd8" d="M309.6 57.5 312.3 61.7 309.3 64.1 306.6 60Z"/>
<path fill="#0871de" d="M310.9 59.7 312.3 61.7 313.6 63.5 310.6 65.8 309.3 64.1 308 62.2Z"/>
<path fill="#0268e1" d="M312.3 61.7 313.6 63.5 314.9 65 311.9 67.2 310.6 65.8 309.3 64.1Z"/>
<path fill="#0363e1" d="M313.6 63.5 314.9 65 316.2 66.3 313.3 68.5 311.9 67.2 310.6 65.8Z"/>
<path fill="#0f5cdd" d="M314.9 65 317.6 67.4 314.6 69.6 311.9 67.2Z"/>
<path fill="#2053d4" d="M316.2 66.3 318.9 68.5 315.9 70.7 313.3 68.5Z"/>
<path fill="#2c4ac7" d="M317.6 67.4 321.5 70.6 318.6 72.7 314.6 69.6Z"/>
<path fill="#3243ba" d="M320.2 69.6 324.2 72.5 321.2 74.6 317.2 71.7Z"/>
<path fill="#353dad" d="M322.9 71.5 325.5 73.3 328.1 75 325.2 77.1 322.5 75.4 319.9 73.7Z"/>
<path fill="#3637a0" d="M326.8 74.2 330.8 76.5 334.8 78.6 338.7 80.3 342.7 81.9 339.7 83.9 335.8 82.3 331.8 80.6 327.8 78.6 323.9 76.3Z"/>
<path fill="#353dad" d="M341.4 81.4 346.7 83.5 350.6 85.3 347.7 87.3 343.7 85.5 338.4 83.4Z"/>
<path fill="#3243ba" d="M349.3 84.7 352 86 349 87.9 346.4 86.7Z"/>
<path fill="#0f5cdd" d="M265.8 42.7 272.4 45.4 269.4 47.6 262.8 44.9Z"/>
<path fill="#0363e1" d="M271.1 44.9 275 46.4 277.7 47.3 274.7 49.5 272.1 48.6 268.1 47.1Z"/>
<path fill="#0268e1" d="M276.4 46.8 280.3 48 277.4 50.3 273.4 49Z"/>
<path fill="#046de0" d="M279 47.7 284.3 49 281.3 51.3 276 49.9Z"/>
<path fill="#0871de" d="M283 48.7 285.6 49.3 282.7 51.6 280 51Z"/>
<path fill="#0d75dc" d="M284.3 49 288.3 49.8 285.3 52.2 281.3 51.3Z"/>
<path fill="#1079da" d="M287 49.6 290.9 50.2 288 52.6 284 51.9Z"/>
<path fill="#127dd8" d="M289.6 50 292.3 50.3 289.3 52.8 286.6 52.4Z"/>
<path fill="#1481d6" d="M290.9 50.2 293.6 50.5 290.6 53 288 52.6Z"/>
<path fill="#1485d4" d="M292.3 50.3 296.2 50.8 293.3 53.4 289.3 52.8Z"/>
<path fill="#1389d3" d="M294.9 50.6 297.5 50.9 294.6 53.6 291.9 53.2Z"/>
<path fill="#108ed2" d="M296.2 50.8 298.9 51.2 295.9 53.9 293.3 53.4Z"/>
<path fill="#0c93d2" d="M297.5 50.9 298.9 51.2 300.2 51.5 301.5 52 302.8 52.7 299.9 55.5 298.5 54.8 297.2 54.3 294.6 53.6Z"/>
<path fill="#0998d1" d="M301.5 52 302.8 52.7 304.2 53.7 301.2 56.5 299.9 55.5 298.5 54.8Z"/>
<path fill="#0c93d2" d="M302.8 52.7 304.2 53.7 305.5 55.1 302.5 57.8 301.2 56.5 299.9 55.5Z"/>
<path fill="#108ed2" d="M304.2 53.7 305.5 55.1 306.8 56.7 303.8 59.4 302.5 57.8 301.2 56.5Z"/>
<path fill="#1389d3" d="M305.5 55.1 306.8 56.7 308.1 58.8 305.2 61.3 303.8 59.4 302.5 57.8Z"/>
<path fill="#1481d6" d="M306.8 56.7 309.5 60.9 306.5 63.4 303.8 59.4Z"/>
<path fill="#1079da" d="M308.1 58.8 310.8 62.9 307.8 65.3 305.2 61.3Z"/>
<path fill="#0871de" d="M309.5 60.9 310.8 62.9 312.1 64.6 309.1 67 307.8 65.3 306.5 63.4Z"/>
<path fill="#0268e1" d="M310.8 62.9 312.1 64.6 313.4 66.1 310.5 68.4 309.1 67 307.8 65.3Z"/>
<path fill="#0363e1" d="M312.1 64.6 313.4 66.1 314.8 67.4 311.8 69.6 310.5 68.4 309.1 67Z"/>
<path fill="#0f5cdd" d="M313.4 66.1 316.1 68.5 313.1 70.7 310.5 68.4Z"/>
<path fill="#2053d4" d="M314.8 67.4 317.4 69.6 314.4 71.8 311.8 69.6Z"/>
<path fill="#2c4ac7" d="M316.1 68.5 320 71.7 317.1 73.8 313.1 70.7Z"/>
<path fill="#3243ba" d="M318.7 70.7 322.7 73.5 319.7 75.6 315.8 72.8Z"/>
<path fill="#353dad" d="M321.4 72.6 324 74.4 326.7 76 323.7 78.1 321 76.5 318.4 74.7Z"/>
<path fill="#3637a0" d="M325.3 75.2 329.3 77.5 333.3 79.6 337.2 81.3 341.2 82.9 338.2 84.9 334.3 83.3 330.3 81.6 326.3 79.6 322.4 77.3Z"/>
<path fill="#353dad" d="M339.9 82.4 345.2 84.5 349.2 86.3 346.2 88.3 342.2 86.5 336.9 84.4Z"/>
<path fill="#3243ba" d="M347.8 85.7 350.5 87 347.5 88.9 344.9 87.7Z"/>
<path fill="#0f5cdd" d="M264.3 43.8 268.3 45.5 272.2 47 269.3 49.2 265.3 47.7 261.3 46Z"/>
<path fill="#0363e1" d="M270.9 46.5 276.2 48.4 273.2 50.6 267.9 48.7Z"/>
<path fill="#0268e1" d="M274.9 47.9 280.2 49.5 277.2 51.8 271.9 50.2Z"/>
<path fill="#046de0" d="M278.9 49.2 282.8 50.2 279.9 52.5 275.9 51.4Z"/>
<path fill="#0871de" d="M281.5 49.9 285.5 50.7 282.5 53.1 278.5 52.2Z"/>
<path fill="#0d75dc" d="M284.1 50.5 288.1 51.2 285.1 53.6 281.2 52.8Z"/>
<path fill="#1079da" d="M286.8 51 289.4 51.4 286.5 53.9 283.8 53.4Z"/>
<path fill="#127dd8" d="M288.1 51.2 290.8 51.6 287.8 54.1 285.1 53.6Z"/>
<path fill="#1481d6" d="M289.4 51.4 293.4 51.9 290.4 54.5 286.5 53.9Z"/>
<path fill="#1485d4" d="M292.1 51.8 294.7 52.1 291.8 54.7 289.1 54.3Z"/>
<path fill="#1389d3" d="M293.4 51.9 296.1 52.3 297.4 52.5 294.4 55.2 290.4 54.5Z"/>
<path fill="#108ed2" d="M296.1 52.3 297.4 52.5 298.7 52.9 295.7 55.6 293.1 54.9Z"/>
<path fill="#0c93d2" d="M297.4 52.5 298.7 52.9 300 53.4 301.4 54.1 302.7 55.1 304 56.4 301 59.1 299.7 57.8 298.4 56.9 297.1 56.2 295.7 55.6 294.4 55.2Z"/>
<path fill="#108ed2" d="M302.7 55.1 304 56.4 305.3 58.1 302.4 60.7 301 59.1 299.7 57.8Z"/>
<path fill="#1389d3" d="M304 56.4 305.3 58.1 306.6 60 303.7 62.6 302.4 60.7 301 59.1Z"/>
<path fill="#1481d6" d="M305.3 58.1 308 62.2 305 64.6 302.4 60.7Z"/>
<path fill="#1079da" d="M306.6 60 309.3 64.1 306.3 66.5 303.7 62.6Z"/>
<path fill="#0871de" d="M308 62.2 309.3 64.1 310.6 65.8 307.6 68.1 306.3 66.5 305 64.6Z"/>
<path fill="#0268e1" d="M309.3 64.1 310.6 65.8 311.9 67.2 309 69.5 307.6 68.1 306.3 66.5Z"/>
<path fill="#0363e1" d="M310.6 65.8 311.9 67.2 313.3 68.5 310.3 70.7 309 69.5 307.6 68.1Z"/>
<path fill="#0f5cdd" d="M311.9 67.2 314.6 69.6 311.6 71.9 309 69.5Z"/>
<path fill="#2053d4" d="M313.3 68.5 315.9 70.7 312.9 72.9 310.3 70.7Z"/>
<path fill="#2c4ac7" d="M314.6 69.6 318.6 72.7 315.6 74.8 311.6 71.9Z"/>
<path fill="#3243ba" d="M317.2 71.7 321.2 74.6 318.2 76.7 314.3 73.9Z"/>
<path fill="#353dad" d="M319.9 73.7 322.5 75.4 325.2 77.1 322.2 79.1 319.6 77.5 316.9 75.8Z"/>
<path fill="#3637a0" d="M323.9 76.3 327.8 78.6 331.8 80.6 335.8 82.3 339.7 83.9 336.8 85.9 332.8 84.4 328.8 82.6 324.9 80.6 320.9 78.3Z"/>
<path fill="#353dad" d="M338.4 83.4 343.7 85.5 346.4 86.7 343.4 88.6 340.7 87.5 335.4 85.4Z"/>
<path fill="#3243ba" d="M345 86.1 349 87.9 346 89.9 342.1 88.1Z"/>
<path fill="#0f5cdd" d="M262.8 44.9 266.8 46.6 270.8 48.1 267.8 50.3 263.8 48.8 259.8 47.1Z"/>
<path fill="#0363e1" d="M269.4 47.6 273.4 49 276 49.9 273.1 52.1 270.4 51.3 266.5 49.8Z"/>
<path fill="#0268e1" d="M274.7 49.5 278.7 50.7 275.7 52.9 271.8 51.7Z"/>
<path fill="#046de0" d="M277.4 50.3 281.3 51.3 278.4 53.6 274.4 52.5Z"/>
<path fill="#0871de" d="M280 51 284 51.9 281 54.3 277 53.3Z"/>
<path fill="#0d75dc" d="M282.7 51.6 286.6 52.4 283.7 54.8 279.7 54Z"/>
<path fill="#1079da" d="M285.3 52.2 289.3 52.8 286.3 55.3 282.3 54.6Z"/>
<path fill="#127dd8" d="M288 52.6 290.6 53 287.6 55.6 285 55.1Z"/>
<path fill="#1481d6" d="M289.3 52.8 291.9 53.2 289 55.8 286.3 55.3Z"/>
<path fill="#1485d4" d="M290.6 53 294.6 53.6 291.6 56.3 287.6 55.6Z"/>
<path fill="#1389d3" d="M293.3 53.4 295.9 53.9 292.9 56.6 290.3 56Z"/>
<path fill="#108ed2" d="M294.6 53.6 297.2 54.3 298.5 54.8 299.9 55.5 301.2 56.5 302.5 57.8 299.5 60.4 298.2 59.2 296.9 58.2 295.6 57.5 294.3 57 291.6 56.3Z"/>
<path fill="#1389d3" d="M301.2 56.5 302.5 57.8 303.8 59.4 300.9 62 299.5 60.4 298.2 59.2Z"/>
<path fill="#1485d4" d="M302.5 57.8 303.8 59.4 305.2 61.3 302.2 63.8 300.9 62 299.5 60.4Z"/>
<path fill="#1481d6" d="M303.8 59.4 306.5 63.4 303.5 65.8 300.9 62Z"/>
<path fill="#1079da" d="M305.2 61.3 307.8 65.3 304.8 67.7 302.2 63.8Z"/>
<path fill="#046de0" d="M306.5 63.4 307.8 65.3 309.1 67 306.2 69.3 304.8 67.7 303.5 65.8Z"/>
<path fill="#0268e1" d="M307.8 65.3 309.1 67 310.5 68.4 307.5 70.6 306.2 69.3 304.8 67.7Z"/>
<path fill="#0f5cdd" d="M309.1 67 310.5 68.4 311.8 69.6 308.8 71.8 307.5 70.6 306.2 69.3Z"/>
<path fill="#2053d4" d="M310.5 68.4 311.8 69.6 314.4 71.8 311.5 74 308.8 71.8 307.5 70.6Z"/>
<path fill="#2c4ac7" d="M313.1 70.7 315.8 72.8 312.8 75 310.1 73Z"/>
<path fill="#3243ba" d="M314.4 71.8 318.4 74.7 315.4 76.8 311.5 74Z"/>
<path fill="#353dad" d="M317.1 73.8 319.7 75.6 322.4 77.3 319.4 79.4 316.7 77.7 314.1 75.9Z"/>
<path fill="#3637a0" d="M321 76.5 325 78.9 329 81 333 82.8 338.2 84.9 335.3 86.9 330 84.8 326 83 322 80.9 318.1 78.5Z"/>
<path fill="#353dad" d="M336.9 84.4 342.2 86.5 344.9 87.7 341.9 89.6 339.2 88.5 334 86.4Z"/>
<path fill="#3243ba" d="M343.5 87.1 347.5 88.9 344.5 90.9 340.6 89Z"/>
<path fill="#0f5cdd" d="M261.3 46 266.6 48.2 270.6 49.7 267.6 51.9 263.7 50.4 258.4 48.2Z"/>
<path fill="#0363e1" d="M269.3 49.2 274.6 51 271.6 53.3 266.3 51.4Z"/>
<path fill="#0268e1" d="M273.2 50.6 278.5 52.2 275.6 54.4 270.3 52.8Z"/>
<path fill="#046de0" d="M277.2 51.8 281.2 52.8 278.2 55.1 274.2 54.1Z"/>
<path fill="#0871de" d="M279.9 52.5 283.8 53.4 280.9 55.8 276.9 54.8Z"/>
<path fill="#0d75dc" d="M282.5 53.1 285.1 53.6 282.2 56 279.5 55.5Z"/>
<path fill="#1079da" d="M283.8 53.4 287.8 54.1 284.8 56.6 280.9 55.8Z"/>
<path fill="#127dd8" d="M286.5 53.9 289.1 54.3 286.1 56.8 283.5 56.3Z"/>
<path fill="#1481d6" d="M287.8 54.1 291.8 54.7 288.8 57.3 284.8 56.6Z"/>
<path fill="#1485d4" d="M290.4 54.5 293.1 54.9 290.1 57.6 287.5 57.1Z"/>
<path fill="#1389d3" d="M291.8 54.7 294.4 55.2 295.7 55.6 292.8 58.3 291.4 57.9 288.8 57.3Z"/>
<path fill="#108ed2" d="M294.4 55.2 295.7 55.6 297.1 56.2 298.4 56.9 299.7 57.8 301 59.1 298.1 61.7 296.7 60.5 295.4 59.6 294.1 58.9 292.8 58.3 291.4 57.9Z"/>
<path fill="#1389d3" d="M299.7 57.8 301 59.1 302.4 60.7 299.4 63.3 298.1 61.7 296.7 60.5Z"/>
<path fill="#1485d4" d="M301 59.1 302.4 60.7 303.7 62.6 300.7 65.1 299.4 63.3 298.1 61.7Z"/>
<path fill="#127dd8" d="M302.4 60.7 305 64.6 302 67.1 299.4 63.3Z"/>
<path fill="#0d75dc" d="M303.7 62.6 306.3 66.5 303.4 68.9 300.7 65.1Z"/>
<path fill="#046de0" d="M305 64.6 306.3 66.5 307.6 68.1 304.7 70.4 303.4 68.9 302 67.1Z"/>
<path fill="#0268e1" d="M306.3 66.5 307.6 68.1 309 69.5 306 71.8 304.7 70.4 303.4 68.9Z"/>
<path fill="#0f5cdd" d="M307.6 68.1 309 69.5 310.3 70.7 307.3 73 306 71.8 304.7 70.4Z"/>
<path fill="#2053d4" d="M309 69.5 310.3 70.7 312.9 72.9 310 75.1 307.3 73 306 71.8Z"/>
<path fill="#2c4ac7" d="M311.6 71.9 314.3 73.9 311.3 76 308.6 74.1Z"/>
<path fill="#3243ba" d="M312.9 72.9 316.9 75.8 313.9 77.9 310 75.1Z"/>
<path fill="#353dad" d="M315.6 74.8 318.2 76.7 320.9 78.3 317.9 80.4 312.6 77Z"/>
<path fill="#3637a0" d="M319.6 77.5 323.5 79.9 327.5 82 331.5 83.8 335.4 85.4 332.5 87.4 328.5 85.8 324.5 84 320.6 81.9 316.6 79.6Z"/>
<path fill="#353dad" d="M334.1 84.9 342.1 88.1 339.1 90 331.1 86.9Z"/>
<path fill="#3243ba" d="M340.7 87.5 343.4 88.6 346 89.9 343.1 91.9 340.4 90.6 337.8 89.5Z"/>
<path fill="#2053d4" d="M259.8 47.1 262.5 48.2 259.5 50.4 256.9 49.3Z"/>
<path fill="#0f5cdd" d="M261.2 47.7 265.1 49.3 269.1 50.8 266.1 53 262.2 51.5 258.2 49.9Z"/>
<path fill="#0363e1" d="M267.8 50.3 273.1 52.1 270.1 54.4 264.8 52.5Z"/>
<path fill="#0268e1" d="M271.8 51.7 277 53.3 274.1 55.6 268.8 54Z"/>
<path fill="#046de0" d="M275.7 52.9 279.7 54 276.7 56.3 272.8 55.2Z"/>
<path fill="#0871de" d="M278.4 53.6 282.3 54.6 279.4 57 275.4 56Z"/>
<path fill="#0d75dc" d="M281 54.3 285 55.1 282 57.5 278 56.6Z"/>
<path fill="#1079da" d="M283.7 54.8 286.3 55.3 283.3 57.8 280.7 57.3Z"/>
<path fill="#127dd8" d="M285 55.1 289 55.8 286 58.3 282 57.5Z"/>
<path fill="#1481d6" d="M287.6 55.6 291.6 56.3 288.6 58.9 284.7 58.1Z"/>
<path fill="#1485d4" d="M290.3 56 292.9 56.6 290 59.2 287.3 58.6Z"/>
<path fill="#1389d3" d="M291.6 56.3 294.3 57 295.6 57.5 296.9 58.2 298.2 59.2 299.5 60.4 296.6 63.1 295.3 61.9 293.9 60.9 292.6 60.2 291.3 59.7 288.6 58.9Z"/>
<path fill="#1485d4" d="M298.2 59.2 299.5 60.4 300.9 62 297.9 64.6 296.6 63.1 295.3 61.9Z"/>
<path fill="#1481d6" d="M299.5 60.4 300.9 62 302.2 63.8 299.2 66.4 297.9 64.6 296.6 63.1Z"/>
<path fill="#127dd8" d="M300.9 62 303.5 65.8 300.5 68.3 297.9 64.6Z"/>
<path fill="#0d75dc" d="M302.2 63.8 304.8 67.7 301.9 70.1 299.2 66.4Z"/>
<path fill="#046de0" d="M303.5 65.8 304.8 67.7 306.2 69.3 303.2 71.6 301.9 70.1 300.5 68.3Z"/>
<path fill="#0363e1" d="M304.8 67.7 306.2 69.3 307.5 70.6 304.5 72.9 303.2 71.6 301.9 70.1Z"/>
<path fill="#0f5cdd" d="M306.2 69.3 307.5 70.6 308.8 71.8 305.8 74.1 304.5 72.9 303.2 71.6Z"/>
<path fill="#2053d4" d="M307.5 70.6 310.1 73 307.2 75.2 304.5 72.9Z"/>
<path fill="#2c4ac7" d="M308.8 71.8 312.8 75 309.8 77.1 305.8 74.1Z"/>
<path fill="#3243ba" d="M311.5 74 315.4 76.8 312.5 78.9 308.5 76.2Z"/>
<path fill="#353dad" d="M314.1 75.9 316.7 77.7 319.4 79.4 316.4 81.4 311.1 78Z"/>
<path fill="#3637a0" d="M318.1 78.5 322 80.9 326 83 330 84.8 334 86.4 331 88.4 327 86.8 323 85 319.1 83 315.1 80.6Z"/>
<path fill="#353dad" d="M332.6 85.9 340.6 89 337.6 91 329.7 87.9Z"/>
<path fill="#3243ba" d="M339.2 88.5 341.9 89.6 344.5 90.9 341.6 92.9 338.9 91.6 336.3 90.5Z"/>
<path fill="#2053d4" d="M258.4 48.2 262.3 49.9 259.4 52.1 255.4 50.4Z"/>
<path fill="#0f5cdd" d="M261 49.3 265 50.9 268.9 52.4 266 54.6 262 53.1 258 51.5Z"/>
<path fill="#0363e1" d="M267.6 51.9 272.9 53.7 269.9 55.9 264.6 54.1Z"/>
<path fill="#0268e1" d="M271.6 53.3 275.6 54.4 272.6 56.7 268.6 55.5Z"/>
<path fill="#046de0" d="M274.2 54.1 279.5 55.5 276.6 57.8 271.3 56.4Z"/>
<path fill="#0871de" d="M278.2 55.1 282.2 56 279.2 58.5 275.2 57.5Z"/>
<path fill="#0d75dc" d="M280.9 55.8 283.5 56.3 280.5 58.8 277.9 58.1Z"/>
<path fill="#1079da" d="M282.2 56 286.1 56.8 283.2 59.3 279.2 58.5Z"/>
<path fill="#127dd8" d="M284.8 56.6 288.8 57.3 285.8 59.9 281.9 59Z"/>
<path fill="#1481d6" d="M287.5 57.1 290.1 57.6 287.1 60.2 284.5 59.6Z"/>
<path fill="#1485d4" d="M288.8 57.3 291.4 57.9 292.8 58.3 289.8 61 288.5 60.6 285.8 59.9Z"/>
<path fill="#1389d3" d="M291.4 57.9 292.8 58.3 294.1 58.9 295.4 59.6 296.7 60.5 298.1 61.7 295.1 64.4 293.8 63.2 292.4 62.3 291.1 61.6 289.8 61 288.5 60.6Z"/>
<path fill="#1485d4" d="M296.7 60.5 298.1 61.7 299.4 63.3 296.4 65.8 295.1 64.4 293.8 63.2Z"/>
<path fill="#1481d6" d="M298.1 61.7 299.4 63.3 300.7 65.1 297.7 67.6 296.4 65.8 295.1 64.4Z"/>
<path fill="#1079da" d="M299.4 63.3 302 67.1 299.1 69.5 296.4 65.8Z"/>
<path fill="#0d75dc" d="M300.7 65.1 303.4 68.9 300.4 71.2 297.7 67.6Z"/>
<path fill="#046de0" d="M302 67.1 303.4 68.9 304.7 70.4 301.7 72.7 300.4 71.2 299.1 69.5Z"/>
<path fill="#0363e1" d="M303.4 68.9 304.7 70.4 306 71.8 303 74 301.7 72.7 300.4 71.2Z"/>
<path fill="#0f5cdd" d="M304.7 70.4 306 71.8 307.3 73 304.4 75.2 303 74 301.7 72.7Z"/>
<path fill="#2053d4" d="M306 71.8 308.6 74.1 305.7 76.2 303 74Z"/>
<path fill="#2c4ac7" d="M307.3 73 311.3 76 308.3 78.2 304.4 75.2Z"/>
<path fill="#3243ba" d="M310 75.1 313.9 77.9 311 80 307 77.2Z"/>
<path fill="#353dad" d="M312.6 77 317.9 80.4 314.9 82.5 309.6 79.1Z"/>
<path fill="#3637a0" d="M316.6 79.6 320.6 81.9 324.5 84 328.5 85.8 332.5 87.4 329.5 89.4 325.5 87.8 321.6 86 317.6 84 313.6 81.7Z"/>
<path fill="#353dad" d="M331.1 86.9 339.1 90 336.1 92 328.2 88.9Z"/>
<path fill="#3243ba" d="M337.8 89.5 340.4 90.6 343.1 91.9 340.1 93.9 337.4 92.6 334.8 91.5Z"/>
<path fill="#2053d4" d="M256.9 49.3 260.8 51 257.9 53.2 253.9 51.5Z"/>
<path fill="#0f5cdd" d="M259.5 50.4 263.5 52 267.5 53.5 264.5 55.7 260.5 54.2 256.5 52.6Z"/>
<path fill="#0363e1" d="M266.1 53 271.4 54.8 268.5 57.1 263.2 55.3Z"/>
<path fill="#0268e1" d="M270.1 54.4 275.4 56 272.4 58.3 267.1 56.6Z"/>
<path fill="#046de0" d="M274.1 55.6 278 56.6 275.1 59 271.1 57.9Z"/>
<path fill="#0871de" d="M276.7 56.3 280.7 57.3 277.7 59.7 273.8 58.6Z"/>
<path fill="#0d75dc" d="M279.4 57 283.3 57.8 280.4 60.3 276.4 59.3Z"/>
<path fill="#1079da" d="M282 57.5 286 58.3 283 60.9 279 60Z"/>
<path fill="#127dd8" d="M284.7 58.1 287.3 58.6 284.3 61.2 281.7 60.6Z"/>
<path fill="#1481d6" d="M286 58.3 290 59.2 287 61.9 283 60.9Z"/>
<path fill="#1485d4" d="M288.6 58.9 291.3 59.7 292.6 60.2 293.9 60.9 295.3 61.9 296.6 63.1 297.9 64.6 294.9 67.1 293.6 65.7 292.3 64.5 291 63.6 289.6 62.9 288.3 62.3 285.7 61.5Z"/>
<path fill="#1481d6" d="M296.6 63.1 297.9 64.6 299.2 66.4 296.2 68.9 294.9 67.1 293.6 65.7Z"/>
<path fill="#1079da" d="M297.9 64.6 300.5 68.3 297.6 70.7 294.9 67.1Z"/>
<path fill="#0871de" d="M299.2 66.4 301.9 70.1 298.9 72.4 296.2 68.9Z"/>
<path fill="#0268e1" d="M300.5 68.3 301.9 70.1 303.2 71.6 300.2 73.9 298.9 72.4 297.6 70.7Z"/>
<path fill="#0363e1" d="M301.9 70.1 303.2 71.6 304.5 72.9 301.5 75.2 300.2 73.9 298.9 72.4Z"/>
<path fill="#0f5cdd" d="M303.2 71.6 304.5 72.9 305.8 74.1 302.9 76.3 301.5 75.2 300.2 73.9Z"/>
<path fill="#2053d4" d="M304.5 72.9 307.2 75.2 304.2 77.3 301.5 75.2Z"/>
<path fill="#2c4ac7" d="M305.8 74.1 309.8 77.1 306.8 79.3 302.9 76.3Z"/>
<path fill="#3243ba" d="M308.5 76.2 312.5 78.9 309.5 81.1 305.5 78.3Z"/>
<path fill="#353dad" d="M311.1 78 316.4 81.4 313.5 83.5 308.2 80.2Z"/>
<path fill="#3637a0" d="M315.1 80.6 319.1 83 323 85 327 86.8 331 88.4 328 90.4 324 88.8 320.1 87.1 316.1 85 312.1 82.7Z"/>
<path fill="#353dad" d="M329.7 87.9 336.3 90.5 333.3 92.4 326.7 89.9Z"/>
<path fill="#3243ba" d="M335 89.9 338.9 91.6 341.6 92.9 338.6 94.8 336 93.6 332 91.9Z"/>
<path fill="#2053d4" d="M255.4 50.4 260.7 52.6 259.2 53.7 253.9 51.5Z"/>
<path fill="#0f5cdd" d="M259.4 52.1 263.3 53.6 267.3 55.1 265.8 56.2 261.8 54.8 257.9 53.2Z"/>
<path fill="#0363e1" d="M266 54.6 271.3 56.4 269.8 57.5 264.5 55.7Z"/>
<path fill="#0268e1" d="M269.9 55.9 273.9 57.1 272.4 58.3 268.5 57.1Z"/>
<path fill="#046de0" d="M272.6 56.7 277.9 58.1 276.4 59.3 271.1 57.9Z"/>
<path fill="#0871de" d="M276.6 57.8 280.5 58.8 279 60 275.1 59Z"/>
<path fill="#0d75dc" d="M279.2 58.5 281.9 59 280.4 60.3 277.7 59.7Z"/>
<path fill="#1079da" d="M280.5 58.8 284.5 59.6 283 60.9 279 60Z"/>
<path fill="#127dd8" d="M283.2 59.3 287.1 60.2 285.7 61.5 281.7 60.6Z"/>
<path fill="#1481d6" d="M285.8 59.9 288.5 60.6 289.8 61 288.3 62.3 287 61.9 284.3 61.2Z"/>
<path fill="#1485d4" d="M288.5 60.6 289.8 61 291.1 61.6 292.4 62.3 293.8 63.2 295.1 64.4 293.6 65.7 292.3 64.5 291 63.6 289.6 62.9 287 61.9Z"/>
<path fill="#1481d6" d="M293.8 63.2 295.1 64.4 296.4 65.8 294.9 67.1 293.6 65.7 292.3 64.5Z"/>
<path fill="#127dd8" d="M295.1 64.4 296.4 65.8 297.7 67.6 296.2 68.9 294.9 67.1 293.6 65.7Z"/>
<path fill="#1079da" d="M296.4 65.8 299.1 69.5 297.6 70.7 294.9 67.1Z"/>
<path fill="#0871de" d="M297.7 67.6 300.4 71.2 298.9 72.4 296.2 68.9Z"/>
<path fill="#0268e1" d="M299.1 69.5 300.4 71.2 301.7 72.7 300.2 73.9 298.9 72.4 297.6 70.7Z"/>
<path fill="#0363e1" d="M300.4 71.2 301.7 72.7 303 74 301.5 75.2 300.2 73.9 298.9 72.4Z"/>
<path fill="#0f5cdd" d="M301.7 72.7 303 74 304.4 75.2 302.9 76.3 301.5 75.2 300.2 73.9Z"/>
<path fill="#2053d4" d="M303 74 305.7 76.2 304.2 77.3 301.5 75.2Z"/>
<path fill="#2c4ac7" d="M304.4 75.2 307 77.2 305.5 78.3 302.9 76.3Z"/>
<path fill="#3243ba" d="M305.7 76.2 308.3 78.2 311 80 309.5 81.1 306.8 79.3 304.2 77.3Z"/>
<path fill="#353dad" d="M309.6 79.1 314.9 82.5 313.5 83.5 308.2 80.2Z"/>
<path fill="#3637a0" d="M313.6 81.7 317.6 84 321.6 86 325.5 87.8 329.5 89.4 328 90.4 324 88.8 320.1 87.1 316.1 85 312.1 82.7Z"/>
<path fill="#353dad" d="M328.2 88.9 334.8 91.5 333.3 92.4 326.7 89.9Z"/>
<path fill="#3243ba" d="M333.5 90.9 337.4 92.6 340.1 93.9 338.6 94.8 336 93.6 332 91.9Z"/>
<line x1="253.9" y1="55.7" x2="253.9" y2="0.9" stroke="#3a3a3a" stroke-width="0.45"/>
<line x1="253.9" y1="55.7" x2="338.6" y2="97.8" stroke="#3a3a3a" stroke-width="0.45"/>
<line x1="338.6" y1="97.8" x2="409.9" y2="48.7" stroke="#3a3a3a" stroke-width="0.45"/>
<line x1="253.9" y1="55.7" x2="252.1" y2="56.9" stroke="#3a3a3a" stroke-width="0.45"/>
<line x1="275.1" y1="66.2" x2="273.3" y2="67.5" stroke="#3a3a3a" stroke-width="0.45"/>
<line x1="296.2" y1="76.8" x2="294.4" y2="78" stroke="#3a3a3a" stroke-width="0.45"/>
<line x1="317.4" y1="87.3" x2="315.6" y2="88.5" stroke="#3a3a3a" stroke-width="0.45"/>
<line x1="338.6" y1="97.8" x2="336.8" y2="99" stroke="#3a3a3a" stroke-width="0.45"/>
<line x1="338.6" y1="97.8" x2="340.6" y2="98.8" stroke="#3a3a3a" stroke-width="0.45"/>
<line x1="362.4" y1="81.4" x2="364.3" y2="82.4" stroke="#3a3a3a" stroke-width="0.45"/>
<line x1="386.1" y1="65.1" x2="388.1" y2="66" stroke="#3a3a3a" stroke-width="0.45"/>
<line x1="409.9" y1="48.7" x2="411.9" y2="49.7" stroke="#3a3a3a" stroke-width="0.45"/>
<line x1="253.9" y1="55.7" x2="252.1" y2="55.7" stroke="#3a3a3a" stroke-width="0.45"/>
<line x1="253.9" y1="42" x2="252.1" y2="42" stroke="#3a3a3a" stroke-width="0.45"/>
<line x1="253.9" y1="28.3" x2="252.1" y2="28.3" stroke="#3a3a3a" stroke-width="0.45"/>
<line x1="253.9" y1="14.6" x2="252.1" y2="14.6" stroke="#3a3a3a" stroke-width="0.45"/>
<line x1="253.9" y1="0.9" x2="252.1" y2="0.9" stroke="#3a3a3a" stroke-width="0.45"/>
<text x="250" y="57.2" font-size="6.0" text-anchor="end" fill="#1c1c1c" stroke="#1c1c1c" stroke-width="0.13">0</text>
<text x="250" y="43.5" font-size="6.0" text-anchor="end" fill="#1c1c1c" stroke="#1c1c1c" stroke-width="0.13">5</text>
<text x="250" y="29.8" font-size="6.0" text-anchor="end" fill="#1c1c1c" stroke="#1c1c1c" stroke-width="0.13">10</text>
<text x="250" y="16.1" font-size="6.0" text-anchor="end" fill="#1c1c1c" stroke="#1c1c1c" stroke-width="0.13">15</text>
<text x="250" y="2.4" font-size="6.0" text-anchor="end" fill="#1c1c1c" stroke="#1c1c1c" stroke-width="0.13">20</text>
<text x="249.9" y="64.6" font-size="6.0" text-anchor="end" fill="#1c1c1c" stroke="#1c1c1c" stroke-width="0.13">4</text>
<text x="271.1" y="75.1" font-size="6.0" text-anchor="end" fill="#1c1c1c" stroke="#1c1c1c" stroke-width="0.13">2</text>
<text x="292.2" y="85.7" font-size="6.0" text-anchor="end" fill="#1c1c1c" stroke="#1c1c1c" stroke-width="0.13">0</text>
<text x="313.4" y="96.2" font-size="6.0" text-anchor="end" fill="#1c1c1c" stroke="#1c1c1c" stroke-width="0.13">-2</text>
<text x="334.6" y="106.7" font-size="6.0" text-anchor="end" fill="#1c1c1c" stroke="#1c1c1c" stroke-width="0.13">-4</text>
<text x="342.2" y="105.8" font-size="6.0" text-anchor="start" fill="#1c1c1c" stroke="#1c1c1c" stroke-width="0.13">0.2</text>
<text x="366" y="89.4" font-size="6.0" text-anchor="start" fill="#1c1c1c" stroke="#1c1c1c" stroke-width="0.13">0.4</text>
<text x="389.7" y="73.1" font-size="6.0" text-anchor="start" fill="#1c1c1c" stroke="#1c1c1c" stroke-width="0.13">0.6</text>
<text x="413.5" y="56.7" font-size="6.0" text-anchor="start" fill="#1c1c1c" stroke="#1c1c1c" stroke-width="0.13">0.8</text>
<text x="273.6" y="104.5" font-size="6.3" text-anchor="middle" fill="#1c1c1c" stroke="#1c1c1c" stroke-width="0.13">TMI Frequency (kHz)</text>
<text x="400" y="102.3" font-size="6.3" text-anchor="middle" fill="#1c1c1c" stroke="#1c1c1c" stroke-width="0.13">Signal Power (kW)</text>
<text x="0" y="0" font-size="6.3" text-anchor="middle" fill="#1c1c1c" stroke="#1c1c1c" stroke-width="0.13" transform="translate(239.9 29.2) rotate(-90)">Local TMI Gain</text>
<defs><linearGradient id="cb2" x1="0" y1="1" x2="0" y2="0"><stop offset="0.008" stop-color="#352a87"/><stop offset="0.055" stop-color="#353dad"/><stop offset="0.102" stop-color="#2053d4"/><stop offset="0.148" stop-color="#0268e1"/><stop offset="0.195" stop-color="#0d75dc"/><stop offset="0.242" stop-color="#1481d6"/><stop offset="0.289" stop-color="#108ed2"/><stop offset="0.336" stop-color="#079ccf"/><stop offset="0.383" stop-color="#06a7c6"/><stop offset="0.430" stop-color="#0faeb9"/><stop offset="0.477" stop-color="#25b5a9"/><stop offset="0.523" stop-color="#42bb98"/><stop offset="0.570" stop-color="#65be86"/><stop offset="0.617" stop-color="#87bf77"/><stop offset="0.664" stop-color="#a5be6b"/><stop offset="0.711" stop-color="#c0bc60"/><stop offset="0.758" stop-color="#d9ba56"/><stop offset="0.805" stop-color="#f1b94a"/><stop offset="0.852" stop-color="#ffc337"/><stop offset="0.898" stop-color="#fad32a"/><stop offset="0.945" stop-color="#f5e41d"/><stop offset="0.992" stop-color="#f9fb0e"/><stop offset="0.992" stop-color="#f9fb0e"/></linearGradient></defs>
<rect x="425.5" y="-47.70" width="12" height="147.20" fill="url(#cb2)" stroke="#3a3a3a" stroke-width="0.45"/>
<line x1="437.5" y1="80.2" x2="435.9" y2="80.2" stroke="#3a3a3a" stroke-width="0.45"/>
<text x="439.8" y="82" font-size="5.1" text-anchor="start" fill="#1c1c1c" stroke="#1c1c1c" stroke-width="0.13">2</text>
<line x1="437.5" y1="60.9" x2="435.9" y2="60.9" stroke="#3a3a3a" stroke-width="0.45"/>
<text x="439.8" y="62.7" font-size="5.1" text-anchor="start" fill="#1c1c1c" stroke="#1c1c1c" stroke-width="0.13">4</text>
<line x1="437.5" y1="41.6" x2="435.9" y2="41.6" stroke="#3a3a3a" stroke-width="0.45"/>
<text x="439.8" y="43.4" font-size="5.1" text-anchor="start" fill="#1c1c1c" stroke="#1c1c1c" stroke-width="0.13">6</text>
<line x1="437.5" y1="22.3" x2="435.9" y2="22.3" stroke="#3a3a3a" stroke-width="0.45"/>
<text x="439.8" y="24.1" font-size="5.1" text-anchor="start" fill="#1c1c1c" stroke="#1c1c1c" stroke-width="0.13">8</text>
<line x1="437.5" y1="3" x2="435.9" y2="3" stroke="#3a3a3a" stroke-width="0.45"/>
<text x="439.8" y="4.8" font-size="5.1" text-anchor="start" fill="#1c1c1c" stroke="#1c1c1c" stroke-width="0.13">10</text>
<line x1="437.5" y1="-16.3" x2="435.9" y2="-16.3" stroke="#3a3a3a" stroke-width="0.45"/>
<text x="439.8" y="-14.5" font-size="5.1" text-anchor="start" fill="#1c1c1c" stroke="#1c1c1c" stroke-width="0.13">12</text>
<line x1="437.5" y1="-35.6" x2="435.9" y2="-35.6" stroke="#3a3a3a" stroke-width="0.45"/>
<text x="439.8" y="-33.8" font-size="5.1" text-anchor="start" fill="#1c1c1c" stroke="#1c1c1c" stroke-width="0.13">14</text>
<line x1="23.9" y1="233.2" x2="95.2" y2="184.2" stroke="#dedede" stroke-width="0.55"/>
<line x1="95.2" y1="184.2" x2="179.9" y2="226.2" stroke="#dedede" stroke-width="0.55"/>
<line x1="23.9" y1="219.6" x2="95.2" y2="170.5" stroke="#dedede" stroke-width="0.55"/>
<line x1="95.2" y1="170.5" x2="179.9" y2="212.6" stroke="#dedede" stroke-width="0.55"/>
<line x1="23.9" y1="205.9" x2="95.2" y2="156.9" stroke="#dedede" stroke-width="0.55"/>
<line x1="95.2" y1="156.9" x2="179.9" y2="198.9" stroke="#dedede" stroke-width="0.55"/>
<line x1="23.9" y1="192.3" x2="95.2" y2="143.2" stroke="#dedede" stroke-width="0.55"/>
<line x1="95.2" y1="143.2" x2="179.9" y2="185.3" stroke="#dedede" stroke-width="0.55"/>
<line x1="47.7" y1="230.5" x2="47.7" y2="175.9" stroke="#dedede" stroke-width="0.55"/>
<line x1="71.4" y1="214.2" x2="71.4" y2="159.6" stroke="#dedede" stroke-width="0.55"/>
<line x1="95.2" y1="197.8" x2="95.2" y2="143.2" stroke="#dedede" stroke-width="0.55"/>
<line x1="116.4" y1="208.3" x2="116.4" y2="153.7" stroke="#dedede" stroke-width="0.55"/>
<line x1="137.6" y1="218.8" x2="137.6" y2="164.2" stroke="#dedede" stroke-width="0.55"/>
<line x1="158.7" y1="229.4" x2="158.7" y2="174.8" stroke="#dedede" stroke-width="0.55"/>
<line x1="179.9" y1="239.9" x2="179.9" y2="185.3" stroke="#dedede" stroke-width="0.55"/>
<path fill="#363093" d="M95.2 196.5 97.8 197.6 94.9 199.7 92.2 198.6Z"/>
<path fill="#3637a0" d="M96.5 197 101.8 199.2 105.8 200.8 102.8 203 93.6 199.2Z"/>
<path fill="#353dad" d="M104.5 200.3 111.1 202.6 108.1 204.9 101.5 202.4Z"/>
<path fill="#3243ba" d="M109.8 202.2 115.1 203.8 112.1 206.1 106.8 204.4Z"/>
<path fill="#2c4ac7" d="M113.7 203.4 117.7 204.4 114.7 206.8 110.8 205.7Z"/>
<path fill="#2053d4" d="M116.4 204.1 119 204.7 120.3 204.8 117.4 207.3 116.1 207.1 113.4 206.5Z"/>
<path fill="#0f5cdd" d="M119 204.7 121.7 204.9 118.7 207.4 116.1 207.1Z"/>
<path fill="#0363e1" d="M120.3 204.8 121.7 204.9 123 204.9 124.3 204.7 121.3 207.1 120 207.4 118.7 207.4 117.4 207.3Z"/>
<path fill="#046de0" d="M123 204.9 124.3 204.7 125.6 204.1 122.7 206.2 121.3 207.1 120 207.4Z"/>
<path fill="#0871de" d="M124.3 204.7 125.6 204.1 127 202.7 124 204.6 122.7 206.2 121.3 207.1Z"/>
<path fill="#127dd8" d="M125.6 204.1 127 202.7 128.3 200.2 125.3 201.9 124 204.6 122.7 206.2Z"/>
<path fill="#1389d3" d="M127 202.7 128.3 200.2 129.6 195.9 126.6 197.8 125.3 201.9 124 204.6Z"/>
<path fill="#06a4ca" d="M128.3 200.2 129.6 195.9 130.9 189.7 128 192.7 126.6 197.8 125.3 201.9Z"/>
<path fill="#38b99e" d="M129.6 195.9 130.9 189.7 132.3 182.6 129.3 187.5 126.6 197.8Z"/>
<path fill="#a5be6b" d="M130.9 189.7 132.3 182.6 133.6 176.3 130.6 183.5 129.3 187.5 128 192.7Z"/>
<path fill="#f1b94a" d="M132.3 182.6 133.6 176.3 134.9 173 131.9 182 130.6 183.5 129.3 187.5Z"/>
<path fill="#f7d826" d="M133.6 176.3 134.9 173 136.2 174.4 133.3 183.8 131.9 182 130.6 183.5Z"/>
<path fill="#f5e41d" d="M134.9 173 136.2 174.4 137.6 180 134.6 188.7 133.3 183.8 131.9 182Z"/>
<path fill="#fcce2e" d="M136.2 174.4 137.6 180 138.9 188.2 135.9 195.4 134.6 188.7 133.3 183.8Z"/>
<path fill="#d9ba56" d="M137.6 180 140.2 196.8 137.2 202.4 134.6 188.7Z"/>
<path fill="#71bf80" d="M138.9 188.2 140.2 196.8 141.5 204 138.5 208.5 137.2 202.4 135.9 195.4Z"/>
<path fill="#0faeb9" d="M140.2 196.8 141.5 204 142.8 209.4 139.9 213.1 138.5 208.5 137.2 202.4Z"/>
<path fill="#0c93d2" d="M141.5 204 142.8 209.4 144.2 213.1 141.2 216.4 139.9 213.1 138.5 208.5Z"/>
<path fill="#127dd8" d="M142.8 209.4 144.2 213.1 145.5 215.6 142.5 218.8 141.2 216.4 139.9 213.1Z"/>
<path fill="#0871de" d="M144.2 213.1 145.5 215.6 146.8 217.5 143.8 220.5 142.5 218.8 141.2 216.4Z"/>
<path fill="#0268e1" d="M145.5 215.6 146.8 217.5 148.1 219 145.2 222 143.8 220.5 142.5 218.8Z"/>
<path fill="#0f5cdd" d="M146.8 217.5 148.1 219 149.5 220.4 146.5 223.2 145.2 222 143.8 220.5Z"/>
<path fill="#2053d4" d="M148.1 219 150.8 221.6 147.8 224.3 145.2 222Z"/>
<path fill="#2c4ac7" d="M149.5 220.4 152.1 222.7 149.1 225.3 146.5 223.2Z"/>
<path fill="#3243ba" d="M150.8 221.6 152.1 222.7 154.8 224.7 151.8 227.2 147.8 224.3Z"/>
<path fill="#353dad" d="M153.4 223.7 156.1 225.7 158.7 227.4 155.8 229.8 153.1 228.1 150.5 226.3Z"/>
<path fill="#3637a0" d="M157.4 226.6 160 228.3 164 230.6 161 232.9 154.4 229Z"/>
<path fill="#363093" d="M162.7 229.9 169.3 233.6 177.3 237.9 174.3 240.1 166.3 235.9 159.7 232.2Z"/>
<path fill="#352a87" d="M175.9 237.2 179.9 239.3 176.9 241.4 173 239.4Z"/>
<path fill="#363093" d="M93.7 197.5 96.4 198.7 93.4 200.8 90.7 199.7Z"/>
<path fill="#3637a0" d="M95 198.1 104.3 201.9 101.3 204.1 92.1 200.2Z"/>
<path fill="#353dad" d="M103 201.3 109.6 203.7 106.6 206 100 203.5Z"/>
<path fill="#3243ba" d="M108.3 203.3 113.6 205 110.6 207.3 105.3 205.5Z"/>
<path fill="#2c4ac7" d="M112.2 204.6 114.9 205.3 117.5 205.9 114.6 208.3 111.9 207.6 109.3 206.9Z"/>
<path fill="#2053d4" d="M116.2 205.6 118.9 206.1 115.9 208.5 113.2 208Z"/>
<path fill="#0f5cdd" d="M117.5 205.9 120.2 206.2 121.5 206.2 118.5 208.5 117.2 208.6 115.9 208.5 114.6 208.3Z"/>
<path fill="#0363e1" d="M120.2 206.2 121.5 206.2 122.8 205.9 119.9 208.2 118.5 208.5 117.2 208.6Z"/>
<path fill="#0268e1" d="M121.5 206.2 122.8 205.9 124.2 205.2 121.2 207.3 119.9 208.2 118.5 208.5Z"/>
<path fill="#0871de" d="M122.8 205.9 124.2 205.2 125.5 203.7 122.5 205.6 121.2 207.3 119.9 208.2Z"/>
<path fill="#127dd8" d="M124.2 205.2 125.5 203.7 126.8 201 123.8 202.8 122.5 205.6 121.2 207.3Z"/>
<path fill="#108ed2" d="M125.5 203.7 126.8 201 128.1 196.8 125.2 199 123.8 202.8 122.5 205.6Z"/>
<path fill="#06a7c6" d="M126.8 201 128.1 196.8 129.4 191.1 126.5 194.5 125.2 199 123.8 202.8Z"/>
<path fill="#2eb7a4" d="M128.1 196.8 129.4 191.1 130.8 185 127.8 190.2 125.2 199Z"/>
<path fill="#92bf73" d="M129.4 191.1 130.8 185 132.1 179.9 129.1 187 127.8 190.2 126.5 194.5Z"/>
<path fill="#d9ba56" d="M130.8 185 132.1 179.9 133.4 177.6 130.4 186.1 129.1 187 127.8 190.2Z"/>
<path fill="#ffc337" d="M132.1 179.9 133.4 177.6 134.7 179.2 131.8 188 130.4 186.1 129.1 187Z"/>
<path fill="#fec832" d="M133.4 177.6 134.7 179.2 136.1 184.5 133.1 192.7 131.8 188 130.4 186.1Z"/>
<path fill="#f1b94a" d="M134.7 179.2 136.1 184.5 137.4 191.9 134.4 198.8 133.1 192.7 131.8 188Z"/>
<path fill="#aebe67" d="M136.1 184.5 138.7 199.6 135.7 205.1 133.1 192.7Z"/>
<path fill="#4dbc92" d="M137.4 191.9 138.7 199.6 140 206.3 137.1 210.7 135.7 205.1 134.4 198.8Z"/>
<path fill="#07a9c2" d="M138.7 199.6 140 206.3 141.4 211.3 138.4 215 137.1 210.7 135.7 205.1Z"/>
<path fill="#108ed2" d="M140 206.3 141.4 211.3 142.7 214.8 139.7 218.1 138.4 215 137.1 210.7Z"/>
<path fill="#1079da" d="M141.4 211.3 142.7 214.8 144 217.2 141 220.3 139.7 218.1 138.4 215Z"/>
<path fill="#046de0" d="M142.7 214.8 144 217.2 145.3 219 142.4 222 141 220.3 139.7 218.1Z"/>
<path fill="#0363e1" d="M144 217.2 145.3 219 146.7 220.5 143.7 223.4 142.4 222 141 220.3Z"/>
<path fill="#2053d4" d="M145.3 219 146.7 220.5 148 221.8 145 224.5 143.7 223.4 142.4 222Z"/>
<path fill="#2c4ac7" d="M146.7 220.5 148 221.8 150.6 224 147.7 226.6 145 224.5 143.7 223.4Z"/>
<path fill="#3243ba" d="M149.3 222.9 151.9 225 149 227.5 146.3 225.6Z"/>
<path fill="#353dad" d="M150.6 224 153.3 226 155.9 227.8 152.9 230.2 150.3 228.5 147.7 226.6Z"/>
<path fill="#3637a0" d="M154.6 226.9 157.2 228.6 161.2 231 158.2 233.3 151.6 229.3Z"/>
<path fill="#363093" d="M159.9 230.2 165.2 233.3 173.1 237.6 170.2 239.8 162.2 235.5 156.9 232.5Z"/>
<path fill="#352a87" d="M171.8 236.9 178.4 240.4 175.4 242.5 168.8 239.1Z"/>
<path fill="#363093" d="M92.2 198.6 96.2 200.3 93.2 202.4 89.3 200.7Z"/>
<path fill="#3637a0" d="M94.9 199.7 100.2 201.9 104.1 203.5 101.2 205.7 91.9 201.9Z"/>
<path fill="#353dad" d="M102.8 203 109.4 205.3 106.5 207.6 99.8 205.1Z"/>
<path fill="#3243ba" d="M108.1 204.9 110.8 205.7 113.4 206.5 110.4 208.8 105.1 207.1Z"/>
<path fill="#2c4ac7" d="M112.1 206.1 116.1 207.1 113.1 209.5 109.1 208.4Z"/>
<path fill="#2053d4" d="M114.7 206.8 117.4 207.3 118.7 207.4 115.7 209.8 114.4 209.7 111.8 209.2Z"/>
<path fill="#0f5cdd" d="M117.4 207.3 118.7 207.4 120 207.4 117.1 209.7 115.7 209.8 114.4 209.7Z"/>
<path fill="#0363e1" d="M118.7 207.4 120 207.4 121.3 207.1 118.4 209.3 117.1 209.7 115.7 209.8Z"/>
<path fill="#0268e1" d="M120 207.4 121.3 207.1 122.7 206.2 119.7 208.3 118.4 209.3 117.1 209.7Z"/>
<path fill="#0871de" d="M121.3 207.1 122.7 206.2 124 204.6 121 206.5 119.7 208.3 118.4 209.3Z"/>
<path fill="#127dd8" d="M122.7 206.2 124 204.6 125.3 201.9 122.3 203.9 121 206.5 119.7 208.3Z"/>
<path fill="#108ed2" d="M124 204.6 125.3 201.9 126.6 197.8 123.7 200.4 122.3 203.9 121 206.5Z"/>
<path fill="#06a7c6" d="M125.3 201.9 126.6 197.8 128 192.7 125 196.5 123.7 200.4 122.3 203.9Z"/>
<path fill="#2eb7a4" d="M126.6 197.8 129.3 187.5 126.3 192.8 123.7 200.4Z"/>
<path fill="#87bf77" d="M128 192.7 129.3 187.5 130.6 183.5 127.6 190.4 126.3 192.8 125 196.5Z"/>
<path fill="#c0bc60" d="M129.3 187.5 130.6 183.5 131.9 182 129 189.9 127.6 190.4 126.3 192.8Z"/>
<path fill="#e9b94e" d="M130.6 183.5 131.9 182 133.3 183.8 134.6 188.7 131.6 196.3 130.3 192 129 189.9 127.6 190.4Z"/>
<path fill="#d1bb59" d="M133.3 183.8 134.6 188.7 135.9 195.4 132.9 201.9 131.6 196.3 130.3 192Z"/>
<path fill="#87bf77" d="M134.6 188.7 137.2 202.4 134.3 207.7 131.6 196.3Z"/>
<path fill="#2eb7a4" d="M135.9 195.4 137.2 202.4 138.5 208.5 135.6 212.8 134.3 207.7 132.9 201.9Z"/>
<path fill="#06a4ca" d="M137.2 202.4 138.5 208.5 139.9 213.1 136.9 216.8 135.6 212.8 134.3 207.7Z"/>
<path fill="#1389d3" d="M138.5 208.5 139.9 213.1 141.2 216.4 138.2 219.7 136.9 216.8 135.6 212.8Z"/>
<path fill="#0d75dc" d="M139.9 213.1 141.2 216.4 142.5 218.8 139.5 221.8 138.2 219.7 136.9 216.8Z"/>
<path fill="#0268e1" d="M141.2 216.4 142.5 218.8 143.8 220.5 140.9 223.4 139.5 221.8 138.2 219.7Z"/>
<path fill="#0f5cdd" d="M142.5 218.8 143.8 220.5 145.2 222 142.2 224.7 140.9 223.4 139.5 221.8Z"/>
<path fill="#2053d4" d="M143.8 220.5 145.2 222 146.5 223.2 143.5 225.9 142.2 224.7 140.9 223.4Z"/>
<path fill="#2c4ac7" d="M145.2 222 147.8 224.3 144.8 226.9 142.2 224.7Z"/>
<path fill="#3243ba" d="M146.5 223.2 147.8 224.3 150.5 226.3 147.5 228.8 143.5 225.9Z"/>
<path fill="#353dad" d="M149.1 225.3 153.1 228.1 150.1 230.5 146.2 227.9Z"/>
<path fill="#3637a0" d="M151.8 227.2 154.4 229 158.4 231.4 155.4 233.7 151.5 231.3 148.8 229.7Z"/>
<path fill="#363093" d="M157.1 230.6 162.4 233.7 170.3 238 167.3 240.1 159.4 235.9 154.1 232.9Z"/>
<path fill="#352a87" d="M169 237.3 176.9 241.4 174 243.6 166 239.4Z"/>
<path fill="#363093" d="M90.7 199.7 94.7 201.4 91.7 203.5 87.8 201.8Z"/>
<path fill="#3637a0" d="M93.4 200.8 98.7 203 102.7 204.6 99.7 206.8 90.4 202.9Z"/>
<path fill="#353dad" d="M101.3 204.1 107.9 206.4 105 208.7 98.4 206.2Z"/>
<path fill="#3243ba" d="M106.6 206 111.9 207.6 108.9 210 103.7 208.2Z"/>
<path fill="#2c4ac7" d="M110.6 207.3 113.2 208 115.9 208.5 112.9 210.9 110.3 210.3 107.6 209.6Z"/>
<path fill="#2053d4" d="M114.6 208.3 115.9 208.5 117.2 208.6 114.2 211 112.9 210.9 111.6 210.6Z"/>
<path fill="#0f5cdd" d="M115.9 208.5 117.2 208.6 118.5 208.5 115.6 210.8 114.2 211 112.9 210.9Z"/>
<path fill="#0363e1" d="M117.2 208.6 118.5 208.5 119.9 208.2 116.9 210.3 115.6 210.8 114.2 211Z"/>
<path fill="#0268e1" d="M118.5 208.5 119.9 208.2 121.2 207.3 118.2 209.3 116.9 210.3 115.6 210.8Z"/>
<path fill="#0871de" d="M119.9 208.2 121.2 207.3 122.5 205.6 119.5 207.6 118.2 209.3 116.9 210.3Z"/>
<path fill="#127dd8" d="M121.2 207.3 122.5 205.6 123.8 202.8 120.9 205.1 119.5 207.6 118.2 209.3Z"/>
<path fill="#108ed2" d="M122.5 205.6 123.8 202.8 125.2 199 122.2 201.9 120.9 205.1 119.5 207.6Z"/>
<path fill="#06a4ca" d="M123.8 202.8 125.2 199 126.5 194.5 123.5 198.5 120.9 205.1Z"/>
<path fill="#25b5a9" d="M125.2 199 127.8 190.2 124.8 195.5 123.5 198.5 122.2 201.9Z"/>
<path fill="#71bf80" d="M126.5 194.5 127.8 190.2 129.1 187 126.2 193.7 124.8 195.5 123.5 198.5Z"/>
<path fill="#aebe67" d="M127.8 190.2 129.1 187 130.4 186.1 127.5 193.6 126.2 193.7 124.8 195.5Z"/>
<path fill="#c8bc5d" d="M129.1 187 130.4 186.1 131.8 188 133.1 192.7 130.1 199.8 128.8 195.7 127.5 193.6 126.2 193.7Z"/>
<path fill="#a5be6b" d="M131.8 188 133.1 192.7 134.4 198.8 131.4 204.9 130.1 199.8 128.8 195.7Z"/>
<path fill="#65be86" d="M133.1 192.7 135.7 205.1 132.8 210.2 130.1 199.8Z"/>
<path fill="#15b1b4" d="M134.4 198.8 135.7 205.1 137.1 210.7 134.1 214.9 132.8 210.2 131.4 204.9Z"/>
<path fill="#079ccf" d="M135.7 205.1 137.1 210.7 138.4 215 135.4 218.5 134.1 214.9 132.8 210.2Z"/>
<path fill="#1481d6" d="M137.1 210.7 138.4 215 139.7 218.1 136.7 221.3 135.4 218.5 134.1 214.9Z"/>
<path fill="#0871de" d="M138.4 215 139.7 218.1 141 220.3 138.1 223.3 136.7 221.3 135.4 218.5Z"/>
<path fill="#0363e1" d="M139.7 218.1 141 220.3 142.4 222 139.4 224.8 138.1 223.3 136.7 221.3Z"/>
<path fill="#2053d4" d="M141 220.3 142.4 222 143.7 223.4 140.7 226.1 139.4 224.8 138.1 223.3Z"/>
<path fill="#2c4ac7" d="M142.4 222 143.7 223.4 145 224.5 142 227.2 140.7 226.1 139.4 224.8Z"/>
<path fill="#3243ba" d="M143.7 223.4 145 224.5 147.7 226.6 144.7 229.1 142 227.2 140.7 226.1Z"/>
<path fill="#353dad" d="M146.3 225.6 150.3 228.5 147.3 230.9 143.4 228.2Z"/>
<path fill="#3637a0" d="M149 227.5 151.6 229.3 155.6 231.8 152.6 234 148.7 231.7 146 230Z"/>
<path fill="#363093" d="M154.3 231 159.6 234 166.2 237.7 163.2 239.8 156.6 236.3 151.3 233.3Z"/>
<path fill="#352a87" d="M164.9 237 175.4 242.5 172.5 244.6 161.9 239.1Z"/>
<path fill="#363093" d="M89.3 200.7 94.6 203 91.6 205.1 86.3 202.9Z"/>
<path fill="#3637a0" d="M93.2 202.4 98.5 204.6 102.5 206.2 99.5 208.4 90.3 204.6Z"/>
<path fill="#353dad" d="M101.2 205.7 107.8 208 104.8 210.3 98.2 207.9Z"/>
<path fill="#3243ba" d="M106.5 207.6 109.1 208.4 111.8 209.2 108.8 211.5 106.1 210.7 103.5 209.8Z"/>
<path fill="#2c4ac7" d="M110.4 208.8 113.1 209.5 114.4 209.7 111.4 212 110.1 211.8 107.5 211.1Z"/>
<path fill="#2053d4" d="M113.1 209.5 114.4 209.7 115.7 209.8 112.8 212.1 111.4 212 110.1 211.8Z"/>
<path fill="#0f5cdd" d="M114.4 209.7 115.7 209.8 117.1 209.7 118.4 209.3 115.4 211.4 114.1 211.9 112.8 212.1 111.4 212Z"/>
<path fill="#0268e1" d="M117.1 209.7 118.4 209.3 119.7 208.3 116.7 210.3 115.4 211.4 114.1 211.9Z"/>
<path fill="#0871de" d="M118.4 209.3 119.7 208.3 121 206.5 118 208.6 116.7 210.3 115.4 211.4Z"/>
<path fill="#127dd8" d="M119.7 208.3 121 206.5 122.3 203.9 119.4 206.3 118 208.6 116.7 210.3Z"/>
<path fill="#108ed2" d="M121 206.5 122.3 203.9 123.7 200.4 120.7 203.5 119.4 206.3 118 208.6Z"/>
<path fill="#06a4ca" d="M122.3 203.9 123.7 200.4 125 196.5 122 200.6 119.4 206.3Z"/>
<path fill="#1db3af" d="M123.7 200.4 126.3 192.8 123.3 198.2 122 200.6 120.7 203.5Z"/>
<path fill="#59bd8c" d="M125 196.5 126.3 192.8 127.6 190.4 124.7 196.9 123.3 198.2 122 200.6Z"/>
<path fill="#92bf73" d="M126.3 192.8 127.6 190.4 129 189.9 126 197.1 124.7 196.9 123.3 198.2Z"/>
<path fill="#a5be6b" d="M127.6 190.4 129 189.9 130.3 192 131.6 196.3 128.6 203 127.3 199.2 126 197.1 124.7 196.9Z"/>
<path fill="#7cbf7b" d="M130.3 192 131.6 196.3 132.9 201.9 130 207.8 128.6 203 127.3 199.2Z"/>
<path fill="#42bb98" d="M131.6 196.3 134.3 207.7 131.3 212.6 128.6 203Z"/>
<path fill="#0aacbe" d="M132.9 201.9 134.3 207.7 135.6 212.8 132.6 216.9 131.3 212.6 130 207.8Z"/>
<path fill="#0c93d2" d="M134.3 207.7 135.6 212.8 136.9 216.8 133.9 220.3 132.6 216.9 131.3 212.6Z"/>
<path fill="#127dd8" d="M135.6 212.8 136.9 216.8 138.2 219.7 135.3 222.8 133.9 220.3 132.6 216.9Z"/>
<path fill="#046de0" d="M136.9 216.8 138.2 219.7 139.5 221.8 136.6 224.7 135.3 222.8 133.9 220.3Z"/>
<path fill="#0f5cdd" d="M138.2 219.7 139.5 221.8 140.9 223.4 137.9 226.2 136.6 224.7 135.3 222.8Z"/>
<path fill="#2053d4" d="M139.5 221.8 140.9 223.4 142.2 224.7 139.2 227.4 137.9 226.2 136.6 224.7Z"/>
<path fill="#2c4ac7" d="M140.9 223.4 142.2 224.7 143.5 225.9 140.5 228.5 139.2 227.4 137.9 226.2Z"/>
<path fill="#3243ba" d="M142.2 224.7 144.8 226.9 141.9 229.4 139.2 227.4Z"/>
<path fill="#353dad" d="M143.5 225.9 147.5 228.8 144.5 231.2 140.5 228.5Z"/>
<path fill="#3637a0" d="M146.2 227.9 148.8 229.7 152.8 232.1 149.8 234.4 145.8 232 143.2 230.3Z"/>
<path fill="#363093" d="M151.5 231.3 156.8 234.4 163.4 238 160.4 240.2 153.8 236.7 148.5 233.6Z"/>
<path fill="#352a87" d="M162 237.3 174 243.6 171 245.7 159.1 239.5Z"/>
<path fill="#363093" d="M87.8 201.8 93.1 204.1 90.1 206.2 84.8 203.9Z"/>
<path fill="#3637a0" d="M91.7 203.5 97 205.7 101 207.3 98 209.5 88.8 205.7Z"/>
<path fill="#353dad" d="M99.7 206.8 106.3 209.2 103.3 211.4 96.7 209Z"/>
<path fill="#3243ba" d="M105 208.7 107.6 209.6 110.3 210.3 107.3 212.6 104.7 211.9 102 211Z"/>
<path fill="#2c4ac7" d="M108.9 210 111.6 210.6 112.9 210.9 109.9 213.2 108.6 213 106 212.3Z"/>
<path fill="#2053d4" d="M111.6 210.6 112.9 210.9 114.2 211 115.6 210.8 112.6 213 111.3 213.2 109.9 213.2 108.6 213Z"/>
<path fill="#0f5cdd" d="M114.2 211 115.6 210.8 116.9 210.3 113.9 212.4 112.6 213 111.3 213.2Z"/>
<path fill="#0268e1" d="M115.6 210.8 116.9 210.3 118.2 209.3 115.2 211.4 113.9 212.4 112.6 213Z"/>
<path fill="#0871de" d="M116.9 210.3 118.2 209.3 119.5 207.6 116.6 209.8 115.2 211.4 113.9 212.4Z"/>
<path fill="#127dd8" d="M118.2 209.3 119.5 207.6 120.9 205.1 117.9 207.6 116.6 209.8 115.2 211.4Z"/>
<path fill="#108ed2" d="M119.5 207.6 120.9 205.1 122.2 201.9 119.2 205.2 117.9 207.6 116.6 209.8Z"/>
<path fill="#06a0cd" d="M120.9 205.1 123.5 198.5 120.5 202.8 117.9 207.6Z"/>
<path fill="#15b1b4" d="M122.2 201.9 123.5 198.5 124.8 195.5 121.9 200.9 120.5 202.8 119.2 205.2Z"/>
<path fill="#42bb98" d="M123.5 198.5 124.8 195.5 126.2 193.7 123.2 199.9 121.9 200.9 120.5 202.8Z"/>
<path fill="#71bf80" d="M124.8 195.5 126.2 193.7 127.5 193.6 124.5 200.3 123.2 199.9 121.9 200.9Z"/>
<path fill="#87bf77" d="M126.2 193.7 127.5 193.6 128.8 195.7 125.8 202.4 124.5 200.3 123.2 199.9Z"/>
<path fill="#7cbf7b" d="M127.5 193.6 128.8 195.7 130.1 199.8 127.2 206.1 125.8 202.4 124.5 200.3Z"/>
<path fill="#59bd8c" d="M128.8 195.7 130.1 199.8 131.4 204.9 128.5 210.5 127.2 206.1 125.8 202.4Z"/>
<path fill="#1db3af" d="M130.1 199.8 132.8 210.2 129.8 214.9 127.2 206.1Z"/>
<path fill="#06a4ca" d="M131.4 204.9 132.8 210.2 134.1 214.9 131.1 218.8 129.8 214.9 128.5 210.5Z"/>
<path fill="#1389d3" d="M132.8 210.2 134.1 214.9 135.4 218.5 132.4 221.9 131.1 218.8 129.8 214.9Z"/>
<path fill="#1079da" d="M134.1 214.9 135.4 218.5 136.7 221.3 133.8 224.3 132.4 221.9 131.1 218.8Z"/>
<path fill="#0268e1" d="M135.4 218.5 136.7 221.3 138.1 223.3 135.1 226.1 133.8 224.3 132.4 221.9Z"/>
<path fill="#0f5cdd" d="M136.7 221.3 138.1 223.3 139.4 224.8 136.4 227.5 135.1 226.1 133.8 224.3Z"/>
<path fill="#2c4ac7" d="M138.1 223.3 139.4 224.8 140.7 226.1 137.7 228.7 136.4 227.5 135.1 226.1Z"/>
<path fill="#3243ba" d="M139.4 224.8 140.7 226.1 142 227.2 139.1 229.7 137.7 228.7 136.4 227.5Z"/>
<path fill="#353dad" d="M140.7 226.1 143.4 228.2 146 230 143 232.4 140.4 230.7 137.7 228.7Z"/>
<path fill="#3637a0" d="M144.7 229.1 150 232.5 147 234.8 141.7 231.5Z"/>
<path fill="#363093" d="M148.7 231.7 153.9 234.8 160.6 238.4 157.6 240.6 151 237 145.7 234Z"/>
<path fill="#352a87" d="M159.2 237.7 172.5 244.6 169.5 246.8 156.3 239.9Z"/>
<path fill="#363093" d="M86.3 202.9 92.9 205.7 89.9 207.9 83.3 205Z"/>
<path fill="#3637a0" d="M91.6 205.1 96.9 207.3 100.8 208.9 97.9 211.1 88.6 207.3Z"/>
<path fill="#353dad" d="M99.5 208.4 103.5 209.8 106.1 210.7 103.2 213 96.6 210.6Z"/>
<path fill="#3243ba" d="M104.8 210.3 107.5 211.1 110.1 211.8 107.1 214.1 104.5 213.4 101.8 212.6Z"/>
<path fill="#2c4ac7" d="M108.8 211.5 111.4 212 112.8 212.1 109.8 214.3 108.5 214.3 107.1 214.1 105.8 213.8Z"/>
<path fill="#2053d4" d="M111.4 212 112.8 212.1 114.1 211.9 111.1 214.1 109.8 214.3 108.5 214.3Z"/>
<path fill="#0f5cdd" d="M112.8 212.1 114.1 211.9 115.4 211.4 112.4 213.5 111.1 214.1 109.8 214.3Z"/>
<path fill="#0268e1" d="M114.1 211.9 115.4 211.4 116.7 210.3 113.8 212.4 112.4 213.5 111.1 214.1Z"/>
<path fill="#0871de" d="M115.4 211.4 116.7 210.3 118 208.6 115.1 211 113.8 212.4 112.4 213.5Z"/>
<path fill="#127dd8" d="M116.7 210.3 118 208.6 119.4 206.3 116.4 209.1 115.1 211 113.8 212.4Z"/>
<path fill="#1389d3" d="M118 208.6 119.4 206.3 120.7 203.5 117.7 206.9 116.4 209.1 115.1 211Z"/>
<path fill="#06a0cd" d="M119.4 206.3 122 200.6 119 204.9 116.4 209.1Z"/>
<path fill="#0faeb9" d="M120.7 203.5 122 200.6 123.3 198.2 120.4 203.4 119 204.9 117.7 206.9Z"/>
<path fill="#2eb7a4" d="M122 200.6 123.3 198.2 124.7 196.9 121.7 202.8 120.4 203.4 119 204.9Z"/>
<path fill="#4dbc92" d="M123.3 198.2 124.7 196.9 126 197.1 123 203.4 121.7 202.8 120.4 203.4Z"/>
<path fill="#65be86" d="M124.7 196.9 126 197.1 127.3 199.2 124.3 205.5 123 203.4 121.7 202.8Z"/>
<path fill="#59bd8c" d="M126 197.1 127.3 199.2 128.6 203 125.7 209 124.3 205.5 123 203.4Z"/>
<path fill="#38b99e" d="M127.3 199.2 128.6 203 130 207.8 127 213 125.7 209 124.3 205.5Z"/>
<path fill="#0faeb9" d="M128.6 203 131.3 212.6 128.3 217.1 125.7 209Z"/>
<path fill="#079ccf" d="M130 207.8 131.3 212.6 132.6 216.9 129.6 220.7 128.3 217.1 127 213Z"/>
<path fill="#1485d4" d="M131.3 212.6 132.6 216.9 133.9 220.3 131 223.6 129.6 220.7 128.3 217.1Z"/>
<path fill="#0871de" d="M132.6 216.9 133.9 220.3 135.3 222.8 132.3 225.8 131 223.6 129.6 220.7Z"/>
<path fill="#0363e1" d="M133.9 220.3 135.3 222.8 136.6 224.7 133.6 227.5 132.3 225.8 131 223.6Z"/>
<path fill="#2053d4" d="M135.3 222.8 136.6 224.7 137.9 226.2 134.9 228.9 133.6 227.5 132.3 225.8Z"/>
<path fill="#2c4ac7" d="M136.6 224.7 137.9 226.2 139.2 227.4 136.3 230 134.9 228.9 133.6 227.5Z"/>
<path fill="#3243ba" d="M137.9 226.2 139.2 227.4 140.5 228.5 137.6 231 136.3 230 134.9 228.9Z"/>
<path fill="#353dad" d="M139.2 227.4 140.5 228.5 143.2 230.3 140.2 232.7 137.6 231 136.3 230Z"/>
<path fill="#3637a0" d="M141.9 229.4 144.5 231.2 147.2 232.9 144.2 235.2 138.9 231.9Z"/>
<path fill="#363093" d="M145.8 232 151.1 235.2 157.8 238.8 154.8 241 148.2 237.4 142.9 234.4Z"/>
<path fill="#352a87" d="M156.4 238.1 171 245.7 168 247.8 153.5 240.3Z"/>
<path fill="#363093" d="M84.8 203.9 92.7 207.3 89.8 209.5 81.8 206Z"/>
<path fill="#3637a0" d="M91.4 206.8 99.4 210 96.4 212.2 88.4 208.9Z"/>
<path fill="#353dad" d="M98 209.5 104.7 211.9 101.7 214.1 95.1 211.7Z"/>
<path fill="#3243ba" d="M103.3 211.4 106 212.3 108.6 213 105.7 215.2 103 214.6 100.4 213.7Z"/>
<path fill="#2c4ac7" d="M107.3 212.6 109.9 213.2 111.3 213.2 108.3 215.4 107 215.4 105.7 215.2 104.3 214.9Z"/>
<path fill="#2053d4" d="M109.9 213.2 111.3 213.2 112.6 213 109.6 215.1 108.3 215.4 107 215.4Z"/>
<path fill="#0f5cdd" d="M111.3 213.2 112.6 213 113.9 212.4 110.9 214.5 109.6 215.1 108.3 215.4Z"/>
<path fill="#0268e1" d="M112.6 213 113.9 212.4 115.2 211.4 112.3 213.6 110.9 214.5 109.6 215.1Z"/>
<path fill="#0871de" d="M113.9 212.4 115.2 211.4 116.6 209.8 113.6 212.2 112.3 213.6 110.9 214.5Z"/>
<path fill="#127dd8" d="M115.2 211.4 116.6 209.8 117.9 207.6 114.9 210.5 113.6 212.2 112.3 213.6Z"/>
<path fill="#1389d3" d="M116.6 209.8 117.9 207.6 119.2 205.2 116.2 208.7 113.6 212.2Z"/>
<path fill="#079ccf" d="M117.9 207.6 120.5 202.8 117.6 207.1 114.9 210.5Z"/>
<path fill="#07a9c2" d="M119.2 205.2 120.5 202.8 121.9 200.9 118.9 206 117.6 207.1 116.2 208.7Z"/>
<path fill="#1db3af" d="M120.5 202.8 121.9 200.9 123.2 199.9 120.2 205.6 118.9 206 117.6 207.1Z"/>
<path fill="#38b99e" d="M121.9 200.9 123.2 199.9 124.5 200.3 121.5 206.3 120.2 205.6 118.9 206Z"/>
<path fill="#42bb98" d="M123.2 199.9 124.5 200.3 125.8 202.4 122.9 208.4 121.5 206.3 120.2 205.6Z"/>
<path fill="#38b99e" d="M124.5 200.3 125.8 202.4 127.2 206.1 124.2 211.7 122.9 208.4 121.5 206.3Z"/>
<path fill="#1db3af" d="M125.8 202.4 127.2 206.1 128.5 210.5 125.5 215.5 124.2 211.7 122.9 208.4Z"/>
<path fill="#06a7c6" d="M127.2 206.1 129.8 214.9 126.8 219.2 124.2 211.7Z"/>
<path fill="#0c93d2" d="M128.5 210.5 129.8 214.9 131.1 218.8 128.2 222.5 126.8 219.2 125.5 215.5Z"/>
<path fill="#127dd8" d="M129.8 214.9 131.1 218.8 132.4 221.9 129.5 225.2 128.2 222.5 126.8 219.2Z"/>
<path fill="#046de0" d="M131.1 218.8 132.4 221.9 133.8 224.3 130.8 227.3 129.5 225.2 128.2 222.5Z"/>
<path fill="#0f5cdd" d="M132.4 221.9 133.8 224.3 135.1 226.1 132.1 228.9 130.8 227.3 129.5 225.2Z"/>
<path fill="#2053d4" d="M133.8 224.3 135.1 226.1 136.4 227.5 133.4 230.2 132.1 228.9 130.8 227.3Z"/>
<path fill="#3243ba" d="M135.1 226.1 136.4 227.5 137.7 228.7 134.8 231.2 133.4 230.2 132.1 228.9Z"/>
<path fill="#353dad" d="M136.4 227.5 137.7 228.7 140.4 230.7 137.4 233.1 134.8 231.2 133.4 230.2Z"/>
<path fill="#3637a0" d="M139.1 229.7 141.7 231.5 144.4 233.2 141.4 235.5 138.7 233.9 136.1 232.2Z"/>
<path fill="#363093" d="M143 232.4 148.3 235.5 153.6 238.5 150.7 240.7 145.4 237.8 140.1 234.7Z"/>
<path fill="#352a87" d="M152.3 237.8 160.2 242 169.5 246.8 166.5 248.9 157.3 244.1 149.3 239.9Z"/>
<path fill="#363093" d="M83.3 205 91.3 208.4 88.3 210.6 80.3 207.1Z"/>
<path fill="#3637a0" d="M89.9 207.9 95.2 210.1 99.2 211.6 96.2 213.8 87 210Z"/>
<path fill="#353dad" d="M97.9 211.1 101.8 212.6 104.5 213.4 101.5 215.7 98.9 214.8 94.9 213.3Z"/>
<path fill="#3243ba" d="M103.2 213 105.8 213.8 107.1 214.1 104.2 216.3 102.8 216.1 100.2 215.3Z"/>
<path fill="#2c4ac7" d="M105.8 213.8 107.1 214.1 108.5 214.3 109.8 214.3 106.8 216.5 105.5 216.5 104.2 216.3 102.8 216.1Z"/>
<path fill="#2053d4" d="M108.5 214.3 109.8 214.3 111.1 214.1 108.1 216.2 106.8 216.5 105.5 216.5Z"/>
<path fill="#0f5cdd" d="M109.8 214.3 111.1 214.1 112.4 213.5 109.5 215.6 108.1 216.2 106.8 216.5Z"/>
<path fill="#0268e1" d="M111.1 214.1 112.4 213.5 113.8 212.4 110.8 214.7 109.5 215.6 108.1 216.2Z"/>
<path fill="#0871de" d="M112.4 213.5 113.8 212.4 115.1 211 112.1 213.5 110.8 214.7 109.5 215.6Z"/>
<path fill="#1079da" d="M113.8 212.4 115.1 211 116.4 209.1 113.4 212 112.1 213.5 110.8 214.7Z"/>
<path fill="#1389d3" d="M115.1 211 116.4 209.1 117.7 206.9 114.8 210.5 112.1 213.5Z"/>
<path fill="#0998d1" d="M116.4 209.1 119 204.9 116.1 209.2 114.8 210.5 113.4 212Z"/>
<path fill="#06a7c6" d="M117.7 206.9 119 204.9 120.4 203.4 117.4 208.4 116.1 209.2 114.8 210.5Z"/>
<path fill="#0faeb9" d="M119 204.9 120.4 203.4 121.7 202.8 118.7 208.3 117.4 208.4 116.1 209.2Z"/>
<path fill="#1db3af" d="M120.4 203.4 121.7 202.8 123 203.4 120 209.1 118.7 208.3 117.4 208.4Z"/>
<path fill="#25b5a9" d="M121.7 202.8 123 203.4 124.3 205.5 121.4 211.2 120 209.1 118.7 208.3Z"/>
<path fill="#1db3af" d="M123 203.4 124.3 205.5 125.7 209 122.7 214.3 121.4 211.2 120 209.1Z"/>
<path fill="#0aacbe" d="M124.3 205.5 125.7 209 127 213 124 217.8 122.7 214.3 121.4 211.2Z"/>
<path fill="#06a0cd" d="M125.7 209 128.3 217.1 125.3 221.3 122.7 214.3Z"/>
<path fill="#1389d3" d="M127 213 128.3 217.1 129.6 220.7 126.7 224.3 125.3 221.3 124 217.8Z"/>
<path fill="#1079da" d="M128.3 217.1 129.6 220.7 131 223.6 128 226.8 126.7 224.3 125.3 221.3Z"/>
<path fill="#0268e1" d="M129.6 220.7 131 223.6 132.3 225.8 129.3 228.7 128 226.8 126.7 224.3Z"/>
<path fill="#0f5cdd" d="M131 223.6 132.3 225.8 133.6 227.5 130.6 230.2 129.3 228.7 128 226.8Z"/>
<path fill="#2c4ac7" d="M132.3 225.8 133.6 227.5 134.9 228.9 132 231.4 130.6 230.2 129.3 228.7Z"/>
<path fill="#3243ba" d="M133.6 227.5 134.9 228.9 136.3 230 133.3 232.5 132 231.4 130.6 230.2Z"/>
<path fill="#353dad" d="M134.9 228.9 136.3 230 137.6 231 134.6 233.4 132 231.4Z"/>
<path fill="#3637a0" d="M136.3 230 138.9 231.9 141.5 233.6 138.6 235.9 135.9 234.3 133.3 232.5Z"/>
<path fill="#363093" d="M140.2 232.7 145.5 235.9 150.8 238.9 147.8 241 142.5 238.2 137.3 235.1Z"/>
<path fill="#352a87" d="M149.5 238.1 157.4 242.4 168 247.8 165 249.9 154.5 244.5 146.5 240.3Z"/>
<path fill="#363093" d="M81.8 206 91.1 210.1 88.1 212.2 78.9 208.2Z"/>
<path fill="#3637a0" d="M89.8 209.5 95.1 211.7 99 213.2 96.1 215.4 92.1 213.9 86.8 211.7Z"/>
<path fill="#353dad" d="M97.7 212.7 103 214.6 100 216.8 97.4 215.9 94.7 214.9Z"/>
<path fill="#3243ba" d="M101.7 214.1 104.3 214.9 105.7 215.2 107 215.4 104 217.6 102.7 217.4 101.4 217.2 98.7 216.4Z"/>
<path fill="#2c4ac7" d="M105.7 215.2 107 215.4 108.3 215.4 105.3 217.6 104 217.6 102.7 217.4Z"/>
<path fill="#2053d4" d="M107 215.4 108.3 215.4 109.6 215.1 106.7 217.3 105.3 217.6 104 217.6Z"/>
<path fill="#0f5cdd" d="M108.3 215.4 109.6 215.1 110.9 214.5 108 216.8 106.7 217.3 105.3 217.6Z"/>
<path fill="#0363e1" d="M109.6 215.1 110.9 214.5 112.3 213.6 109.3 215.9 108 216.8 106.7 217.3Z"/>
<path fill="#0871de" d="M110.9 214.5 112.3 213.6 113.6 212.2 110.6 214.8 109.3 215.9 108 216.8Z"/>
<path fill="#1079da" d="M112.3 213.6 113.6 212.2 114.9 210.5 111.9 213.6 110.6 214.8 109.3 215.9Z"/>
<path fill="#1485d4" d="M113.6 212.2 116.2 208.7 113.3 212.3 110.6 214.8Z"/>
<path fill="#0c93d2" d="M114.9 210.5 117.6 207.1 114.6 211.3 113.3 212.3 111.9 213.6Z"/>
<path fill="#06a4ca" d="M116.2 208.7 117.6 207.1 118.9 206 115.9 210.8 114.6 211.3 113.3 212.3Z"/>
<path fill="#07a9c2" d="M117.6 207.1 118.9 206 120.2 205.6 117.2 210.8 115.9 210.8 114.6 211.3Z"/>
<path fill="#0faeb9" d="M118.9 206 120.2 205.6 121.5 206.3 118.6 211.7 117.2 210.8 115.9 210.8Z"/>
<path fill="#15b1b4" d="M120.2 205.6 121.5 206.3 122.9 208.4 119.9 213.8 118.6 211.7 117.2 210.8Z"/>
<path fill="#0aacbe" d="M121.5 206.3 122.9 208.4 124.2 211.7 121.2 216.7 119.9 213.8 118.6 211.7Z"/>
<path fill="#06a7c6" d="M122.9 208.4 124.2 211.7 125.5 215.5 122.5 220 121.2 216.7 119.9 213.8Z"/>
<path fill="#0998d1" d="M124.2 211.7 126.8 219.2 123.9 223.2 121.2 216.7Z"/>
<path fill="#1481d6" d="M125.5 215.5 126.8 219.2 128.2 222.5 125.2 226 123.9 223.2 122.5 220Z"/>
<path fill="#0d75dc" d="M126.8 219.2 128.2 222.5 129.5 225.2 126.5 228.3 125.2 226 123.9 223.2Z"/>
<path fill="#0363e1" d="M128.2 222.5 129.5 225.2 130.8 227.3 127.8 230.1 126.5 228.3 125.2 226Z"/>
<path fill="#2053d4" d="M129.5 225.2 130.8 227.3 132.1 228.9 129.2 231.5 127.8 230.1 126.5 228.3Z"/>
<path fill="#3243ba" d="M130.8 227.3 132.1 228.9 133.4 230.2 130.5 232.7 129.2 231.5 127.8 230.1Z"/>
<path fill="#353dad" d="M132.1 228.9 133.4 230.2 136.1 232.2 133.1 234.6 130.5 232.7 129.2 231.5Z"/>
<path fill="#3637a0" d="M134.8 231.2 136.1 232.2 138.7 233.9 135.8 236.2 131.8 233.7Z"/>
<path fill="#363093" d="M137.4 233.1 141.4 235.5 148 239.2 145 241.4 138.4 237.8 134.4 235.4Z"/>
<path fill="#352a87" d="M146.7 238.5 154.6 242.7 166.5 248.9 163.6 251 151.6 244.9 143.7 240.7Z"/>
<path fill="#363093" d="M80.3 207.1 89.6 211.1 86.6 213.3 77.4 209.2Z"/>
<path fill="#3637a0" d="M88.3 210.6 93.6 212.8 97.6 214.3 94.6 216.5 90.6 215 85.3 212.7Z"/>
<path fill="#353dad" d="M96.2 213.8 100.2 215.3 102.8 216.1 99.9 218.3 97.2 217.5 93.3 216Z"/>
<path fill="#3243ba" d="M101.5 215.7 104.2 216.3 105.5 216.5 102.5 218.7 101.2 218.5 98.5 217.9Z"/>
<path fill="#2c4ac7" d="M104.2 216.3 105.5 216.5 106.8 216.5 103.8 218.6 102.5 218.7 101.2 218.5Z"/>
<path fill="#2053d4" d="M105.5 216.5 106.8 216.5 108.1 216.2 105.2 218.4 103.8 218.6 102.5 218.7Z"/>
<path fill="#0f5cdd" d="M106.8 216.5 108.1 216.2 109.5 215.6 106.5 217.9 105.2 218.4 103.8 218.6Z"/>
<path fill="#0363e1" d="M108.1 216.2 109.5 215.6 110.8 214.7 107.8 217.2 106.5 217.9 105.2 218.4Z"/>
<path fill="#046de0" d="M109.5 215.6 110.8 214.7 112.1 213.5 109.1 216.2 107.8 217.2 106.5 217.9Z"/>
<path fill="#1079da" d="M110.8 214.7 112.1 213.5 113.4 212 110.5 215.2 107.8 217.2Z"/>
<path fill="#1485d4" d="M112.1 213.5 114.8 210.5 111.8 214.2 109.1 216.2Z"/>
<path fill="#108ed2" d="M113.4 212 114.8 210.5 116.1 209.2 113.1 213.4 111.8 214.2 110.5 215.2Z"/>
<path fill="#079ccf" d="M114.8 210.5 116.1 209.2 117.4 208.4 114.4 213 113.1 213.4 111.8 214.2Z"/>
<path fill="#06a4ca" d="M116.1 209.2 117.4 208.4 118.7 208.3 115.8 213.2 114.4 213 113.1 213.4Z"/>
<path fill="#07a9c2" d="M117.4 208.4 118.7 208.3 120 209.1 121.4 211.2 118.4 216.2 117.1 214.2 115.8 213.2 114.4 213Z"/>
<path fill="#06a7c6" d="M120 209.1 121.4 211.2 122.7 214.3 119.7 219.1 118.4 216.2 117.1 214.2Z"/>
<path fill="#079ccf" d="M121.4 211.2 122.7 214.3 124 217.8 121 222.1 119.7 219.1 118.4 216.2Z"/>
<path fill="#108ed2" d="M122.7 214.3 125.3 221.3 122.4 225.1 119.7 219.1Z"/>
<path fill="#127dd8" d="M124 217.8 125.3 221.3 126.7 224.3 123.7 227.7 122.4 225.1 121 222.1Z"/>
<path fill="#046de0" d="M125.3 221.3 126.7 224.3 128 226.8 125 229.8 123.7 227.7 122.4 225.1Z"/>
<path fill="#0f5cdd" d="M126.7 224.3 128 226.8 129.3 228.7 126.3 231.5 125 229.8 123.7 227.7Z"/>
<path fill="#2c4ac7" d="M128 226.8 129.3 228.7 130.6 230.2 127.7 232.8 126.3 231.5 125 229.8Z"/>
<path fill="#3243ba" d="M129.3 228.7 130.6 230.2 132 231.4 129 233.9 127.7 232.8 126.3 231.5Z"/>
<path fill="#353dad" d="M130.6 230.2 132 231.4 133.3 232.5 130.3 234.9 129 233.9 127.7 232.8Z"/>
<path fill="#3637a0" d="M132 231.4 134.6 233.4 137.3 235.1 134.3 237.4 131.6 235.8 129 233.9Z"/>
<path fill="#363093" d="M135.9 234.3 139.9 236.7 145.2 239.6 142.2 241.8 136.9 238.9 133 236.6Z"/>
<path fill="#352a87" d="M143.9 238.9 153.1 243.8 165 249.9 162.1 252 150.2 245.9 140.9 241.1Z"/>
<path fill="#363093" d="M78.9 208.2 89.4 212.8 86.5 214.9 75.9 210.3Z"/>
<path fill="#3637a0" d="M88.1 212.2 93.4 214.4 97.4 215.9 94.4 218.1 90.4 216.6 85.2 214.4Z"/>
<path fill="#353dad" d="M96.1 215.4 98.7 216.4 101.4 217.2 98.4 219.4 95.7 218.6 93.1 217.6Z"/>
<path fill="#3243ba" d="M100 216.8 102.7 217.4 104 217.6 101 219.8 99.7 219.6 97.1 219Z"/>
<path fill="#2c4ac7" d="M102.7 217.4 104 217.6 105.3 217.6 102.4 219.7 101 219.8 99.7 219.6Z"/>
<path fill="#2053d4" d="M104 217.6 105.3 217.6 106.7 217.3 103.7 219.5 102.4 219.7 101 219.8Z"/>
<path fill="#0f5cdd" d="M105.3 217.6 106.7 217.3 108 216.8 105 219.1 103.7 219.5 102.4 219.7Z"/>
<path fill="#0363e1" d="M106.7 217.3 108 216.8 109.3 215.9 106.3 218.4 105 219.1 103.7 219.5Z"/>
<path fill="#046de0" d="M108 216.8 109.3 215.9 110.6 214.8 107.7 217.6 106.3 218.4 105 219.1Z"/>
<path fill="#0d75dc" d="M109.3 215.9 110.6 214.8 111.9 213.6 109 216.7 106.3 218.4Z"/>
<path fill="#1481d6" d="M110.6 214.8 113.3 212.3 110.3 216 107.7 217.6Z"/>
<path fill="#1389d3" d="M111.9 213.6 113.3 212.3 114.6 211.3 111.6 215.4 110.3 216 109 216.7Z"/>
<path fill="#0998d1" d="M113.3 212.3 114.6 211.3 115.9 210.8 112.9 215.2 111.6 215.4 110.3 216Z"/>
<path fill="#06a0cd" d="M114.6 211.3 115.9 210.8 117.2 210.8 114.3 215.6 112.9 215.2 111.6 215.4Z"/>
<path fill="#06a4ca" d="M115.9 210.8 117.2 210.8 118.6 211.7 119.9 213.8 116.9 218.6 115.6 216.6 114.3 215.6 112.9 215.2Z"/>
<path fill="#06a0cd" d="M118.6 211.7 119.9 213.8 121.2 216.7 118.2 221.3 116.9 218.6 115.6 216.6Z"/>
<path fill="#0c93d2" d="M119.9 213.8 121.2 216.7 122.5 220 119.6 224.1 116.9 218.6Z"/>
<path fill="#1485d4" d="M121.2 216.7 123.9 223.2 120.9 226.9 118.2 221.3Z"/>
<path fill="#0d75dc" d="M122.5 220 123.9 223.2 125.2 226 122.2 229.3 120.9 226.9 119.6 224.1Z"/>
<path fill="#0268e1" d="M123.9 223.2 125.2 226 126.5 228.3 123.5 231.3 122.2 229.3 120.9 226.9Z"/>
<path fill="#0f5cdd" d="M125.2 226 126.5 228.3 127.8 230.1 124.9 232.8 123.5 231.3 122.2 229.3Z"/>
<path fill="#2c4ac7" d="M126.5 228.3 127.8 230.1 129.2 231.5 126.2 234.1 124.9 232.8 123.5 231.3Z"/>
<path fill="#353dad" d="M127.8 230.1 129.2 231.5 130.5 232.7 131.8 233.7 128.8 236.1 127.5 235.2 126.2 234.1 124.9 232.8Z"/>
<path fill="#3637a0" d="M130.5 232.7 131.8 233.7 134.4 235.4 131.5 237.7 128.8 236.1 127.5 235.2Z"/>
<path fill="#363093" d="M133.1 234.6 137.1 237 142.4 240 139.4 242.2 134.1 239.3 130.2 236.9Z"/>
<path fill="#352a87" d="M141.1 239.3 150.3 244.2 163.6 251 160.6 253 147.4 246.3 138.1 241.5Z"/>
<path fill="#363093" d="M77.4 209.2 88 213.9 85 216 74.4 211.3Z"/>
<path fill="#3637a0" d="M86.6 213.3 91.9 215.5 95.9 217 92.9 219.2 89 217.7 83.7 215.5Z"/>
<path fill="#353dad" d="M94.6 216.5 97.2 217.5 99.9 218.3 96.9 220.5 94.3 219.7 91.6 218.7Z"/>
<path fill="#3243ba" d="M98.5 217.9 101.2 218.5 102.5 218.7 99.5 220.8 98.2 220.7 95.6 220.1Z"/>
<path fill="#2c4ac7" d="M101.2 218.5 102.5 218.7 103.8 218.6 100.9 220.8 99.5 220.8 98.2 220.7Z"/>
<path fill="#2053d4" d="M102.5 218.7 103.8 218.6 105.2 218.4 102.2 220.6 100.9 220.8 99.5 220.8Z"/>
<path fill="#0f5cdd" d="M103.8 218.6 105.2 218.4 106.5 217.9 103.5 220.2 102.2 220.6 100.9 220.8Z"/>
<path fill="#0363e1" d="M105.2 218.4 106.5 217.9 107.8 217.2 104.8 219.7 103.5 220.2 102.2 220.6Z"/>
<path fill="#046de0" d="M106.5 217.9 107.8 217.2 109.1 216.2 106.2 219 104.8 219.7 103.5 220.2Z"/>
<path fill="#0d75dc" d="M107.8 217.2 110.5 215.2 107.5 218.3 104.8 219.7Z"/>
<path fill="#127dd8" d="M109.1 216.2 111.8 214.2 108.8 217.7 106.2 219Z"/>
<path fill="#1485d4" d="M110.5 215.2 111.8 214.2 113.1 213.4 110.1 217.4 108.8 217.7 107.5 218.3Z"/>
<path fill="#0c93d2" d="M111.8 214.2 113.1 213.4 114.4 213 111.5 217.3 110.1 217.4 108.8 217.7Z"/>
<path fill="#0998d1" d="M113.1 213.4 114.4 213 115.8 213.2 112.8 217.8 111.5 217.3 110.1 217.4Z"/>
<path fill="#079ccf" d="M114.4 213 115.8 213.2 117.1 214.2 118.4 216.2 115.4 220.8 114.1 218.9 112.8 217.8 111.5 217.3Z"/>
<path fill="#0998d1" d="M117.1 214.2 118.4 216.2 119.7 219.1 116.8 223.4 115.4 220.8 114.1 218.9Z"/>
<path fill="#1389d3" d="M118.4 216.2 119.7 219.1 121 222.1 118.1 226.1 115.4 220.8Z"/>
<path fill="#127dd8" d="M119.7 219.1 122.4 225.1 119.4 228.6 116.8 223.4Z"/>
<path fill="#0871de" d="M121 222.1 122.4 225.1 123.7 227.7 120.7 230.9 119.4 228.6 118.1 226.1Z"/>
<path fill="#0363e1" d="M122.4 225.1 123.7 227.7 125 229.8 122 232.7 120.7 230.9 119.4 228.6Z"/>
<path fill="#2053d4" d="M123.7 227.7 125 229.8 126.3 231.5 123.4 234.2 122 232.7 120.7 230.9Z"/>
<path fill="#3243ba" d="M125 229.8 126.3 231.5 127.7 232.8 124.7 235.4 123.4 234.2 122 232.7Z"/>
<path fill="#353dad" d="M126.3 231.5 127.7 232.8 129 233.9 126 236.4 124.7 235.4 123.4 234.2Z"/>
<path fill="#3637a0" d="M127.7 232.8 129 233.9 131.6 235.8 128.7 238.1 126 236.4 124.7 235.4Z"/>
<path fill="#363093" d="M130.3 234.9 134.3 237.4 139.6 240.4 136.6 242.5 131.3 239.6 127.3 237.3Z"/>
<path fill="#352a87" d="M138.3 239.6 147.5 244.6 162.1 252 159.1 254.1 144.5 246.7 135.3 241.8Z"/>
<path fill="#363093" d="M75.9 210.3 87.8 215.5 84.8 217.7 72.9 212.4Z"/>
<path fill="#3637a0" d="M86.5 214.9 91.8 217.1 95.7 218.6 92.8 220.8 88.8 219.3 83.5 217.1Z"/>
<path fill="#353dad" d="M94.4 218.1 97.1 219 99.7 219.6 96.7 221.8 94.1 221.2 91.4 220.3Z"/>
<path fill="#3243ba" d="M98.4 219.4 99.7 219.6 101 219.8 98.1 221.9 96.7 221.8 95.4 221.5Z"/>
<path fill="#2c4ac7" d="M99.7 219.6 101 219.8 102.4 219.7 103.7 219.5 100.7 221.8 99.4 221.9 98.1 221.9 96.7 221.8Z"/>
<path fill="#0f5cdd" d="M102.4 219.7 103.7 219.5 105 219.1 102 221.4 100.7 221.8 99.4 221.9Z"/>
<path fill="#0363e1" d="M103.7 219.5 105 219.1 106.3 218.4 103.4 221 102 221.4 100.7 221.8Z"/>
<path fill="#046de0" d="M105 219.1 106.3 218.4 107.7 217.6 104.7 220.5 102 221.4Z"/>
<path fill="#0d75dc" d="M106.3 218.4 109 216.7 106 219.9 103.4 221Z"/>
<path fill="#127dd8" d="M107.7 217.6 110.3 216 107.3 219.5 104.7 220.5Z"/>
<path fill="#1485d4" d="M109 216.7 110.3 216 111.6 215.4 108.7 219.3 107.3 219.5 106 219.9Z"/>
<path fill="#1389d3" d="M110.3 216 111.6 215.4 112.9 215.2 110 219.4 108.7 219.3 107.3 219.5Z"/>
<path fill="#0c93d2" d="M111.6 215.4 112.9 215.2 114.3 215.6 115.6 216.6 116.9 218.6 113.9 223 112.6 221 111.3 219.9 110 219.4 108.7 219.3Z"/>
<path fill="#108ed2" d="M115.6 216.6 116.9 218.6 118.2 221.3 115.3 225.4 113.9 223 112.6 221Z"/>
<path fill="#1485d4" d="M116.9 218.6 119.6 224.1 116.6 227.9 113.9 223Z"/>
<path fill="#1079da" d="M118.2 221.3 120.9 226.9 117.9 230.3 115.3 225.4Z"/>
<path fill="#046de0" d="M119.6 224.1 120.9 226.9 122.2 229.3 119.2 232.4 117.9 230.3 116.6 227.9Z"/>
<path fill="#0f5cdd" d="M120.9 226.9 122.2 229.3 123.5 231.3 120.6 234.1 119.2 232.4 117.9 230.3Z"/>
<path fill="#2c4ac7" d="M122.2 229.3 123.5 231.3 124.9 232.8 121.9 235.5 120.6 234.1 119.2 232.4Z"/>
<path fill="#3243ba" d="M123.5 231.3 124.9 232.8 126.2 234.1 123.2 236.6 121.9 235.5 120.6 234.1Z"/>
<path fill="#353dad" d="M124.9 232.8 126.2 234.1 127.5 235.2 124.5 237.5 123.2 236.6 121.9 235.5Z"/>
<path fill="#3637a0" d="M126.2 234.1 127.5 235.2 128.8 236.1 125.9 238.4 123.2 236.6Z"/>
<path fill="#363093" d="M127.5 235.2 130.2 236.9 135.4 240 132.5 242.2 127.2 239.2 124.5 237.5Z"/>
<path fill="#352a87" d="M134.1 239.3 139.4 242.2 144.7 244.9 160.6 253 157.6 255.1 141.7 247.1 131.1 241.5Z"/>
<path fill="#363093" d="M74.4 211.3 81 214.3 87.6 217.1 84.7 219.3 78.1 216.4 71.4 213.4Z"/>
<path fill="#3637a0" d="M86.3 216.6 90.3 218.2 94.3 219.7 91.3 221.9 87.3 220.4 83.3 218.7Z"/>
<path fill="#353dad" d="M92.9 219.2 95.6 220.1 98.2 220.7 95.3 222.9 92.6 222.3 90 221.4Z"/>
<path fill="#3243ba" d="M96.9 220.5 98.2 220.7 99.5 220.8 100.9 220.8 97.9 223 96.6 223 95.3 222.9 93.9 222.6Z"/>
<path fill="#2c4ac7" d="M99.5 220.8 100.9 220.8 102.2 220.6 99.2 222.9 97.9 223 96.6 223Z"/>
<path fill="#2053d4" d="M100.9 220.8 102.2 220.6 103.5 220.2 100.5 222.7 99.2 222.9 97.9 223Z"/>
<path fill="#0363e1" d="M102.2 220.6 103.5 220.2 104.8 219.7 101.9 222.3 100.5 222.7 99.2 222.9Z"/>
<path fill="#0268e1" d="M103.5 220.2 104.8 219.7 106.2 219 103.2 221.9 100.5 222.7Z"/>
<path fill="#0871de" d="M104.8 219.7 107.5 218.3 104.5 221.5 101.9 222.3Z"/>
<path fill="#1079da" d="M106.2 219 108.8 217.7 105.8 221.2 104.5 221.5 103.2 221.9Z"/>
<path fill="#1481d6" d="M107.5 218.3 108.8 217.7 110.1 217.4 107.2 221.1 105.8 221.2 104.5 221.5Z"/>
<path fill="#1485d4" d="M108.8 217.7 110.1 217.4 111.5 217.3 108.5 221.4 107.2 221.1 105.8 221.2Z"/>
<path fill="#1389d3" d="M110.1 217.4 111.5 217.3 112.8 217.8 109.8 221.9 108.5 221.4 107.2 221.1Z"/>
<path fill="#108ed2" d="M111.5 217.3 112.8 217.8 114.1 218.9 115.4 220.8 112.5 225 111.1 223.1 109.8 221.9 108.5 221.4Z"/>
<path fill="#1485d4" d="M114.1 218.9 115.4 220.8 116.8 223.4 113.8 227.3 112.5 225 111.1 223.1Z"/>
<path fill="#127dd8" d="M115.4 220.8 118.1 226.1 115.1 229.7 112.5 225Z"/>
<path fill="#0871de" d="M116.8 223.4 119.4 228.6 116.4 231.9 113.8 227.3Z"/>
<path fill="#0268e1" d="M118.1 226.1 119.4 228.6 120.7 230.9 117.8 233.9 116.4 231.9 115.1 229.7Z"/>
<path fill="#2053d4" d="M119.4 228.6 120.7 230.9 122 232.7 119.1 235.4 117.8 233.9 116.4 231.9Z"/>
<path fill="#3243ba" d="M120.7 230.9 122 232.7 123.4 234.2 120.4 236.7 119.1 235.4 117.8 233.9Z"/>
<path fill="#353dad" d="M122 232.7 123.4 234.2 124.7 235.4 121.7 237.8 120.4 236.7 119.1 235.4Z"/>
<path fill="#3637a0" d="M123.4 234.2 124.7 235.4 127.3 237.3 124.4 239.6 121.7 237.8 120.4 236.7Z"/>
<path fill="#363093" d="M126 236.4 128.7 238.1 132.6 240.4 129.7 242.6 125.7 240.3 123 238.7Z"/>
<path fill="#352a87" d="M131.3 239.6 136.6 242.5 141.9 245.3 159.1 254.1 156.1 256.2 138.9 247.4 128.3 241.8Z"/>
<path fill="#363093" d="M72.9 212.4 79.5 215.4 86.2 218.2 83.2 220.4 76.6 217.5 69.9 214.5Z"/>
<path fill="#3637a0" d="M84.8 217.7 88.8 219.3 92.8 220.8 89.8 223 85.8 221.5 81.9 219.8Z"/>
<path fill="#353dad" d="M91.4 220.3 94.1 221.2 96.7 221.8 93.8 224 91.1 223.4 88.5 222.5Z"/>
<path fill="#3243ba" d="M95.4 221.5 96.7 221.8 98.1 221.9 99.4 221.9 96.4 224.2 95.1 224.1 93.8 224 92.4 223.7Z"/>
<path fill="#2c4ac7" d="M98.1 221.9 99.4 221.9 100.7 221.8 97.7 224.1 96.4 224.2 95.1 224.1Z"/>
<path fill="#2053d4" d="M99.4 221.9 100.7 221.8 102 221.4 99.1 223.9 97.7 224.1 96.4 224.2Z"/>
<path fill="#0363e1" d="M100.7 221.8 102 221.4 103.4 221 100.4 223.6 97.7 224.1Z"/>
<path fill="#0268e1" d="M102 221.4 104.7 220.5 101.7 223.3 99.1 223.9Z"/>
<path fill="#0871de" d="M103.4 221 106 219.9 103 223.1 100.4 223.6Z"/>
<path fill="#0d75dc" d="M104.7 220.5 107.3 219.5 104.4 222.9 103 223.1 101.7 223.3Z"/>
<path fill="#127dd8" d="M106 219.9 107.3 219.5 108.7 219.3 105.7 223 104.4 222.9 103 223.1Z"/>
<path fill="#1481d6" d="M107.3 219.5 108.7 219.3 110 219.4 107 223.3 105.7 223 104.4 222.9Z"/>
<path fill="#1485d4" d="M108.7 219.3 110 219.4 111.3 219.9 112.6 221 113.9 223 111 226.8 109.7 225 108.3 223.9 107 223.3 105.7 223Z"/>
<path fill="#1481d6" d="M112.6 221 113.9 223 115.3 225.4 112.3 229 111 226.8 109.7 225Z"/>
<path fill="#1079da" d="M113.9 223 116.6 227.9 113.6 231.2 111 226.8Z"/>
<path fill="#046de0" d="M115.3 225.4 117.9 230.3 114.9 233.3 112.3 229Z"/>
<path fill="#0363e1" d="M116.6 227.9 117.9 230.3 119.2 232.4 116.3 235.1 114.9 233.3 113.6 231.2Z"/>
<path fill="#2053d4" d="M117.9 230.3 119.2 232.4 120.6 234.1 117.6 236.6 116.3 235.1 114.9 233.3Z"/>
<path fill="#3243ba" d="M119.2 232.4 120.6 234.1 121.9 235.5 118.9 237.8 117.6 236.6 116.3 235.1Z"/>
<path fill="#353dad" d="M120.6 234.1 121.9 235.5 123.2 236.6 120.2 238.9 118.9 237.8 117.6 236.6Z"/>
<path fill="#3637a0" d="M121.9 235.5 123.2 236.6 124.5 237.5 121.6 239.8 120.2 238.9 118.9 237.8Z"/>
<path fill="#363093" d="M123.2 236.6 125.9 238.4 129.8 240.7 126.9 242.9 122.9 240.6 120.2 238.9Z"/>
<path fill="#352a87" d="M128.5 240 132.5 242.2 139.1 245.7 157.6 255.1 154.6 257.2 136.1 247.8 125.5 242.2Z"/>
<path fill="#363093" d="M71.4 213.4 79.4 217 86 219.9 83 222 76.4 219.1 68.5 215.5Z"/>
<path fill="#3637a0" d="M84.7 219.3 88.6 220.9 92.6 222.3 89.6 224.4 85.7 223.1 81.7 221.5Z"/>
<path fill="#353dad" d="M91.3 221.9 93.9 222.6 95.3 222.9 92.3 225 91 224.8 88.3 224Z"/>
<path fill="#3243ba" d="M93.9 222.6 95.3 222.9 96.6 223 97.9 223 94.9 225.3 93.6 225.2 91 224.8Z"/>
<path fill="#2c4ac7" d="M96.6 223 97.9 223 99.2 222.9 96.3 225.3 94.9 225.3 93.6 225.2Z"/>
<path fill="#2053d4" d="M97.9 223 99.2 222.9 100.5 222.7 97.6 225.1 94.9 225.3Z"/>
<path fill="#0f5cdd" d="M99.2 222.9 100.5 222.7 101.9 222.3 98.9 225 96.3 225.3Z"/>
<path fill="#0268e1" d="M100.5 222.7 103.2 221.9 100.2 224.8 97.6 225.1Z"/>
<path fill="#046de0" d="M101.9 222.3 104.5 221.5 101.5 224.6 98.9 225Z"/>
<path fill="#0871de" d="M103.2 221.9 104.5 221.5 105.8 221.2 102.9 224.6 101.5 224.6 100.2 224.8Z"/>
<path fill="#1079da" d="M104.5 221.5 105.8 221.2 107.2 221.1 104.2 224.7 102.9 224.6 101.5 224.6Z"/>
<path fill="#127dd8" d="M105.8 221.2 107.2 221.1 108.5 221.4 105.5 225.1 104.2 224.7 102.9 224.6Z"/>
<path fill="#1481d6" d="M107.2 221.1 108.5 221.4 109.8 221.9 111.1 223.1 112.5 225 109.5 228.6 108.2 226.9 106.8 225.8 105.5 225.1 104.2 224.7Z"/>
<path fill="#1079da" d="M111.1 223.1 112.5 225 113.8 227.3 110.8 230.6 109.5 228.6 108.2 226.9Z"/>
<path fill="#0871de" d="M112.5 225 115.1 229.7 112.1 232.7 109.5 228.6Z"/>
<path fill="#0268e1" d="M113.8 227.3 116.4 231.9 113.5 234.6 110.8 230.6Z"/>
<path fill="#0f5cdd" d="M115.1 229.7 116.4 231.9 117.8 233.9 114.8 236.3 113.5 234.6 112.1 232.7Z"/>
<path fill="#2c4ac7" d="M116.4 231.9 117.8 233.9 119.1 235.4 116.1 237.7 114.8 236.3 113.5 234.6Z"/>
<path fill="#353dad" d="M117.8 233.9 119.1 235.4 120.4 236.7 117.4 239 116.1 237.7 114.8 236.3Z"/>
<path fill="#3637a0" d="M119.1 235.4 120.4 236.7 121.7 237.8 123 238.7 120.1 240.9 118.8 240 117.4 239 116.1 237.7Z"/>
<path fill="#363093" d="M121.7 237.8 124.4 239.6 128.3 241.8 125.4 244 121.4 241.7 118.8 240Z"/>
<path fill="#352a87" d="M127 241.1 131 243.3 137.6 246.8 156.1 256.2 153.2 258.2 134.6 248.8 124 243.2Z"/>
<path fill="#363093" d="M69.9 214.5 77.9 218.1 84.5 220.9 81.5 223.1 74.9 220.2 67 216.6Z"/>
<path fill="#3637a0" d="M83.2 220.4 87.2 222 91.1 223.4 88.2 225.5 84.2 224.2 80.2 222.5Z"/>
<path fill="#353dad" d="M89.8 223 92.4 223.7 93.8 224 90.8 226.1 89.5 225.9 86.8 225.1Z"/>
<path fill="#3243ba" d="M92.4 223.7 93.8 224 95.1 224.1 96.4 224.2 93.4 226.4 92.1 226.3 89.5 225.9Z"/>
<path fill="#2c4ac7" d="M95.1 224.1 96.4 224.2 97.7 224.1 94.8 226.4 92.1 226.3Z"/>
<path fill="#2053d4" d="M96.4 224.2 97.7 224.1 99.1 223.9 96.1 226.4 93.4 226.4Z"/>
<path fill="#0f5cdd" d="M97.7 224.1 100.4 223.6 97.4 226.3 94.8 226.4Z"/>
<path fill="#0363e1" d="M99.1 223.9 101.7 223.3 98.7 226.2 96.1 226.4Z"/>
<path fill="#046de0" d="M100.4 223.6 103 223.1 100.1 226.1 97.4 226.3Z"/>
<path fill="#0871de" d="M101.7 223.3 103 223.1 104.4 222.9 101.4 226.2 100.1 226.1 98.7 226.2Z"/>
<path fill="#0d75dc" d="M103 223.1 104.4 222.9 105.7 223 102.7 226.4 101.4 226.2 100.1 226.1Z"/>
<path fill="#1079da" d="M104.4 222.9 105.7 223 107 223.3 104 226.9 102.7 226.4 101.4 226.2Z"/>
<path fill="#127dd8" d="M105.7 223 107 223.3 108.3 223.9 109.7 225 106.7 228.7 105.4 227.6 104 226.9 102.7 226.4Z"/>
<path fill="#1079da" d="M108.3 223.9 109.7 225 111 226.8 108 230.4 106.7 228.7 105.4 227.6Z"/>
<path fill="#0d75dc" d="M109.7 225 111 226.8 112.3 229 109.3 232.2 108 230.4 106.7 228.7Z"/>
<path fill="#046de0" d="M111 226.8 113.6 231.2 110.7 234.1 108 230.4Z"/>
<path fill="#0363e1" d="M112.3 229 114.9 233.3 112 235.9 109.3 232.2Z"/>
<path fill="#2053d4" d="M113.6 231.2 114.9 233.3 116.3 235.1 113.3 237.5 112 235.9 110.7 234.1Z"/>
<path fill="#2c4ac7" d="M114.9 233.3 116.3 235.1 117.6 236.6 114.6 238.9 113.3 237.5 112 235.9Z"/>
<path fill="#353dad" d="M116.3 235.1 117.6 236.6 118.9 237.8 115.9 240.1 114.6 238.9 113.3 237.5Z"/>
<path fill="#3637a0" d="M117.6 236.6 118.9 237.8 120.2 238.9 121.6 239.8 118.6 242 115.9 240.1 114.6 238.9Z"/>
<path fill="#363093" d="M120.2 238.9 122.9 240.6 125.5 242.2 122.6 244.3 119.9 242.8 117.3 241.1Z"/>
<path fill="#352a87" d="M124.2 241.4 128.2 243.6 134.8 247.1 154.6 257.2 151.7 259.2 131.8 249.2 125.2 245.7 121.2 243.6Z"/>
<path fill="#352a87" d="M68.5 215.5 71.1 216.8 68.1 218.9 65.5 217.6Z"/>
<path fill="#363093" d="M69.8 216.1 77.7 219.7 84.3 222.6 81.4 224.7 74.8 221.9 66.8 218.2Z"/>
<path fill="#3637a0" d="M83 222 87 223.6 89.6 224.4 86.7 226.6 84 225.7 80 224.2Z"/>
<path fill="#353dad" d="M88.3 224 91 224.8 93.6 225.2 90.6 227.4 88 226.9 85.3 226.2Z"/>
<path fill="#3243ba" d="M92.3 225 93.6 225.2 94.9 225.3 92 227.6 89.3 227.2Z"/>
<path fill="#2c4ac7" d="M93.6 225.2 94.9 225.3 96.3 225.3 93.3 227.6 90.6 227.4Z"/>
<path fill="#2053d4" d="M94.9 225.3 97.6 225.1 94.6 227.6 92 227.6Z"/>
<path fill="#0f5cdd" d="M96.3 225.3 98.9 225 95.9 227.6 93.3 227.6Z"/>
<path fill="#0363e1" d="M97.6 225.1 100.2 224.8 97.3 227.6 94.6 227.6Z"/>
<path fill="#0268e1" d="M98.9 225 101.5 224.6 98.6 227.6 95.9 227.6Z"/>
<path fill="#046de0" d="M100.2 224.8 101.5 224.6 102.9 224.6 99.9 227.8 98.6 227.6 97.3 227.6Z"/>
<path fill="#0871de" d="M101.5 224.6 102.9 224.6 104.2 224.7 101.2 228.1 99.9 227.8 98.6 227.6Z"/>
<path fill="#0d75dc" d="M102.9 224.6 104.2 224.7 105.5 225.1 106.8 225.8 103.9 229.3 102.5 228.6 101.2 228.1 99.9 227.8Z"/>
<path fill="#1079da" d="M105.5 225.1 106.8 225.8 108.2 226.9 105.2 230.5 103.9 229.3 102.5 228.6Z"/>
<path fill="#0d75dc" d="M106.8 225.8 108.2 226.9 109.5 228.6 106.5 232 105.2 230.5 103.9 229.3Z"/>
<path fill="#0871de" d="M108.2 226.9 109.5 228.6 110.8 230.6 107.8 233.8 106.5 232 105.2 230.5Z"/>
<path fill="#046de0" d="M109.5 228.6 112.1 232.7 109.2 235.5 106.5 232Z"/>
<path fill="#0363e1" d="M110.8 230.6 113.5 234.6 110.5 237.2 107.8 233.8Z"/>
<path fill="#2053d4" d="M112.1 232.7 113.5 234.6 114.8 236.3 111.8 238.7 110.5 237.2 109.2 235.5Z"/>
<path fill="#3243ba" d="M113.5 234.6 114.8 236.3 116.1 237.7 113.1 240 111.8 238.7 110.5 237.2Z"/>
<path fill="#353dad" d="M114.8 236.3 116.1 237.7 117.4 239 114.5 241.2 113.1 240 111.8 238.7Z"/>
<path fill="#3637a0" d="M116.1 237.7 117.4 239 118.8 240 115.8 242.2 114.5 241.2 113.1 240Z"/>
<path fill="#363093" d="M117.4 239 118.8 240 120.1 240.9 124 243.2 121.1 245.4 117.1 243 114.5 241.2Z"/>
<path fill="#352a87" d="M122.7 242.5 126.7 244.7 133.3 248.2 153.2 258.2 150.2 260.3 130.3 250.2 123.7 246.8 119.8 244.6Z"/>
<path fill="#352a87" d="M67 216.6 69.6 217.8 66.7 219.9 64 218.7Z"/>
<path fill="#363093" d="M68.3 217.2 76.2 220.8 82.9 223.6 79.9 225.8 74.6 223.5 65.3 219.3Z"/>
<path fill="#3637a0" d="M81.5 223.1 85.5 224.7 88.2 225.5 89.5 225.9 86.5 228 82.5 226.8 78.6 225.2Z"/>
<path fill="#353dad" d="M88.2 225.5 90.8 226.1 92.1 226.3 89.2 228.6 87.8 228.3 85.2 227.7Z"/>
<path fill="#3243ba" d="M90.8 226.1 93.4 226.4 90.5 228.7 87.8 228.3Z"/>
<path fill="#2c4ac7" d="M92.1 226.3 94.8 226.4 91.8 228.8 89.2 228.6Z"/>
<path fill="#2053d4" d="M93.4 226.4 94.8 226.4 97.4 226.3 94.4 228.9 90.5 228.7Z"/>
<path fill="#0f5cdd" d="M96.1 226.4 98.7 226.2 95.8 229 93.1 228.9Z"/>
<path fill="#0268e1" d="M97.4 226.3 100.1 226.1 97.1 229.1 94.4 228.9Z"/>
<path fill="#046de0" d="M98.7 226.2 100.1 226.1 101.4 226.2 102.7 226.4 99.7 229.7 98.4 229.4 97.1 229.1 95.8 229Z"/>
<path fill="#0871de" d="M101.4 226.2 102.7 226.4 104 226.9 105.4 227.6 102.4 231 101.1 230.3 99.7 229.7 98.4 229.4Z"/>
<path fill="#0d75dc" d="M104 226.9 105.4 227.6 106.7 228.7 103.7 232.1 102.4 231 101.1 230.3Z"/>
<path fill="#0871de" d="M105.4 227.6 106.7 228.7 108 230.4 105 233.6 103.7 232.1 102.4 231Z"/>
<path fill="#046de0" d="M106.7 228.7 108 230.4 109.3 232.2 106.4 235.3 105 233.6 103.7 232.1Z"/>
<path fill="#0268e1" d="M108 230.4 110.7 234.1 107.7 236.9 105 233.6Z"/>
<path fill="#0f5cdd" d="M109.3 232.2 112 235.9 109 238.5 106.4 235.3Z"/>
<path fill="#2c4ac7" d="M110.7 234.1 112 235.9 113.3 237.5 110.3 239.9 107.7 236.9Z"/>
<path fill="#3243ba" d="M112 235.9 113.3 237.5 114.6 238.9 111.7 241.2 110.3 239.9 109 238.5Z"/>
<path fill="#353dad" d="M113.3 237.5 114.6 238.9 115.9 240.1 113 242.3 111.7 241.2 110.3 239.9Z"/>
<path fill="#3637a0" d="M114.6 238.9 115.9 240.1 117.3 241.1 114.3 243.3 113 242.3 111.7 241.2Z"/>
<path fill="#363093" d="M115.9 240.1 118.6 242 121.2 243.6 118.3 245.7 115.6 244.1 113 242.3Z"/>
<path fill="#352a87" d="M119.9 242.8 123.9 245 130.5 248.5 151.7 259.2 148.7 261.3 127.5 250.6 120.9 247.1 116.9 244.9Z"/>
<path fill="#352a87" d="M65.5 217.6 69.5 219.5 66.5 221.6 62.5 219.7Z"/>
<path fill="#363093" d="M68.1 218.9 77.4 223 82.7 225.2 79.7 227.4 74.4 225.2 65.2 221Z"/>
<path fill="#3637a0" d="M81.4 224.7 85.3 226.2 88 226.9 85 229.1 82.4 228.3 78.4 226.8Z"/>
<path fill="#353dad" d="M86.7 226.6 89.3 227.2 90.6 227.4 87.7 229.7 86.3 229.4 83.7 228.7Z"/>
<path fill="#3243ba" d="M89.3 227.2 92 227.6 89 229.9 86.3 229.4Z"/>
<path fill="#2c4ac7" d="M90.6 227.4 92 227.6 94.6 227.6 91.6 230.1 87.7 229.7Z"/>
<path fill="#2053d4" d="M93.3 227.6 95.9 227.6 93 230.3 90.3 230Z"/>
<path fill="#0f5cdd" d="M94.6 227.6 97.3 227.6 94.3 230.4 91.6 230.1Z"/>
<path fill="#0363e1" d="M95.9 227.6 98.6 227.6 95.6 230.6 93 230.3Z"/>
<path fill="#0268e1" d="M97.3 227.6 98.6 227.6 99.9 227.8 96.9 230.9 94.3 230.4Z"/>
<path fill="#046de0" d="M98.6 227.6 99.9 227.8 101.2 228.1 102.5 228.6 99.6 231.9 98.3 231.3 96.9 230.9 95.6 230.6Z"/>
<path fill="#0871de" d="M101.2 228.1 102.5 228.6 103.9 229.3 105.2 230.5 102.2 233.8 100.9 232.6 99.6 231.9 98.3 231.3Z"/>
<path fill="#046de0" d="M103.9 229.3 105.2 230.5 106.5 232 103.5 235.2 102.2 233.8 100.9 232.6Z"/>
<path fill="#0268e1" d="M105.2 230.5 106.5 232 107.8 233.8 104.9 236.7 102.2 233.8Z"/>
<path fill="#0363e1" d="M106.5 232 109.2 235.5 106.2 238.2 103.5 235.2Z"/>
<path fill="#2053d4" d="M107.8 233.8 110.5 237.2 107.5 239.7 104.9 236.7Z"/>
<path fill="#2c4ac7" d="M109.2 235.5 110.5 237.2 111.8 238.7 108.8 241.1 106.2 238.2Z"/>
<path fill="#3243ba" d="M110.5 237.2 111.8 238.7 113.1 240 110.2 242.3 108.8 241.1 107.5 239.7Z"/>
<path fill="#353dad" d="M111.8 238.7 113.1 240 114.5 241.2 111.5 243.4 110.2 242.3 108.8 241.1Z"/>
<path fill="#3637a0" d="M113.1 240 114.5 241.2 115.8 242.2 112.8 244.3 110.2 242.3Z"/>
<path fill="#363093" d="M114.5 241.2 117.1 243 119.8 244.6 116.8 246.7 114.1 245.2 111.5 243.4Z"/>
<path fill="#352a87" d="M118.4 243.9 122.4 246.1 129 249.6 150.2 260.3 147.2 262.3 126 251.6 119.4 248.2 115.5 246Z"/>
<path fill="#352a87" d="M64 218.7 69.3 221.1 66.3 223.2 61 220.8Z"/>
<path fill="#363093" d="M68 220.5 75.9 224.1 81.2 226.3 78.2 228.4 72.9 226.2 65 222.6Z"/>
<path fill="#3637a0" d="M79.9 225.8 83.9 227.3 86.5 228 83.5 230.2 80.9 229.4 76.9 227.9Z"/>
<path fill="#353dad" d="M85.2 227.7 87.8 228.3 89.2 228.6 86.2 230.8 82.2 229.8Z"/>
<path fill="#3243ba" d="M87.8 228.3 89.2 228.6 91.8 228.8 88.8 231.2 84.9 230.5Z"/>
<path fill="#2c4ac7" d="M90.5 228.7 93.1 228.9 90.2 231.4 87.5 231Z"/>
<path fill="#2053d4" d="M91.8 228.8 94.4 228.9 91.5 231.6 88.8 231.2Z"/>
<path fill="#0f5cdd" d="M93.1 228.9 95.8 229 92.8 231.8 90.2 231.4Z"/>
<path fill="#0363e1" d="M94.4 228.9 97.1 229.1 98.4 229.4 95.4 232.4 94.1 232 91.5 231.6Z"/>
<path fill="#0268e1" d="M97.1 229.1 98.4 229.4 99.7 229.7 101.1 230.3 98.1 233.4 96.8 232.8 95.4 232.4 94.1 232Z"/>
<path fill="#046de0" d="M99.7 229.7 101.1 230.3 102.4 231 103.7 232.1 100.7 235.3 99.4 234.2 98.1 233.4 96.8 232.8Z"/>
<path fill="#0268e1" d="M102.4 231 103.7 232.1 105 233.6 102.1 236.7 100.7 235.3 99.4 234.2Z"/>
<path fill="#0363e1" d="M103.7 232.1 105 233.6 106.4 235.3 103.4 238.1 100.7 235.3Z"/>
<path fill="#0f5cdd" d="M105 233.6 107.7 236.9 104.7 239.6 102.1 236.7Z"/>
<path fill="#2053d4" d="M106.4 235.3 109 238.5 106 241 103.4 238.1Z"/>
<path fill="#2c4ac7" d="M107.7 236.9 110.3 239.9 107.4 242.3 104.7 239.6Z"/>
<path fill="#353dad" d="M109 238.5 110.3 239.9 111.7 241.2 108.7 243.4 106 241Z"/>
<path fill="#3637a0" d="M110.3 239.9 111.7 241.2 113 242.3 114.3 243.3 111.3 245.4 108.7 243.4 107.4 242.3Z"/>
<path fill="#363093" d="M113 242.3 115.6 244.1 118.3 245.7 115.3 247.8 112.6 246.3 110 244.5Z"/>
<path fill="#352a87" d="M116.9 244.9 120.9 247.1 127.5 250.6 148.7 261.3 145.7 263.4 124.6 252.7 117.9 249.2 114 247Z"/>
<path fill="#352a87" d="M62.5 219.7 67.8 222.2 64.8 224.3 59.5 221.8Z"/>
<path fill="#363093" d="M66.5 221.6 74.4 225.2 79.7 227.4 76.8 229.5 71.5 227.3 63.5 223.7Z"/>
<path fill="#3637a0" d="M78.4 226.8 82.4 228.3 85 229.1 82 231.3 79.4 230.5 75.4 229Z"/>
<path fill="#353dad" d="M83.7 228.7 86.3 229.4 87.7 229.7 84.7 231.9 80.7 230.9Z"/>
<path fill="#3243ba" d="M86.3 229.4 87.7 229.7 90.3 230 87.3 232.4 83.4 231.6Z"/>
<path fill="#2c4ac7" d="M89 229.9 91.6 230.1 88.7 232.6 86 232.2Z"/>
<path fill="#2053d4" d="M90.3 230 94.3 230.4 91.3 233.1 87.3 232.4Z"/>
<path fill="#0f5cdd" d="M93 230.3 95.6 230.6 92.6 233.4 90 232.9Z"/>
<path fill="#0363e1" d="M94.3 230.4 96.9 230.9 98.3 231.3 95.3 234.3 94 233.8 91.3 233.1Z"/>
<path fill="#0268e1" d="M96.9 230.9 98.3 231.3 99.6 231.9 100.9 232.6 102.2 233.8 99.3 236.8 97.9 235.8 96.6 235 95.3 234.3 94 233.8Z"/>
<path fill="#0363e1" d="M100.9 232.6 102.2 233.8 104.9 236.7 101.9 239.5 99.3 236.8 97.9 235.8Z"/>
<path fill="#2053d4" d="M103.5 235.2 106.2 238.2 103.2 240.9 100.6 238.1Z"/>
<path fill="#2c4ac7" d="M104.9 236.7 107.5 239.7 104.5 242.2 101.9 239.5Z"/>
<path fill="#3243ba" d="M106.2 238.2 108.8 241.1 105.9 243.4 103.2 240.9Z"/>
<path fill="#353dad" d="M107.5 239.7 108.8 241.1 110.2 242.3 107.2 244.6 104.5 242.2Z"/>
<path fill="#3637a0" d="M108.8 241.1 110.2 242.3 112.8 244.3 109.8 246.5 107.2 244.6 105.9 243.4Z"/>
<path fill="#363093" d="M111.5 243.4 112.8 244.3 115.5 246 112.5 248.1 109.8 246.5 108.5 245.6Z"/>
<path fill="#352a87" d="M114.1 245.2 118.1 247.5 123.4 250.3 147.2 262.3 144.2 264.4 120.4 252.4 115.1 249.6 111.2 247.3Z"/>
<path fill="#352a87" d="M61 220.8 67.7 223.8 64.7 226 58.1 222.9Z"/>
<path fill="#363093" d="M66.3 223.2 74.3 226.8 79.6 228.9 76.6 231.1 71.3 228.9 63.4 225.3Z"/>
<path fill="#3637a0" d="M78.2 228.4 80.9 229.4 83.5 230.2 80.6 232.4 77.9 231.5 75.3 230.6Z"/>
<path fill="#353dad" d="M82.2 229.8 84.9 230.5 87.5 231 84.5 233.4 81.9 232.7 79.2 232Z"/>
<path fill="#3243ba" d="M86.2 230.8 88.8 231.2 85.9 233.6 83.2 233.1Z"/>
<path fill="#2c4ac7" d="M87.5 231 91.5 231.6 88.5 234.2 84.5 233.4Z"/>
<path fill="#2053d4" d="M90.2 231.4 92.8 231.8 89.8 234.5 87.2 233.9Z"/>
<path fill="#0f5cdd" d="M91.5 231.6 94.1 232 95.4 232.4 92.5 235.3 91.2 234.8 88.5 234.2Z"/>
<path fill="#0363e1" d="M94.1 232 95.4 232.4 96.8 232.8 98.1 233.4 99.4 234.2 100.7 235.3 102.1 236.7 99.1 239.5 97.8 238.3 96.4 237.3 95.1 236.5 93.8 235.8 91.2 234.8Z"/>
<path fill="#0f5cdd" d="M100.7 235.3 103.4 238.1 100.4 240.9 97.8 238.3Z"/>
<path fill="#2053d4" d="M102.1 236.7 104.7 239.6 101.7 242.1 99.1 239.5Z"/>
<path fill="#2c4ac7" d="M103.4 238.1 106 241 103.1 243.4 100.4 240.9Z"/>
<path fill="#3243ba" d="M104.7 239.6 107.4 242.3 104.4 244.6 101.7 242.1Z"/>
<path fill="#353dad" d="M106 241 108.7 243.4 105.7 245.7 103.1 243.4Z"/>
<path fill="#3637a0" d="M107.4 242.3 110 244.5 107 246.7 104.4 244.6Z"/>
<path fill="#363093" d="M108.7 243.4 111.3 245.4 114 247 111 249.2 108.4 247.6 105.7 245.7Z"/>
<path fill="#352a87" d="M112.6 246.3 116.6 248.5 121.9 251.3 145.7 263.4 142.8 265.4 118.9 253.4 113.6 250.6 109.7 248.4Z"/>
<path fill="#352a87" d="M59.5 221.8 66.2 224.9 63.2 227 56.6 223.9Z"/>
<path fill="#363093" d="M64.8 224.3 72.8 227.9 78.1 230 75.1 232.1 69.8 230 61.9 226.4Z"/>
<path fill="#3637a0" d="M76.8 229.5 80.7 230.9 83.4 231.6 80.4 233.8 77.8 233.1 73.8 231.6Z"/>
<path fill="#353dad" d="M82 231.3 86 232.2 83 234.5 79.1 233.5Z"/>
<path fill="#3243ba" d="M84.7 231.9 88.7 232.6 85.7 235.1 81.7 234.2Z"/>
<path fill="#2c4ac7" d="M87.3 232.4 90 232.9 87 235.4 84.4 234.8Z"/>
<path fill="#2053d4" d="M88.7 232.6 92.6 233.4 89.7 236.2 85.7 235.1Z"/>
<path fill="#0f5cdd" d="M91.3 233.1 94 233.8 95.3 234.3 96.6 235 97.9 235.8 99.3 236.8 100.6 238.1 97.6 240.9 96.3 239.7 95 238.7 93.6 237.9 91 236.7 88.3 235.8Z"/>
<path fill="#2053d4" d="M99.3 236.8 101.9 239.5 98.9 242.2 96.3 239.7Z"/>
<path fill="#2c4ac7" d="M100.6 238.1 103.2 240.9 100.3 243.4 97.6 240.9Z"/>
<path fill="#3243ba" d="M101.9 239.5 104.5 242.2 101.6 244.6 98.9 242.2Z"/>
<path fill="#353dad" d="M103.2 240.9 105.9 243.4 107.2 244.6 104.2 246.8 102.9 245.7 100.3 243.4Z"/>
<path fill="#3637a0" d="M105.9 243.4 108.5 245.6 105.5 247.7 102.9 245.7Z"/>
<path fill="#363093" d="M107.2 244.6 109.8 246.5 112.5 248.1 109.5 250.2 106.9 248.6 104.2 246.8Z"/>
<path fill="#352a87" d="M111.2 247.3 115.1 249.6 120.4 252.4 144.2 264.4 141.3 266.4 117.5 254.4 112.2 251.7 108.2 249.4Z"/>
<path fill="#352a87" d="M58.1 222.9 66 226.6 63 228.7 55.1 225Z"/>
<path fill="#363093" d="M64.7 226 71.3 228.9 76.6 231.1 73.6 233.2 68.3 231 61.7 228.1Z"/>
<path fill="#3637a0" d="M75.3 230.6 79.2 232 81.9 232.7 78.9 235 76.3 234.1 72.3 232.7Z"/>
<path fill="#353dad" d="M80.6 232.4 84.5 233.4 81.6 235.7 77.6 234.6Z"/>
<path fill="#3243ba" d="M83.2 233.1 87.2 233.9 84.2 236.4 80.2 235.3Z"/>
<path fill="#2c4ac7" d="M85.9 233.6 89.8 234.5 86.9 237.1 82.9 236Z"/>
<path fill="#2053d4" d="M88.5 234.2 91.2 234.8 92.5 235.3 89.5 238.1 88.2 237.5 85.5 236.7Z"/>
<path fill="#0f5cdd" d="M91.2 234.8 93.8 235.8 95.1 236.5 96.4 237.3 97.8 238.3 94.8 241.1 93.5 240.1 92.1 239.3 90.8 238.6 88.2 237.5Z"/>
<path fill="#2053d4" d="M96.4 237.3 97.8 238.3 100.4 240.9 97.4 243.5 94.8 241.1 93.5 240.1Z"/>
<path fill="#2c4ac7" d="M99.1 239.5 101.7 242.1 98.8 244.6 96.1 242.3Z"/>
<path fill="#3243ba" d="M100.4 240.9 103.1 243.4 100.1 245.8 97.4 243.5Z"/>
<path fill="#353dad" d="M101.7 242.1 104.4 244.6 101.4 246.9 98.8 244.6Z"/>
<path fill="#3637a0" d="M103.1 243.4 105.7 245.7 107 246.7 104.1 248.8 102.7 247.9 100.1 245.8Z"/>
<path fill="#363093" d="M105.7 245.7 108.4 247.6 111 249.2 108 251.3 105.4 249.7 102.7 247.9Z"/>
<path fill="#352a87" d="M109.7 248.4 113.6 250.6 118.9 253.4 142.8 265.4 139.8 267.5 116 255.5 110.7 252.7 106.7 250.5Z"/>
<path fill="#352a87" d="M56.6 223.9 65.8 228.2 62.9 230.3 53.6 226Z"/>
<path fill="#363093" d="M64.5 227.6 71.1 230.5 76.4 232.6 73.5 234.7 68.2 232.7 61.5 229.7Z"/>
<path fill="#3637a0" d="M75.1 232.1 77.8 233.1 80.4 233.8 77.4 236.1 72.1 234.3Z"/>
<path fill="#353dad" d="M79.1 233.5 83 234.5 80.1 236.8 76.1 235.7Z"/>
<path fill="#3243ba" d="M81.7 234.2 87 235.4 84 238 78.8 236.5Z"/>
<path fill="#2c4ac7" d="M85.7 235.1 89.7 236.2 86.7 238.9 82.7 237.6Z"/>
<path fill="#2053d4" d="M88.3 235.8 91 236.7 93.6 237.9 95 238.7 96.3 239.7 97.6 240.9 94.6 243.6 92 241.5 90.7 240.7 88 239.4 85.4 238.4Z"/>
<path fill="#2c4ac7" d="M96.3 239.7 98.9 242.2 96 244.8 93.3 242.5Z"/>
<path fill="#3243ba" d="M97.6 240.9 101.6 244.6 98.6 247 94.6 243.6Z"/>
<path fill="#353dad" d="M100.3 243.4 102.9 245.7 99.9 248 97.3 245.9Z"/>
<path fill="#3637a0" d="M101.6 244.6 104.2 246.8 105.5 247.7 102.6 249.9 101.3 249 98.6 247Z"/>
<path fill="#363093" d="M104.2 246.8 105.5 247.7 108.2 249.4 105.2 251.6 101.3 249Z"/>
<path fill="#352a87" d="M106.9 248.6 110.8 251 116.1 253.8 141.3 266.4 138.3 268.5 113.2 255.8 107.9 253.1 103.9 250.8Z"/>
<path fill="#352a87" d="M55.1 225 64.4 229.3 61.4 231.4 52.1 227Z"/>
<path fill="#363093" d="M63 228.7 69.7 231.6 74.9 233.7 72 235.8 66.7 233.7 60.1 230.8Z"/>
<path fill="#3637a0" d="M73.6 233.2 76.3 234.1 78.9 235 75.9 237.2 70.7 235.3Z"/>
<path fill="#353dad" d="M77.6 234.6 82.9 236 79.9 238.4 74.6 236.7Z"/>
<path fill="#3243ba" d="M81.6 235.7 85.5 236.7 82.6 239.2 78.6 238Z"/>
<path fill="#2c4ac7" d="M84.2 236.4 86.9 237.1 89.5 238.1 86.5 240.7 83.9 239.7 81.2 238.8Z"/>
<path fill="#2053d4" d="M88.2 237.5 90.8 238.6 92.1 239.3 93.5 240.1 94.8 241.1 91.8 243.8 90.5 242.9 89.2 242.1 87.9 241.4 85.2 240.2Z"/>
<path fill="#2c4ac7" d="M93.5 240.1 94.8 241.1 97.4 243.5 94.5 246 91.8 243.8 90.5 242.9Z"/>
<path fill="#3243ba" d="M96.1 242.3 98.8 244.6 95.8 247.1 93.1 244.9Z"/>
<path fill="#353dad" d="M97.4 243.5 101.4 246.9 98.4 249.1 94.5 246Z"/>
<path fill="#3637a0" d="M100.1 245.8 102.7 247.9 99.8 250.1 97.1 248.1Z"/>
<path fill="#363093" d="M101.4 246.9 104.1 248.8 106.7 250.5 103.7 252.6 101.1 251 98.4 249.1Z"/>
<path fill="#352a87" d="M105.4 249.7 109.4 252 114.6 254.8 139.8 267.5 136.8 269.5 111.7 256.9 106.4 254.1 102.4 251.8Z"/>
<path fill="#352a87" d="M53.6 226 64.2 230.9 61.2 233 50.6 228.1Z"/>
<path fill="#363093" d="M62.9 230.3 68.2 232.7 73.5 234.7 70.5 236.9 65.2 234.8 59.9 232.4Z"/>
<path fill="#3637a0" d="M72.1 234.3 74.8 235.2 78.8 236.5 75.8 238.7 71.8 237.4 69.2 236.4Z"/>
<path fill="#353dad" d="M77.4 236.1 81.4 237.2 78.4 239.6 74.5 238.3Z"/>
<path fill="#3243ba" d="M80.1 236.8 85.4 238.4 82.4 240.9 77.1 239.1Z"/>
<path fill="#2c4ac7" d="M84 238 86.7 238.9 88 239.4 90.7 240.7 92 241.5 94.6 243.6 91.7 246.2 89 244.2 87.7 243.4 85 242 81.1 240.5Z"/>
<path fill="#3243ba" d="M93.3 242.5 97.3 245.9 94.3 248.3 90.3 245.1Z"/>
<path fill="#353dad" d="M96 244.8 98.6 247 95.6 249.3 93 247.2Z"/>
<path fill="#3637a0" d="M97.3 245.9 101.3 249 98.3 251.2 94.3 248.3Z"/>
<path fill="#363093" d="M99.9 248 102.6 249.9 105.2 251.6 102.3 253.7 99.6 252.1 97 250.3Z"/>
<path fill="#352a87" d="M103.9 250.8 107.9 253.1 113.2 255.8 138.3 268.5 135.3 270.5 110.2 257.9 104.9 255.1 100.9 252.9Z"/>
<path fill="#352a87" d="M52.1 227 62.7 232 59.7 234.1 49.2 229.1Z"/>
<path fill="#363093" d="M61.4 231.4 66.7 233.7 72 235.8 69 238 63.7 235.8 58.4 233.5Z"/>
<path fill="#3637a0" d="M70.7 235.3 73.3 236.3 77.3 237.6 74.3 239.8 67.7 237.4Z"/>
<path fill="#353dad" d="M75.9 237.2 81.2 238.8 78.3 241.2 73 239.4Z"/>
<path fill="#3243ba" d="M79.9 238.4 82.6 239.2 85.2 240.2 82.2 242.7 79.6 241.7 76.9 240.7Z"/>
<path fill="#2c4ac7" d="M83.9 239.7 86.5 240.7 87.9 241.4 89.2 242.1 90.5 242.9 91.8 243.8 88.9 246.4 87.5 245.5 84.9 244 80.9 242.2Z"/>
<path fill="#3243ba" d="M90.5 242.9 91.8 243.8 94.5 246 91.5 248.5 87.5 245.5Z"/>
<path fill="#353dad" d="M93.1 244.9 97.1 248.1 94.1 250.4 90.2 247.4Z"/>
<path fill="#3637a0" d="M95.8 247.1 99.8 250.1 96.8 252.3 92.8 249.4Z"/>
<path fill="#363093" d="M98.4 249.1 101.1 251 103.7 252.6 100.8 254.7 98.1 253.1 95.5 251.4Z"/>
<path fill="#352a87" d="M102.4 251.8 106.4 254.1 111.7 256.9 136.8 269.5 133.9 271.6 108.7 258.9 103.4 256.2 99.4 253.9Z"/>
<path fill="#352a87" d="M50.6 228.1 62.5 233.6 59.6 235.7 47.7 230.2Z"/>
<path fill="#363093" d="M61.2 233 66.5 235.3 71.8 237.4 68.8 239.5 63.5 237.4 58.3 235.1Z"/>
<path fill="#3637a0" d="M70.5 236.9 75.8 238.7 72.8 241 67.5 239Z"/>
<path fill="#353dad" d="M74.5 238.3 81.1 240.5 78.1 242.9 71.5 240.5Z"/>
<path fill="#3243ba" d="M79.8 240 83.7 241.5 86.4 242.7 89 244.2 91.7 246.2 88.7 248.7 86 246.8 83.4 245.3 80.8 244 76.8 242.4Z"/>
<path fill="#353dad" d="M90.3 245.1 94.3 248.3 91.3 250.6 87.4 247.7Z"/>
<path fill="#3637a0" d="M93 247.2 97 250.3 94 252.5 90 249.7Z"/>
<path fill="#363093" d="M95.6 249.3 98.3 251.2 100.9 252.9 98 255 95.3 253.4 92.7 251.6Z"/>
<path fill="#352a87" d="M99.6 252.1 103.6 254.4 108.9 257.2 135.3 270.5 132.4 272.6 105.9 259.3 100.6 256.5 96.6 254.2Z"/>
<path fill="#352a87" d="M49.2 229.1 61.1 234.7 58.1 236.8 46.2 231.2Z"/>
<path fill="#363093" d="M59.7 234.1 65 236.4 70.3 238.5 67.4 240.6 62.1 238.5 56.8 236.2Z"/>
<path fill="#3637a0" d="M69 238 75.6 240.3 72.7 242.6 66 240.1Z"/>
<path fill="#353dad" d="M74.3 239.8 80.9 242.2 77.9 244.6 71.3 242.1Z"/>
<path fill="#3243ba" d="M79.6 241.7 83.6 243.3 86.2 244.7 87.5 245.5 90.2 247.4 87.2 249.9 84.6 248 83.2 247.2 80.6 245.8 76.6 244.1Z"/>
<path fill="#353dad" d="M88.9 246.4 92.8 249.4 89.9 251.8 85.9 248.9Z"/>
<path fill="#3637a0" d="M91.5 248.5 95.5 251.4 92.5 253.6 88.5 250.8Z"/>
<path fill="#363093" d="M94.1 250.4 96.8 252.3 99.4 253.9 96.5 256.1 93.8 254.4 91.2 252.7Z"/>
<path fill="#352a87" d="M98.1 253.1 102.1 255.5 107.4 258.3 133.9 271.6 130.9 273.6 104.4 260.3 99.1 257.5 95.1 255.3Z"/>
<path fill="#352a87" d="M47.7 230.2 59.6 235.7 56.6 237.8 44.7 232.2Z"/>
<path fill="#363093" d="M58.3 235.1 63.5 237.4 68.8 239.5 65.9 241.7 60.6 239.5 55.3 237.2Z"/>
<path fill="#3637a0" d="M67.5 239 74.1 241.4 71.2 243.7 64.5 241.2Z"/>
<path fill="#353dad" d="M72.8 241 78.1 242.9 80.8 244 77.8 246.4 73.8 244.8 69.8 243.2Z"/>
<path fill="#3243ba" d="M79.4 243.4 83.4 245.3 86 246.8 83.1 249.3 80.4 247.8 76.5 245.9Z"/>
<path fill="#353dad" d="M84.7 246 87.4 247.7 90 249.7 87 252 84.4 250.2 81.8 248.5Z"/>
<path fill="#3637a0" d="M88.7 248.7 94 252.5 91 254.7 85.7 251.1Z"/>
<path fill="#363093" d="M92.7 251.6 95.3 253.4 98 255 95 257.1 92.3 255.5 89.7 253.8Z"/>
<path fill="#352a87" d="M96.6 254.2 100.6 256.5 105.9 259.3 132.4 272.6 129.4 274.6 102.9 261.4 97.6 258.6 93.7 256.3Z"/>
<path fill="#352a87" d="M46.2 231.2 54.1 234.9 59.4 237.3 56.4 239.4 51.2 237 43.2 233.3Z"/>
<path fill="#363093" d="M58.1 236.8 63.4 239 68.7 241.1 65.7 243.3 60.4 241.2 55.1 238.8Z"/>
<path fill="#3637a0" d="M67.4 240.6 74 243.1 71 245.4 64.4 242.8Z"/>
<path fill="#353dad" d="M72.7 242.6 77.9 244.6 81.9 246.5 84.6 248 88.5 250.8 85.6 253.2 81.6 250.5 78.9 249 75 247 69.7 244.9Z"/>
<path fill="#3637a0" d="M87.2 249.9 91.2 252.7 88.2 254.9 84.2 252.3Z"/>
<path fill="#363093" d="M89.9 251.8 92.5 253.6 95.1 255.3 92.2 257.4 86.9 254.1Z"/>
<path fill="#352a87" d="M93.8 254.4 97.8 256.8 103.1 259.7 130.9 273.6 127.9 275.7 100.1 261.7 94.8 258.9 90.9 256.6Z"/>
<path fill="#352a87" d="M44.7 232.2 52.6 236 57.9 238.4 55 240.5 41.7 234.3Z"/>
<path fill="#363093" d="M56.6 237.8 61.9 240.1 67.2 242.2 64.2 244.4 58.9 242.2 53.6 239.9Z"/>
<path fill="#3637a0" d="M65.9 241.7 73.8 244.8 70.8 247.1 62.9 243.9Z"/>
<path fill="#353dad" d="M72.5 244.2 76.5 245.9 80.4 247.8 83.1 249.3 85.7 251.1 82.8 253.4 80.1 251.7 77.5 250.2 73.5 248.2 69.5 246.5Z"/>
<path fill="#3637a0" d="M84.4 250.2 89.7 253.8 86.7 256 81.4 252.5Z"/>
<path fill="#363093" d="M88.4 252.9 93.7 256.3 90.7 258.5 85.4 255.2Z"/>
<path fill="#352a87" d="M92.3 255.5 96.3 257.9 101.6 260.7 129.4 274.6 126.4 276.7 98.6 262.8 93.3 260 89.4 257.7Z"/>
<path fill="#352a87" d="M43.2 233.3 51.2 237 56.4 239.4 53.5 241.5 40.2 235.3Z"/>
<path fill="#363093" d="M55.1 238.8 60.4 241.2 67 243.8 64.1 246 57.4 243.3 52.2 240.9Z"/>
<path fill="#3637a0" d="M65.7 243.3 73.6 246.5 70.7 248.8 62.7 245.5Z"/>
<path fill="#353dad" d="M72.3 245.9 76.3 247.7 78.9 249 80.3 249.7 82.9 251.4 79.9 253.7 76 251.4 73.3 250 69.4 248.2Z"/>
<path fill="#3637a0" d="M81.6 250.5 86.9 254.1 83.9 256.3 78.6 252.9Z"/>
<path fill="#363093" d="M85.6 253.2 89.5 255.8 92.2 257.4 89.2 259.5 82.6 255.5Z"/>
<path fill="#352a87" d="M90.9 256.6 94.8 258.9 100.1 261.7 127.9 275.7 124.9 277.7 97.1 263.8 91.9 261 87.9 258.7Z"/>
<path fill="#352a87" d="M41.7 234.3 49.7 238.1 56.3 241.1 53.3 243.2 46.7 240.1 38.8 236.4Z"/>
<path fill="#363093" d="M55 240.5 60.3 242.8 65.5 244.9 62.6 247.1 52 242.6Z"/>
<path fill="#3637a0" d="M64.2 244.4 70.8 247.1 74.8 248.8 71.8 251.2 67.9 249.4 61.3 246.6Z"/>
<path fill="#353dad" d="M73.5 248.2 76.1 249.5 78.8 250.9 75.8 253.3 73.2 251.9 70.5 250.6Z"/>
<path fill="#3637a0" d="M77.5 250.2 80.1 251.7 85.4 255.2 82.4 257.4 77.1 254.1 74.5 252.6Z"/>
<path fill="#363093" d="M84.1 254.3 89.4 257.7 86.4 259.8 81.1 256.6Z"/>
<path fill="#352a87" d="M88 256.9 92 259.2 97.3 262.1 126.4 276.7 123.5 278.7 95.7 264.8 90.4 262 85.1 259Z"/>
<path fill="#352a87" d="M40.2 235.3 48.2 239.1 54.8 242.1 51.8 244.2 45.2 241.2 37.3 237.4Z"/>
<path fill="#363093" d="M53.5 241.5 58.8 243.8 65.4 246.6 62.4 248.8 50.5 243.6Z"/>
<path fill="#3637a0" d="M64.1 246 70.7 248.8 74.6 250.7 78.6 252.9 82.6 255.5 79.6 257.7 75.6 255.2 71.7 253 67.7 251.1 61.1 248.2Z"/>
<path fill="#363093" d="M81.3 254.6 87.9 258.7 84.9 260.9 78.3 256.9Z"/>
<path fill="#352a87" d="M86.6 257.9 91.9 261 97.1 263.8 124.9 277.7 122 279.8 94.2 265.9 88.9 263.1 83.6 260.1Z"/>
<path fill="#352a87" d="M38.8 236.4 48 240.8 54.6 243.7 51.7 245.9 45 242.8 35.8 238.4Z"/>
<path fill="#363093" d="M53.3 243.2 63.9 247.7 60.9 249.9 50.3 245.3Z"/>
<path fill="#3637a0" d="M62.6 247.1 69.2 250 73.2 251.9 75.8 253.3 79.8 255.7 76.8 258 72.8 255.6 68.9 253.5 64.9 251.6 59.6 249.3Z"/>
<path fill="#363093" d="M78.5 254.9 81.1 256.6 86.4 259.8 83.4 261.9 78.1 258.8 75.5 257.2Z"/>
<path fill="#352a87" d="M85.1 259 90.4 262 95.7 264.8 123.5 278.7 120.5 280.8 92.7 266.9 87.4 264.1 82.1 261.2Z"/>
<path fill="#352a87" d="M37.3 237.4 46.5 241.8 53.1 244.8 50.2 246.9 43.6 243.9 34.3 239.5Z"/>
<path fill="#363093" d="M51.8 244.2 63.7 249.3 60.8 251.6 48.9 246.3Z"/>
<path fill="#3637a0" d="M62.4 248.8 67.7 251.1 71.7 253 74.3 254.4 78.3 256.9 75.3 259.1 71.4 256.7 68.7 255.3 64.7 253.4 59.4 251Z"/>
<path fill="#363093" d="M77 256 83.6 260.1 80.6 262.2 74 258.3Z"/>
<path fill="#352a87" d="M82.3 259.3 87.6 262.4 92.9 265.2 122 279.8 119 281.8 89.9 267.2 84.6 264.4 79.3 261.5Z"/>
<path fill="#352a87" d="M35.8 238.4 45 242.8 51.7 245.9 48.7 248 42.1 244.9 32.8 240.5Z"/>
<path fill="#363093" d="M50.3 245.3 63.6 251 60.6 253.3 47.4 247.4Z"/>
<path fill="#3637a0" d="M62.3 250.5 66.2 252.2 70.2 254.2 72.8 255.6 75.5 257.2 72.5 259.4 69.9 257.9 67.2 256.5 63.3 254.5 59.3 252.7Z"/>
<path fill="#363093" d="M74.2 256.4 82.1 261.2 79.1 263.3 71.2 258.6Z"/>
<path fill="#352a87" d="M80.8 260.4 86.1 263.4 91.4 266.2 120.5 280.8 117.5 282.8 88.4 268.3 83.1 265.5 77.8 262.5Z"/>
<path fill="#352a87" d="M34.3 239.5 43.6 243.9 51.5 247.5 48.5 249.6 40.6 246 31.3 241.5Z"/>
<path fill="#363093" d="M50.2 246.9 64.7 253.4 61.8 255.6 47.2 249Z"/>
<path fill="#3637a0" d="M63.4 252.7 68.7 255.3 72.7 257.5 69.7 259.8 65.7 257.6 60.4 255Z"/>
<path fill="#363093" d="M71.4 256.7 79.3 261.5 76.3 263.6 68.4 259Z"/>
<path fill="#352a87" d="M78 260.7 83.3 263.7 89.9 267.2 119 281.8 116 283.9 86.9 269.3 80.3 265.8 75 262.9Z"/>
<path fill="#352a87" d="M32.8 240.5 42.1 244.9 50 248.5 47 250.7 39.1 247 29.8 242.6Z"/>
<path fill="#363093" d="M48.7 248 60.6 253.3 65.9 255.8 69.9 257.9 77.8 262.5 74.8 264.7 66.9 260.1 62.9 258 57.6 255.5 45.7 250.1Z"/>
<path fill="#352a87" d="M76.5 261.8 81.8 264.8 88.4 268.3 117.5 282.8 114.5 284.9 85.4 270.3 78.8 266.9 73.5 263.9Z"/>
<path fill="#352a87" d="M31.3 241.5 40.6 246 49.9 250.2 46.9 252.3 37.6 248 28.4 243.6Z"/>
<path fill="#363093" d="M48.5 249.6 59.1 254.4 64.4 256.9 68.4 259 75 262.9 72 265 65.4 261.2 61.4 259.1 56.1 256.5 45.6 251.7Z"/>
<path fill="#352a87" d="M73.7 262.1 80.3 265.8 86.9 269.3 116 283.9 113.1 285.9 83.9 271.4 77.3 267.9 70.7 264.3Z"/>
<path fill="#352a87" d="M29.8 242.6 39.1 247 48.4 251.3 45.4 253.4 36.1 249.1 26.9 244.6Z"/>
<path fill="#363093" d="M47 250.7 56.3 254.8 61.6 257.4 66.9 260.1 72.2 263.2 69.2 265.3 63.9 262.3 58.6 259.6 53.3 257 44.1 252.8Z"/>
<path fill="#352a87" d="M70.9 262.4 77.5 266.1 84.1 269.6 114.5 284.9 111.6 286.9 81.1 271.7 74.5 268.2 67.9 264.6Z"/>
<path fill="#352a87" d="M28.4 243.6 38.9 248.7 48.2 252.9 45.2 255 36 250.7 25.4 245.7Z"/>
<path fill="#363093" d="M46.9 252.3 56.1 256.5 61.4 259.1 65.4 261.2 70.7 264.3 67.7 266.4 62.4 263.4 57.1 260.7 51.9 258.1 43.9 254.4Z"/>
<path fill="#352a87" d="M69.4 263.5 76 267.2 82.6 270.7 113.1 285.9 110.1 288 79.6 272.7 73 269.3 66.4 265.7Z"/>
<path fill="#352a87" d="M26.9 244.6 37.5 249.7 46.7 254 43.8 256.1 33.2 251.1 23.9 246.7Z"/>
<path fill="#363093" d="M45.4 253.4 53.3 257 58.6 259.6 62.6 261.6 67.9 264.6 64.9 266.7 59.6 263.8 55.7 261.7 50.4 259.2 42.4 255.5Z"/>
<path fill="#352a87" d="M66.6 263.8 73.2 267.5 81.1 271.7 111.6 286.9 108.6 289 78.2 273.8 70.2 269.6 63.6 266Z"/>
<path fill="#352a87" d="M25.4 245.7 36 250.7 46.6 255.6 45.1 256.7 34.5 251.8 23.9 246.7Z"/>
<path fill="#363093" d="M45.2 255 51.9 258.1 57.1 260.7 61.1 262.7 66.4 265.7 64.9 266.7 59.6 263.8 55.7 261.7 50.4 259.2 43.8 256.1Z"/>
<path fill="#352a87" d="M65.1 264.9 71.7 268.6 79.6 272.7 110.1 288 108.6 289 78.2 273.8 70.2 269.6 63.6 266Z"/>
<line x1="23.9" y1="246.9" x2="23.9" y2="192.3" stroke="#3a3a3a" stroke-width="0.45"/>
<line x1="23.9" y1="246.9" x2="108.6" y2="289" stroke="#3a3a3a" stroke-width="0.45"/>
<line x1="108.6" y1="289" x2="179.9" y2="239.9" stroke="#3a3a3a" stroke-width="0.45"/>
<line x1="23.9" y1="246.9" x2="22.1" y2="248.1" stroke="#3a3a3a" stroke-width="0.45"/>
<line x1="45.1" y1="257.4" x2="43.3" y2="258.7" stroke="#3a3a3a" stroke-width="0.45"/>
<line x1="66.2" y1="267.9" x2="64.4" y2="269.2" stroke="#3a3a3a" stroke-width="0.45"/>
<line x1="87.4" y1="278.5" x2="85.6" y2="279.7" stroke="#3a3a3a" stroke-width="0.45"/>
<line x1="108.6" y1="289" x2="106.8" y2="290.2" stroke="#3a3a3a" stroke-width="0.45"/>
<line x1="108.6" y1="289" x2="110.6" y2="290" stroke="#3a3a3a" stroke-width="0.45"/>
<line x1="132.4" y1="272.6" x2="134.3" y2="273.6" stroke="#3a3a3a" stroke-width="0.45"/>
<line x1="156.1" y1="256.3" x2="158.1" y2="257.2" stroke="#3a3a3a" stroke-width="0.45"/>
<line x1="179.9" y1="239.9" x2="181.9" y2="240.9" stroke="#3a3a3a" stroke-width="0.45"/>
<line x1="23.9" y1="246.9" x2="22.1" y2="246.9" stroke="#3a3a3a" stroke-width="0.45"/>
<line x1="23.9" y1="233.2" x2="22.1" y2="233.2" stroke="#3a3a3a" stroke-width="0.45"/>
<line x1="23.9" y1="219.6" x2="22.1" y2="219.6" stroke="#3a3a3a" stroke-width="0.45"/>
<line x1="23.9" y1="205.9" x2="22.1" y2="205.9" stroke="#3a3a3a" stroke-width="0.45"/>
<line x1="23.9" y1="192.3" x2="22.1" y2="192.3" stroke="#3a3a3a" stroke-width="0.45"/>
<text x="20" y="248.4" font-size="6.0" text-anchor="end" fill="#1c1c1c" stroke="#1c1c1c" stroke-width="0.13">0</text>
<text x="20" y="234.8" font-size="6.0" text-anchor="end" fill="#1c1c1c" stroke="#1c1c1c" stroke-width="0.13">50</text>
<text x="20" y="221.1" font-size="6.0" text-anchor="end" fill="#1c1c1c" stroke="#1c1c1c" stroke-width="0.13">100</text>
<text x="20" y="207.4" font-size="6.0" text-anchor="end" fill="#1c1c1c" stroke="#1c1c1c" stroke-width="0.13">150</text>
<text x="20" y="193.8" font-size="6.0" text-anchor="end" fill="#1c1c1c" stroke="#1c1c1c" stroke-width="0.13">200</text>
<text x="19.9" y="255.8" font-size="6.0" text-anchor="end" fill="#1c1c1c" stroke="#1c1c1c" stroke-width="0.13">4</text>
<text x="41.1" y="266.3" font-size="6.0" text-anchor="end" fill="#1c1c1c" stroke="#1c1c1c" stroke-width="0.13">2</text>
<text x="62.2" y="276.8" font-size="6.0" text-anchor="end" fill="#1c1c1c" stroke="#1c1c1c" stroke-width="0.13">0</text>
<text x="83.4" y="287.4" font-size="6.0" text-anchor="end" fill="#1c1c1c" stroke="#1c1c1c" stroke-width="0.13">-2</text>
<text x="104.6" y="297.9" font-size="6.0" text-anchor="end" fill="#1c1c1c" stroke="#1c1c1c" stroke-width="0.13">-4</text>
<text x="112.2" y="297" font-size="6.0" text-anchor="start" fill="#1c1c1c" stroke="#1c1c1c" stroke-width="0.13">0.2</text>
<text x="136" y="280.6" font-size="6.0" text-anchor="start" fill="#1c1c1c" stroke="#1c1c1c" stroke-width="0.13">0.4</text>
<text x="159.7" y="264.3" font-size="6.0" text-anchor="start" fill="#1c1c1c" stroke="#1c1c1c" stroke-width="0.13">0.6</text>
<text x="183.5" y="247.9" font-size="6.0" text-anchor="start" fill="#1c1c1c" stroke="#1c1c1c" stroke-width="0.13">0.8</text>
<text x="43.6" y="295.7" font-size="6.3" text-anchor="middle" fill="#1c1c1c" stroke="#1c1c1c" stroke-width="0.13">TMI Frequency (kHz)</text>
<text x="170" y="293.5" font-size="6.3" text-anchor="middle" fill="#1c1c1c" stroke="#1c1c1c" stroke-width="0.13">Signal Power (kW)</text>
<text x="0" y="0" font-size="6.3" text-anchor="middle" fill="#1c1c1c" stroke="#1c1c1c" stroke-width="0.13" transform="translate(7.9 219.5) rotate(-90)">Local TMI Gain</text>
<defs><linearGradient id="cb3" x1="0" y1="1" x2="0" y2="0"><stop offset="0.008" stop-color="#352a87"/><stop offset="0.055" stop-color="#353dad"/><stop offset="0.102" stop-color="#2053d4"/><stop offset="0.148" stop-color="#0268e1"/><stop offset="0.195" stop-color="#0d75dc"/><stop offset="0.242" stop-color="#1481d6"/><stop offset="0.289" stop-color="#108ed2"/><stop offset="0.336" stop-color="#079ccf"/><stop offset="0.383" stop-color="#06a7c6"/><stop offset="0.430" stop-color="#0faeb9"/><stop offset="0.477" stop-color="#25b5a9"/><stop offset="0.523" stop-color="#42bb98"/><stop offset="0.570" stop-color="#65be86"/><stop offset="0.617" stop-color="#87bf77"/><stop offset="0.664" stop-color="#a5be6b"/><stop offset="0.711" stop-color="#c0bc60"/><stop offset="0.758" stop-color="#d9ba56"/><stop offset="0.805" stop-color="#f1b94a"/><stop offset="0.852" stop-color="#ffc337"/><stop offset="0.898" stop-color="#fad32a"/><stop offset="0.945" stop-color="#f5e41d"/><stop offset="0.992" stop-color="#f9fb0e"/><stop offset="0.992" stop-color="#f9fb0e"/></linearGradient></defs>
<rect x="196.9" y="143.40" width="11.8" height="147.20" fill="url(#cb3)" stroke="#3a3a3a" stroke-width="0.45"/>
<line x1="208.7" y1="272.6" x2="207.1" y2="272.6" stroke="#3a3a3a" stroke-width="0.45"/>
<text x="211" y="274.4" font-size="5.1" text-anchor="start" fill="#1c1c1c" stroke="#1c1c1c" stroke-width="0.13">20</text>
<line x1="208.7" y1="254.5" x2="207.1" y2="254.5" stroke="#3a3a3a" stroke-width="0.45"/>
<text x="211" y="256.3" font-size="5.1" text-anchor="start" fill="#1c1c1c" stroke="#1c1c1c" stroke-width="0.13">40</text>
<line x1="208.7" y1="236.5" x2="207.1" y2="236.5" stroke="#3a3a3a" stroke-width="0.45"/>
<text x="211" y="238.3" font-size="5.1" text-anchor="start" fill="#1c1c1c" stroke="#1c1c1c" stroke-width="0.13">60</text>
<line x1="208.7" y1="218.4" x2="207.1" y2="218.4" stroke="#3a3a3a" stroke-width="0.45"/>
<text x="211" y="220.2" font-size="5.1" text-anchor="start" fill="#1c1c1c" stroke="#1c1c1c" stroke-width="0.13">80</text>
<line x1="208.7" y1="200.4" x2="207.1" y2="200.4" stroke="#3a3a3a" stroke-width="0.45"/>
<text x="211" y="202.2" font-size="5.1" text-anchor="start" fill="#1c1c1c" stroke="#1c1c1c" stroke-width="0.13">100</text>
<line x1="208.7" y1="182.4" x2="207.1" y2="182.4" stroke="#3a3a3a" stroke-width="0.45"/>
<text x="211" y="184.2" font-size="5.1" text-anchor="start" fill="#1c1c1c" stroke="#1c1c1c" stroke-width="0.13">120</text>
<line x1="208.7" y1="164.3" x2="207.1" y2="164.3" stroke="#3a3a3a" stroke-width="0.45"/>
<text x="211" y="166.1" font-size="5.1" text-anchor="start" fill="#1c1c1c" stroke="#1c1c1c" stroke-width="0.13">140</text>
<line x1="208.7" y1="146.3" x2="207.1" y2="146.3" stroke="#3a3a3a" stroke-width="0.45"/>
<text x="211" y="148.1" font-size="5.1" text-anchor="start" fill="#1c1c1c" stroke="#1c1c1c" stroke-width="0.13">160</text>
<text x="17.9" y="148.2" font-size="7.8" font-weight="bold" fill="#1a1a1a">(c)</text>
<text x="80.7" y="141.4" font-size="8.1" fill="#1a1a1a" stroke="#1a1a1a" stroke-width="0.15">&#952;<tspan font-size="5.5" dy="2.2">0</tspan><tspan dy="-2.2"> = -0.3 &#960;</tspan></text>
<line x1="249.6" y1="135.4" x2="444.4" y2="135.4" stroke="#3a3a3a" stroke-width="0.45"/>
<line x1="249.6" y1="135.4" x2="249.6" y2="260" stroke="#3a3a3a" stroke-width="0.45"/>
<line x1="444.4" y1="135.4" x2="444.4" y2="260" stroke="#3a3a3a" stroke-width="0.45"/>
<line x1="273.9" y1="135.4" x2="273.9" y2="137.4" stroke="#3a3a3a" stroke-width="0.45"/>
<line x1="298.3" y1="135.4" x2="298.3" y2="137.4" stroke="#3a3a3a" stroke-width="0.45"/>
<line x1="322.6" y1="135.4" x2="322.6" y2="137.4" stroke="#3a3a3a" stroke-width="0.45"/>
<line x1="347" y1="135.4" x2="347" y2="137.4" stroke="#3a3a3a" stroke-width="0.45"/>
<line x1="371.3" y1="135.4" x2="371.3" y2="137.4" stroke="#3a3a3a" stroke-width="0.45"/>
<line x1="395.7" y1="135.4" x2="395.7" y2="137.4" stroke="#3a3a3a" stroke-width="0.45"/>
<line x1="420" y1="135.4" x2="420" y2="137.4" stroke="#3a3a3a" stroke-width="0.45"/>
<line x1="249.6" y1="135.4" x2="251.6" y2="135.4" stroke="#3a3a3a" stroke-width="0.45"/>
<line x1="444.4" y1="135.4" x2="442.4" y2="135.4" stroke="#3a3a3a" stroke-width="0.45"/>
<text x="247" y="137.4" font-size="5.6" text-anchor="end" fill="#1c1c1c" stroke="#1c1c1c" stroke-width="0.13">180</text>
<line x1="249.6" y1="152.6" x2="251.6" y2="152.6" stroke="#3a3a3a" stroke-width="0.45"/>
<line x1="444.4" y1="152.6" x2="442.4" y2="152.6" stroke="#3a3a3a" stroke-width="0.45"/>
<text x="247" y="154.6" font-size="5.6" text-anchor="end" fill="#1c1c1c" stroke="#1c1c1c" stroke-width="0.13">160</text>
<line x1="249.6" y1="169.8" x2="251.6" y2="169.8" stroke="#3a3a3a" stroke-width="0.45"/>
<line x1="444.4" y1="169.8" x2="442.4" y2="169.8" stroke="#3a3a3a" stroke-width="0.45"/>
<text x="247" y="171.8" font-size="5.6" text-anchor="end" fill="#1c1c1c" stroke="#1c1c1c" stroke-width="0.13">140</text>
<line x1="249.6" y1="187" x2="251.6" y2="187" stroke="#3a3a3a" stroke-width="0.45"/>
<line x1="444.4" y1="187" x2="442.4" y2="187" stroke="#3a3a3a" stroke-width="0.45"/>
<text x="247" y="189" font-size="5.6" text-anchor="end" fill="#1c1c1c" stroke="#1c1c1c" stroke-width="0.13">120</text>
<line x1="249.6" y1="204.2" x2="251.6" y2="204.2" stroke="#3a3a3a" stroke-width="0.45"/>
<line x1="444.4" y1="204.2" x2="442.4" y2="204.2" stroke="#3a3a3a" stroke-width="0.45"/>
<text x="247" y="206.2" font-size="5.6" text-anchor="end" fill="#1c1c1c" stroke="#1c1c1c" stroke-width="0.13">100</text>
<line x1="249.6" y1="221.4" x2="251.6" y2="221.4" stroke="#3a3a3a" stroke-width="0.45"/>
<line x1="444.4" y1="221.4" x2="442.4" y2="221.4" stroke="#3a3a3a" stroke-width="0.45"/>
<text x="247" y="223.4" font-size="5.6" text-anchor="end" fill="#1c1c1c" stroke="#1c1c1c" stroke-width="0.13">80</text>
<line x1="249.6" y1="238.6" x2="251.6" y2="238.6" stroke="#3a3a3a" stroke-width="0.45"/>
<line x1="444.4" y1="238.6" x2="442.4" y2="238.6" stroke="#3a3a3a" stroke-width="0.45"/>
<text x="247" y="240.6" font-size="5.6" text-anchor="end" fill="#1c1c1c" stroke="#1c1c1c" stroke-width="0.13">60</text>
<line x1="249.6" y1="255.8" x2="251.6" y2="255.8" stroke="#3a3a3a" stroke-width="0.45"/>
<line x1="444.4" y1="255.8" x2="442.4" y2="255.8" stroke="#3a3a3a" stroke-width="0.45"/>
<text x="247" y="257.8" font-size="5.6" text-anchor="end" fill="#1c1c1c" stroke="#1c1c1c" stroke-width="0.13">40</text>
<text x="0" y="0" font-size="6.45" text-anchor="middle" fill="#1c1c1c" stroke="#1c1c1c" stroke-width="0.13" transform="translate(233.4 212) rotate(-90)">TMI Gain</text>
<path d="M249.6 290.2 250.1 290.2 250.6 290.2 251.1 290.2 251.6 290.2 252.1 290.2 252.6 290.2 253.1 290.2 253.6 290.2 254.1 290.2 254.6 290.2 255.1 290.2 255.6 290.2 256.1 290.2 256.6 290.2 257.1 290.2 257.6 290.2 258.1 290.2 258.6 290.2 259.1 290.2 259.6 290.2 260.1 290.2 260.6 290.2 261.1 290.2 261.6 290.2 262.1 290.2 262.6 290.2 263.1 290.2 263.6 290.2 264.1 290.2 264.6 290.2 265.1 290.2 265.6 290.2 266.1 290.2 266.6 290.2 267.1 290.2 267.6 290.2 268.1 290.2 268.6 290.2 269.1 290.2 269.6 290.2 270.1 290.2 270.6 290.2 271.1 290.2 271.6 290.2 272.1 290.2 272.6 290.2 273.1 290.2 273.6 290.2 274.1 290.2 274.6 290.2 275.1 290.2 275.6 290.2 276.1 290.2 276.6 290.2 277.1 290.2 277.6 290.2 278.1 290.2 278.6 290.2 279.1 290.2 279.6 290.2 280.1 290.2 280.6 290.2 281.1 290.2 281.6 290.2 282.1 290.2 282.6 290.2 283.1 290.2 283.6 290.2 284.1 290.2 284.6 290.2 285.1 290.2 285.6 290.2 286.1 290.2 286.6 290.2 287.1 290.2 287.6 290.2 288.1 290.2 288.6 290.2 289.1 290.2 289.6 290.2 290.1 290.2 290.6 290.2 291.1 290.2 291.6 290.2 292.1 290.2 292.6 290.2 293.1 290.2 293.6 290.2 294.1 290.2 294.6 290.2 295.1 290.2 295.6 290.2 296.1 290.2 296.6 290.2 297.1 290.2 297.6 290.2 298.1 290.2 298.6 290.2 299.1 290.2 299.6 290.2 300.1 290.2 300.6 290.2 301.1 290.2 301.6 290.2 302.1 290.2 302.6 290.2 303.1 290.2 303.6 290.2 304.1 290.2 304.6 290.2 305.1 290.2 305.6 290.2 306.1 290.1 306.6 290.1 307.1 290.1 307.6 290.1 308.1 290.1 308.6 290.1 309.1 290.1 309.6 290 310.1 290 310.6 290 311.1 290 311.6 289.9 312.1 289.9 312.6 289.8 313.1 289.8 313.6 289.7 314.1 289.6 314.6 289.6 315.1 289.5 315.6 289.4 316.1 289.3 316.6 289.1 317.1 289 317.6 288.8 318.1 288.6 318.6 288.4 319.1 288.2 319.6 288 320.1 287.7 320.6 287.4 321.1 287 321.6 286.6 322.1 286.2 322.6 285.7 323.1 285.2 323.6 284.7 324.1 284 324.6 283.4 325.1 282.6 325.6 281.8 326.1 280.9 326.6 280 327.1 279 327.6 277.9 328.1 276.7 328.6 275.4 329.1 274 329.6 272.5 330.1 270.9 330.6 269.2 331.1 267.4 331.6 265.5 332.1 263.5 332.6 261.3 333.1 259 333.6 256.6 334.1 254.1 334.6 251.5 335.1 248.7 335.6 245.8 336.1 242.8 336.6 239.7 337.1 236.5 337.6 233.2 338.1 229.7 338.6 226.2 339.1 222.6 339.6 218.9 340.1 215.2 340.6 211.4 341.1 207.6 341.6 203.8 342.1 199.9 342.6 196 343.1 192.2 343.6 188.4 344.1 184.7 344.6 181 345.1 177.5 345.6 174 346.1 170.7 346.6 167.6 347.1 164.6 347.6 161.9 348.1 159.3 348.6 157 349.1 155 349.6 153.2 350.1 151.8 350.6 150.6 351.1 149.9 351.6 149.5 352.1 149.7 352.6 150.3 353.1 151.3 353.6 152.6 354.1 154.2 354.6 156.2 355.1 158.4 355.6 160.8 356.1 163.5 356.6 166.4 357.1 169.5 357.6 172.7 358.1 176.1 358.6 179.6 359.1 183.2 359.6 186.9 360.1 190.7 360.6 194.5 361.1 198.4 361.6 202.2 362.1 206.1 362.6 209.9 363.1 213.7 363.6 217.5 364.1 221.2 364.6 224.8 365.1 228.3 365.6 231.8 366.1 235.2 366.6 238.4 367.1 241.6 367.6 244.6 368.1 247.6 368.6 250.4 369.1 253.1 369.6 255.6 370.1 258.1 370.6 260.4 371.1 262.6 371.6 264.7 372.1 266.7 372.6 268.5 373.1 270.3 373.6 271.9 374.1 273.4 374.6 274.8 375.1 276.2 375.6 277.4 376.1 278.5 376.6 279.6 377.1 280.6 377.6 281.5 378.1 282.3 378.6 283.1 379.1 283.8 379.6 284.4 380.1 285 380.6 285.5 381.1 286 381.6 286.5 382.1 286.9 382.6 287.2 383.1 287.5 383.6 287.8 384.1 288.1 384.6 288.3 385.1 288.6 385.6 288.8 386.1 288.9 386.6 289.1 387.1 289.2 387.6 289.3 388.1 289.4 388.6 289.5 389.1 289.6 389.6 289.7 390.1 289.8 390.6 289.8 391.1 289.9 391.6 289.9 392.1 289.9 392.6 290 393.1 290 393.6 290 394.1 290.1 394.6 290.1 395.1 290.1 395.6 290.1 396.1 290.1 396.6 290.1 397.1 290.1 397.6 290.2 398.1 290.2 398.6 290.2 399.1 290.2 399.6 290.2 400.1 290.2 400.6 290.2 401.1 290.2 401.6 290.2 402.1 290.2 402.6 290.2 403.1 290.2 403.6 290.2 404.1 290.2 404.6 290.2 405.1 290.2 405.6 290.2 406.1 290.2 406.6 290.2 407.1 290.2 407.6 290.2 408.1 290.2 408.6 290.2 409.1 290.2 409.6 290.2 410.1 290.2 410.6 290.2 411.1 290.2 411.6 290.2 412.1 290.2 412.6 290.2 413.1 290.2 413.6 290.2 414.1 290.2 414.6 290.2 415.1 290.2 415.6 290.2 416.1 290.2 416.6 290.2 417.1 290.2 417.6 290.2 418.1 290.2 418.6 290.2 419.1 290.2 419.6 290.2 420.1 290.2 420.6 290.2 421.1 290.2 421.6 290.2 422.1 290.2 422.6 290.2 423.1 290.2 423.6 290.2 424.1 290.2 424.6 290.2 425.1 290.2 425.6 290.2 426.1 290.2 426.6 290.2 427.1 290.2 427.6 290.2 428.1 290.2 428.6 290.2 429.1 290.2 429.6 290.2 430.1 290.2 430.6 290.2 431.1 290.2 431.6 290.2 432.1 290.2 432.6 290.2 433.1 290.2 433.6 290.2 434.1 290.2 434.6 290.2 435.1 290.2 435.6 290.2 436.1 290.2 436.6 290.2 437.1 290.2 437.6 290.2 438.1 290.2 438.6 290.2 439.1 290.2 439.6 290.2 440.1 290.2 440.6 290.2 441.1 290.2 441.6 290.2 442.1 290.2 442.6 290.2 443.1 290.2 443.6 290.2 444.1 290.2" fill="none" stroke="#519474" stroke-width="1.15" stroke-linejoin="round"/>
<path d="M249.6 290.2 250.1 290.2 250.6 290.2 251.1 290.2 251.6 290.2 252.1 290.2 252.6 290.2 253.1 290.2 253.6 290.2 254.1 290.2 254.6 290.2 255.1 290.2 255.6 290.2 256.1 290.2 256.6 290.2 257.1 290.2 257.6 290.2 258.1 290.2 258.6 290.2 259.1 290.2 259.6 290.2 260.1 290.2 260.6 290.2 261.1 290.2 261.6 290.2 262.1 290.2 262.6 290.2 263.1 290.2 263.6 290.2 264.1 290.2 264.6 290.2 265.1 290.2 265.6 290.2 266.1 290.2 266.6 290.2 267.1 290.2 267.6 290.2 268.1 290.2 268.6 290.2 269.1 290.2 269.6 290.2 270.1 290.2 270.6 290.2 271.1 290.2 271.6 290.2 272.1 290.2 272.6 290.2 273.1 290.2 273.6 290.2 274.1 290.2 274.6 290.2 275.1 290.2 275.6 290.2 276.1 290.2 276.6 290.2 277.1 290.2 277.6 290.2 278.1 290.2 278.6 290.2 279.1 290.2 279.6 290.2 280.1 290.2 280.6 290.2 281.1 290.2 281.6 290.2 282.1 290.2 282.6 290.2 283.1 290.2 283.6 290.2 284.1 290.2 284.6 290.2 285.1 290.2 285.6 290.2 286.1 290.2 286.6 290.2 287.1 290.2 287.6 290.2 288.1 290.2 288.6 290.2 289.1 290.2 289.6 290.2 290.1 290.2 290.6 290.2 291.1 290.2 291.6 290.2 292.1 290.2 292.6 290.2 293.1 290.2 293.6 290.2 294.1 290.2 294.6 290.2 295.1 290.2 295.6 290.2 296.1 290.2 296.6 290.2 297.1 290.2 297.6 290.2 298.1 290.2 298.6 290.2 299.1 290.2 299.6 290.2 300.1 290.2 300.6 290.2 301.1 290.2 301.6 290.2 302.1 290.2 302.6 290.2 303.1 290.2 303.6 290.2 304.1 290.2 304.6 290.2 305.1 290.1 305.6 290.1 306.1 290.1 306.6 290.1 307.1 290.1 307.6 290.1 308.1 290.1 308.6 290.1 309.1 290.1 309.6 290 310.1 290 310.6 290 311.1 290 311.6 289.9 312.1 289.9 312.6 289.9 313.1 289.8 313.6 289.8 314.1 289.7 314.6 289.7 315.1 289.6 315.6 289.5 316.1 289.4 316.6 289.3 317.1 289.2 317.6 289.1 318.1 289 318.6 288.9 319.1 288.8 319.6 288.6 320.1 288.4 320.6 288.2 321.1 288 321.6 287.8 322.1 287.6 322.6 287.3 323.1 287.1 323.6 286.8 324.1 286.4 324.6 286.1 325.1 285.7 325.6 285.3 326.1 284.9 326.6 284.4 327.1 283.9 327.6 283.4 328.1 282.8 328.6 282.2 329.1 281.6 329.6 280.9 330.1 280.2 330.6 279.4 331.1 278.7 331.6 277.8 332.1 276.9 332.6 276 333.1 275.1 333.6 274.1 334.1 273 334.6 271.9 335.1 270.8 335.6 269.6 336.1 268.4 336.6 267.1 337.1 265.8 337.6 264.5 338.1 263.2 338.6 261.8 339.1 260.4 339.6 258.9 340.1 257.5 340.6 256 341.1 254.5 341.6 253 342.1 251.5 342.6 250 343.1 248.4 343.6 247 344.1 245.5 344.6 244 345.1 242.6 345.6 241.2 346.1 239.9 346.6 238.5 347.1 237.3 347.6 236.1 348.1 235 348.6 233.9 349.1 232.9 349.6 232.1 350.1 231.3 350.6 230.6 351.1 230 351.6 229.5 352.1 229.2 352.6 228.9 353.1 228.9 353.6 229 354.1 229.3 354.6 229.7 355.1 230.2 355.6 230.8 356.1 231.6 356.6 232.4 357.1 233.3 357.6 234.3 358.1 235.4 358.6 236.6 359.1 237.8 359.6 239.1 360.1 240.4 360.6 241.8 361.1 243.2 361.6 244.6 362.1 246.1 362.6 247.6 363.1 249 363.6 250.6 364.1 252.1 364.6 253.6 365.1 255.1 365.6 256.6 366.1 258 366.6 259.5 367.1 260.9 367.6 262.3 368.1 263.7 368.6 265.1 369.1 266.4 369.6 267.6 370.1 268.9 370.6 270.1 371.1 271.2 371.6 272.4 372.1 273.4 372.6 274.5 373.1 275.4 373.6 276.4 374.1 277.3 374.6 278.2 375.1 279 375.6 279.8 376.1 280.5 376.6 281.2 377.1 281.8 377.6 282.5 378.1 283 378.6 283.6 379.1 284.1 379.6 284.6 380.1 285 380.6 285.5 381.1 285.9 381.6 286.2 382.1 286.6 382.6 286.9 383.1 287.2 383.6 287.4 384.1 287.7 384.6 287.9 385.1 288.1 385.6 288.3 386.1 288.5 386.6 288.7 387.1 288.8 387.6 288.9 388.1 289.1 388.6 289.2 389.1 289.3 389.6 289.4 390.1 289.5 390.6 289.5 391.1 289.6 391.6 289.7 392.1 289.7 392.6 289.8 393.1 289.8 393.6 289.9 394.1 289.9 394.6 289.9 395.1 290 395.6 290 396.1 290 396.6 290 397.1 290.1 397.6 290.1 398.1 290.1 398.6 290.1 399.1 290.1 399.6 290.1 400.1 290.1 400.6 290.1 401.1 290.2 401.6 290.2 402.1 290.2 402.6 290.2 403.1 290.2 403.6 290.2 404.1 290.2 404.6 290.2 405.1 290.2 405.6 290.2 406.1 290.2 406.6 290.2 407.1 290.2 407.6 290.2 408.1 290.2 408.6 290.2 409.1 290.2 409.6 290.2 410.1 290.2 410.6 290.2 411.1 290.2 411.6 290.2 412.1 290.2 412.6 290.2 413.1 290.2 413.6 290.2 414.1 290.2 414.6 290.2 415.1 290.2 415.6 290.2 416.1 290.2 416.6 290.2 417.1 290.2 417.6 290.2 418.1 290.2 418.6 290.2 419.1 290.2 419.6 290.2 420.1 290.2 420.6 290.2 421.1 290.2 421.6 290.2 422.1 290.2 422.6 290.2 423.1 290.2 423.6 290.2 424.1 290.2 424.6 290.2 425.1 290.2 425.6 290.2 426.1 290.2 426.6 290.2 427.1 290.2 427.6 290.2 428.1 290.2 428.6 290.2 429.1 290.2 429.6 290.2 430.1 290.2 430.6 290.2 431.1 290.2 431.6 290.2 432.1 290.2 432.6 290.2 433.1 290.2 433.6 290.2 434.1 290.2 434.6 290.2 435.1 290.2 435.6 290.2 436.1 290.2 436.6 290.2 437.1 290.2 437.6 290.2 438.1 290.2 438.6 290.2 439.1 290.2 439.6 290.2 440.1 290.2 440.6 290.2 441.1 290.2 441.6 290.2 442.1 290.2 442.6 290.2 443.1 290.2 443.6 290.2 444.1 290.2" fill="none" stroke="#3184cc" stroke-width="1.15" stroke-linejoin="round"/>
<text x="339.7" y="151" font-size="5.7" text-anchor="middle" fill="#519474" stroke="#519474" stroke-width="0.13">-0.3 &#960;</text>
<text x="317.8" y="225.4" font-size="5.85" text-anchor="middle" fill="#3184cc" stroke="#3184cc" stroke-width="0.13">Perturbation Rel. Phase = 0 &#960;</text>
<text x="405.3" y="149.3" font-size="5.9" fill="#1a1a1a" stroke="#1a1a1a" stroke-width="0.13">P<tspan font-size="4.2" dy="2.2">s</tspan><tspan dy="-2.2"> = 0.8kW</tspan></text>
<text x="259.5" y="154.2" font-size="7.6" font-weight="bold" fill="#1a1a1a">(d)</text>
</g>
</svg>
</body></html>
